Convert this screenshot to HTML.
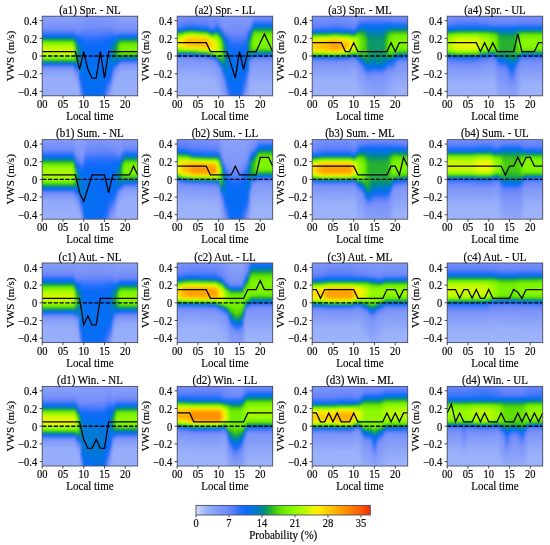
<!DOCTYPE html><html><head><meta charset="utf-8"><style>*{margin:0;padding:0}
body{width:550px;height:545px;background:#fff;position:relative;overflow:hidden;font-family:"Liberation Serif","Times New Roman",serif}
.p{position:absolute;overflow:hidden;width:95.50px;height:79.60px}
.q{position:absolute;top:-3.0px;height:85.60px;filter:blur(0.9px)}
.q i{position:absolute;top:0;height:100%;display:block}
svg{position:absolute;left:0;top:0}
text{font-family:"Liberation Serif","Times New Roman",serif;fill:#000;stroke:#000;stroke-width:0.15px}
</style></head><body><div class="p" style="left:42.20px;top:16.20px"><div class="q" style="left:-3.11px;width:101.73px"><i style="left:0.00px;width:2.38px;background:linear-gradient(#91a8fa,#7891f8 16.7%,#6986f9 20.0%,#597ffa 21.7%,#076cf5 26.7%,#0078d4 28.3%,#008891 30.0%,#29b22c 31.7%,#61e104 33.3%,#7df400 35.0%,#adfa00 38.3%,#cbf900 41.7%,#d3f800 45.0%,#cdf900 46.7%,#a8f900 50.0%,#73f000 53.3%,#43c716 55.0%,#018d80 56.7%,#0077da 58.3%,#176cf9 60.0%,#517cfa 61.7%,#738df9 63.3%,#859df9 66.7%,#97adfa 75.0%,#99affa)"></i><i style="left:2.08px;width:2.38px;background:linear-gradient(#91a8fa,#7891f8 16.7%,#6986f9 20.0%,#597ffa 21.7%,#076cf5 26.7%,#0078d4 28.3%,#008891 30.0%,#29b22c 31.7%,#61e104 33.3%,#7df400 35.0%,#adfa00 38.3%,#cbf900 41.7%,#d3f800 45.0%,#cdf900 46.7%,#a8f900 50.0%,#73f000 53.3%,#43c716 55.0%,#018d80 56.7%,#0077da 58.3%,#176cf9 60.0%,#517cfa 61.7%,#738df9 63.3%,#859df9 66.7%,#97adfa 75.0%,#99affa)"></i><i style="left:4.15px;width:2.38px;background:linear-gradient(#91a8fa,#7891f8 16.7%,#6986f9 20.0%,#597ffa 21.7%,#076cf5 26.7%,#0078d4 28.3%,#008891 30.0%,#29b22c 31.7%,#61e104 33.3%,#7df400 35.0%,#adfa00 38.3%,#cbf900 41.7%,#d3f800 45.0%,#cdf900 46.7%,#a8f900 50.0%,#73f000 53.3%,#43c716 55.0%,#018d80 56.7%,#0077da 58.3%,#176cf9 60.0%,#517cfa 61.7%,#738df9 63.3%,#859df9 66.7%,#97adfa 75.0%,#99affa)"></i><i style="left:6.23px;width:2.38px;background:linear-gradient(#91a8fa,#7891f8 16.7%,#6986f9 20.0%,#597ffa 21.7%,#076cf5 26.7%,#0078d4 28.3%,#008891 30.0%,#29b22c 31.7%,#61e104 33.3%,#7df400 35.0%,#adfa00 38.3%,#cbf900 41.7%,#d3f800 45.0%,#cdf900 46.7%,#a8f900 50.0%,#73f000 53.3%,#43c716 55.0%,#018d80 56.7%,#0077da 58.3%,#176cf9 60.0%,#517cfa 61.7%,#738df9 63.3%,#859df9 66.7%,#97adfa 75.0%,#99affa)"></i><i style="left:8.30px;width:2.38px;background:linear-gradient(#91a8fa,#7891f8 16.7%,#6986f9 20.0%,#597ffa 21.7%,#076cf5 26.7%,#0078d4 28.3%,#008891 30.0%,#29b22c 31.7%,#61e104 33.3%,#7df400 35.0%,#adfa00 38.3%,#cbf900 41.7%,#d3f800 45.0%,#cdf900 46.7%,#a8f900 50.0%,#73f000 53.3%,#43c716 55.0%,#018d80 56.7%,#0077da 58.3%,#176cf9 60.0%,#517cfa 61.7%,#738df9 63.3%,#859df9 66.7%,#97adfa 75.0%,#99affa)"></i><i style="left:10.38px;width:2.38px;background:linear-gradient(#91a8fa,#7891f8 16.7%,#6986f9 20.0%,#597ffa 21.7%,#076cf5 26.7%,#0078d4 28.3%,#008891 30.0%,#29b22c 31.7%,#61e104 33.3%,#7df400 35.0%,#adfa00 38.3%,#cbf900 41.7%,#d3f800 45.0%,#cdf900 46.7%,#a8f900 50.0%,#73f000 53.3%,#43c716 55.0%,#018d80 56.7%,#0077da 58.3%,#176cf9 60.0%,#517cfa 61.7%,#738df9 63.3%,#859df9 66.7%,#97adfa 75.0%,#99affa)"></i><i style="left:12.46px;width:2.38px;background:linear-gradient(#91a8fa,#7891f8 16.7%,#6986f9 20.0%,#597ffa 21.7%,#076cf5 26.7%,#0078d4 28.3%,#008891 30.0%,#29b22c 31.7%,#61e104 33.3%,#7df400 35.0%,#adfa00 38.3%,#cbf900 41.7%,#d3f800 45.0%,#cdf900 46.7%,#a8f900 50.0%,#73f000 53.3%,#43c716 55.0%,#018d80 56.7%,#0077da 58.3%,#176cf9 60.0%,#517cfa 61.7%,#738df9 63.3%,#859df9 66.7%,#97adfa 75.0%,#99affa)"></i><i style="left:14.53px;width:2.38px;background:linear-gradient(#91a8fa,#7891f8 16.7%,#6986f9 20.0%,#597ffa 21.7%,#076cf5 26.7%,#0078d4 28.3%,#008891 30.0%,#29b22c 31.7%,#61e104 33.3%,#7df400 35.0%,#adfa00 38.3%,#cbf900 41.7%,#d3f800 45.0%,#cdf900 46.7%,#a8f900 50.0%,#73f000 53.3%,#43c716 55.0%,#018d80 56.7%,#0077da 58.3%,#176cf9 60.0%,#517cfa 61.7%,#738df9 63.3%,#859df9 66.7%,#97adfa 75.0%,#99affa)"></i><i style="left:16.61px;width:2.38px;background:linear-gradient(#91a8fa,#7891f8 16.7%,#6986f9 20.0%,#597ffa 21.7%,#076cf5 26.7%,#0078d4 28.3%,#008891 30.0%,#29b22c 31.7%,#61e104 33.3%,#7df400 35.0%,#adfa00 38.3%,#cbf900 41.7%,#d3f800 45.0%,#cdf900 46.7%,#a8f900 50.0%,#73f000 53.3%,#43c716 55.0%,#018d80 56.7%,#0077da 58.3%,#176cf9 60.0%,#517cfa 61.7%,#738df9 63.3%,#859df9 66.7%,#97adfa 75.0%,#99affa)"></i><i style="left:18.68px;width:2.38px;background:linear-gradient(#91a8fa,#7891f8 16.7%,#6986f9 20.0%,#597ffa 21.7%,#076cf5 26.7%,#0078d4 28.3%,#008891 30.0%,#29b22c 31.7%,#61e104 33.3%,#7df400 35.0%,#adfa00 38.3%,#cbf900 41.7%,#d3f800 45.0%,#cdf900 46.7%,#a8f900 50.0%,#73f000 53.3%,#43c716 55.0%,#018d80 56.7%,#0077da 58.3%,#176cf9 60.0%,#517cfa 61.7%,#738df9 63.3%,#859df9 66.7%,#97adfa 75.0%,#99affa)"></i><i style="left:20.76px;width:2.38px;background:linear-gradient(#91a8fa,#7891f8 16.7%,#6986f9 20.0%,#597ffa 21.7%,#076cf5 26.7%,#0078d4 28.3%,#008891 30.0%,#29b22c 31.7%,#61e104 33.3%,#7df400 35.0%,#adfa00 38.3%,#cbf900 41.7%,#d3f800 45.0%,#cdf900 46.7%,#a8f900 50.0%,#73f000 53.3%,#43c716 55.0%,#018d80 56.7%,#0077da 58.3%,#176cf9 60.0%,#517cfa 61.7%,#738df9 63.3%,#859df9 66.7%,#97adfa 75.0%,#99affa)"></i><i style="left:22.84px;width:2.38px;background:linear-gradient(#91a8fa,#7891f8 16.7%,#6986f9 20.0%,#597ffa 21.7%,#076cf5 26.7%,#0078d4 28.3%,#008891 30.0%,#29b22c 31.7%,#61e104 33.3%,#7df400 35.0%,#adfa00 38.3%,#cbf900 41.7%,#d3f800 45.0%,#cdf900 46.7%,#a8f900 50.0%,#73f000 53.3%,#43c716 55.0%,#018d80 56.7%,#0077da 58.3%,#176cf9 60.0%,#517cfa 61.7%,#738df9 63.3%,#859df9 66.7%,#97adfa 75.0%,#99affa)"></i><i style="left:24.91px;width:2.38px;background:linear-gradient(#91a8fa,#7891f8 16.7%,#6986f9 20.0%,#597ffa 21.7%,#076cf5 26.7%,#0078d4 28.3%,#008891 30.0%,#29b22c 31.7%,#61e104 33.3%,#7df400 35.0%,#adfa00 38.3%,#cbf900 41.7%,#d3f800 45.0%,#cdf900 46.7%,#a8f900 50.0%,#73f000 53.3%,#43c716 55.0%,#018d80 56.7%,#0077da 58.3%,#176cf9 60.0%,#517cfa 61.7%,#738df9 63.3%,#859df9 66.7%,#97adfa 75.0%,#99affa)"></i><i style="left:26.99px;width:2.38px;background:linear-gradient(#91a8fa,#7891f8 16.7%,#6986f9 20.0%,#597ffa 21.7%,#076cf5 26.7%,#0078d4 28.3%,#008891 30.0%,#29b22c 31.7%,#61e104 33.3%,#7df400 35.0%,#adfa00 38.3%,#cbf900 41.7%,#d3f800 45.0%,#cdf900 46.7%,#a8f900 50.0%,#73f000 53.3%,#43c716 55.0%,#018d80 56.7%,#0077da 58.3%,#176cf9 60.0%,#517cfa 61.7%,#738df9 63.3%,#859df9 66.7%,#97adfa 75.0%,#99affa)"></i><i style="left:29.07px;width:2.38px;background:linear-gradient(#91a8fa,#7891f8 16.7%,#6986f9 20.0%,#597ffa 21.7%,#076cf5 26.7%,#0078d4 28.3%,#008891 30.0%,#29b22c 31.7%,#61e104 33.3%,#7df400 35.0%,#adfa00 38.3%,#cbf900 41.7%,#d3f800 45.0%,#cdf900 46.7%,#a8f900 50.0%,#73f000 53.3%,#43c716 55.0%,#018d80 56.7%,#0077da 58.3%,#176cf9 60.0%,#517cfa 61.7%,#738df9 63.3%,#859df9 66.7%,#97adfa 75.0%,#99affa)"></i><i style="left:31.14px;width:2.38px;background:linear-gradient(#91a8fa,#7891f8 16.7%,#6986f9 20.0%,#597ffa 21.7%,#076cf5 26.7%,#0078d4 28.3%,#008891 30.0%,#29b22c 31.7%,#61e104 33.3%,#7df400 35.0%,#adfa00 38.3%,#cbf900 41.7%,#d3f800 45.0%,#cdf900 46.7%,#a8f900 50.0%,#73f000 53.3%,#43c716 55.0%,#018d80 56.7%,#0077da 58.3%,#176cf9 60.0%,#517cfa 61.7%,#738df9 63.3%,#859df9 66.7%,#97adfa 75.0%,#99affa)"></i><i style="left:33.22px;width:2.38px;background:linear-gradient(#91a8fa,#7891f8 16.7%,#6986f9 20.0%,#597ffa 21.7%,#076cf5 26.7%,#0078d4 28.3%,#008891 30.0%,#29b22c 31.7%,#61e104 33.3%,#7df400 35.0%,#adfa00 38.3%,#cbf900 41.7%,#d3f800 45.0%,#cdf900 46.7%,#a8f900 50.0%,#73f000 53.3%,#43c716 55.0%,#018d80 56.7%,#0077da 58.3%,#176cf9 60.0%,#517cfa 61.7%,#738df9 63.3%,#859df9 66.7%,#97adfa 75.0%,#99affa)"></i><i style="left:35.29px;width:2.38px;background:linear-gradient(#8ca4fa,#7790f8 16.7%,#6081fa 21.7%,#126bf8 26.7%,#0370f1 28.3%,#007ace 30.0%,#00859d 31.7%,#109b61 33.3%,#30b926 35.0%,#51d30a 36.7%,#70ef00 40.0%,#7af300 46.7%,#6ded00 51.7%,#5bdc06 53.3%,#3ec31a 55.0%,#19a44c 56.7%,#008892 58.3%,#007acc 60.0%,#056ef3 61.7%,#216ff9 63.3%,#4c7bfa 65.0%,#6c88f9 66.7%,#8098f9 70.0%,#96acfa 80.0%,#99affa)"></i><i style="left:37.37px;width:2.38px;background:linear-gradient(#8aa2fa,#7891f8 18.3%,#6583fa 23.3%,#0d6af8 30.0%,#046ff2 31.7%,#0075e4 33.3%,#00869c 38.3%,#089471 43.3%,#0d9966 48.3%,#069275 51.7%,#008796 55.0%,#0075e2 60.0%,#046ff2 61.7%,#106bf8 63.3%,#6582fa 68.3%,#7f97f9 73.3%,#96adfa 86.7%,#99affa)"></i><i style="left:39.45px;width:2.38px;background:linear-gradient(#859ef9,#7891f8 16.7%,#6784fa 21.7%,#4679fa 25.0%,#126bf8 30.0%,#0370f1 33.3%,#0074eb 35.0%,#007bc5 40.0%,#0081ae 46.7%,#0081ad 56.7%,#007cc2 63.3%,#0073ee 70.0%,#116bf8 75.0%,#4478fa 80.0%,#6885fa 83.3%,#7c95f8 88.3%,#90a7fa)"></i><i style="left:41.52px;width:2.38px;background:linear-gradient(#879ffa,#7a92f8 16.7%,#5e80fa 23.3%,#226ff9 30.0%,#086bf6 35.0%,#0075e5 50.0%,#0074e8 66.7%,#096af7 81.7%,#2770f9 88.3%,#6885fa 96.7%,#758ff8)"></i><i style="left:43.60px;width:2.38px;background:linear-gradient(#869efa,#7690f8 16.7%,#6683fa 21.7%,#2670f9 30.0%,#096af7 36.7%,#0073ec 63.3%,#0b69f8 93.3%,#216ff9)"></i><i style="left:45.67px;width:2.38px;background:linear-gradient(#859df9,#738df9 16.7%,#6482fa 21.7%,#2a71fa 30.0%,#096af7 38.3%,#0271f0 73.3%,#096af7)"></i><i style="left:47.75px;width:2.38px;background:linear-gradient(#859df9,#738df9 16.7%,#6482fa 21.7%,#2a71fa 30.0%,#096af7 38.3%,#0271f0 73.3%,#096af7)"></i><i style="left:49.83px;width:2.38px;background:linear-gradient(#859df9,#738df9 16.7%,#6482fa 21.7%,#2a71fa 30.0%,#096af7 38.3%,#0271f0 73.3%,#096af7)"></i><i style="left:51.90px;width:2.38px;background:linear-gradient(#859df9,#738df9 16.7%,#6482fa 21.7%,#2a71fa 30.0%,#096af7 38.3%,#0271f0 73.3%,#096af7)"></i><i style="left:53.98px;width:2.38px;background:linear-gradient(#859df9,#738df9 16.7%,#6482fa 21.7%,#2a71fa 30.0%,#096af7 38.3%,#0271f0 73.3%,#096af7)"></i><i style="left:56.05px;width:2.38px;background:linear-gradient(#859df9,#738df9 16.7%,#6482fa 21.7%,#2a71fa 30.0%,#096af7 38.3%,#0271f0 73.3%,#096af7)"></i><i style="left:58.13px;width:2.38px;background:linear-gradient(#859df9,#738df9 16.7%,#6482fa 21.7%,#2a71fa 30.0%,#096af7 38.3%,#0271f0 73.3%,#096af7)"></i><i style="left:60.21px;width:2.38px;background:linear-gradient(#859df9,#738df9 16.7%,#6482fa 21.7%,#2a71fa 30.0%,#096af7 38.3%,#0271f0 73.3%,#096af7)"></i><i style="left:62.28px;width:2.38px;background:linear-gradient(#859ef9,#738df9 16.7%,#6382fa 21.7%,#2870f9 30.0%,#096af7 38.3%,#0271f0 73.3%,#0b69f8 98.3%,#0f6af8)"></i><i style="left:64.36px;width:2.38px;background:linear-gradient(#869efa,#7891f8 15.0%,#5f81fa 21.7%,#2b71fa 28.3%,#0c69f8 35.0%,#0271f0 56.7%,#0c69f8 88.3%,#3774fa)"></i><i style="left:66.43px;width:2.38px;background:linear-gradient(#869ffa,#7891f8 15.0%,#6784fa 20.0%,#2570f9 28.3%,#096af7 35.0%,#0271f0 63.3%,#0d6af8 78.3%,#3474fa 86.7%,#6784fa 93.3%,#7c95f8)"></i><i style="left:68.51px;width:2.38px;background:linear-gradient(#879ffa,#7891f8 15.0%,#6684fa 20.0%,#236ff9 28.3%,#0a69f8 33.3%,#0271f0 58.3%,#0a69f8 73.3%,#3775fa 81.7%,#6583fa 86.7%,#8099f9 95.0%,#88a0fa)"></i><i style="left:70.59px;width:2.38px;background:linear-gradient(#859ef9,#7891f8 15.0%,#6684fa 20.0%,#196df9 28.3%,#086bf6 31.7%,#0074e8 38.3%,#0078d7 46.7%,#0077da 58.3%,#0271f0 66.7%,#0a69f8 71.7%,#3072fa 76.7%,#6684fa 81.7%,#7f98f9 88.3%,#92a9fa)"></i><i style="left:72.66px;width:2.38px;background:linear-gradient(#879ffa,#7790f8 16.7%,#6482fa 21.7%,#116bf8 28.3%,#0172ef 31.7%,#0081ac 38.3%,#008796 43.3%,#008893 50.0%,#0082aa 55.0%,#0271f0 61.7%,#086bf6 63.3%,#2e72fa 66.7%,#6582fa 70.0%,#7e97f9 75.0%,#96acfa 88.3%,#99affa)"></i><i style="left:74.74px;width:2.38px;background:linear-gradient(#8ba3fa,#7891f8 18.3%,#6081fa 23.3%,#196df9 28.3%,#076cf5 30.0%,#0073ee 31.7%,#00859f 36.7%,#089470 41.7%,#0d9867 46.7%,#09956e 48.3%,#008891 51.7%,#007bc5 55.0%,#0075e5 56.7%,#066df4 58.3%,#196df9 60.0%,#5b7ffa 63.3%,#7992f8 66.7%,#95abfa 78.3%,#99affa)"></i><i style="left:76.82px;width:2.38px;background:linear-gradient(#8da5fa,#7790f8 18.3%,#6986fa 21.7%,#5a7ffa 23.3%,#0a69f8 28.3%,#0271f0 30.0%,#008a8b 35.0%,#19a44d 38.3%,#28b22d 41.7%,#29b32c 46.7%,#21ac3b 48.3%,#15a055 50.0%,#049079 51.7%,#0073ed 56.7%,#0a69f8 58.3%,#507cfa 61.7%,#6b88f9 63.3%,#7f98f9 66.7%,#97adfa 78.3%,#99affa)"></i><i style="left:78.89px;width:2.38px;background:linear-gradient(#91a8fa,#7891f8 18.3%,#6885fa 21.7%,#547dfa 23.3%,#156cf9 26.7%,#0271f0 28.3%,#007cc5 30.0%,#00898e 31.7%,#1aa54b 33.3%,#3ac01d 35.0%,#53d509 36.7%,#68e802 40.0%,#6beb01 43.3%,#5bdd06 46.7%,#48cc11 48.3%,#27b130 50.0%,#069176 51.7%,#0073ee 55.0%,#146cf9 56.7%,#6986f9 60.0%,#7992f8 61.7%,#95acfa 71.7%,#99affa)"></i><i style="left:80.97px;width:2.38px;background:linear-gradient(#94aafa,#7992f8 18.3%,#6986f9 21.7%,#557efa 23.3%,#106bf8 26.7%,#0074eb 28.3%,#0081ad 30.0%,#0f9a62 31.7%,#3ac01d 33.3%,#5dde06 35.0%,#6fef00 36.7%,#7af300 41.7%,#73f000 45.0%,#66e703 46.7%,#4cce0e 48.3%,#1faa3f 50.0%,#008894 51.7%,#0077d9 53.3%,#0b69f8 55.0%,#6986f9 58.3%,#7a93f8 60.0%,#94abfa 68.3%,#99affa)"></i><i style="left:83.04px;width:2.38px;background:linear-gradient(#94aafa,#7992f8 18.3%,#6986f9 21.7%,#557efa 23.3%,#106bf8 26.7%,#0074eb 28.3%,#0081ad 30.0%,#0f9a62 31.7%,#3ac01d 33.3%,#5dde06 35.0%,#6fef00 36.7%,#7af300 41.7%,#73f000 45.0%,#66e703 46.7%,#4cce0e 48.3%,#1faa3f 50.0%,#008894 51.7%,#0077d9 53.3%,#0b69f8 55.0%,#6986f9 58.3%,#7a93f8 60.0%,#94abfa 68.3%,#99affa)"></i><i style="left:85.12px;width:2.38px;background:linear-gradient(#94aafa,#7992f8 18.3%,#6986f9 21.7%,#557efa 23.3%,#106bf8 26.7%,#0074eb 28.3%,#0081ad 30.0%,#0f9a62 31.7%,#3ac01d 33.3%,#5dde06 35.0%,#6fef00 36.7%,#7af300 41.7%,#73f000 45.0%,#66e703 46.7%,#4cce0e 48.3%,#1faa3f 50.0%,#008894 51.7%,#0077d9 53.3%,#0b69f8 55.0%,#6986f9 58.3%,#7a93f8 60.0%,#94abfa 68.3%,#99affa)"></i><i style="left:87.20px;width:2.38px;background:linear-gradient(#94aafa,#7992f8 18.3%,#6986f9 21.7%,#557efa 23.3%,#106bf8 26.7%,#0074eb 28.3%,#0081ad 30.0%,#0f9a62 31.7%,#3ac01d 33.3%,#5dde06 35.0%,#6fef00 36.7%,#7af300 41.7%,#73f000 45.0%,#66e703 46.7%,#4cce0e 48.3%,#1faa3f 50.0%,#008894 51.7%,#0077d9 53.3%,#0b69f8 55.0%,#6986f9 58.3%,#7a93f8 60.0%,#94abfa 68.3%,#99affa)"></i><i style="left:89.27px;width:2.38px;background:linear-gradient(#94aafa,#7992f8 18.3%,#6986f9 21.7%,#557efa 23.3%,#106bf8 26.7%,#0074eb 28.3%,#0081ad 30.0%,#0f9a62 31.7%,#3ac01d 33.3%,#5dde06 35.0%,#6fef00 36.7%,#7af300 41.7%,#73f000 45.0%,#66e703 46.7%,#4cce0e 48.3%,#1faa3f 50.0%,#008894 51.7%,#0077d9 53.3%,#0b69f8 55.0%,#6986f9 58.3%,#7a93f8 60.0%,#94abfa 68.3%,#99affa)"></i><i style="left:91.35px;width:2.38px;background:linear-gradient(#94aafa,#7992f8 18.3%,#6986f9 21.7%,#557efa 23.3%,#106bf8 26.7%,#0074eb 28.3%,#0081ad 30.0%,#0f9a62 31.7%,#3ac01d 33.3%,#5dde06 35.0%,#6fef00 36.7%,#7af300 41.7%,#73f000 45.0%,#66e703 46.7%,#4cce0e 48.3%,#1faa3f 50.0%,#008894 51.7%,#0077d9 53.3%,#0b69f8 55.0%,#6986f9 58.3%,#7a93f8 60.0%,#94abfa 68.3%,#99affa)"></i><i style="left:93.42px;width:2.38px;background:linear-gradient(#94aafa,#7992f8 18.3%,#6986f9 21.7%,#557efa 23.3%,#106bf8 26.7%,#0074eb 28.3%,#0081ad 30.0%,#0f9a62 31.7%,#3ac01d 33.3%,#5dde06 35.0%,#6fef00 36.7%,#7af300 41.7%,#73f000 45.0%,#66e703 46.7%,#4cce0e 48.3%,#1faa3f 50.0%,#008894 51.7%,#0077d9 53.3%,#0b69f8 55.0%,#6986f9 58.3%,#7a93f8 60.0%,#94abfa 68.3%,#99affa)"></i><i style="left:95.50px;width:2.38px;background:linear-gradient(#94aafa,#7992f8 18.3%,#6986f9 21.7%,#557efa 23.3%,#106bf8 26.7%,#0074eb 28.3%,#0081ad 30.0%,#0f9a62 31.7%,#3ac01d 33.3%,#5dde06 35.0%,#6fef00 36.7%,#7af300 41.7%,#73f000 45.0%,#66e703 46.7%,#4cce0e 48.3%,#1faa3f 50.0%,#008894 51.7%,#0077d9 53.3%,#0b69f8 55.0%,#6986f9 58.3%,#7a93f8 60.0%,#94abfa 68.3%,#99affa)"></i><i style="left:97.58px;width:2.38px;background:linear-gradient(#94aafa,#7992f8 18.3%,#6986f9 21.7%,#557efa 23.3%,#106bf8 26.7%,#0074eb 28.3%,#0081ad 30.0%,#0f9a62 31.7%,#3ac01d 33.3%,#5dde06 35.0%,#6fef00 36.7%,#7af300 41.7%,#73f000 45.0%,#66e703 46.7%,#4cce0e 48.3%,#1faa3f 50.0%,#008894 51.7%,#0077d9 53.3%,#0b69f8 55.0%,#6986f9 58.3%,#7a93f8 60.0%,#94abfa 68.3%,#99affa)"></i><i style="left:99.65px;width:2.38px;background:linear-gradient(#94aafa,#7992f8 18.3%,#6986f9 21.7%,#557efa 23.3%,#106bf8 26.7%,#0074eb 28.3%,#0081ad 30.0%,#0f9a62 31.7%,#3ac01d 33.3%,#5dde06 35.0%,#6fef00 36.7%,#7af300 41.7%,#73f000 45.0%,#66e703 46.7%,#4cce0e 48.3%,#1faa3f 50.0%,#008894 51.7%,#0077d9 53.3%,#0b69f8 55.0%,#6986f9 58.3%,#7a93f8 60.0%,#94abfa 68.3%,#99affa)"></i></div></div>
<div class="p" style="left:177.20px;top:16.20px"><div class="q" style="left:-3.11px;width:101.73px"><i style="left:0.00px;width:2.38px;background:linear-gradient(#8099f9,#6a87f9 13.3%,#6482fa 15.0%,#4d7bfa 16.7%,#076cf5 20.0%,#007cc2 21.7%,#16a153 23.3%,#60e105 25.0%,#84f700 26.7%,#caf900 30.0%,#e0f700 31.7%,#edf600 35.0%,#e4f700 38.3%,#cdf900 40.0%,#7ef500 43.3%,#46ca13 45.0%,#00859f 46.7%,#076cf5 48.3%,#3e77fa 50.0%,#6a87f9 51.7%,#7891f8 53.3%,#99affa 73.3%,#9db3fa)"></i><i style="left:2.08px;width:2.38px;background:linear-gradient(#8099f9,#6a87f9 13.3%,#6482fa 15.0%,#4d7bfa 16.7%,#076cf5 20.0%,#007cc2 21.7%,#16a153 23.3%,#60e105 25.0%,#84f700 26.7%,#caf900 30.0%,#e0f700 31.7%,#edf600 35.0%,#e4f700 38.3%,#cdf900 40.0%,#7ef500 43.3%,#46ca13 45.0%,#00859f 46.7%,#076cf5 48.3%,#3e77fa 50.0%,#6a87f9 51.7%,#7891f8 53.3%,#99affa 73.3%,#9db3fa)"></i><i style="left:4.15px;width:2.38px;background:linear-gradient(#8099f9,#6e89f9 11.7%,#6181fa 15.0%,#497afa 16.7%,#066df4 20.0%,#007eba 21.7%,#1da745 23.3%,#67e702 25.0%,#89f800 26.7%,#d2f800 30.0%,#e8f700 31.7%,#f4f600 35.0%,#eaf600 38.3%,#d3f800 40.0%,#80f500 43.3%,#47cb12 45.0%,#00859f 46.7%,#076cf5 48.3%,#3f77fa 50.0%,#6a87f9 51.7%,#7891f8 53.3%,#99affa 73.3%,#9db3fa)"></i><i style="left:6.23px;width:2.38px;background:linear-gradient(#7f98f9,#6b88f9 11.7%,#6684fa 13.3%,#597ffa 15.0%,#3f77fa 16.7%,#1d6ef9 18.3%,#0271f0 20.0%,#0084a1 21.7%,#32ba24 23.3%,#74f000 25.0%,#c3f900 28.3%,#e7f700 30.0%,#fcf500 31.7%,#fff100 36.7%,#fbf500 38.3%,#e1f700 40.0%,#83f600 43.3%,#4acd0f 45.0%,#00859f 46.7%,#076cf5 48.3%,#3f77fa 50.0%,#6a87f9 51.7%,#7891f8 53.3%,#99affa 73.3%,#9db3fa)"></i><i style="left:8.30px;width:2.38px;background:linear-gradient(#7e97f9,#6885fa 11.7%,#6181fa 13.3%,#4e7bfa 15.0%,#0e6af8 18.3%,#0077db 20.0%,#038f7c 21.7%,#53d509 23.3%,#82f600 25.0%,#e1f700 28.3%,#fff200 30.0%,#ffdf00 33.3%,#ffe000 36.7%,#ffe900 38.3%,#f3f600 40.0%,#86f800 43.3%,#4dd00c 45.0%,#00859f 46.7%,#076cf5 48.3%,#4077fa 50.0%,#6a87f9 51.7%,#7891f8 53.3%,#99affa 73.3%,#9db3fa)"></i><i style="left:10.38px;width:2.38px;background:linear-gradient(#7d96f9,#6582fa 11.7%,#4278fa 15.0%,#066df4 18.3%,#007dbf 20.0%,#1ca647 21.7%,#6cec01 23.3%,#96f900 25.0%,#fff500 28.3%,#ffde00 30.0%,#ffcd00 33.3%,#ffcf00 36.7%,#ffda00 38.3%,#fff200 40.0%,#caf900 41.7%,#8af800 43.3%,#4fd10b 45.0%,#0084a1 46.7%,#086bf6 48.3%,#4278fa 50.0%,#6a87f9 51.7%,#7c95f8 55.0%,#9ab0fa 75.0%,#9db3fa)"></i><i style="left:12.46px;width:2.38px;background:linear-gradient(#7c95f8,#6784fa 10.0%,#4f7cfa 13.3%,#1c6df9 16.7%,#0370f1 18.3%,#0083a8 20.0%,#30b826 21.7%,#77f200 23.3%,#a7f900 25.0%,#e4f700 26.7%,#ffe600 28.3%,#ffd000 30.0%,#ffc200 33.3%,#ffc400 36.7%,#ffcf00 38.3%,#ffea00 40.0%,#d2f800 41.7%,#8df800 43.3%,#4fd20a 45.0%,#0084a3 46.7%,#086bf6 48.3%,#4378fa 50.0%,#6a87f9 51.7%,#7c95f8 55.0%,#9ab0fa 75.0%,#9db3fa)"></i><i style="left:14.53px;width:2.38px;background:linear-gradient(#7c94f8,#6683fa 10.0%,#4d7bfa 13.3%,#186df9 16.7%,#0172ef 18.3%,#00859f 20.0%,#39bf1e 21.7%,#7af300 23.3%,#aefa00 25.0%,#ecf600 26.7%,#ffe000 28.3%,#ffcb00 30.0%,#ffbd00 33.3%,#ffc000 36.7%,#ffcc00 38.3%,#ffe700 40.0%,#d5f800 41.7%,#8df800 43.3%,#4fd20a 45.0%,#0084a4 46.7%,#086bf6 48.3%,#4378fa 50.0%,#6a87f9 51.7%,#7c95f8 55.0%,#9ab0fa 75.0%,#9db3fa)"></i><i style="left:16.61px;width:2.38px;background:linear-gradient(#7c94f8,#6684fa 10.0%,#4d7bfa 13.3%,#196df9 16.7%,#0172ef 18.3%,#0084a1 20.0%,#37be20 21.7%,#7af300 23.3%,#adfa00 25.0%,#ebf600 26.7%,#ffe100 28.3%,#ffcb00 30.0%,#ffbd00 33.3%,#ffc000 36.7%,#ffcb00 38.3%,#ffe600 40.0%,#d7f800 41.7%,#8ff800 43.3%,#52d409 45.0%,#0084a0 46.7%,#086bf6 48.3%,#4178fa 50.0%,#6a86f9 51.7%,#7c95f8 55.0%,#9ab0fa 75.0%,#9db3fa)"></i><i style="left:18.68px;width:2.38px;background:linear-gradient(#7c95f8,#6684fa 10.0%,#4e7bfa 13.3%,#1b6df9 16.7%,#0271f0 18.3%,#0083a7 20.0%,#31b925 21.7%,#78f200 23.3%,#aaf900 25.0%,#e8f700 26.7%,#ffe200 28.3%,#ffcb00 30.0%,#ffbc00 33.3%,#ffbf00 36.7%,#ffc900 38.3%,#ffe200 40.0%,#ddf700 41.7%,#95f900 43.3%,#58da07 45.0%,#008797 46.7%,#066df4 48.3%,#3d76fa 50.0%,#6986fa 51.7%,#7c95f8 55.0%,#9ab0fa 75.0%,#9db3fa)"></i><i style="left:20.76px;width:2.38px;background:linear-gradient(#7c95f8,#6684fa 10.0%,#4f7cfa 13.3%,#1d6ef9 16.7%,#046ff2 18.3%,#0081af 20.0%,#29b32c 21.7%,#74f100 23.3%,#a5f900 25.0%,#e4f700 26.7%,#ffe300 28.3%,#ffcc00 30.0%,#ffbb00 33.3%,#ffbd00 36.7%,#ffc700 38.3%,#ffde00 40.0%,#e6f700 41.7%,#9df900 43.3%,#62e304 45.0%,#008b87 46.7%,#046ff2 48.3%,#3674fa 50.0%,#6784fa 51.7%,#7b94f8 55.0%,#9ab0fa 75.0%,#9db3fa)"></i><i style="left:22.84px;width:2.38px;background:linear-gradient(#7c95f8,#6784fa 10.0%,#507cfa 13.3%,#216ff9 16.7%,#056ef3 18.3%,#007eb9 20.0%,#21ab3c 21.7%,#71ef00 23.3%,#a0f900 25.0%,#def700 26.7%,#ffe500 28.3%,#ffcc00 30.0%,#ffba00 33.3%,#ffbb00 36.7%,#ffc300 38.3%,#ffd800 40.0%,#f0f600 41.7%,#a7f900 43.3%,#6ded00 45.0%,#099470 46.7%,#0172ef 48.3%,#2e72fa 50.0%,#6482fa 51.7%,#7b93f8 55.0%,#9ab0fa 75.0%,#9db3fa)"></i><i style="left:24.91px;width:2.38px;background:linear-gradient(#7c95f8,#6081fa 11.7%,#3e77fa 15.0%,#066df4 18.3%,#007cc2 20.0%,#19a44c 21.7%,#6cec01 23.3%,#9af900 25.0%,#d9f800 26.7%,#ffe800 28.3%,#ffcd00 30.0%,#ffbf00 31.7%,#ffb900 36.7%,#ffc000 38.3%,#ffd300 40.0%,#faf500 41.7%,#b0fa00 43.3%,#74f000 45.0%,#15a055 46.7%,#0075e3 48.3%,#2770f9 50.0%,#5f81fa 51.7%,#718cf9 53.3%,#849df9 60.0%,#9bb1fa 76.7%,#9db3fa)"></i><i style="left:26.99px;width:2.38px;background:linear-gradient(#7c95f8,#6181fa 11.7%,#4077fa 15.0%,#086bf6 18.3%,#007bc9 20.0%,#139e5a 21.7%,#66e603 23.3%,#95f900 25.0%,#d4f800 26.7%,#ffea00 28.3%,#ffce00 30.0%,#ffbf00 31.7%,#ffb600 35.0%,#ffbe00 38.3%,#ffcf00 40.0%,#fff200 41.7%,#b8fa00 43.3%,#79f200 45.0%,#20aa3f 46.7%,#0078d7 48.3%,#206ff9 50.0%,#5a7ffa 51.7%,#708bf9 53.3%,#819af9 58.3%,#9bb0fa 76.7%,#9db3fa)"></i><i style="left:29.07px;width:2.38px;background:linear-gradient(#7c95f8,#6181fa 11.7%,#4177fa 15.0%,#086bf6 18.3%,#007ace 20.0%,#0f9a63 21.7%,#62e304 23.3%,#92f800 25.0%,#d0f800 26.7%,#ffeb00 28.3%,#ffce00 30.0%,#ffbe00 31.7%,#ffb500 35.0%,#ffbc00 38.3%,#ffcd00 40.0%,#ffef00 41.7%,#befa00 43.3%,#7df400 45.0%,#27b12f 46.7%,#007acf 48.3%,#1c6df9 50.0%,#567efa 51.7%,#6f8af9 53.3%,#7d96f9 56.7%,#9bb0fa 76.7%,#9db3fa)"></i><i style="left:31.14px;width:2.38px;background:linear-gradient(#7c95f8,#6181fa 11.7%,#4178fa 15.0%,#096af7 18.3%,#0079cf 20.0%,#0d9966 21.7%,#60e105 23.3%,#91f800 25.0%,#cff800 26.7%,#ffec00 28.3%,#ffce00 30.0%,#ffbe00 31.7%,#ffb500 35.0%,#ffbc00 38.3%,#ffcc00 40.0%,#ffed00 41.7%,#c1f900 43.3%,#7ef400 45.0%,#2ab32b 46.7%,#007acc 48.3%,#1a6df9 50.0%,#547dfa 51.7%,#6f8af9 53.3%,#7d96f9 56.7%,#9bb0fa 76.7%,#9db3fa)"></i><i style="left:33.22px;width:2.38px;background:linear-gradient(#7e96f9,#6683fa 11.7%,#4c7bfa 15.0%,#176cf9 18.3%,#0073ee 20.0%,#00869a 21.7%,#3dc31a 23.3%,#7cf400 25.0%,#b0fa00 26.7%,#edf600 28.3%,#ffe000 30.0%,#ffcc00 31.7%,#ffbf00 35.0%,#ffc300 38.3%,#ffcf00 40.0%,#ffeb00 41.7%,#cdf900 43.3%,#87f800 45.0%,#45c914 46.7%,#0081af 48.3%,#0b69f8 50.0%,#487afa 51.7%,#6c88f9 53.3%,#7d95f9 56.7%,#9ab0fa 76.7%,#9db3fa)"></i><i style="left:35.29px;width:2.38px;background:linear-gradient(#8098f9,#6c88f9 11.7%,#6081fa 15.0%,#4e7bfa 16.7%,#126bf8 20.0%,#0075e4 21.7%,#008a8a 23.3%,#4ace0f 25.0%,#7ff500 26.7%,#e5f700 30.0%,#ffec00 31.7%,#ffdc00 33.3%,#ffd300 36.7%,#ffdb00 40.0%,#ffed00 41.7%,#dbf800 43.3%,#9ef900 45.0%,#6aea01 46.7%,#0a956d 48.3%,#0073ee 50.0%,#2c72fa 51.7%,#6482fa 53.3%,#7b94f8 56.7%,#9ab0fa 76.7%,#9db3fa)"></i><i style="left:37.37px;width:2.38px;background:linear-gradient(#8199f9,#6b87f9 13.3%,#6683fa 15.0%,#597ffa 16.7%,#4278fa 18.3%,#056ef3 21.7%,#007fb4 23.3%,#23ad38 25.0%,#6fef00 26.7%,#97f900 28.3%,#f3f600 31.7%,#ffea00 33.3%,#ffde00 36.7%,#ffe300 40.0%,#fff000 41.7%,#def700 43.3%,#a6f900 45.0%,#74f000 46.7%,#1da844 48.3%,#0078d5 50.0%,#1f6ef9 51.7%,#5a7ffa 53.3%,#718cf9 55.0%,#829af9 60.0%,#9bb0fa 78.3%,#9db3fa)"></i><i style="left:39.45px;width:2.38px;background:linear-gradient(#7c95f8,#6583fa 13.3%,#557efa 15.0%,#206ff9 18.3%,#066df4 20.0%,#007bc7 21.7%,#079373 23.3%,#47cb12 25.0%,#75f100 26.7%,#b3fa00 30.0%,#d1f800 31.7%,#e7f700 33.3%,#f9f500 36.7%,#f9f500 40.0%,#f0f600 41.7%,#dbf800 43.3%,#8af800 46.7%,#61e204 48.3%,#0c9868 50.0%,#0076df 51.7%,#206ff9 53.3%,#597ffa 55.0%,#708bf9 56.7%,#819af9 61.7%,#9bb0fa 81.7%,#9db3fa)"></i><i style="left:41.52px;width:2.38px;background:linear-gradient(#7a92f8,#6582fa 11.7%,#3d76fa 15.0%,#086bf6 18.3%,#0077dc 20.0%,#00859e 21.7%,#1ca647 23.3%,#52d409 25.0%,#74f000 26.7%,#9ef900 30.0%,#c0f900 33.3%,#d1f800 36.7%,#d0f800 41.7%,#c6f900 43.3%,#b2fa00 45.0%,#78f200 48.3%,#46ca13 50.0%,#008a8b 51.7%,#0073ec 53.3%,#246ff9 55.0%,#597ffa 56.7%,#708bf9 58.3%,#7e97f9 61.7%,#9bb0fa 85.0%,#9db3fa)"></i><i style="left:43.60px;width:2.38px;background:linear-gradient(#7d95f9,#6e8af9 11.7%,#5f80fa 15.0%,#2a71fa 18.3%,#0c69f8 20.0%,#0074ea 21.7%,#0080b1 23.3%,#0b976a 25.0%,#38bf1f 26.7%,#61e204 28.3%,#77f200 30.0%,#9bf900 35.0%,#a5f900 40.0%,#9df900 45.0%,#72ef00 50.0%,#4ed10b 51.7%,#15a056 53.3%,#0080b2 55.0%,#0370f1 56.7%,#226ff9 58.3%,#507cfa 60.0%,#6b88f9 61.7%,#7c95f8 65.0%,#9ab0fa 93.3%,#9cb2fa)"></i><i style="left:45.67px;width:2.38px;background:linear-gradient(#8098f9,#738df9 13.3%,#6684fa 16.7%,#527dfa 18.3%,#166cf9 21.7%,#0370f1 23.3%,#007bc7 25.0%,#00898f 26.7%,#1ca746 28.3%,#43c815 30.0%,#5fe005 31.7%,#70ef00 33.3%,#7ff500 38.3%,#7cf400 46.7%,#6fee00 50.0%,#5bdd06 51.7%,#3bc11c 53.3%,#149f58 55.0%,#00859f 56.7%,#0077da 58.3%,#086bf6 60.0%,#507cfa 63.3%,#6a86f9 65.0%,#7b94f8 68.3%,#99affa)"></i><i style="left:47.75px;width:2.38px;background:linear-gradient(#829bf9,#7891f8 15.0%,#6281fa 20.0%,#0d6af8 25.0%,#0271f0 26.7%,#028e7e 31.7%,#17a251 33.3%,#27b22e 35.0%,#40c518 38.3%,#49cd10 45.0%,#3bc11c 51.7%,#25b033 55.0%,#008891 60.0%,#0172ef 65.0%,#086bf6 66.7%,#6684fa 73.3%,#7b94f8 78.3%,#8ea5fa)"></i><i style="left:49.83px;width:2.38px;background:linear-gradient(#869efa,#7992f8 18.3%,#6181fa 23.3%,#186cf9 28.3%,#086bf6 30.0%,#0172ef 31.7%,#007fb5 36.7%,#00859f 40.0%,#008796 46.7%,#0084a0 55.0%,#007cc3 61.7%,#0073ee 66.7%,#086bf6 70.0%,#3173fa 75.0%,#6683fa 80.0%,#7b94f8 86.7%,#87a0fa)"></i><i style="left:51.90px;width:2.38px;background:linear-gradient(#859df9,#7891f8 18.3%,#6683fa 23.3%,#126bf8 31.7%,#0172ef 36.7%,#007bc8 43.3%,#007dbe 51.7%,#007bc7 63.3%,#0370f1 75.0%,#116bf8 80.0%,#4178fa 86.7%,#6784fa 91.7%,#7c95f8)"></i><i style="left:53.98px;width:2.38px;background:linear-gradient(#859df9,#7891f8 18.3%,#6582fa 25.0%,#236ff9 33.3%,#096af7 38.3%,#0075e4 53.3%,#0074e9 70.0%,#0b69f8 85.0%,#3c76fa 95.0%,#5e80fa)"></i><i style="left:56.05px;width:2.38px;background:linear-gradient(#849cf9,#7790f8 18.3%,#6683fa 25.0%,#1b6df9 36.7%,#086bf6 41.7%,#0073ec 65.0%,#0a69f8 88.3%,#3a75fa)"></i><i style="left:58.13px;width:2.38px;background:linear-gradient(#849cf9,#738df8 20.0%,#6181fa 26.7%,#2570f9 36.7%,#086bf6 45.0%,#0370f1 76.7%,#0e6af8 93.3%,#2470f9)"></i><i style="left:60.21px;width:2.38px;background:linear-gradient(#849cf9,#738df8 20.0%,#6181fa 26.7%,#2570f9 36.7%,#086bf6 45.0%,#0370f1 76.7%,#0e6af8 93.3%,#2470f9)"></i><i style="left:62.28px;width:2.38px;background:linear-gradient(#849cf9,#738df8 20.0%,#6181fa 26.7%,#2570f9 36.7%,#086bf6 45.0%,#0370f1 76.7%,#0e6af8 93.3%,#2470f9)"></i><i style="left:64.36px;width:2.38px;background:linear-gradient(#849cf9,#738df8 20.0%,#6181fa 26.7%,#2570f9 36.7%,#086bf6 45.0%,#0370f1 76.7%,#0e6af8 93.3%,#2470f9)"></i><i style="left:66.43px;width:2.38px;background:linear-gradient(#849df9,#748ef8 20.0%,#6081fa 26.7%,#236ff9 36.7%,#0a69f8 43.3%,#0370f1 71.7%,#0c6af8 86.7%,#3b76fa 98.3%,#4478fa)"></i><i style="left:68.51px;width:2.38px;background:linear-gradient(#859ef9,#758ef8 20.0%,#5e80fa 26.7%,#2670f9 35.0%,#0b69f8 41.7%,#066df4 66.7%,#0d6af8 75.0%,#3072fa 83.3%,#6784fa 91.7%,#7b94f8)"></i><i style="left:70.59px;width:2.38px;background:linear-gradient(#869efa,#7992f8 18.3%,#6684fa 25.0%,#236ff9 35.0%,#0a69f8 41.7%,#096af7 66.7%,#1d6ef9 73.3%,#4779fa 80.0%,#6382fa 83.3%,#7b94f8 91.7%,#859df9)"></i><i style="left:72.66px;width:2.38px;background:linear-gradient(#849cf9,#7891f8 15.0%,#6683fa 20.0%,#0a69f8 28.3%,#0073ee 31.7%,#007cc4 36.7%,#0081af 41.7%,#0081ad 51.7%,#007cc3 56.7%,#0172ef 61.7%,#106bf8 65.0%,#6784fa 71.7%,#7c95f8 76.7%,#92a9fa)"></i><i style="left:74.74px;width:2.38px;background:linear-gradient(#839bf9,#7992f8 13.3%,#6081fa 18.3%,#096af7 23.3%,#0073ec 25.0%,#0084a1 28.3%,#008c81 30.0%,#109c5f 31.7%,#1ca647 33.3%,#26b130 36.7%,#27b130 41.7%,#22ac3b 43.3%,#17a252 45.0%,#049079 46.7%,#0078d4 50.0%,#066df4 51.7%,#2770f9 53.3%,#547dfa 55.0%,#6e89f9 56.7%,#7f97f9 60.0%,#9ab0fa 85.0%,#9db3fa)"></i><i style="left:76.82px;width:2.38px;background:linear-gradient(#7e97f9,#728df9 10.0%,#6181fa 13.3%,#0a69f8 18.3%,#0073ec 20.0%,#008890 23.3%,#2cb52a 26.7%,#43c815 28.3%,#53d509 30.0%,#62e304 35.0%,#5fe005 40.0%,#57d908 41.7%,#45c914 43.3%,#25af34 45.0%,#028d7f 46.7%,#007dbf 48.3%,#046ff2 50.0%,#236ff9 51.7%,#537dfa 53.3%,#6e89f9 55.0%,#7e97f9 58.3%,#9ab0fa 83.3%,#9db3fa)"></i><i style="left:78.89px;width:2.38px;background:linear-gradient(#7992f8,#6a87f9 6.7%,#6281fa 8.3%,#106af8 13.3%,#0271f0 15.0%,#007cc5 16.7%,#008990 18.3%,#19a44c 20.0%,#3dc31a 21.7%,#5bdc06 23.3%,#6eee00 25.0%,#7ef500 30.0%,#7cf400 38.3%,#75f100 40.0%,#66e703 41.7%,#44c815 43.3%,#129d5c 45.0%,#0080b3 46.7%,#0370f1 48.3%,#2570f9 50.0%,#557efa 51.7%,#6f8af9 53.3%,#7e97f9 56.7%,#9ab0fa 81.7%,#9db3fa)"></i><i style="left:80.97px;width:2.38px;background:linear-gradient(#7992f8,#6a87f9 6.7%,#6281fa 8.3%,#106af8 13.3%,#0271f0 15.0%,#007cc5 16.7%,#008990 18.3%,#19a44c 20.0%,#3dc31a 21.7%,#5bdc06 23.3%,#6eee00 25.0%,#7ef500 30.0%,#7cf400 38.3%,#75f100 40.0%,#66e703 41.7%,#44c815 43.3%,#129d5c 45.0%,#0080b3 46.7%,#0370f1 48.3%,#2570f9 50.0%,#557efa 51.7%,#6f8af9 53.3%,#7e97f9 56.7%,#9ab0fa 81.7%,#9db3fa)"></i><i style="left:83.04px;width:2.38px;background:linear-gradient(#7992f8,#6a87f9 6.7%,#6281fa 8.3%,#106af8 13.3%,#0271f0 15.0%,#007cc5 16.7%,#008990 18.3%,#19a44c 20.0%,#3dc31a 21.7%,#5bdc06 23.3%,#6eee00 25.0%,#7ef500 30.0%,#7cf400 38.3%,#75f100 40.0%,#66e703 41.7%,#44c815 43.3%,#129d5c 45.0%,#0080b3 46.7%,#0370f1 48.3%,#2570f9 50.0%,#557efa 51.7%,#6f8af9 53.3%,#7e97f9 56.7%,#9ab0fa 81.7%,#9db3fa)"></i><i style="left:85.12px;width:2.38px;background:linear-gradient(#7992f8,#6a87f9 6.7%,#6281fa 8.3%,#106af8 13.3%,#0271f0 15.0%,#007cc5 16.7%,#008990 18.3%,#19a44c 20.0%,#3dc31a 21.7%,#5bdc06 23.3%,#6eee00 25.0%,#7ef500 30.0%,#7cf400 38.3%,#75f100 40.0%,#66e703 41.7%,#44c815 43.3%,#129d5c 45.0%,#0080b3 46.7%,#0370f1 48.3%,#2570f9 50.0%,#557efa 51.7%,#6f8af9 53.3%,#7e97f9 56.7%,#9ab0fa 81.7%,#9db3fa)"></i><i style="left:87.20px;width:2.38px;background:linear-gradient(#7992f8,#6a87f9 6.7%,#6281fa 8.3%,#106af8 13.3%,#0271f0 15.0%,#007cc5 16.7%,#008990 18.3%,#19a44c 20.0%,#3dc31a 21.7%,#5bdc06 23.3%,#6eee00 25.0%,#7ef500 30.0%,#7cf400 38.3%,#75f100 40.0%,#66e703 41.7%,#44c815 43.3%,#129d5c 45.0%,#0080b3 46.7%,#0370f1 48.3%,#2570f9 50.0%,#557efa 51.7%,#6f8af9 53.3%,#7e97f9 56.7%,#9ab0fa 81.7%,#9db3fa)"></i><i style="left:89.27px;width:2.38px;background:linear-gradient(#7992f8,#6a87f9 6.7%,#6281fa 8.3%,#106af8 13.3%,#0271f0 15.0%,#007cc5 16.7%,#008990 18.3%,#19a44c 20.0%,#3dc31a 21.7%,#5bdc06 23.3%,#6eee00 25.0%,#7ef500 30.0%,#7cf400 38.3%,#75f100 40.0%,#66e703 41.7%,#44c815 43.3%,#129d5c 45.0%,#0080b3 46.7%,#0370f1 48.3%,#2570f9 50.0%,#557efa 51.7%,#6f8af9 53.3%,#7e97f9 56.7%,#9ab0fa 81.7%,#9db3fa)"></i><i style="left:91.35px;width:2.38px;background:linear-gradient(#7992f8,#6a87f9 6.7%,#6281fa 8.3%,#106af8 13.3%,#0271f0 15.0%,#007cc5 16.7%,#008990 18.3%,#19a44c 20.0%,#3dc31a 21.7%,#5bdc06 23.3%,#6eee00 25.0%,#7ef500 30.0%,#7cf400 38.3%,#75f100 40.0%,#66e703 41.7%,#44c815 43.3%,#129d5c 45.0%,#0080b3 46.7%,#0370f1 48.3%,#2570f9 50.0%,#557efa 51.7%,#6f8af9 53.3%,#7e97f9 56.7%,#9ab0fa 81.7%,#9db3fa)"></i><i style="left:93.42px;width:2.38px;background:linear-gradient(#7992f8,#6a87f9 6.7%,#6281fa 8.3%,#106af8 13.3%,#0271f0 15.0%,#007cc5 16.7%,#008990 18.3%,#19a44c 20.0%,#3dc31a 21.7%,#5bdc06 23.3%,#6eee00 25.0%,#7ef500 30.0%,#7cf400 38.3%,#75f100 40.0%,#66e703 41.7%,#44c815 43.3%,#129d5c 45.0%,#0080b3 46.7%,#0370f1 48.3%,#2570f9 50.0%,#557efa 51.7%,#6f8af9 53.3%,#7e97f9 56.7%,#9ab0fa 81.7%,#9db3fa)"></i><i style="left:95.50px;width:2.38px;background:linear-gradient(#7992f8,#6a87f9 6.7%,#6281fa 8.3%,#106af8 13.3%,#0271f0 15.0%,#007cc5 16.7%,#008990 18.3%,#19a44c 20.0%,#3dc31a 21.7%,#5bdc06 23.3%,#6eee00 25.0%,#7ef500 30.0%,#7cf400 38.3%,#75f100 40.0%,#66e703 41.7%,#44c815 43.3%,#129d5c 45.0%,#0080b3 46.7%,#0370f1 48.3%,#2570f9 50.0%,#557efa 51.7%,#6f8af9 53.3%,#7e97f9 56.7%,#9ab0fa 81.7%,#9db3fa)"></i><i style="left:97.58px;width:2.38px;background:linear-gradient(#7992f8,#6a87f9 6.7%,#6281fa 8.3%,#106af8 13.3%,#0271f0 15.0%,#007cc5 16.7%,#008990 18.3%,#19a44c 20.0%,#3dc31a 21.7%,#5bdc06 23.3%,#6eee00 25.0%,#7ef500 30.0%,#7cf400 38.3%,#75f100 40.0%,#66e703 41.7%,#44c815 43.3%,#129d5c 45.0%,#0080b3 46.7%,#0370f1 48.3%,#2570f9 50.0%,#557efa 51.7%,#6f8af9 53.3%,#7e97f9 56.7%,#9ab0fa 81.7%,#9db3fa)"></i><i style="left:99.65px;width:2.38px;background:linear-gradient(#7992f8,#6a87f9 6.7%,#6281fa 8.3%,#106af8 13.3%,#0271f0 15.0%,#007cc5 16.7%,#008990 18.3%,#19a44c 20.0%,#3dc31a 21.7%,#5bdc06 23.3%,#6eee00 25.0%,#7ef500 30.0%,#7cf400 38.3%,#75f100 40.0%,#66e703 41.7%,#44c815 43.3%,#129d5c 45.0%,#0080b3 46.7%,#0370f1 48.3%,#2570f9 50.0%,#557efa 51.7%,#6f8af9 53.3%,#7e97f9 56.7%,#9ab0fa 81.7%,#9db3fa)"></i></div></div>
<div class="p" style="left:312.20px;top:16.20px"><div class="q" style="left:-3.11px;width:101.73px"><i style="left:0.00px;width:2.38px;background:linear-gradient(#8199f9,#6986f9 13.3%,#6582fa 15.0%,#4278fa 18.3%,#076cf5 21.7%,#007dc0 23.3%,#1ba54a 25.0%,#6beb01 26.7%,#95f900 28.3%,#fff500 31.7%,#ffde00 33.3%,#ffd200 35.0%,#ffcf00 40.0%,#ffda00 41.7%,#fff100 43.3%,#cbf900 45.0%,#8bf800 46.7%,#51d30a 48.3%,#00859f 50.0%,#076cf5 51.7%,#4177fa 53.3%,#6a87f9 55.0%,#7c95f8 58.3%,#9ab0fa 78.3%,#9db3fa)"></i><i style="left:2.08px;width:2.38px;background:linear-gradient(#8199f9,#6986f9 13.3%,#6582fa 15.0%,#4278fa 18.3%,#076cf5 21.7%,#007dc0 23.3%,#1ba54a 25.0%,#6beb01 26.7%,#95f900 28.3%,#fff500 31.7%,#ffde00 33.3%,#ffd200 35.0%,#ffcf00 40.0%,#ffda00 41.7%,#fff100 43.3%,#cbf900 45.0%,#8bf800 46.7%,#51d30a 48.3%,#00859f 50.0%,#076cf5 51.7%,#4177fa 53.3%,#6a87f9 55.0%,#7c95f8 58.3%,#9ab0fa 78.3%,#9db3fa)"></i><i style="left:4.15px;width:2.38px;background:linear-gradient(#8199f9,#6986f9 13.3%,#6482fa 15.0%,#4278fa 18.3%,#066df4 21.7%,#007dbf 23.3%,#1ba648 25.0%,#6cec01 26.7%,#96f900 28.3%,#fff400 31.7%,#ffdd00 33.3%,#ffd100 35.0%,#ffce00 40.0%,#ffd800 41.7%,#fff000 43.3%,#cdf900 45.0%,#8cf800 46.7%,#51d30a 48.3%,#00859e 50.0%,#076cf5 51.7%,#4077fa 53.3%,#6a86f9 55.0%,#7c95f8 58.3%,#9ab0fa 78.3%,#9db3fa)"></i><i style="left:6.23px;width:2.38px;background:linear-gradient(#8099f9,#6d89f9 11.7%,#6482fa 15.0%,#4077fa 18.3%,#066df4 21.7%,#007dbc 23.3%,#1ea842 25.0%,#6eee00 26.7%,#99f900 28.3%,#d2f800 30.0%,#fff100 31.7%,#ffda00 33.3%,#ffce00 35.0%,#ffcb00 40.0%,#ffd500 41.7%,#ffed00 43.3%,#d1f800 45.0%,#8ff800 46.7%,#54d609 48.3%,#00869b 50.0%,#076cf5 51.7%,#3f77fa 53.3%,#6986f9 55.0%,#7c95f8 58.3%,#9ab0fa 78.3%,#9db3fa)"></i><i style="left:8.30px;width:2.38px;background:linear-gradient(#8099f9,#6c88f9 11.7%,#6281fa 15.0%,#3e77fa 18.3%,#056ef3 21.7%,#007fb8 23.3%,#21ac3b 25.0%,#70ef00 26.7%,#9df900 28.3%,#d7f800 30.0%,#ffed00 31.7%,#ffd600 33.3%,#ffc600 36.7%,#ffc700 40.0%,#ffd100 41.7%,#ffe900 43.3%,#d6f800 45.0%,#92f800 46.7%,#57d908 48.3%,#008796 50.0%,#066df4 51.7%,#3c76fa 53.3%,#6986fa 55.0%,#7c95f8 58.3%,#9ab0fa 78.3%,#9db3fa)"></i><i style="left:10.38px;width:2.38px;background:linear-gradient(#8099f9,#6c88f9 11.7%,#6081fa 15.0%,#3c76fa 18.3%,#046ff2 21.7%,#0080b4 23.3%,#25af34 25.0%,#72f000 26.7%,#a0f900 28.3%,#dcf700 30.0%,#ffe900 31.7%,#ffd200 33.3%,#ffc200 36.7%,#ffc300 40.0%,#ffcd00 41.7%,#ffe500 43.3%,#dcf800 45.0%,#96f900 46.7%,#5bdc06 48.3%,#008892 50.0%,#056ef3 51.7%,#6885fa 55.0%,#7c94f8 58.3%,#9ab0fa 78.3%,#9db3fa)"></i><i style="left:12.46px;width:2.38px;background:linear-gradient(#8098f9,#6b87f9 11.7%,#5f81fa 15.0%,#3b76fa 18.3%,#1e6ef9 20.0%,#046ff2 21.7%,#0080b1 23.3%,#27b12e 25.0%,#74f000 26.7%,#a3f900 28.3%,#e0f700 30.0%,#ffe600 31.7%,#ffcf00 33.3%,#ffbf00 36.7%,#ffc000 40.0%,#ffca00 41.7%,#ffe200 43.3%,#dff700 45.0%,#98f900 46.7%,#5dde06 48.3%,#00898e 50.0%,#056ef3 51.7%,#3975fa 53.3%,#6885fa 55.0%,#7c94f8 58.3%,#9ab0fa 78.3%,#9db3fa)"></i><i style="left:14.53px;width:2.38px;background:linear-gradient(#8098f9,#6b87f9 11.7%,#5f80fa 15.0%,#3a75fa 18.3%,#1e6ef9 20.0%,#046ff2 21.7%,#0081b0 23.3%,#28b22d 25.0%,#74f000 26.7%,#a4f900 28.3%,#e2f700 30.0%,#ffe500 31.7%,#ffce00 33.3%,#ffbe00 36.7%,#ffbf00 40.0%,#ffc900 41.7%,#ffe100 43.3%,#e1f700 45.0%,#99f900 46.7%,#5edf05 48.3%,#00898d 50.0%,#056ef3 51.7%,#3875fa 53.3%,#6885fa 55.0%,#7b94f8 58.3%,#9ab0fa 78.3%,#9db3fa)"></i><i style="left:16.61px;width:2.38px;background:linear-gradient(#8098f9,#6b87f9 11.7%,#5e80fa 15.0%,#3975fa 18.3%,#1c6ef9 20.0%,#0370f1 21.7%,#0081ac 23.3%,#2cb52a 25.0%,#76f100 26.7%,#a7f900 28.3%,#e6f700 30.0%,#ffe200 31.7%,#ffcb00 33.3%,#ffbb00 36.7%,#ffbc00 40.0%,#ffc600 41.7%,#ffde00 43.3%,#e5f700 45.0%,#9cf900 46.7%,#61e104 48.3%,#008a8a 50.0%,#046ff2 51.7%,#3774fa 53.3%,#6784fa 55.0%,#7b94f8 58.3%,#9ab0fa 78.3%,#9db3fa)"></i><i style="left:18.68px;width:2.38px;background:linear-gradient(#7f98f9,#6a86f9 11.7%,#5a7ffa 15.0%,#3474fa 18.3%,#196df9 20.0%,#0271f0 21.7%,#0083a4 23.3%,#34bc22 25.0%,#79f300 26.7%,#aefa00 28.3%,#f1f600 30.0%,#ffda00 31.7%,#ffc300 33.3%,#ffb300 36.7%,#ffb400 40.0%,#ffbf00 41.7%,#ffd600 43.3%,#f0f600 45.0%,#a3f900 46.7%,#67e802 48.3%,#018d80 50.0%,#0370f1 51.7%,#3373fa 53.3%,#6683fa 55.0%,#7b94f8 58.3%,#9ab0fa 78.3%,#9db3fa)"></i><i style="left:20.76px;width:2.38px;background:linear-gradient(#7f98f9,#6885fa 11.7%,#567efa 15.0%,#3072fa 18.3%,#146cf9 20.0%,#0073ee 21.7%,#00869a 23.3%,#3fc419 25.0%,#7ef500 26.7%,#b7fa00 28.3%,#fef500 30.0%,#ffd000 31.7%,#ffba00 33.3%,#ffa900 36.7%,#ffab00 40.0%,#ffb500 41.7%,#ffcc00 43.3%,#fdf500 45.0%,#acf900 46.7%,#6fee00 48.3%,#089470 50.0%,#0172ef 51.7%,#2e72fa 53.3%,#6482fa 55.0%,#7a93f8 58.3%,#9ab0fa 78.3%,#9db3fa)"></i><i style="left:22.84px;width:2.38px;background:linear-gradient(#7f97f9,#6784fa 11.7%,#537dfa 15.0%,#2d72fa 18.3%,#106bf8 20.0%,#0074e8 21.7%,#008891 23.3%,#47cb12 25.0%,#82f600 26.7%,#c0f900 28.3%,#ffee00 30.0%,#ffc900 31.7%,#ffb200 33.3%,#ffa100 36.7%,#ffa200 40.0%,#ffad00 41.7%,#ffc500 43.3%,#ffef00 45.0%,#b3fa00 46.7%,#73f000 48.3%,#0e9a64 50.0%,#0073ed 51.7%,#2b71fa 53.3%,#6281fa 55.0%,#7a93f8 58.3%,#9ab0fa 78.3%,#9db3fa)"></i><i style="left:24.91px;width:2.38px;background:linear-gradient(#7e97f9,#6684fa 11.7%,#517cfa 15.0%,#2b71fa 18.3%,#0f6af8 20.0%,#0075e5 21.7%,#00898e 23.3%,#4bce0f 25.0%,#84f700 26.7%,#c4f900 28.3%,#ffeb00 30.0%,#ffc600 31.7%,#ffaf00 33.3%,#ff9d00 36.7%,#ff9f00 40.0%,#ffaa00 41.7%,#ffc200 43.3%,#ffec00 45.0%,#b6fa00 46.7%,#74f000 48.3%,#119c5f 50.0%,#0074ea 51.7%,#2a71fa 53.3%,#6081fa 55.0%,#718cf9 56.7%,#849df9 63.3%,#9bb1fa 80.0%,#9db3fa)"></i><i style="left:26.99px;width:2.38px;background:linear-gradient(#7f97f9,#6784fa 11.7%,#537dfa 15.0%,#2d72fa 18.3%,#106bf8 20.0%,#0074e8 21.7%,#008891 23.3%,#47cb12 25.0%,#82f600 26.7%,#c0f900 28.3%,#ffee00 30.0%,#ffc900 31.7%,#ffb200 33.3%,#ffa100 36.7%,#ffa200 40.0%,#ffad00 41.7%,#ffc500 43.3%,#ffef00 45.0%,#b3fa00 46.7%,#73f000 48.3%,#0e9a64 50.0%,#0073ed 51.7%,#2b71fa 53.3%,#6281fa 55.0%,#7a93f8 58.3%,#9ab0fa 78.3%,#9db3fa)"></i><i style="left:29.07px;width:2.38px;background:linear-gradient(#7f98f9,#6885fa 11.7%,#567efa 15.0%,#3072fa 18.3%,#146cf9 20.0%,#0073ee 21.7%,#00869a 23.3%,#3fc419 25.0%,#7ef500 26.7%,#b7fa00 28.3%,#fef500 30.0%,#ffd000 31.7%,#ffba00 33.3%,#ffa900 36.7%,#ffab00 40.0%,#ffb500 41.7%,#ffcc00 43.3%,#fdf500 45.0%,#acf900 46.7%,#6fee00 48.3%,#089470 50.0%,#0172ef 51.7%,#2e72fa 53.3%,#6482fa 55.0%,#7a93f8 58.3%,#9ab0fa 78.3%,#9db3fa)"></i><i style="left:31.14px;width:2.38px;background:linear-gradient(#7f98f9,#6a86f9 11.7%,#5a7ffa 15.0%,#3474fa 18.3%,#196df9 20.0%,#0271f0 21.7%,#0083a4 23.3%,#34bc22 25.0%,#79f300 26.7%,#aefa00 28.3%,#f1f600 30.0%,#ffda00 31.7%,#ffc300 33.3%,#ffb300 36.7%,#ffb400 40.0%,#ffbf00 41.7%,#ffd600 43.3%,#f0f600 45.0%,#a3f900 46.7%,#67e802 48.3%,#018d80 50.0%,#0370f1 51.7%,#3373fa 53.3%,#6683fa 55.0%,#7b94f8 58.3%,#9ab0fa 78.3%,#9db3fa)"></i><i style="left:33.22px;width:2.38px;background:linear-gradient(#8098f9,#6b87f9 11.7%,#5e80fa 15.0%,#3975fa 18.3%,#1c6ef9 20.0%,#0370f1 21.7%,#0081ac 23.3%,#2cb52a 25.0%,#76f100 26.7%,#a7f900 28.3%,#e6f700 30.0%,#ffe200 31.7%,#ffcb00 33.3%,#ffbb00 36.7%,#ffbc00 40.0%,#ffc600 41.7%,#ffde00 43.3%,#e5f700 45.0%,#9cf900 46.7%,#61e104 48.3%,#008a8a 50.0%,#046ff2 51.7%,#3774fa 53.3%,#6784fa 55.0%,#7b94f8 58.3%,#9ab0fa 78.3%,#9db3fa)"></i><i style="left:35.29px;width:2.38px;background:linear-gradient(#8098f9,#6b87f9 11.7%,#5f80fa 15.0%,#3a75fa 18.3%,#1e6ef9 20.0%,#046ff2 21.7%,#0081b0 23.3%,#28b22d 25.0%,#74f000 26.7%,#a4f900 28.3%,#e2f700 30.0%,#ffe500 31.7%,#ffce00 33.3%,#ffbe00 36.7%,#ffbf00 40.0%,#ffc900 41.7%,#ffe100 43.3%,#e1f700 45.0%,#99f900 46.7%,#5edf05 48.3%,#00898d 50.0%,#056ef3 51.7%,#3875fa 53.3%,#6885fa 55.0%,#7b94f8 58.3%,#9ab0fa 78.3%,#9db3fa)"></i><i style="left:37.37px;width:2.38px;background:linear-gradient(#8099f9,#6c88f9 11.7%,#6281fa 15.0%,#3e77fa 18.3%,#056ef3 21.7%,#007fb5 23.3%,#24ae36 25.0%,#71ef00 26.7%,#9ef900 28.3%,#d8f800 30.0%,#ffed00 31.7%,#ffd600 33.3%,#ffc700 36.7%,#ffc900 40.0%,#ffd300 41.7%,#ffec00 43.3%,#d1f800 45.0%,#8ef800 46.7%,#52d409 48.3%,#00859e 50.0%,#076cf5 51.7%,#4077fa 53.3%,#6a86f9 55.0%,#7c95f8 58.3%,#9ab0fa 78.3%,#9db3fa)"></i><i style="left:39.45px;width:2.38px;background:linear-gradient(#819af9,#6b87f9 13.3%,#5c80fa 16.7%,#4679fa 18.3%,#076cf5 21.7%,#007cc2 23.3%,#18a34f 25.0%,#66e703 26.7%,#8ff800 28.3%,#edf600 31.7%,#ffed00 33.3%,#ffde00 36.7%,#ffe100 40.0%,#ffed00 41.7%,#e6f700 43.3%,#aefa00 45.0%,#7af300 46.7%,#2cb52a 48.3%,#007cc4 50.0%,#156cf9 51.7%,#527dfa 53.3%,#6f8af9 55.0%,#7e97f9 58.3%,#9bb0fa 78.3%,#9db3fa)"></i><i style="left:41.52px;width:2.38px;background:linear-gradient(#829af9,#6e8af9 13.3%,#6482fa 16.7%,#4f7cfa 18.3%,#0a69f8 21.7%,#0079d0 23.3%,#0b976a 25.0%,#58d907 26.7%,#82f600 28.3%,#cff800 31.7%,#eaf600 33.3%,#f7f600 35.0%,#fcf500 38.3%,#f6f600 40.0%,#e4f700 41.7%,#bffa00 43.3%,#92f800 45.0%,#66e703 46.7%,#0d9867 48.3%,#0075e6 50.0%,#2870f9 51.7%,#6382fa 53.3%,#748ef8 55.0%,#88a0fa 63.3%,#9cb1fa 80.0%,#9db3fa)"></i><i style="left:43.60px;width:2.38px;background:linear-gradient(#829bf9,#708bf9 13.3%,#6683fa 16.7%,#537dfa 18.3%,#0d6af8 21.7%,#0078d6 23.3%,#069176 25.0%,#52d409 26.7%,#7df400 28.3%,#c3f900 31.7%,#dcf700 33.3%,#e9f700 35.0%,#edf600 38.3%,#e7f700 40.0%,#d4f800 41.7%,#b2fa00 43.3%,#86f800 45.0%,#5adb07 46.7%,#008c81 48.3%,#0172ef 50.0%,#2f72fa 51.7%,#6684fa 53.3%,#768ff8 55.0%,#96acfa 71.7%,#9db3fa)"></i><i style="left:45.67px;width:2.38px;background:linear-gradient(#8098f9,#6c88f9 13.3%,#6684fa 15.0%,#557efa 16.7%,#146bf8 20.0%,#0074e9 21.7%,#00869b 23.3%,#2ab42b 25.0%,#68e902 26.7%,#83f700 28.3%,#b7fa00 31.7%,#c7f900 33.3%,#d2f800 36.7%,#cdf900 40.0%,#bffa00 41.7%,#a7f900 43.3%,#86f800 45.0%,#66e603 46.7%,#1ba648 48.3%,#007cc4 50.0%,#0d6af8 51.7%,#4579fa 53.3%,#6b87f9 55.0%,#7891f8 56.7%,#99affa 78.3%,#9db3fa)"></i><i style="left:47.75px;width:2.38px;background:linear-gradient(#7c94f8,#6d89f9 10.0%,#6784fa 11.7%,#557efa 13.3%,#1a6df9 16.7%,#046ff2 18.3%,#007bc8 20.0%,#008a89 21.7%,#26b031 23.3%,#55d708 25.0%,#71ef00 26.7%,#92f800 31.7%,#9bf900 36.7%,#91f800 41.7%,#79f300 45.0%,#64e503 46.7%,#36bd21 48.3%,#018d7f 50.0%,#007acc 51.7%,#086bf6 53.3%,#5c80fa 56.7%,#6f8af9 58.3%,#7d95f9 61.7%,#9ab0fa 88.3%,#9db2fa)"></i><i style="left:49.83px;width:2.38px;background:linear-gradient(#7b93f8,#6f8bf9 6.7%,#5d80fa 10.0%,#0e6af8 15.0%,#0271f0 16.7%,#007aca 18.3%,#00869c 20.0%,#0d9867 21.7%,#28b22d 23.3%,#46ca13 25.0%,#66e703 28.3%,#72f000 31.7%,#71ef00 41.7%,#6beb01 43.3%,#4acd10 46.7%,#28b22d 48.3%,#09946f 50.0%,#0082a9 51.7%,#0076de 53.3%,#086bf6 55.0%,#6583fa 60.0%,#7c95f8 65.0%,#9aaffa 95.0%,#9bb1fa)"></i><i style="left:51.90px;width:2.38px;background:linear-gradient(#7a93f8,#6c88f9 6.7%,#6583fa 8.3%,#086bf6 15.0%,#0074e9 16.7%,#00869b 20.0%,#099470 21.7%,#1fa940 23.3%,#34bc22 25.0%,#54d609 28.3%,#63e304 35.0%,#5edf05 41.7%,#4ed00c 45.0%,#3bc11c 46.7%,#23ae37 48.3%,#0c9769 50.0%,#008698 51.7%,#0073ec 55.0%,#096af7 56.7%,#5a7ffa 61.7%,#728df9 65.0%,#88a0fa 76.7%,#9ab0fa)"></i><i style="left:53.98px;width:2.38px;background:linear-gradient(#7a93f8,#6b88f9 6.7%,#6482fa 8.3%,#086bf6 15.0%,#0074eb 16.7%,#028e7d 21.7%,#29b32c 25.0%,#48cb11 28.3%,#55d708 31.7%,#58d907 41.7%,#4ed10c 45.0%,#33bb24 48.3%,#21ab3c 50.0%,#00898c 53.3%,#0271f0 58.3%,#0a69f8 60.0%,#577efa 65.0%,#6986fa 66.7%,#7d96f9 71.7%,#97aefa 96.7%,#99affa)"></i><i style="left:56.05px;width:2.38px;background:linear-gradient(#7b93f8,#6a87f9 6.7%,#6081fa 8.3%,#086bf6 15.0%,#0172ef 16.7%,#038f7b 23.3%,#1ea842 26.7%,#27b12f 28.3%,#37be1f 33.3%,#3bc11d 45.0%,#2cb52a 50.0%,#23ad37 51.7%,#0c9769 55.0%,#008a89 56.7%,#0074ea 61.7%,#076cf5 63.3%,#3975fa 66.7%,#597ffa 68.3%,#6b87f9 70.0%,#7e97f9 75.0%,#95abfa)"></i><i style="left:58.13px;width:2.38px;background:linear-gradient(#7b94f8,#6a86f9 6.7%,#5f81fa 8.3%,#0b69f8 15.0%,#0075e4 18.3%,#00859d 23.3%,#059078 26.7%,#129d5c 30.0%,#19a44c 35.0%,#1da745 48.3%,#139e5a 53.3%,#008c82 56.7%,#0080b3 60.0%,#0172ef 63.3%,#096af7 65.0%,#5a7ffa 70.0%,#748ef8 73.3%,#869efa 83.3%,#91a8fa)"></i><i style="left:60.21px;width:2.38px;background:linear-gradient(#7b94f8,#6a86f9 6.7%,#5f81fa 8.3%,#0e6af8 15.0%,#0073ec 18.3%,#008699 25.0%,#0a956d 31.7%,#0f9a62 41.7%,#0c9769 48.3%,#008c83 53.3%,#0085a0 56.7%,#0074e8 61.7%,#126bf8 65.0%,#5e80fa 70.0%,#748ef8 73.3%,#869efa 85.0%,#8fa6fa)"></i><i style="left:62.28px;width:2.38px;background:linear-gradient(#7b94f8,#6a86f9 6.7%,#5f81fa 8.3%,#0e6af8 15.0%,#0073ec 18.3%,#008699 25.0%,#0a956d 31.7%,#0e9965 40.0%,#09956e 46.7%,#008890 53.3%,#0080b0 56.7%,#0370f1 61.7%,#0a69f8 63.3%,#6684fa 70.0%,#7b94f8 75.0%,#8fa6fa)"></i><i style="left:64.36px;width:2.38px;background:linear-gradient(#7b94f8,#6a86f9 6.7%,#5f81fa 8.3%,#0e6af8 15.0%,#0073ec 18.3%,#008699 25.0%,#0a956d 31.7%,#0e9965 40.0%,#079373 48.3%,#008797 55.0%,#007dbf 58.3%,#0271f0 61.7%,#096af7 63.3%,#557dfa 68.3%,#6885fa 70.0%,#7b94f8 75.0%,#8fa6fa)"></i><i style="left:66.43px;width:2.38px;background:linear-gradient(#7b94f8,#6a86f9 6.7%,#5f81fa 8.3%,#0e6af8 15.0%,#0073ec 18.3%,#008699 25.0%,#0a956d 31.7%,#0e9965 40.0%,#079274 51.7%,#008797 56.7%,#007bca 60.0%,#0074ea 61.7%,#076cf5 63.3%,#3574fa 66.7%,#527dfa 68.3%,#6784fa 70.0%,#7b94f8 75.0%,#8fa6fa)"></i><i style="left:68.51px;width:2.38px;background:linear-gradient(#7b94f8,#6a86f9 6.7%,#5f81fa 8.3%,#0e6af8 15.0%,#0073ec 18.3%,#008699 25.0%,#0a956d 31.7%,#0e9965 40.0%,#0a956d 51.7%,#018d7f 55.0%,#0083a5 58.3%,#0075e3 61.7%,#066df4 63.3%,#186cf9 65.0%,#6784fa 70.0%,#7b94f8 75.0%,#8fa6fa)"></i><i style="left:70.59px;width:2.38px;background:linear-gradient(#7b94f8,#6a86f9 6.7%,#5f81fa 8.3%,#0e6af8 15.0%,#0073ec 18.3%,#008699 25.0%,#0a956d 31.7%,#0e9965 40.0%,#069274 51.7%,#008798 56.7%,#007aca 60.0%,#0074ea 61.7%,#076cf5 63.3%,#3574fa 66.7%,#537dfa 68.3%,#6785fa 70.0%,#7b94f8 75.0%,#8fa6fa)"></i><i style="left:72.66px;width:2.38px;background:linear-gradient(#7b94f8,#6a86f9 6.7%,#5f81fa 8.3%,#0e6af8 15.0%,#0073ec 18.3%,#008699 25.0%,#0a956d 31.7%,#0d9965 40.0%,#069275 48.3%,#00869b 55.0%,#007cc3 58.3%,#0370f1 61.7%,#0b69f8 63.3%,#577efa 68.3%,#6985fa 70.0%,#7b94f8 75.0%,#8fa6fa)"></i><i style="left:74.74px;width:2.38px;background:linear-gradient(#7b94f8,#6986f9 6.7%,#5e80fa 8.3%,#0a69f8 15.0%,#0370f1 16.7%,#0076e0 18.3%,#008797 23.3%,#008b84 25.0%,#109c5f 28.3%,#1ca647 33.3%,#1ca647 41.7%,#139e59 46.7%,#008c84 51.7%,#007dbf 56.7%,#0271f0 60.0%,#096af7 61.7%,#6684fa 68.3%,#7b94f8 73.3%,#91a8fa)"></i><i style="left:76.82px;width:2.38px;background:linear-gradient(#7a93f8,#6986f9 6.7%,#5e80fa 8.3%,#176cf9 13.3%,#066df4 15.0%,#0074e8 16.7%,#008b85 21.7%,#20aa3f 25.0%,#2db629 26.7%,#45ca13 31.7%,#48cc11 40.0%,#3ac01d 45.0%,#24ae36 48.3%,#079274 51.7%,#0080b3 55.0%,#0271f0 58.3%,#0b69f8 60.0%,#5f81fa 65.0%,#768ff8 68.3%,#879ffa 80.0%,#95abfa)"></i><i style="left:78.89px;width:2.38px;background:linear-gradient(#7a93f8,#6a87f9 6.7%,#6181fa 8.3%,#156cf9 13.3%,#056ef3 15.0%,#0077da 16.7%,#008b86 20.0%,#17a251 21.7%,#2fb827 23.3%,#46ca12 25.0%,#60e105 28.3%,#6cec01 35.0%,#66e703 41.7%,#57d808 45.0%,#48cc11 46.7%,#32ba24 48.3%,#1ba549 50.0%,#038f7c 51.7%,#007acf 55.0%,#0271f0 56.7%,#0e6af8 58.3%,#6583fa 63.3%,#7c95f8 68.3%,#99affa)"></i><i style="left:80.97px;width:2.38px;background:linear-gradient(#7a93f8,#6b87f9 6.7%,#6382fa 8.3%,#166cf9 13.3%,#046ff2 15.0%,#0078d7 16.7%,#049079 20.0%,#20ab3d 21.7%,#3dc31a 23.3%,#55d708 25.0%,#6ded00 28.3%,#74f000 38.3%,#6aeb01 43.3%,#51d30a 46.7%,#38bf1f 48.3%,#1ea843 50.0%,#049079 51.7%,#007acd 55.0%,#0172ef 56.7%,#0b69f8 58.3%,#6181fa 63.3%,#7790f8 66.7%,#8ea6fa 81.7%,#9ab0fa)"></i><i style="left:83.04px;width:2.38px;background:linear-gradient(#7a93f8,#6d89f9 6.7%,#6683fa 8.3%,#527dfa 10.0%,#1b6df9 13.3%,#066df4 15.0%,#0077dc 16.7%,#059177 20.0%,#24ae36 21.7%,#45c914 23.3%,#5cdd06 25.0%,#6bec01 26.7%,#7af300 33.3%,#75f100 41.7%,#6fee00 43.3%,#4bce0f 46.7%,#2ab32c 48.3%,#0c9868 50.0%,#00859d 51.7%,#0073ee 55.0%,#096af7 56.7%,#6784fa 63.3%,#7d96f9 68.3%,#97adfa 86.7%,#9cb2fa)"></i><i style="left:85.12px;width:2.38px;background:linear-gradient(#7a93f8,#6885fa 8.3%,#597ffa 10.0%,#086bf6 15.0%,#0075e3 16.7%,#049079 20.0%,#26b032 21.7%,#4bce0f 23.3%,#62e304 25.0%,#71ef00 26.7%,#81f500 33.3%,#7df400 40.0%,#6ded00 43.3%,#55d708 45.0%,#2db628 46.7%,#069274 48.3%,#0080b3 50.0%,#0074e7 51.7%,#096af7 53.3%,#6482fa 60.0%,#7e97f9 66.7%,#98aefa 83.3%,#9db2fa)"></i><i style="left:87.20px;width:2.38px;background:linear-gradient(#7a93f8,#6885fa 8.3%,#597ffa 10.0%,#086bf6 15.0%,#0075e3 16.7%,#049079 20.0%,#26b032 21.7%,#4bce0f 23.3%,#62e304 25.0%,#71ef00 26.7%,#80f500 33.3%,#7cf400 40.0%,#6aea01 43.3%,#51d30a 45.0%,#24ae35 46.7%,#008a89 48.3%,#007bc9 50.0%,#046ff2 51.7%,#1d6ef9 53.3%,#5d80fa 56.7%,#728df9 60.0%,#96acfa 80.0%,#9db2fa)"></i><i style="left:89.27px;width:2.38px;background:linear-gradient(#7a93f8,#6885fa 8.3%,#597ffa 10.0%,#086bf6 15.0%,#0075e3 16.7%,#049079 20.0%,#26b032 21.7%,#4bce0f 23.3%,#62e304 25.0%,#71ef00 26.7%,#80f500 33.3%,#7cf400 40.0%,#68e802 43.3%,#4ccf0e 45.0%,#1ea942 46.7%,#008797 48.3%,#0077d9 50.0%,#096af7 51.7%,#587efa 55.0%,#6c88f9 56.7%,#7e97f9 61.7%,#9ab0fa 86.7%,#9db2fa)"></i><i style="left:91.35px;width:2.38px;background:linear-gradient(#7a93f8,#6885fa 8.3%,#597ffa 10.0%,#086bf6 15.0%,#0075e3 16.7%,#049079 20.0%,#26b032 21.7%,#4bce0f 23.3%,#62e304 25.0%,#71ef00 26.7%,#80f500 33.3%,#7cf300 40.0%,#67e702 43.3%,#49cd10 45.0%,#1ba648 46.7%,#00859d 48.3%,#0076e1 50.0%,#0e6af8 51.7%,#6382fa 55.0%,#7a93f8 58.3%,#99affa 85.0%,#9db2fa)"></i><i style="left:93.42px;width:2.38px;background:linear-gradient(#7a93f8,#6885fa 8.3%,#597ffa 10.0%,#086bf6 15.0%,#0075e3 16.7%,#049079 20.0%,#26b032 21.7%,#4bce0f 23.3%,#62e304 25.0%,#71ef00 26.7%,#80f500 33.3%,#7cf300 40.0%,#66e703 43.3%,#49cc10 45.0%,#1aa54a 46.7%,#00859e 48.3%,#0075e3 50.0%,#106bf8 51.7%,#6583fa 55.0%,#7b93f8 58.3%,#9ab0fa 86.7%,#9db2fa)"></i><i style="left:95.50px;width:2.38px;background:linear-gradient(#7a93f8,#6885fa 8.3%,#597ffa 10.0%,#086bf6 15.0%,#0075e3 16.7%,#049079 20.0%,#26b032 21.7%,#4bce0f 23.3%,#62e304 25.0%,#71ef00 26.7%,#80f500 33.3%,#7cf300 40.0%,#66e703 43.3%,#48cc11 45.0%,#1aa54a 46.7%,#00859f 48.3%,#0075e3 50.0%,#106bf8 51.7%,#6583fa 55.0%,#7b94f8 58.3%,#9ab0fa 86.7%,#9db2fa)"></i><i style="left:97.58px;width:2.38px;background:linear-gradient(#7a93f8,#6885fa 8.3%,#597ffa 10.0%,#086bf6 15.0%,#0075e3 16.7%,#049079 20.0%,#26b032 21.7%,#4bce0f 23.3%,#62e304 25.0%,#71ef00 26.7%,#80f500 33.3%,#7cf300 40.0%,#66e703 43.3%,#48cc11 45.0%,#1aa54a 46.7%,#00859f 48.3%,#0075e3 50.0%,#116bf8 51.7%,#6583fa 55.0%,#7b94f8 58.3%,#9ab0fa 86.7%,#9db2fa)"></i><i style="left:99.65px;width:2.38px;background:linear-gradient(#7a93f8,#6885fa 8.3%,#597ffa 10.0%,#086bf6 15.0%,#0075e3 16.7%,#049079 20.0%,#26b032 21.7%,#4bce0f 23.3%,#62e304 25.0%,#71ef00 26.7%,#80f500 33.3%,#7cf300 40.0%,#66e703 43.3%,#48cc11 45.0%,#1aa54a 46.7%,#00859f 48.3%,#0075e3 50.0%,#116bf8 51.7%,#6583fa 55.0%,#7b94f8 58.3%,#9ab0fa 86.7%,#9db2fa)"></i></div></div>
<div class="p" style="left:447.20px;top:16.20px"><div class="q" style="left:-3.11px;width:101.73px"><i style="left:0.00px;width:2.38px;background:linear-gradient(#819af9,#6b87f9 10.0%,#6582fa 11.7%,#4278fa 15.0%,#0b69f8 18.3%,#0076e2 20.0%,#008798 21.7%,#29b22d 23.3%,#61e204 25.0%,#7bf300 26.7%,#9cf900 30.0%,#aefa00 35.0%,#abf900 40.0%,#a2f900 41.7%,#7af300 45.0%,#4fd10b 46.7%,#008c84 48.3%,#0074e8 50.0%,#1b6df9 51.7%,#4077fa 53.3%,#5c80fa 55.0%,#718cf9 58.3%,#91a8fa 73.3%,#9db3fa 93.3%,#9db3fa)"></i><i style="left:2.08px;width:2.38px;background:linear-gradient(#819af9,#6b87f9 10.0%,#6582fa 11.7%,#4278fa 15.0%,#0b69f8 18.3%,#0076e2 20.0%,#008798 21.7%,#29b22d 23.3%,#61e204 25.0%,#7bf300 26.7%,#9cf900 30.0%,#aefa00 35.0%,#abf900 40.0%,#a2f900 41.7%,#7af300 45.0%,#4fd10b 46.7%,#008c84 48.3%,#0074e8 50.0%,#1b6df9 51.7%,#4077fa 53.3%,#5c80fa 55.0%,#718cf9 58.3%,#91a8fa 73.3%,#9db3fa 93.3%,#9db3fa)"></i><i style="left:4.15px;width:2.38px;background:linear-gradient(#819af9,#6a87f9 10.0%,#6482fa 11.7%,#4077fa 15.0%,#0a69f8 18.3%,#0076df 20.0%,#008894 21.7%,#2cb529 23.3%,#64e503 25.0%,#7df400 26.7%,#9ff900 30.0%,#b1fa00 35.0%,#aefa00 40.0%,#a6f900 41.7%,#7bf300 45.0%,#52d409 46.7%,#028e7f 48.3%,#0075e5 50.0%,#196df9 51.7%,#3e77fa 53.3%,#5a7ffa 55.0%,#718cf9 58.3%,#8ea5fa 71.7%,#9cb2fa 88.3%,#9db3fa)"></i><i style="left:6.23px;width:2.38px;background:linear-gradient(#8199f9,#6f8af9 8.3%,#6081fa 11.7%,#236ff9 16.7%,#086bf6 18.3%,#0078d6 20.0%,#008a89 21.7%,#37be20 23.3%,#6ced01 25.0%,#97f900 28.3%,#b2fa00 31.7%,#bcfa00 36.7%,#b7fa00 40.0%,#aefa00 41.7%,#9cf900 43.3%,#80f500 45.0%,#5adb07 46.7%,#09956f 48.3%,#0076dd 50.0%,#156cf9 51.7%,#3a75fa 53.3%,#567efa 55.0%,#6785fa 56.7%,#7c94f8 61.7%,#9ab0fa 81.7%,#9db3fa)"></i><i style="left:8.30px;width:2.38px;background:linear-gradient(#8099f9,#6d89f9 8.3%,#5b7ffa 11.7%,#1e6ef9 16.7%,#066df4 18.3%,#007acb 20.0%,#059178 21.7%,#45c914 23.3%,#73f000 25.0%,#a3f900 28.3%,#c0f900 31.7%,#ccf900 36.7%,#c7f900 40.0%,#a8f900 43.3%,#87f800 45.0%,#64e503 46.7%,#139e5a 48.3%,#0079d2 50.0%,#0f6af8 51.7%,#507cfa 55.0%,#6583fa 56.7%,#7e97f9 63.3%,#9ab0fa 81.7%,#9db3fa)"></i><i style="left:10.38px;width:2.38px;background:linear-gradient(#8098f9,#6b87f9 8.3%,#6583fa 10.0%,#2f72fa 15.0%,#186cf9 16.7%,#046ff2 18.3%,#007dc0 20.0%,#0f9a63 21.7%,#52d409 23.3%,#79f300 25.0%,#aefa00 28.3%,#d0f800 31.7%,#ddf700 36.7%,#d7f800 40.0%,#cbf900 41.7%,#b3fa00 43.3%,#91f800 45.0%,#6fee00 46.7%,#1da844 48.3%,#007bc7 50.0%,#096af7 51.7%,#4b7afa 55.0%,#6382fa 56.7%,#7a93f8 61.7%,#9ab0fa 81.7%,#9db3fa)"></i><i style="left:12.46px;width:2.38px;background:linear-gradient(#7f98f9,#6a86f9 8.3%,#6281fa 10.0%,#2b71fa 15.0%,#146bf8 16.7%,#0271f0 18.3%,#007fb7 20.0%,#16a154 21.7%,#59db07 23.3%,#7ef400 25.0%,#cdf900 30.0%,#e3f700 33.3%,#e8f700 38.3%,#d6f800 41.7%,#bcfa00 43.3%,#73f000 46.7%,#24af34 48.3%,#007dbf 50.0%,#086bf6 51.7%,#4779fa 55.0%,#5f80fa 56.7%,#7a93f8 61.7%,#9ab0fa 81.7%,#9db3fa)"></i><i style="left:14.53px;width:2.38px;background:linear-gradient(#7f98f9,#6986f9 8.3%,#6181fa 10.0%,#2a71fa 15.0%,#126bf8 16.7%,#0271f0 18.3%,#0080b4 20.0%,#18a34f 21.7%,#5cdd06 23.3%,#7ff500 25.0%,#bafa00 28.3%,#d1f800 30.0%,#e8f700 33.3%,#ecf600 38.3%,#daf800 41.7%,#c0f900 43.3%,#74f100 46.7%,#27b12f 48.3%,#007dbc 50.0%,#086bf6 51.7%,#4579fa 55.0%,#5e80fa 56.7%,#7992f8 61.7%,#9ab0fa 81.7%,#9db3fa)"></i><i style="left:16.61px;width:2.38px;background:linear-gradient(#7f98f9,#6986f9 8.3%,#6181fa 10.0%,#2a71fa 15.0%,#126bf8 16.7%,#0271f0 18.3%,#0080b4 20.0%,#18a34f 21.7%,#5cdd06 23.3%,#7ff500 25.0%,#bafa00 28.3%,#d1f800 30.0%,#e8f700 33.3%,#ecf600 38.3%,#daf800 41.7%,#c0f900 43.3%,#74f100 46.7%,#27b12f 48.3%,#007dbc 50.0%,#086bf6 51.7%,#4579fa 55.0%,#5e80fa 56.7%,#7992f8 61.7%,#9ab0fa 81.7%,#9db3fa)"></i><i style="left:18.68px;width:2.38px;background:linear-gradient(#7f98f9,#6986f9 8.3%,#6181fa 10.0%,#2a71fa 15.0%,#126bf8 16.7%,#0271f0 18.3%,#0080b4 20.0%,#18a34f 21.7%,#5cdd06 23.3%,#7ff500 25.0%,#bafa00 28.3%,#d1f800 30.0%,#e8f700 33.3%,#ecf600 38.3%,#daf800 41.7%,#c0f900 43.3%,#74f100 46.7%,#27b12f 48.3%,#007dbc 50.0%,#086bf6 51.7%,#4579fa 55.0%,#5e80fa 56.7%,#7992f8 61.7%,#9ab0fa 81.7%,#9db3fa)"></i><i style="left:20.76px;width:2.38px;background:linear-gradient(#7f98f9,#6986f9 8.3%,#6181fa 10.0%,#2a71fa 15.0%,#126bf8 16.7%,#0271f0 18.3%,#0080b4 20.0%,#18a34f 21.7%,#5cdd06 23.3%,#7ff500 25.0%,#bafa00 28.3%,#d1f800 30.0%,#e8f700 33.3%,#ecf600 38.3%,#daf800 41.7%,#c0f900 43.3%,#74f100 46.7%,#27b12f 48.3%,#007dbc 50.0%,#086bf6 51.7%,#4579fa 55.0%,#5e80fa 56.7%,#7992f8 61.7%,#9ab0fa 81.7%,#9db3fa)"></i><i style="left:22.84px;width:2.38px;background:linear-gradient(#7f98f9,#6986f9 8.3%,#6181fa 10.0%,#2a71fa 15.0%,#126bf8 16.7%,#0271f0 18.3%,#0080b4 20.0%,#18a34f 21.7%,#5cdd06 23.3%,#7ff500 25.0%,#bafa00 28.3%,#d1f800 30.0%,#e8f700 33.3%,#ecf600 38.3%,#daf800 41.7%,#c0f900 43.3%,#74f100 46.7%,#27b12f 48.3%,#007dbc 50.0%,#086bf6 51.7%,#4579fa 55.0%,#5e80fa 56.7%,#7992f8 61.7%,#9ab0fa 81.7%,#9db3fa)"></i><i style="left:24.91px;width:2.38px;background:linear-gradient(#7f98f9,#6986f9 8.3%,#6181fa 10.0%,#2a71fa 15.0%,#126bf8 16.7%,#0271f0 18.3%,#0080b4 20.0%,#18a34f 21.7%,#5cdd06 23.3%,#7ff500 25.0%,#bafa00 28.3%,#d1f800 30.0%,#e8f700 33.3%,#ecf600 38.3%,#daf800 41.7%,#c0f900 43.3%,#74f100 46.7%,#27b12f 48.3%,#007dbc 50.0%,#086bf6 51.7%,#4579fa 55.0%,#5e80fa 56.7%,#7992f8 61.7%,#9ab0fa 81.7%,#9db3fa)"></i><i style="left:26.99px;width:2.38px;background:linear-gradient(#7f98f9,#6986f9 8.3%,#6181fa 10.0%,#2a71fa 15.0%,#126bf8 16.7%,#0271f0 18.3%,#0080b4 20.0%,#18a34f 21.7%,#5cdd06 23.3%,#7ff500 25.0%,#bafa00 28.3%,#d1f800 30.0%,#e8f700 33.3%,#ecf600 38.3%,#daf800 41.7%,#c0f900 43.3%,#74f100 46.7%,#27b12f 48.3%,#007dbc 50.0%,#086bf6 51.7%,#4579fa 55.0%,#5e80fa 56.7%,#7992f8 61.7%,#9ab0fa 81.7%,#9db3fa)"></i><i style="left:29.07px;width:2.38px;background:linear-gradient(#7f98f9,#6986f9 8.3%,#6181fa 10.0%,#2a71fa 15.0%,#126bf8 16.7%,#0271f0 18.3%,#0080b4 20.0%,#18a34f 21.7%,#5cdd06 23.3%,#7ff500 25.0%,#bafa00 28.3%,#d1f800 30.0%,#e8f700 33.3%,#ecf600 38.3%,#daf800 41.7%,#c0f900 43.3%,#74f100 46.7%,#27b12f 48.3%,#007dbc 50.0%,#086bf6 51.7%,#4579fa 55.0%,#5e80fa 56.7%,#7992f8 61.7%,#9ab0fa 81.7%,#9db3fa)"></i><i style="left:31.14px;width:2.38px;background:linear-gradient(#7f98f9,#6986f9 8.3%,#6181fa 10.0%,#2a71fa 15.0%,#126bf8 16.7%,#0271f0 18.3%,#0080b4 20.0%,#18a34f 21.7%,#5cdd06 23.3%,#7ff500 25.0%,#bafa00 28.3%,#d1f800 30.0%,#e8f700 33.3%,#ecf600 38.3%,#daf800 41.7%,#c0f900 43.3%,#74f100 46.7%,#27b12f 48.3%,#007dbc 50.0%,#086bf6 51.7%,#4579fa 55.0%,#5e80fa 56.7%,#7992f8 61.7%,#9ab0fa 81.7%,#9db3fa)"></i><i style="left:33.22px;width:2.38px;background:linear-gradient(#7f98f9,#6a86f9 8.3%,#6281fa 10.0%,#2b71fa 15.0%,#136bf8 16.7%,#0271f0 18.3%,#0080b4 20.0%,#18a34f 21.7%,#5bdc06 23.3%,#7ef400 25.0%,#b5fa00 28.3%,#d7f800 31.7%,#e3f700 36.7%,#ddf700 40.0%,#cff800 41.7%,#b5fa00 43.3%,#92f800 45.0%,#6eee00 46.7%,#1aa54b 48.3%,#007acc 50.0%,#0a69f8 51.7%,#4b7afa 55.0%,#6382fa 56.7%,#7a93f8 61.7%,#9ab0fa 81.7%,#9db3fa)"></i><i style="left:35.29px;width:2.38px;background:linear-gradient(#8098f9,#6b87f9 8.3%,#6583fa 10.0%,#2e72fa 15.0%,#156cf9 16.7%,#0271f0 18.3%,#007fb4 20.0%,#17a251 21.7%,#58d907 23.3%,#7af300 25.0%,#a9f900 28.3%,#c3f900 31.7%,#ccf900 36.7%,#c4f900 40.0%,#b6fa00 41.7%,#9ff900 43.3%,#7ef500 45.0%,#51d30a 46.7%,#008a89 48.3%,#0073ee 50.0%,#1c6df9 51.7%,#587efa 55.0%,#708bf9 58.3%,#88a0fa 68.3%,#9bb1fa 83.3%,#9db3fa)"></i><i style="left:37.37px;width:2.38px;background:linear-gradient(#8098f9,#6c88f9 8.3%,#5a7ffa 11.7%,#3173fa 15.0%,#176cf9 16.7%,#0271f0 18.3%,#007fb5 20.0%,#15a056 21.7%,#53d509 23.3%,#76f100 25.0%,#9cf900 28.3%,#b1fa00 31.7%,#b4fa00 38.3%,#a1f900 41.7%,#88f800 43.3%,#6fee00 45.0%,#28b22d 46.7%,#007fb5 48.3%,#076cf5 50.0%,#4c7bfa 53.3%,#6482fa 55.0%,#7e96f9 61.7%,#9ab0fa 81.7%,#9db3fa)"></i><i style="left:39.45px;width:2.38px;background:linear-gradient(#8099f9,#6d89f9 8.3%,#5c7ffa 11.7%,#3273fa 15.0%,#186cf9 16.7%,#0370f1 18.3%,#007fb6 20.0%,#149f58 21.7%,#51d30a 23.3%,#74f000 25.0%,#a3f900 30.0%,#affa00 35.0%,#a6f900 40.0%,#99f900 41.7%,#82f600 43.3%,#65e503 45.0%,#1ba649 46.7%,#007bc6 48.3%,#0a69f8 50.0%,#3273fa 51.7%,#527dfa 53.3%,#6684fa 55.0%,#7e97f9 61.7%,#9bb0fa 81.7%,#9db3fa)"></i><i style="left:41.52px;width:2.38px;background:linear-gradient(#8099f9,#6e89f9 8.3%,#5d80fa 11.7%,#3474fa 15.0%,#196df9 16.7%,#0370f1 18.3%,#007eb9 20.0%,#119c5e 21.7%,#4dd00d 23.3%,#72f000 25.0%,#9ef900 30.0%,#a9f900 35.0%,#a0f900 40.0%,#7ef400 43.3%,#5dde06 45.0%,#139e5b 46.7%,#0079d0 48.3%,#0f6af8 50.0%,#3775fa 51.7%,#567efa 53.3%,#6885fa 55.0%,#7f98f9 61.7%,#9bb0fa 81.7%,#9db3fa)"></i><i style="left:43.60px;width:2.38px;background:linear-gradient(#8199f9,#6986f9 10.0%,#6281fa 11.7%,#3975fa 15.0%,#1d6ef9 16.7%,#046ff2 18.3%,#007dc0 20.0%,#0b966c 21.7%,#42c716 23.3%,#6bec01 25.0%,#87f800 28.3%,#9af900 33.3%,#98f900 38.3%,#84f700 41.7%,#74f000 43.3%,#48cc11 45.0%,#008b84 46.7%,#0075e7 48.3%,#1c6df9 50.0%,#4378fa 51.7%,#6081fa 53.3%,#7992f8 58.3%,#9ab0fa 80.0%,#9db3fa)"></i><i style="left:45.67px;width:2.38px;background:linear-gradient(#819af9,#6b87f9 10.0%,#6583fa 11.7%,#3e77fa 15.0%,#066df4 18.3%,#007bc7 20.0%,#048f7a 21.7%,#36bd20 23.3%,#61e204 25.0%,#75f100 26.7%,#89f800 31.7%,#8af800 38.3%,#7bf300 41.7%,#66e703 43.3%,#2eb728 45.0%,#0084a1 46.7%,#0370f1 48.3%,#2870f9 50.0%,#4e7cfa 51.7%,#6683fa 53.3%,#7e96f9 60.0%,#9ab0fa 80.0%,#9db3fa)"></i><i style="left:47.75px;width:2.38px;background:linear-gradient(#819af9,#6c88f9 10.0%,#6684fa 11.7%,#587efa 13.3%,#066df4 18.3%,#007aca 20.0%,#018d81 21.7%,#31b925 23.3%,#5dde06 25.0%,#73f000 26.7%,#85f700 31.7%,#85f700 38.3%,#77f100 41.7%,#5fe005 43.3%,#24ae35 45.0%,#0081ad 46.7%,#056ef3 48.3%,#537dfa 51.7%,#6785fa 53.3%,#7e97f9 60.0%,#9ab0fa 80.0%,#9db3fa)"></i><i style="left:49.83px;width:2.38px;background:linear-gradient(#8199f9,#6c88f9 10.0%,#6684fa 11.7%,#577efa 13.3%,#206ef9 16.7%,#056ef3 18.3%,#007bc7 20.0%,#008c83 21.7%,#2bb42b 23.3%,#55d608 25.0%,#6bec01 26.7%,#7df400 31.7%,#7af300 40.0%,#74f000 41.7%,#64e503 43.3%,#3fc419 45.0%,#09956e 46.7%,#007bc7 48.3%,#086bf6 50.0%,#527dfa 53.3%,#6784fa 55.0%,#7f98f9 63.3%,#9bb1fa 86.7%,#9db3fa)"></i><i style="left:51.90px;width:2.38px;background:linear-gradient(#8098f9,#6d88f9 10.0%,#6784fa 11.7%,#577efa 13.3%,#1b6df9 16.7%,#046ff2 18.3%,#007bc9 20.0%,#008890 21.7%,#18a34f 23.3%,#36bd21 25.0%,#4ed10b 26.7%,#61e204 30.0%,#67e702 38.3%,#56d808 43.3%,#45c914 45.0%,#29b22d 46.7%,#0a966c 48.3%,#0082a9 50.0%,#0076e2 51.7%,#0a69f8 53.3%,#4b7bfa 56.7%,#6482fa 58.3%,#7b94f8 66.7%,#9ab0fa 98.3%,#9bb1fa)"></i><i style="left:53.98px;width:2.38px;background:linear-gradient(#7f98f9,#6e8af9 10.0%,#6885fa 11.7%,#577efa 13.3%,#1a6df9 16.7%,#056ef3 18.3%,#0078d5 20.0%,#008c81 23.3%,#15a056 25.0%,#23ae37 26.7%,#2fb727 28.3%,#3dc31b 33.3%,#37be20 41.7%,#27b12f 45.0%,#1ca647 46.7%,#00898d 50.0%,#0078d8 53.3%,#046ff2 55.0%,#156cf9 56.7%,#6482fa 61.7%,#7a93f8 70.0%,#95acfa)"></i><i style="left:56.05px;width:2.38px;background:linear-gradient(#7f98f9,#6f8af9 10.0%,#6885fa 11.7%,#577efa 13.3%,#1c6df9 16.7%,#066df4 18.3%,#0077dd 20.0%,#008892 23.3%,#149f57 26.7%,#22ad39 30.0%,#28b22d 35.0%,#23ae37 41.7%,#19a44c 45.0%,#059177 48.3%,#007ace 53.3%,#0172ef 55.0%,#096af7 56.7%,#547dfa 61.7%,#6684fa 63.3%,#7a93f8 71.7%,#92a9fa)"></i><i style="left:58.13px;width:2.38px;background:linear-gradient(#7f98f9,#6f8af9 10.0%,#6885fa 11.7%,#577efa 13.3%,#1c6df9 16.7%,#066df4 18.3%,#0077dd 20.0%,#008892 23.3%,#149f57 26.7%,#22ad39 30.0%,#28b22d 35.0%,#23ae37 41.7%,#1aa44b 45.0%,#069275 48.3%,#007acb 53.3%,#0073ed 55.0%,#086bf6 56.7%,#6583fa 63.3%,#7a93f8 71.7%,#92a9fa)"></i><i style="left:60.21px;width:2.38px;background:linear-gradient(#7f98f9,#6f8af9 10.0%,#6885fa 11.7%,#577efa 13.3%,#1c6df9 16.7%,#066df4 18.3%,#0077dd 20.0%,#008892 23.3%,#149f57 26.7%,#22ad39 30.0%,#28b22d 35.0%,#24ae36 41.7%,#1ba54a 45.0%,#089471 48.3%,#008a8b 50.0%,#0075e5 55.0%,#066df4 56.7%,#2e72fa 60.0%,#5f81fa 63.3%,#738ef8 68.3%,#91a8fa)"></i><i style="left:62.28px;width:2.38px;background:linear-gradient(#7f98f9,#6f8af9 10.0%,#6885fa 11.7%,#577efa 13.3%,#1c6df9 16.7%,#066df4 18.3%,#0077dd 20.0%,#008892 23.3%,#149f57 26.7%,#23ad39 30.0%,#28b22d 35.0%,#24af35 41.7%,#1ca746 45.0%,#0c9868 48.3%,#008c82 50.0%,#0172ef 56.7%,#096af7 58.3%,#5d80fa 65.0%,#708bf9 70.0%,#8fa6fa)"></i><i style="left:64.36px;width:2.38px;background:linear-gradient(#7f98f9,#6f8af9 10.0%,#6885fa 11.7%,#577efa 13.3%,#1c6df9 16.7%,#066df4 18.3%,#0077dd 20.0%,#008892 23.3%,#149f57 26.7%,#23ad39 30.0%,#28b22d 35.0%,#24ae35 43.3%,#15a055 48.3%,#008c81 51.7%,#0075e6 58.3%,#0a69f8 61.7%,#5c80fa 71.7%,#7992f8 80.0%,#8ea5fa)"></i><i style="left:66.43px;width:2.38px;background:linear-gradient(#7f98f9,#6f8af9 10.0%,#6885fa 11.7%,#577efa 13.3%,#1c6df9 16.7%,#066df4 18.3%,#0077dd 20.0%,#008892 23.3%,#149f57 26.7%,#23ad38 30.0%,#29b32c 35.0%,#26b030 43.3%,#1ca746 48.3%,#0d9867 51.7%,#028e7e 53.3%,#0073ed 61.7%,#126bf8 66.7%,#4378fa 73.3%,#6382fa 76.7%,#7d96f9 85.0%,#8ca4fa)"></i><i style="left:68.51px;width:2.38px;background:linear-gradient(#7f98f9,#6f8af9 10.0%,#6885fa 11.7%,#577efa 13.3%,#1c6df9 16.7%,#066df4 18.3%,#0077dd 20.0%,#008892 23.3%,#149f57 26.7%,#23ad39 30.0%,#28b22d 35.0%,#24af34 43.3%,#17a251 48.3%,#00898f 53.3%,#0271f0 60.0%,#136bf8 63.3%,#6382fa 73.3%,#7d95f9 83.3%,#8ca4fa)"></i><i style="left:70.59px;width:2.38px;background:linear-gradient(#7f98f9,#6e89f9 10.0%,#6784fa 11.7%,#557efa 13.3%,#196df9 16.7%,#046ff2 18.3%,#0079d3 20.0%,#018d80 23.3%,#15a055 25.0%,#24ae36 26.7%,#2fb727 28.3%,#3dc31b 33.3%,#39bf1e 41.7%,#2eb628 45.0%,#25af34 46.7%,#0c9769 50.0%,#008a8a 51.7%,#0073ee 56.7%,#086bf6 58.3%,#5d80fa 65.0%,#708bf9 70.0%,#88a1fa 91.7%,#90a7fa)"></i><i style="left:72.66px;width:2.38px;background:linear-gradient(#7f98f9,#6b88f9 10.0%,#6583fa 11.7%,#527dfa 13.3%,#166cf9 16.7%,#0271f0 18.3%,#007cc2 20.0%,#008a8a 21.7%,#1ba648 23.3%,#38bf1f 25.0%,#50d20a 26.7%,#65e603 31.7%,#65e503 40.0%,#4fd20b 45.0%,#3ac01e 46.7%,#1fa941 48.3%,#018d80 50.0%,#0074e8 53.3%,#0a69f8 55.0%,#4679fa 58.3%,#5f80fa 60.0%,#738df9 65.0%,#98affa)"></i><i style="left:74.74px;width:2.38px;background:linear-gradient(#7f98f9,#6a86f9 10.0%,#6382fa 11.7%,#3574fa 15.0%,#166cf9 16.7%,#0271f0 18.3%,#007fb8 20.0%,#09956f 21.7%,#34bb23 23.3%,#59da07 25.0%,#6eee00 26.7%,#7df400 31.7%,#7bf300 40.0%,#6beb01 43.3%,#51d30a 45.0%,#1faa40 46.7%,#00859f 48.3%,#0074ea 50.0%,#166cf9 51.7%,#5a7ffa 55.0%,#6f8af9 58.3%,#869efa 70.0%,#9bb1fa 91.7%,#9db2fa)"></i><i style="left:76.82px;width:2.38px;background:linear-gradient(#8098f9,#6986f9 10.0%,#6281fa 11.7%,#3574fa 15.0%,#176cf9 16.7%,#0271f0 18.3%,#007fb6 20.0%,#0d9866 21.7%,#3dc31a 23.3%,#62e304 25.0%,#74f100 26.7%,#85f700 31.7%,#85f700 38.3%,#79f200 41.7%,#68e802 43.3%,#38bf1f 45.0%,#008a8c 46.7%,#0075e6 48.3%,#196df9 50.0%,#4278fa 51.7%,#6081fa 53.3%,#7891f8 58.3%,#9ab0fa 81.7%,#9db3fa)"></i><i style="left:78.89px;width:2.38px;background:linear-gradient(#8098f9,#6986f9 10.0%,#6281fa 11.7%,#3574fa 15.0%,#176cf9 16.7%,#0271f0 18.3%,#007fb6 20.0%,#0d9866 21.7%,#3dc31a 23.3%,#62e304 25.0%,#74f100 26.7%,#85f700 31.7%,#85f700 38.3%,#79f200 41.7%,#68e802 43.3%,#38bf1f 45.0%,#008a8c 46.7%,#0075e6 48.3%,#196df9 50.0%,#4278fa 51.7%,#6081fa 53.3%,#7891f8 58.3%,#9ab0fa 81.7%,#9db3fa)"></i><i style="left:80.97px;width:2.38px;background:linear-gradient(#8098f9,#6986f9 10.0%,#6281fa 11.7%,#3574fa 15.0%,#176cf9 16.7%,#0271f0 18.3%,#007fb6 20.0%,#0d9866 21.7%,#3dc31a 23.3%,#62e304 25.0%,#74f100 26.7%,#85f700 31.7%,#85f700 38.3%,#79f200 41.7%,#68e802 43.3%,#38bf1f 45.0%,#008a8c 46.7%,#0075e6 48.3%,#196df9 50.0%,#4278fa 51.7%,#6081fa 53.3%,#7891f8 58.3%,#9ab0fa 81.7%,#9db3fa)"></i><i style="left:83.04px;width:2.38px;background:linear-gradient(#8098f9,#6986f9 10.0%,#6281fa 11.7%,#3574fa 15.0%,#176cf9 16.7%,#0271f0 18.3%,#007fb6 20.0%,#0d9866 21.7%,#3dc31a 23.3%,#62e304 25.0%,#74f100 26.7%,#85f700 31.7%,#85f700 38.3%,#79f200 41.7%,#68e802 43.3%,#38bf1f 45.0%,#008a8c 46.7%,#0075e6 48.3%,#196df9 50.0%,#4278fa 51.7%,#6081fa 53.3%,#7891f8 58.3%,#9ab0fa 81.7%,#9db3fa)"></i><i style="left:85.12px;width:2.38px;background:linear-gradient(#8098f9,#6986f9 10.0%,#6281fa 11.7%,#3574fa 15.0%,#176cf9 16.7%,#0271f0 18.3%,#007fb6 20.0%,#0d9866 21.7%,#3dc31a 23.3%,#62e304 25.0%,#74f100 26.7%,#85f700 31.7%,#85f700 38.3%,#79f200 41.7%,#68e802 43.3%,#38bf1f 45.0%,#008a8c 46.7%,#0075e6 48.3%,#196df9 50.0%,#4278fa 51.7%,#6081fa 53.3%,#7891f8 58.3%,#9ab0fa 81.7%,#9db3fa)"></i><i style="left:87.20px;width:2.38px;background:linear-gradient(#8098f9,#6986f9 10.0%,#6281fa 11.7%,#3574fa 15.0%,#176cf9 16.7%,#0271f0 18.3%,#007fb6 20.0%,#0d9866 21.7%,#3dc31a 23.3%,#62e304 25.0%,#74f100 26.7%,#85f700 31.7%,#85f700 38.3%,#79f200 41.7%,#68e802 43.3%,#38bf1f 45.0%,#008a8c 46.7%,#0075e6 48.3%,#196df9 50.0%,#4278fa 51.7%,#6081fa 53.3%,#7891f8 58.3%,#9ab0fa 81.7%,#9db3fa)"></i><i style="left:89.27px;width:2.38px;background:linear-gradient(#8098f9,#6986f9 10.0%,#6281fa 11.7%,#3574fa 15.0%,#176cf9 16.7%,#0271f0 18.3%,#007fb6 20.0%,#0d9866 21.7%,#3dc31a 23.3%,#62e304 25.0%,#74f100 26.7%,#85f700 31.7%,#85f700 38.3%,#79f200 41.7%,#68e802 43.3%,#38bf1f 45.0%,#008a8c 46.7%,#0075e6 48.3%,#196df9 50.0%,#4278fa 51.7%,#6081fa 53.3%,#7891f8 58.3%,#9ab0fa 81.7%,#9db3fa)"></i><i style="left:91.35px;width:2.38px;background:linear-gradient(#8098f9,#6986f9 10.0%,#6281fa 11.7%,#3574fa 15.0%,#176cf9 16.7%,#0271f0 18.3%,#007fb6 20.0%,#0d9866 21.7%,#3dc31a 23.3%,#62e304 25.0%,#74f100 26.7%,#85f700 31.7%,#85f700 38.3%,#79f200 41.7%,#68e802 43.3%,#38bf1f 45.0%,#008a8c 46.7%,#0075e6 48.3%,#196df9 50.0%,#4278fa 51.7%,#6081fa 53.3%,#7891f8 58.3%,#9ab0fa 81.7%,#9db3fa)"></i><i style="left:93.42px;width:2.38px;background:linear-gradient(#8098f9,#6986f9 10.0%,#6281fa 11.7%,#3574fa 15.0%,#176cf9 16.7%,#0271f0 18.3%,#007fb6 20.0%,#0d9866 21.7%,#3dc31a 23.3%,#62e304 25.0%,#74f100 26.7%,#85f700 31.7%,#85f700 38.3%,#79f200 41.7%,#68e802 43.3%,#38bf1f 45.0%,#008a8c 46.7%,#0075e6 48.3%,#196df9 50.0%,#4278fa 51.7%,#6081fa 53.3%,#7891f8 58.3%,#9ab0fa 81.7%,#9db3fa)"></i><i style="left:95.50px;width:2.38px;background:linear-gradient(#8098f9,#6986f9 10.0%,#6281fa 11.7%,#3574fa 15.0%,#176cf9 16.7%,#0271f0 18.3%,#007fb6 20.0%,#0d9866 21.7%,#3dc31a 23.3%,#62e304 25.0%,#74f100 26.7%,#85f700 31.7%,#85f700 38.3%,#79f200 41.7%,#68e802 43.3%,#38bf1f 45.0%,#008a8c 46.7%,#0075e6 48.3%,#196df9 50.0%,#4278fa 51.7%,#6081fa 53.3%,#7891f8 58.3%,#9ab0fa 81.7%,#9db3fa)"></i><i style="left:97.58px;width:2.38px;background:linear-gradient(#8098f9,#6986f9 10.0%,#6281fa 11.7%,#3574fa 15.0%,#176cf9 16.7%,#0271f0 18.3%,#007fb6 20.0%,#0d9866 21.7%,#3dc31a 23.3%,#62e304 25.0%,#74f100 26.7%,#85f700 31.7%,#85f700 38.3%,#79f200 41.7%,#68e802 43.3%,#38bf1f 45.0%,#008a8c 46.7%,#0075e6 48.3%,#196df9 50.0%,#4278fa 51.7%,#6081fa 53.3%,#7891f8 58.3%,#9ab0fa 81.7%,#9db3fa)"></i><i style="left:99.65px;width:2.38px;background:linear-gradient(#8098f9,#6986f9 10.0%,#6281fa 11.7%,#3574fa 15.0%,#176cf9 16.7%,#0271f0 18.3%,#007fb6 20.0%,#0d9866 21.7%,#3dc31a 23.3%,#62e304 25.0%,#74f100 26.7%,#85f700 31.7%,#85f700 38.3%,#79f200 41.7%,#68e802 43.3%,#38bf1f 45.0%,#008a8c 46.7%,#0075e6 48.3%,#196df9 50.0%,#4278fa 51.7%,#6081fa 53.3%,#7891f8 58.3%,#9ab0fa 81.7%,#9db3fa)"></i></div></div>
<div class="p" style="left:42.20px;top:139.60px"><div class="q" style="left:-3.11px;width:101.73px"><i style="left:0.00px;width:2.38px;background:linear-gradient(#88a0fa,#728cf9 13.3%,#6382fa 16.7%,#1a6df9 21.7%,#066df4 23.3%,#0077d9 25.0%,#0084a3 26.7%,#129d5d 28.3%,#3ec41a 30.0%,#64e503 31.7%,#79f200 33.3%,#a2f900 38.3%,#affa00 43.3%,#a9f900 46.7%,#80f500 51.7%,#70ef00 53.3%,#51d30a 55.0%,#1fa941 56.7%,#008798 58.3%,#0077da 60.0%,#0a69f8 61.7%,#6382fa 65.0%,#748ef8 66.7%,#90a7fa 75.0%,#99affa 91.7%,#99affa)"></i><i style="left:2.08px;width:2.38px;background:linear-gradient(#88a0fa,#728cf9 13.3%,#6382fa 16.7%,#1a6df9 21.7%,#066df4 23.3%,#0077d9 25.0%,#0084a3 26.7%,#129d5d 28.3%,#3ec41a 30.0%,#64e503 31.7%,#79f200 33.3%,#a2f900 38.3%,#affa00 43.3%,#a9f900 46.7%,#80f500 51.7%,#70ef00 53.3%,#51d30a 55.0%,#1fa941 56.7%,#008798 58.3%,#0077da 60.0%,#0a69f8 61.7%,#6382fa 65.0%,#748ef8 66.7%,#90a7fa 75.0%,#99affa 91.7%,#99affa)"></i><i style="left:4.15px;width:2.38px;background:linear-gradient(#88a0fa,#728cf9 13.3%,#6382fa 16.7%,#1a6df9 21.7%,#066df4 23.3%,#0077d9 25.0%,#0084a3 26.7%,#129d5d 28.3%,#3ec41a 30.0%,#64e503 31.7%,#79f200 33.3%,#a2f900 38.3%,#affa00 43.3%,#a9f900 46.7%,#80f500 51.7%,#70ef00 53.3%,#51d30a 55.0%,#1fa941 56.7%,#008798 58.3%,#0077da 60.0%,#0a69f8 61.7%,#6382fa 65.0%,#748ef8 66.7%,#90a7fa 75.0%,#99affa 91.7%,#99affa)"></i><i style="left:6.23px;width:2.38px;background:linear-gradient(#88a0fa,#728cf9 13.3%,#6382fa 16.7%,#1a6df9 21.7%,#066df4 23.3%,#0077d9 25.0%,#0084a3 26.7%,#129d5d 28.3%,#3ec41a 30.0%,#64e503 31.7%,#79f200 33.3%,#a2f900 38.3%,#affa00 43.3%,#a9f900 46.7%,#80f500 51.7%,#70ef00 53.3%,#51d30a 55.0%,#1fa941 56.7%,#008798 58.3%,#0077da 60.0%,#0a69f8 61.7%,#6382fa 65.0%,#748ef8 66.7%,#90a7fa 75.0%,#99affa 91.7%,#99affa)"></i><i style="left:8.30px;width:2.38px;background:linear-gradient(#88a0fa,#728cf9 13.3%,#6382fa 16.7%,#1a6df9 21.7%,#066df4 23.3%,#0077d9 25.0%,#0084a3 26.7%,#129d5d 28.3%,#3ec41a 30.0%,#64e503 31.7%,#79f200 33.3%,#a2f900 38.3%,#affa00 43.3%,#a9f900 46.7%,#80f500 51.7%,#70ef00 53.3%,#51d30a 55.0%,#1fa941 56.7%,#008798 58.3%,#0077da 60.0%,#0a69f8 61.7%,#6382fa 65.0%,#748ef8 66.7%,#90a7fa 75.0%,#99affa 91.7%,#99affa)"></i><i style="left:10.38px;width:2.38px;background:linear-gradient(#88a0fa,#728cf9 13.3%,#6382fa 16.7%,#1a6df9 21.7%,#066df4 23.3%,#0077d9 25.0%,#0084a3 26.7%,#129d5d 28.3%,#3ec41a 30.0%,#64e503 31.7%,#79f200 33.3%,#a2f900 38.3%,#affa00 43.3%,#a9f900 46.7%,#80f500 51.7%,#70ef00 53.3%,#51d30a 55.0%,#1fa941 56.7%,#008798 58.3%,#0077da 60.0%,#0a69f8 61.7%,#6382fa 65.0%,#748ef8 66.7%,#90a7fa 75.0%,#99affa 91.7%,#99affa)"></i><i style="left:12.46px;width:2.38px;background:linear-gradient(#88a0fa,#728cf9 13.3%,#6382fa 16.7%,#1a6df9 21.7%,#066df4 23.3%,#0077d9 25.0%,#0084a3 26.7%,#129d5d 28.3%,#3ec41a 30.0%,#64e503 31.7%,#79f200 33.3%,#a2f900 38.3%,#affa00 43.3%,#a9f900 46.7%,#80f500 51.7%,#70ef00 53.3%,#51d30a 55.0%,#1fa941 56.7%,#008798 58.3%,#0077da 60.0%,#0a69f8 61.7%,#6382fa 65.0%,#748ef8 66.7%,#90a7fa 75.0%,#99affa 91.7%,#99affa)"></i><i style="left:14.53px;width:2.38px;background:linear-gradient(#88a0fa,#728cf9 13.3%,#6382fa 16.7%,#1a6df9 21.7%,#066df4 23.3%,#0077d9 25.0%,#0084a3 26.7%,#129d5d 28.3%,#3ec41a 30.0%,#64e503 31.7%,#79f200 33.3%,#a2f900 38.3%,#affa00 43.3%,#a9f900 46.7%,#80f500 51.7%,#70ef00 53.3%,#51d30a 55.0%,#1fa941 56.7%,#008798 58.3%,#0077da 60.0%,#0a69f8 61.7%,#6382fa 65.0%,#748ef8 66.7%,#90a7fa 75.0%,#99affa 91.7%,#99affa)"></i><i style="left:16.61px;width:2.38px;background:linear-gradient(#88a0fa,#728cf9 13.3%,#6382fa 16.7%,#1a6df9 21.7%,#066df4 23.3%,#0077d9 25.0%,#0084a3 26.7%,#129d5d 28.3%,#3ec41a 30.0%,#64e503 31.7%,#79f200 33.3%,#a2f900 38.3%,#affa00 43.3%,#a9f900 46.7%,#80f500 51.7%,#70ef00 53.3%,#51d30a 55.0%,#1fa941 56.7%,#008798 58.3%,#0077da 60.0%,#0a69f8 61.7%,#6382fa 65.0%,#748ef8 66.7%,#90a7fa 75.0%,#99affa 91.7%,#99affa)"></i><i style="left:18.68px;width:2.38px;background:linear-gradient(#88a0fa,#728cf9 13.3%,#6382fa 16.7%,#1a6df9 21.7%,#066df4 23.3%,#0077d9 25.0%,#0084a3 26.7%,#129d5d 28.3%,#3ec41a 30.0%,#64e503 31.7%,#79f200 33.3%,#a2f900 38.3%,#affa00 43.3%,#a9f900 46.7%,#80f500 51.7%,#70ef00 53.3%,#51d30a 55.0%,#1fa941 56.7%,#008798 58.3%,#0077da 60.0%,#0a69f8 61.7%,#6382fa 65.0%,#748ef8 66.7%,#90a7fa 75.0%,#99affa 91.7%,#99affa)"></i><i style="left:20.76px;width:2.38px;background:linear-gradient(#88a0fa,#728cf9 13.3%,#6382fa 16.7%,#1a6df9 21.7%,#066df4 23.3%,#0077d9 25.0%,#0084a3 26.7%,#129d5d 28.3%,#3ec41a 30.0%,#64e503 31.7%,#79f200 33.3%,#a2f900 38.3%,#affa00 43.3%,#a9f900 46.7%,#80f500 51.7%,#70ef00 53.3%,#51d30a 55.0%,#1fa941 56.7%,#008798 58.3%,#0077da 60.0%,#0a69f8 61.7%,#6382fa 65.0%,#748ef8 66.7%,#90a7fa 75.0%,#99affa 91.7%,#99affa)"></i><i style="left:22.84px;width:2.38px;background:linear-gradient(#88a0fa,#728cf9 13.3%,#6382fa 16.7%,#1a6df9 21.7%,#066df4 23.3%,#0077d9 25.0%,#0084a3 26.7%,#129d5d 28.3%,#3ec41a 30.0%,#64e503 31.7%,#79f200 33.3%,#a2f900 38.3%,#affa00 43.3%,#a9f900 46.7%,#80f500 51.7%,#70ef00 53.3%,#51d30a 55.0%,#1fa941 56.7%,#008798 58.3%,#0077da 60.0%,#0a69f8 61.7%,#6382fa 65.0%,#748ef8 66.7%,#90a7fa 75.0%,#99affa 91.7%,#99affa)"></i><i style="left:24.91px;width:2.38px;background:linear-gradient(#88a0fa,#728cf9 13.3%,#6382fa 16.7%,#1a6df9 21.7%,#066df4 23.3%,#0077d9 25.0%,#0084a3 26.7%,#129d5d 28.3%,#3ec41a 30.0%,#64e503 31.7%,#79f200 33.3%,#a2f900 38.3%,#affa00 43.3%,#a9f900 46.7%,#80f500 51.7%,#70ef00 53.3%,#51d30a 55.0%,#1fa941 56.7%,#008798 58.3%,#0077da 60.0%,#0a69f8 61.7%,#6382fa 65.0%,#748ef8 66.7%,#90a7fa 75.0%,#99affa 91.7%,#99affa)"></i><i style="left:26.99px;width:2.38px;background:linear-gradient(#88a0fa,#728cf9 13.3%,#6382fa 16.7%,#1a6df9 21.7%,#066df4 23.3%,#0077d9 25.0%,#0084a3 26.7%,#129d5d 28.3%,#3ec41a 30.0%,#64e503 31.7%,#79f200 33.3%,#a2f900 38.3%,#affa00 43.3%,#a9f900 46.7%,#80f500 51.7%,#70ef00 53.3%,#51d30a 55.0%,#1fa941 56.7%,#008798 58.3%,#0077da 60.0%,#0a69f8 61.7%,#6382fa 65.0%,#748ef8 66.7%,#90a7fa 75.0%,#99affa 91.7%,#99affa)"></i><i style="left:29.07px;width:2.38px;background:linear-gradient(#88a0fa,#728cf9 13.3%,#6382fa 16.7%,#1a6df9 21.7%,#066df4 23.3%,#0077d9 25.0%,#0084a3 26.7%,#129d5d 28.3%,#3ec41a 30.0%,#64e503 31.7%,#79f200 33.3%,#a2f900 38.3%,#affa00 43.3%,#a9f900 46.7%,#80f500 51.7%,#70ef00 53.3%,#51d30a 55.0%,#1fa941 56.7%,#008798 58.3%,#0077da 60.0%,#0a69f8 61.7%,#6382fa 65.0%,#748ef8 66.7%,#90a7fa 75.0%,#99affa 91.7%,#99affa)"></i><i style="left:31.14px;width:2.38px;background:linear-gradient(#88a0fa,#728cf9 13.3%,#6382fa 16.7%,#1a6df9 21.7%,#066df4 23.3%,#0077d9 25.0%,#0084a3 26.7%,#129d5d 28.3%,#3ec41a 30.0%,#64e503 31.7%,#79f200 33.3%,#a2f900 38.3%,#affa00 43.3%,#a9f900 46.7%,#80f500 51.7%,#70ef00 53.3%,#51d30a 55.0%,#1fa941 56.7%,#008798 58.3%,#0077da 60.0%,#0a69f8 61.7%,#6382fa 65.0%,#748ef8 66.7%,#90a7fa 75.0%,#99affa 91.7%,#99affa)"></i><i style="left:33.22px;width:2.38px;background:linear-gradient(#88a0fa,#728cf9 13.3%,#6382fa 16.7%,#1a6df9 21.7%,#066df4 23.3%,#0077d9 25.0%,#0084a3 26.7%,#129d5d 28.3%,#3ec41a 30.0%,#64e503 31.7%,#79f200 33.3%,#a2f900 38.3%,#affa00 43.3%,#a9f900 46.7%,#80f500 51.7%,#70ef00 53.3%,#51d30a 55.0%,#1fa941 56.7%,#008798 58.3%,#0077da 60.0%,#0a69f8 61.7%,#6382fa 65.0%,#748ef8 66.7%,#90a7fa 75.0%,#99affa 91.7%,#99affa)"></i><i style="left:35.29px;width:2.38px;background:linear-gradient(#8aa2fa,#758ff8 16.7%,#6985fa 20.0%,#5c80fa 21.7%,#126bf8 26.7%,#046ff2 28.3%,#0078d8 30.0%,#008c83 33.3%,#19a44d 35.0%,#31b925 36.7%,#48cc11 38.3%,#5fe005 41.7%,#68e902 46.7%,#5adb07 51.7%,#4bce0e 53.3%,#34bb23 55.0%,#1aa44b 56.7%,#008b84 58.3%,#0076e0 61.7%,#076cf5 63.3%,#236ff9 65.0%,#6885fa 68.3%,#7d96f9 71.7%,#96acfa 83.3%,#99affa)"></i><i style="left:37.37px;width:2.38px;background:linear-gradient(#8da5fa,#7891f8 21.7%,#6482fa 26.7%,#0f6af8 33.3%,#0073ed 36.7%,#0080b4 41.7%,#008699 46.7%,#008798 51.7%,#0082a8 55.0%,#0271f0 61.7%,#096af7 63.3%,#3273fa 66.7%,#6784fa 70.0%,#7f98f9 75.0%,#96adfa 88.3%,#99affa)"></i><i style="left:39.45px;width:2.38px;background:linear-gradient(#8aa2fa,#7a93f8 23.3%,#6885fa 28.3%,#5b7ffa 30.0%,#1d6ef9 35.0%,#0c6af8 36.7%,#0172ef 40.0%,#007cc3 46.7%,#007fb5 53.3%,#007eb9 60.0%,#0079d3 65.0%,#0172ef 68.3%,#0c69f8 71.7%,#3373fa 75.0%,#6683fa 78.3%,#7e97f9 83.3%,#96acfa 96.7%,#97adfa)"></i><i style="left:41.52px;width:2.38px;background:linear-gradient(#8ba3fa,#7d96f9 25.0%,#6f8af9 30.0%,#6684fa 31.7%,#1c6ef9 38.3%,#076cf5 41.7%,#0078d8 51.7%,#0079d2 65.0%,#0076e1 71.7%,#086bf6 78.3%,#216ff9 81.7%,#6683fa 86.7%,#7f97f9 91.7%,#91a8fa)"></i><i style="left:43.60px;width:2.38px;background:linear-gradient(#87a0fa,#7a93f8 18.3%,#6582fa 25.0%,#2971fa 31.7%,#0b69f8 36.7%,#0075e7 51.7%,#0074e7 71.7%,#096af7 90.0%,#2b71fa 98.3%,#3574fa)"></i><i style="left:45.67px;width:2.38px;background:linear-gradient(#849cf9,#748ef8 13.3%,#6583fa 18.3%,#2b71fa 26.7%,#0a69f8 35.0%,#0271f0 68.3%,#0c6af8)"></i><i style="left:47.75px;width:2.38px;background:linear-gradient(#849cf9,#738ef8 13.3%,#6582fa 18.3%,#2b71fa 26.7%,#0a69f8 35.0%,#0271f0 70.0%,#0d6af8)"></i><i style="left:49.83px;width:2.38px;background:linear-gradient(#849cf9,#738df9 13.3%,#6482fa 18.3%,#2a71fa 26.7%,#0a69f8 35.0%,#0271f0 70.0%,#0e6af8)"></i><i style="left:51.90px;width:2.38px;background:linear-gradient(#839cf9,#728df9 13.3%,#6281fa 18.3%,#2a71fa 26.7%,#0a69f8 35.0%,#0370f1 71.7%,#0d6af8 98.3%,#116bf8)"></i><i style="left:53.98px;width:2.38px;background:linear-gradient(#839cf9,#718cf9 13.3%,#6081fa 18.3%,#2971fa 26.7%,#0a69f8 35.0%,#046ff2 73.3%,#0d6af8 96.7%,#136bf8)"></i><i style="left:56.05px;width:2.38px;background:linear-gradient(#839bf9,#708bf9 13.3%,#5e80fa 18.3%,#2871fa 26.7%,#0a69f8 35.0%,#056ef3 75.0%,#0f6af8 96.7%,#156cf9)"></i><i style="left:58.13px;width:2.38px;background:linear-gradient(#839bf9,#708bf9 13.3%,#5d80fa 18.3%,#2870f9 26.7%,#0a69f8 35.0%,#056ef3 75.0%,#0e6af8 95.0%,#176cf9)"></i><i style="left:60.21px;width:2.38px;background:linear-gradient(#839bf9,#708bf9 13.3%,#5c80fa 18.3%,#2770f9 26.7%,#0a69f8 35.0%,#056ef3 75.0%,#0e6af8 95.0%,#176cf9)"></i><i style="left:62.28px;width:2.38px;background:linear-gradient(#839bf9,#708bf9 13.3%,#5d80fa 18.3%,#2770f9 26.7%,#0a69f8 35.0%,#066df4 76.7%,#0f6af8 93.3%,#1c6df9)"></i><i style="left:64.36px;width:2.38px;background:linear-gradient(#849cf9,#718cf9 13.3%,#5e80fa 18.3%,#2770f9 26.7%,#0a69f8 35.0%,#076cf5 76.7%,#0f6af8 88.3%,#2c72fa)"></i><i style="left:66.43px;width:2.38px;background:linear-gradient(#859df9,#738df9 13.3%,#6181fa 18.3%,#2770f9 26.7%,#0a69f8 35.0%,#086bf6 73.3%,#136bf8 83.3%,#3b76fa 95.0%,#587efa)"></i><i style="left:68.51px;width:2.38px;background:linear-gradient(#859ef9,#758ef8 13.3%,#6382fa 18.3%,#2f72fa 25.0%,#0d6af8 33.3%,#066df4 60.0%,#106af8 75.0%,#3373fa 85.0%,#6885fa 93.3%,#7b94f8)"></i><i style="left:70.59px;width:2.38px;background:linear-gradient(#869efa,#768ff8 13.3%,#6482fa 18.3%,#2f72fa 25.0%,#0c69f8 33.3%,#076cf5 61.7%,#0f6af8 70.0%,#3073fa 78.3%,#6482fa 85.0%,#7e97f9 93.3%,#88a0fa)"></i><i style="left:72.66px;width:2.38px;background:linear-gradient(#869efa,#7690f8 13.3%,#6582fa 18.3%,#2e72fa 25.0%,#0c69f8 33.3%,#086bf6 61.7%,#106af8 68.3%,#3474fa 76.7%,#6885fa 83.3%,#8199f9 91.7%,#8ea5fa)"></i><i style="left:74.74px;width:2.38px;background:linear-gradient(#859df9,#7891f8 13.3%,#6784fa 18.3%,#1f6ef9 26.7%,#0c69f8 30.0%,#0073ed 45.0%,#076cf5 65.0%,#126bf8 68.3%,#3373fa 73.3%,#6683fa 78.3%,#7e97f9 85.0%,#94abfa)"></i><i style="left:76.82px;width:2.38px;background:linear-gradient(#869efa,#748ef8 16.7%,#6885fa 20.0%,#4779fa 23.3%,#116bf8 28.3%,#0074e9 33.3%,#007bc6 38.3%,#007fb5 45.0%,#007fb7 50.0%,#0079d0 55.0%,#0073ee 58.3%,#0a69f8 61.7%,#3073fa 65.0%,#6482fa 68.3%,#7d96f9 73.3%,#96adfa 88.3%,#99affa)"></i><i style="left:78.89px;width:2.38px;background:linear-gradient(#89a1fa,#758ff8 18.3%,#6885fa 21.7%,#5b7ffa 23.3%,#196df9 28.3%,#096af7 30.0%,#0370f1 31.7%,#0081ad 38.3%,#008798 43.3%,#00869b 48.3%,#007fb6 51.7%,#0075e4 55.0%,#046ff2 56.7%,#106af8 58.3%,#6683fa 63.3%,#8099f9 68.3%,#96adfa 80.0%,#99affa)"></i><i style="left:80.97px;width:2.38px;background:linear-gradient(#89a1fa,#748ef8 16.7%,#6683fa 20.0%,#0a69f8 26.7%,#0370f1 28.3%,#008a89 35.0%,#109c5f 38.3%,#19a44c 41.7%,#1aa54b 45.0%,#16a153 46.7%,#0d9965 48.3%,#008c81 50.0%,#007ebc 53.3%,#0076de 55.0%,#056ef3 56.7%,#186df9 58.3%,#5d80fa 61.7%,#7a93f8 65.0%,#95acfa 76.7%,#99affa)"></i><i style="left:83.04px;width:2.38px;background:linear-gradient(#88a0fa,#738df9 13.3%,#6482fa 16.7%,#156cf9 21.7%,#046ff2 23.3%,#0079d3 25.0%,#0084a4 26.7%,#099470 28.3%,#25af34 30.0%,#41c617 31.7%,#56d708 33.3%,#6ded00 38.3%,#67e802 43.3%,#4ccf0e 46.7%,#2eb728 48.3%,#109b61 50.0%,#00859d 51.7%,#0079d2 53.3%,#066df4 55.0%,#236ff9 56.7%,#4d7bfa 58.3%,#6b88f9 60.0%,#8098f9 63.3%,#96acfa 73.3%,#99affa)"></i><i style="left:85.12px;width:2.38px;background:linear-gradient(#87a0fa,#748ef8 11.7%,#6583fa 15.0%,#146cf9 20.0%,#0370f1 21.7%,#007bc9 23.3%,#008891 25.0%,#1ba648 26.7%,#43c716 28.3%,#60e105 30.0%,#71ef00 31.7%,#80f500 36.7%,#7cf400 41.7%,#69ea02 45.0%,#52d409 46.7%,#29b32c 48.3%,#028e7d 50.0%,#007dbc 51.7%,#0271f0 53.3%,#1c6df9 55.0%,#487afa 56.7%,#6b87f9 58.3%,#8099f9 61.7%,#96adfa 71.7%,#99affa)"></i><i style="left:87.20px;width:2.38px;background:linear-gradient(#87a0fa,#748ef8 11.7%,#6583fa 15.0%,#146cf9 20.0%,#0370f1 21.7%,#007bc9 23.3%,#008891 25.0%,#1ba648 26.7%,#43c716 28.3%,#60e105 30.0%,#71ef00 31.7%,#80f500 36.7%,#7cf400 41.7%,#69ea02 45.0%,#52d409 46.7%,#29b32c 48.3%,#028e7d 50.0%,#007dbc 51.7%,#0271f0 53.3%,#1c6df9 55.0%,#487afa 56.7%,#6b87f9 58.3%,#8099f9 61.7%,#96adfa 71.7%,#99affa)"></i><i style="left:89.27px;width:2.38px;background:linear-gradient(#87a0fa,#748ef8 11.7%,#6583fa 15.0%,#146cf9 20.0%,#0370f1 21.7%,#007bc9 23.3%,#008891 25.0%,#1ba648 26.7%,#43c716 28.3%,#60e105 30.0%,#71ef00 31.7%,#80f500 36.7%,#7cf400 41.7%,#69ea02 45.0%,#52d409 46.7%,#29b32c 48.3%,#028e7d 50.0%,#007dbc 51.7%,#0271f0 53.3%,#1c6df9 55.0%,#487afa 56.7%,#6b87f9 58.3%,#8099f9 61.7%,#96adfa 71.7%,#99affa)"></i><i style="left:91.35px;width:2.38px;background:linear-gradient(#87a0fa,#748ef8 11.7%,#6583fa 15.0%,#146cf9 20.0%,#0370f1 21.7%,#007bc9 23.3%,#008891 25.0%,#1ba648 26.7%,#43c716 28.3%,#60e105 30.0%,#71ef00 31.7%,#80f500 36.7%,#7cf400 41.7%,#69ea02 45.0%,#52d409 46.7%,#29b32c 48.3%,#028e7d 50.0%,#007dbc 51.7%,#0271f0 53.3%,#1c6df9 55.0%,#487afa 56.7%,#6b87f9 58.3%,#8099f9 61.7%,#96adfa 71.7%,#99affa)"></i><i style="left:93.42px;width:2.38px;background:linear-gradient(#87a0fa,#748ef8 11.7%,#6583fa 15.0%,#146cf9 20.0%,#0370f1 21.7%,#007bc9 23.3%,#008891 25.0%,#1ba648 26.7%,#43c716 28.3%,#60e105 30.0%,#71ef00 31.7%,#80f500 36.7%,#7cf400 41.7%,#69ea02 45.0%,#52d409 46.7%,#29b32c 48.3%,#028e7d 50.0%,#007dbc 51.7%,#0271f0 53.3%,#1c6df9 55.0%,#487afa 56.7%,#6b87f9 58.3%,#8099f9 61.7%,#96adfa 71.7%,#99affa)"></i><i style="left:95.50px;width:2.38px;background:linear-gradient(#87a0fa,#748ef8 11.7%,#6583fa 15.0%,#146cf9 20.0%,#0370f1 21.7%,#007bc9 23.3%,#008891 25.0%,#1ba648 26.7%,#43c716 28.3%,#60e105 30.0%,#71ef00 31.7%,#80f500 36.7%,#7cf400 41.7%,#69ea02 45.0%,#52d409 46.7%,#29b32c 48.3%,#028e7d 50.0%,#007dbc 51.7%,#0271f0 53.3%,#1c6df9 55.0%,#487afa 56.7%,#6b87f9 58.3%,#8099f9 61.7%,#96adfa 71.7%,#99affa)"></i><i style="left:97.58px;width:2.38px;background:linear-gradient(#87a0fa,#748ef8 11.7%,#6583fa 15.0%,#146cf9 20.0%,#0370f1 21.7%,#007bc9 23.3%,#008891 25.0%,#1ba648 26.7%,#43c716 28.3%,#60e105 30.0%,#71ef00 31.7%,#80f500 36.7%,#7cf400 41.7%,#69ea02 45.0%,#52d409 46.7%,#29b32c 48.3%,#028e7d 50.0%,#007dbc 51.7%,#0271f0 53.3%,#1c6df9 55.0%,#487afa 56.7%,#6b87f9 58.3%,#8099f9 61.7%,#96adfa 71.7%,#99affa)"></i><i style="left:99.65px;width:2.38px;background:linear-gradient(#87a0fa,#748ef8 11.7%,#6583fa 15.0%,#146cf9 20.0%,#0370f1 21.7%,#007bc9 23.3%,#008891 25.0%,#1ba648 26.7%,#43c716 28.3%,#60e105 30.0%,#71ef00 31.7%,#80f500 36.7%,#7cf400 41.7%,#69ea02 45.0%,#52d409 46.7%,#29b32c 48.3%,#028e7d 50.0%,#007dbc 51.7%,#0271f0 53.3%,#1c6df9 55.0%,#487afa 56.7%,#6b87f9 58.3%,#8099f9 61.7%,#96adfa 71.7%,#99affa)"></i></div></div>
<div class="p" style="left:177.20px;top:139.60px"><div class="q" style="left:-3.11px;width:101.73px"><i style="left:0.00px;width:2.38px;background:linear-gradient(#7891f8,#6382fa 10.0%,#3975fa 13.3%,#056ef3 16.7%,#007aca 18.3%,#008c82 20.0%,#37be20 21.7%,#6cec01 23.3%,#84f700 25.0%,#d2f800 30.0%,#e9f700 33.3%,#eaf600 38.3%,#def700 40.0%,#c3f900 41.7%,#75f100 45.0%,#2cb529 46.7%,#007eba 48.3%,#0d6af8 50.0%,#4a7afa 51.7%,#6d89f9 53.3%,#7e96f9 56.7%,#9ab0fa 76.7%,#9db3fa)"></i><i style="left:2.08px;width:2.38px;background:linear-gradient(#7891f8,#6382fa 10.0%,#3975fa 13.3%,#056ef3 16.7%,#007aca 18.3%,#008c82 20.0%,#37be20 21.7%,#6cec01 23.3%,#84f700 25.0%,#d2f800 30.0%,#e9f700 33.3%,#eaf600 38.3%,#def700 40.0%,#c3f900 41.7%,#75f100 45.0%,#2cb529 46.7%,#007eba 48.3%,#0d6af8 50.0%,#4a7afa 51.7%,#6d89f9 53.3%,#7e96f9 56.7%,#9ab0fa 76.7%,#9db3fa)"></i><i style="left:4.15px;width:2.38px;background:linear-gradient(#7891f8,#6281fa 10.0%,#3b76fa 13.3%,#066df4 16.7%,#007ace 18.3%,#008b85 20.0%,#36be20 21.7%,#6eee00 23.3%,#86f800 25.0%,#def700 30.0%,#f8f600 33.3%,#faf500 38.3%,#eff600 40.0%,#d4f800 41.7%,#7ef400 45.0%,#41c617 46.7%,#0083a4 48.3%,#076cf5 50.0%,#3f77fa 51.7%,#6a87f9 53.3%,#7891f8 55.0%,#99affa 75.0%,#9db3fa)"></i><i style="left:6.23px;width:2.38px;background:linear-gradient(#7791f8,#6081fa 10.0%,#3e76fa 13.3%,#086bf6 16.7%,#0077da 18.3%,#008891 20.0%,#30b926 21.7%,#6eee00 23.3%,#8af800 25.0%,#d9f800 28.3%,#f8f500 30.0%,#ffe300 33.3%,#ffdf00 38.3%,#ffe500 40.0%,#fef500 41.7%,#d2f800 43.3%,#9af900 45.0%,#6beb01 46.7%,#0f9a63 48.3%,#0075e4 50.0%,#2670f9 51.7%,#5f80fa 53.3%,#728df9 55.0%,#859df9 61.7%,#9bb1fa 80.0%,#9db3fa)"></i><i style="left:8.30px;width:2.38px;background:linear-gradient(#7790f8,#5f80fa 10.0%,#4077fa 13.3%,#0c6af8 16.7%,#0074e8 18.3%,#0084a1 20.0%,#26b032 21.7%,#6aea01 23.3%,#8cf800 25.0%,#eaf700 28.3%,#ffe900 30.0%,#ffcc00 33.3%,#ffc700 38.3%,#ffcb00 40.0%,#ffd900 41.7%,#fef500 43.3%,#befa00 45.0%,#81f600 46.7%,#3ac11d 48.3%,#007fb6 50.0%,#0d6af8 51.7%,#497afa 53.3%,#6c88f9 55.0%,#7c95f8 58.3%,#9ab0fa 78.3%,#9db3fa)"></i><i style="left:10.38px;width:2.38px;background:linear-gradient(#7790f8,#5e80fa 10.0%,#4177fa 13.3%,#106af8 16.7%,#0073ee 18.3%,#0082a9 20.0%,#21ab3c 21.7%,#67e702 23.3%,#8bf800 25.0%,#f0f600 28.3%,#ffe300 30.0%,#ffcf00 31.7%,#ffbf00 35.0%,#ffc100 40.0%,#ffce00 41.7%,#ffe900 43.3%,#d1f800 45.0%,#8cf800 46.7%,#50d20a 48.3%,#0084a1 50.0%,#076cf5 51.7%,#3f77fa 53.3%,#6986fa 55.0%,#7c94f8 58.3%,#9ab0fa 78.3%,#9db3fa)"></i><i style="left:12.46px;width:2.38px;background:linear-gradient(#7891f8,#6081fa 10.0%,#4579fa 13.3%,#186cf9 16.7%,#0370f1 18.3%,#007ebb 20.0%,#149f58 21.7%,#5dde06 23.3%,#85f700 25.0%,#eff600 28.3%,#ffe100 30.0%,#ffcc00 31.7%,#ffb900 35.0%,#ffbb00 40.0%,#ffc700 41.7%,#ffe200 43.3%,#dbf800 45.0%,#93f800 46.7%,#57d808 48.3%,#008797 50.0%,#066df4 51.7%,#6885fa 55.0%,#7b94f8 58.3%,#9ab0fa 78.3%,#9db3fa)"></i><i style="left:14.53px;width:2.38px;background:linear-gradient(#7a93f8,#6583fa 10.0%,#3f77fa 15.0%,#0d6af8 18.3%,#0075e6 20.0%,#008797 21.7%,#39bf1e 23.3%,#78f200 25.0%,#a8f900 26.7%,#e7f700 28.3%,#ffdf00 30.0%,#ffc400 31.7%,#ffac00 35.0%,#ffac00 40.0%,#ffb800 41.7%,#ffd100 43.3%,#f4f600 45.0%,#a4f900 46.7%,#67e802 48.3%,#018d81 50.0%,#0370f1 51.7%,#3273fa 53.3%,#6583fa 55.0%,#7a93f8 58.3%,#9ab0fa 78.3%,#9db3fa)"></i><i style="left:16.61px;width:2.38px;background:linear-gradient(#7d96f9,#6382fa 11.7%,#3875fa 16.7%,#076cf5 20.0%,#007acb 21.7%,#0e9a63 23.3%,#61e204 25.0%,#93f800 26.7%,#d7f800 28.3%,#ffe100 30.0%,#ffc000 31.7%,#ffab00 33.3%,#ff9b00 36.7%,#ff9d00 40.0%,#ffa900 41.7%,#ffc100 43.3%,#ffec00 45.0%,#b6fa00 46.7%,#74f000 48.3%,#109b60 50.0%,#0074eb 51.7%,#2a71fa 53.3%,#6081fa 55.0%,#718cf9 56.7%,#849cf9 63.3%,#9bb1fa 80.0%,#9db3fa)"></i><i style="left:18.68px;width:2.38px;background:linear-gradient(#7e97f9,#6583fa 11.7%,#3d76fa 16.7%,#0b69f8 20.0%,#0076df 21.7%,#008b86 23.3%,#52d409 25.0%,#88f800 26.7%,#cef900 28.3%,#ffe400 30.0%,#ffbf00 31.7%,#ffa700 33.3%,#ff9a00 35.0%,#ff9400 38.3%,#ff9700 40.0%,#ffa200 41.7%,#ffbb00 43.3%,#ffe500 45.0%,#befa00 46.7%,#78f200 48.3%,#16a152 50.0%,#0075e4 51.7%,#2770f9 53.3%,#5d80fa 55.0%,#708bf9 56.7%,#8199f9 61.7%,#9bb1fa 80.0%,#9db3fa)"></i><i style="left:20.76px;width:2.38px;background:linear-gradient(#7e97f9,#6583fa 11.7%,#3e76fa 16.7%,#0c69f8 20.0%,#0076e0 21.7%,#008b87 23.3%,#52d309 25.0%,#87f800 26.7%,#cdf900 28.3%,#ffe500 30.0%,#ffbf00 31.7%,#ffa800 33.3%,#ff9a00 35.0%,#ff9500 38.3%,#ff9700 40.0%,#ffa200 41.7%,#ffbb00 43.3%,#ffe400 45.0%,#bffa00 46.7%,#78f200 48.3%,#17a251 50.0%,#0075e3 51.7%,#2670f9 53.3%,#5d80fa 55.0%,#708bf9 56.7%,#8199f9 61.7%,#9bb1fa 80.0%,#9db3fa)"></i><i style="left:22.84px;width:2.38px;background:linear-gradient(#7e97f9,#6583fa 11.7%,#3e77fa 16.7%,#0d6af8 20.0%,#0076e2 21.7%,#008a8a 23.3%,#4fd20b 25.0%,#86f800 26.7%,#caf900 28.3%,#ffe600 30.0%,#ffc000 31.7%,#ffa900 33.3%,#ff9b00 35.0%,#ff9500 38.3%,#ff9800 40.0%,#ffa300 41.7%,#ffbb00 43.3%,#ffe400 45.0%,#c0f900 46.7%,#79f200 48.3%,#19a44d 50.0%,#0076e1 51.7%,#2570f9 53.3%,#5c80fa 55.0%,#708bf9 56.7%,#8199f9 61.7%,#9bb1fa 80.0%,#9db3fa)"></i><i style="left:24.91px;width:2.38px;background:linear-gradient(#7e97f9,#6683fa 11.7%,#3f77fa 16.7%,#0e6af8 20.0%,#0075e5 21.7%,#00898e 23.3%,#4bce0e 25.0%,#84f700 26.7%,#c6f900 28.3%,#ffe900 30.0%,#ffc200 31.7%,#ffaa00 33.3%,#ff9c00 35.0%,#ff9600 38.3%,#ff9800 40.0%,#ffa300 41.7%,#ffba00 43.3%,#ffe300 45.0%,#c3f900 46.7%,#7af300 48.3%,#1ca647 50.0%,#0076de 51.7%,#246ff9 53.3%,#5b7ffa 55.0%,#708bf9 56.7%,#8199f9 61.7%,#9bb1fa 80.0%,#9db3fa)"></i><i style="left:26.99px;width:2.38px;background:linear-gradient(#7e97f9,#6684fa 11.7%,#4177fa 16.7%,#106bf8 20.0%,#0074e9 21.7%,#008894 23.3%,#45c913 25.0%,#82f600 26.7%,#c2f900 28.3%,#ffec00 30.0%,#ffc500 31.7%,#ffac00 33.3%,#ff9e00 35.0%,#ff9700 38.3%,#ff9900 40.0%,#ffa300 41.7%,#ffba00 43.3%,#ffe200 45.0%,#c5f900 46.7%,#7cf300 48.3%,#1faa40 50.0%,#0077da 51.7%,#226ff9 53.3%,#597ffa 55.0%,#6f8af9 56.7%,#8199f9 61.7%,#9bb1fa 80.0%,#9db3fa)"></i><i style="left:29.07px;width:2.38px;background:linear-gradient(#7f97f9,#6784fa 11.7%,#527dfa 15.0%,#2d72fa 18.3%,#126bf8 20.0%,#0073ed 21.7%,#00869a 23.3%,#3fc419 25.0%,#7ff500 26.7%,#bcfa00 28.3%,#ffef00 30.0%,#ffc700 31.7%,#ffae00 33.3%,#ffa000 35.0%,#ff9900 38.3%,#ffa400 41.7%,#ffba00 43.3%,#ffe000 45.0%,#c9f900 46.7%,#7df400 48.3%,#23ad38 50.0%,#0078d6 51.7%,#1f6ef9 53.3%,#587efa 55.0%,#6f8af9 56.7%,#7d96f9 60.0%,#9ab0fa 78.3%,#9db3fa)"></i><i style="left:31.14px;width:2.38px;background:linear-gradient(#7f97f9,#6784fa 11.7%,#537dfa 15.0%,#2f72fa 18.3%,#146cf9 20.0%,#0172ef 21.7%,#0085a0 23.3%,#39c01e 25.0%,#7df400 26.7%,#b7fa00 28.3%,#fff200 30.0%,#ffca00 31.7%,#ffb000 33.3%,#ffa100 35.0%,#ff9a00 38.3%,#ffa400 41.7%,#ffba00 43.3%,#ffdf00 45.0%,#ccf900 46.7%,#7ff500 48.3%,#27b130 50.0%,#0079d1 51.7%,#1d6ef9 53.3%,#567efa 55.0%,#6e8af9 56.7%,#7d96f9 60.0%,#9ab0fa 78.3%,#9db3fa)"></i><i style="left:33.22px;width:2.38px;background:linear-gradient(#7f97f9,#6784fa 11.7%,#547dfa 15.0%,#3073fa 18.3%,#166cf9 20.0%,#0271f0 21.7%,#0083a5 23.3%,#34bb23 25.0%,#7af300 26.7%,#b4fa00 28.3%,#fff500 30.0%,#ffcc00 31.7%,#ffb200 33.3%,#ffa300 35.0%,#ff9b00 38.3%,#ffa500 41.7%,#ffb900 43.3%,#ffde00 45.0%,#cef800 46.7%,#81f600 48.3%,#2bb42b 50.0%,#007acd 51.7%,#1b6df9 53.3%,#547dfa 55.0%,#6e89f9 56.7%,#7d95f9 60.0%,#9ab0fa 78.3%,#9db3fa)"></i><i style="left:35.29px;width:2.38px;background:linear-gradient(#7f98f9,#6885fa 11.7%,#557dfa 15.0%,#3173fa 18.3%,#186cf9 20.0%,#0271f0 21.7%,#0082a9 23.3%,#2fb827 25.0%,#79f200 26.7%,#b1fa00 28.3%,#fbf500 30.0%,#ffce00 31.7%,#ffb400 33.3%,#ffa400 35.0%,#ff9c00 38.3%,#ffa500 41.7%,#ffb900 43.3%,#ffdd00 45.0%,#d0f800 46.7%,#82f600 48.3%,#2eb728 50.0%,#007aca 51.7%,#196df9 53.3%,#537dfa 55.0%,#6e89f9 56.7%,#7d95f9 60.0%,#9bb0fa 80.0%,#9db3fa)"></i><i style="left:37.37px;width:2.38px;background:linear-gradient(#7f98f9,#6885fa 11.7%,#557efa 15.0%,#3273fa 18.3%,#196df9 20.0%,#0370f1 21.7%,#0081ac 23.3%,#2cb629 25.0%,#78f200 26.7%,#affa00 28.3%,#f9f500 30.0%,#ffcf00 31.7%,#ffb500 33.3%,#ffa500 35.0%,#ff9c00 38.3%,#ffa600 41.7%,#ffb900 43.3%,#ffdd00 45.0%,#d2f800 46.7%,#83f600 48.3%,#30b926 50.0%,#007bc8 51.7%,#186df9 53.3%,#527dfa 55.0%,#6d89f9 56.7%,#7d95f9 60.0%,#9bb0fa 80.0%,#9db3fa)"></i><i style="left:39.45px;width:2.38px;background:linear-gradient(#7f98f9,#6885fa 11.7%,#557efa 15.0%,#3273fa 18.3%,#196df9 20.0%,#0370f1 21.7%,#0081ad 23.3%,#2cb52a 25.0%,#77f200 26.7%,#aefa00 28.3%,#f8f600 30.0%,#ffd000 31.7%,#ffb500 33.3%,#ffa500 35.0%,#ff9d00 38.3%,#ffa600 41.7%,#ffb900 43.3%,#ffdd00 45.0%,#d2f800 46.7%,#83f600 48.3%,#31b925 50.0%,#007bc7 51.7%,#186cf9 53.3%,#517cfa 55.0%,#6d89f9 56.7%,#7d95f9 60.0%,#9bb0fa 80.0%,#9db3fa)"></i><i style="left:41.52px;width:2.38px;background:linear-gradient(#7e97f9,#6784fa 13.3%,#6081fa 15.0%,#3875fa 18.3%,#1b6df9 20.0%,#0370f1 21.7%,#0080b2 23.3%,#1fa941 25.0%,#68e802 26.7%,#8cf800 28.3%,#eaf700 31.7%,#ffec00 33.3%,#ffd700 36.7%,#ffda00 41.7%,#ffe600 43.3%,#f1f600 45.0%,#84f700 48.3%,#4bce0e 50.0%,#00869b 51.7%,#056ef3 53.3%,#3674fa 55.0%,#6684fa 56.7%,#7b94f8 60.0%,#9ab0fa 81.7%,#9db3fa)"></i><i style="left:43.60px;width:2.38px;background:linear-gradient(#7f97f9,#6c88f9 13.3%,#5a7ffa 16.7%,#216ff9 20.0%,#066df4 21.7%,#007bc7 23.3%,#069176 25.0%,#41c617 26.7%,#71ef00 28.3%,#a2f900 31.7%,#c7f900 35.0%,#d3f800 38.3%,#d0f800 41.7%,#c6f900 43.3%,#b2fa00 45.0%,#78f200 48.3%,#46ca13 50.0%,#008a8b 51.7%,#0073ec 53.3%,#246ff9 55.0%,#597ffa 56.7%,#708bf9 58.3%,#7e97f9 61.7%,#9bb0fa 85.0%,#9db3fa)"></i><i style="left:45.67px;width:2.38px;background:linear-gradient(#859ef9,#7790f8 18.3%,#6a86f9 21.7%,#597ffa 23.3%,#126bf8 26.7%,#0073ed 28.3%,#0080b1 30.0%,#0a966d 31.7%,#31b925 33.3%,#55d708 35.0%,#68e902 36.7%,#76f100 40.0%,#74f000 48.3%,#64e503 51.7%,#53d509 53.3%,#36bd21 55.0%,#16a154 56.7%,#008894 58.3%,#007bc9 60.0%,#0370f1 61.7%,#176cf9 63.3%,#5d80fa 66.7%,#7790f8 70.0%,#8aa2fa 85.0%,#97adfa)"></i><i style="left:47.75px;width:2.38px;background:linear-gradient(#8ca4fa,#7b94f8 25.0%,#6c88f9 28.3%,#5a7ffa 30.0%,#176cf9 33.3%,#046ff2 35.0%,#0077dc 36.7%,#0084a2 40.0%,#008b87 43.3%,#008c83 50.0%,#008890 55.0%,#007fb6 60.0%,#0172ef 65.0%,#136bf8 68.3%,#6784fa 75.0%,#7b94f8 80.0%,#8da5fa)"></i><i style="left:49.83px;width:2.38px;background:linear-gradient(#8da4fa,#7c95f8 28.3%,#6784fa 33.3%,#096af7 40.0%,#0074e9 43.3%,#007ace 46.7%,#007cc4 51.7%,#007acb 61.7%,#0370f1 71.7%,#096af7 75.0%,#3b76fa 81.7%,#6784fa 86.7%,#7d96f9 95.0%,#839bf9)"></i><i style="left:51.90px;width:2.38px;background:linear-gradient(#8fa6fa,#7e97f9 31.7%,#708bf9 36.7%,#587efa 40.0%,#216ff9 45.0%,#0b69f8 48.3%,#056ef3 65.0%,#0e6af8 78.3%,#3775fa 88.3%,#6382fa 95.0%,#718cf9)"></i><i style="left:53.98px;width:2.38px;background:linear-gradient(#8ca4fa,#7d96f9 33.3%,#6b87f9 40.0%,#6482fa 41.7%,#246ff9 48.3%,#096af7 53.3%,#066df4 78.3%,#116bf8 88.3%,#3775fa 98.3%,#4177fa)"></i><i style="left:56.05px;width:2.38px;background:linear-gradient(#8ba3fa,#7d96f9 35.0%,#6785fa 43.3%,#2670f9 51.7%,#096af7 58.3%,#076cf5 88.3%,#106bf8 96.7%,#196df9)"></i><i style="left:58.13px;width:2.38px;background:linear-gradient(#8ba3fa,#7d96f9 35.0%,#6785fa 43.3%,#2670f9 51.7%,#096af7 58.3%,#076cf5 88.3%,#106bf8 96.7%,#196df9)"></i><i style="left:60.21px;width:2.38px;background:linear-gradient(#8ba3fa,#7d96f9 35.0%,#6785fa 43.3%,#2670f9 51.7%,#096af7 58.3%,#076cf5 88.3%,#106bf8 96.7%,#196df9)"></i><i style="left:62.28px;width:2.38px;background:linear-gradient(#8ba3fa,#7d96f9 35.0%,#6785fa 43.3%,#2670f9 51.7%,#096af7 58.3%,#076cf5 88.3%,#106bf8 96.7%,#196df9)"></i><i style="left:64.36px;width:2.38px;background:linear-gradient(#8ba3fa,#7d96f9 35.0%,#6785fa 43.3%,#2670f9 51.7%,#096af7 58.3%,#076cf5 88.3%,#106bf8 96.7%,#196df9)"></i><i style="left:66.43px;width:2.38px;background:linear-gradient(#8aa2fa,#7e97f9 31.7%,#6b87f9 40.0%,#6583fa 41.7%,#2b71fa 48.3%,#0a69f8 55.0%,#066df4 81.7%,#116bf8 91.7%,#2c71fa)"></i><i style="left:68.51px;width:2.38px;background:linear-gradient(#8aa2fa,#7d96f9 28.3%,#6c88f9 35.0%,#587efa 38.3%,#2b71fa 43.3%,#0a69f8 50.0%,#096af7 76.7%,#1c6df9 85.0%,#4478fa 93.3%,#6482fa 98.3%,#6885fa)"></i><i style="left:70.59px;width:2.38px;background:linear-gradient(#89a1fa,#7c95f8 26.7%,#6986f9 33.3%,#507cfa 36.7%,#2670f9 41.7%,#0c6af8 46.7%,#066df4 65.0%,#0d6af8 75.0%,#3373fa 85.0%,#6784fa 93.3%,#7992f8)"></i><i style="left:72.66px;width:2.38px;background:linear-gradient(#88a0fa,#7a93f8 23.3%,#6885fa 28.3%,#4679fa 31.7%,#136bf8 36.7%,#056ef3 40.0%,#0077da 50.0%,#0076e0 61.7%,#076cf5 71.7%,#156cf9 75.0%,#4a7afa 81.7%,#6784fa 85.0%,#7d96f9 93.3%,#859df9)"></i><i style="left:74.74px;width:2.38px;background:linear-gradient(#849cf9,#7992f8 15.0%,#6482fa 20.0%,#166cf9 25.0%,#066df4 26.7%,#0074ea 28.3%,#00859e 33.3%,#008c83 36.7%,#079274 41.7%,#049079 46.7%,#00869c 51.7%,#007bc9 55.0%,#0075e6 56.7%,#056ef3 58.3%,#146cf9 60.0%,#6684fa 65.0%,#7d96f9 70.0%,#98aefa)"></i><i style="left:76.82px;width:2.38px;background:linear-gradient(#829af9,#7891f8 11.7%,#6a87f9 15.0%,#597ffa 16.7%,#1d6ef9 20.0%,#076cf5 21.7%,#0075e3 23.3%,#059078 28.3%,#149f58 30.0%,#1ea843 31.7%,#27b12f 35.0%,#26b031 40.0%,#20aa3f 41.7%,#139e5a 43.3%,#008b84 45.0%,#0076e1 48.3%,#096af7 50.0%,#5e80fa 53.3%,#718cf9 55.0%,#839cf9 60.0%,#9bb1fa 85.0%,#9db3fa)"></i><i style="left:78.89px;width:2.38px;background:linear-gradient(#8199f9,#738df9 11.7%,#5d80fa 15.0%,#086bf6 20.0%,#0075e6 21.7%,#008796 25.0%,#0a956e 26.7%,#1ba648 28.3%,#28b22d 30.0%,#39bf1f 33.3%,#3bc11d 38.3%,#2ab42b 41.7%,#19a44d 43.3%,#008c82 45.0%,#0074eb 48.3%,#126bf8 50.0%,#6684fa 53.3%,#7c95f8 56.7%,#9ab0fa 81.7%,#9db3fa)"></i><i style="left:80.97px;width:2.38px;background:linear-gradient(#7d96f9,#718cf9 8.3%,#5b7ffa 11.7%,#076cf5 16.7%,#0076e2 18.3%,#008b86 21.7%,#19a44d 23.3%,#32ba24 25.0%,#48cc11 26.7%,#5dde06 30.0%,#62e204 36.7%,#54d609 40.0%,#3ec41a 41.7%,#1da844 43.3%,#00898e 45.0%,#007ace 46.7%,#076cf5 48.3%,#2e72fa 50.0%,#5e80fa 51.7%,#718cf9 53.3%,#839bf9 58.3%,#9bb1fa 83.3%,#9db3fa)"></i><i style="left:83.04px;width:2.38px;background:linear-gradient(#7992f8,#6885fa 6.7%,#597ffa 8.3%,#086bf6 13.3%,#0076e1 15.0%,#04907a 18.3%,#24ae36 20.0%,#46ca13 21.7%,#5dde06 23.3%,#6cec01 25.0%,#79f300 31.7%,#76f100 36.7%,#70ef00 38.3%,#5fe005 40.0%,#3ec41a 41.7%,#109b60 43.3%,#0080b1 45.0%,#0271f0 46.7%,#216ff9 48.3%,#527dfa 50.0%,#6e89f9 51.7%,#7e97f9 55.0%,#9ab0fa 80.0%,#9db3fa)"></i><i style="left:85.12px;width:2.38px;background:linear-gradient(#7790f8,#6986fa 5.0%,#5c80fa 6.7%,#096af7 11.7%,#0074ea 13.3%,#008c83 16.7%,#21ac3b 18.3%,#46ca13 20.0%,#60e105 21.7%,#70ef00 23.3%,#80f500 30.0%,#7bf300 36.7%,#73f000 38.3%,#60e105 40.0%,#37be20 41.7%,#069275 43.3%,#007cc5 45.0%,#076cf5 46.7%,#2f72fa 48.3%,#6081fa 50.0%,#728cf9 51.7%,#829af9 56.7%,#9bb1fa 81.7%,#9db3fa)"></i><i style="left:87.20px;width:2.38px;background:linear-gradient(#7790f8,#6986fa 5.0%,#5c80fa 6.7%,#096af7 11.7%,#0074ea 13.3%,#008c83 16.7%,#21ac3b 18.3%,#46ca13 20.0%,#60e105 21.7%,#70ef00 23.3%,#80f500 30.0%,#7bf300 36.7%,#73f000 38.3%,#60e105 40.0%,#37be20 41.7%,#069275 43.3%,#007cc5 45.0%,#076cf5 46.7%,#2f72fa 48.3%,#6081fa 50.0%,#728cf9 51.7%,#829af9 56.7%,#9bb1fa 81.7%,#9db3fa)"></i><i style="left:89.27px;width:2.38px;background:linear-gradient(#7790f8,#6986fa 5.0%,#5c80fa 6.7%,#096af7 11.7%,#0074ea 13.3%,#008c83 16.7%,#21ac3b 18.3%,#46ca13 20.0%,#60e105 21.7%,#70ef00 23.3%,#80f500 30.0%,#7bf300 36.7%,#73f000 38.3%,#60e105 40.0%,#37be20 41.7%,#069275 43.3%,#007cc5 45.0%,#076cf5 46.7%,#2f72fa 48.3%,#6081fa 50.0%,#728cf9 51.7%,#829af9 56.7%,#9bb1fa 81.7%,#9db3fa)"></i><i style="left:91.35px;width:2.38px;background:linear-gradient(#7790f8,#6986fa 5.0%,#5c80fa 6.7%,#096af7 11.7%,#0074ea 13.3%,#008c83 16.7%,#21ac3b 18.3%,#46ca13 20.0%,#60e105 21.7%,#70ef00 23.3%,#80f500 30.0%,#7bf300 36.7%,#73f000 38.3%,#60e105 40.0%,#37be20 41.7%,#069275 43.3%,#007cc5 45.0%,#076cf5 46.7%,#2f72fa 48.3%,#6081fa 50.0%,#728cf9 51.7%,#829af9 56.7%,#9bb1fa 81.7%,#9db3fa)"></i><i style="left:93.42px;width:2.38px;background:linear-gradient(#7790f8,#6986fa 5.0%,#5c80fa 6.7%,#096af7 11.7%,#0074ea 13.3%,#008c83 16.7%,#21ac3b 18.3%,#46ca13 20.0%,#60e105 21.7%,#70ef00 23.3%,#80f500 30.0%,#7bf300 36.7%,#73f000 38.3%,#60e105 40.0%,#37be20 41.7%,#069275 43.3%,#007cc5 45.0%,#076cf5 46.7%,#2f72fa 48.3%,#6081fa 50.0%,#728cf9 51.7%,#829af9 56.7%,#9bb1fa 81.7%,#9db3fa)"></i><i style="left:95.50px;width:2.38px;background:linear-gradient(#7790f8,#6986fa 5.0%,#5c80fa 6.7%,#096af7 11.7%,#0074ea 13.3%,#008c83 16.7%,#21ac3b 18.3%,#46ca13 20.0%,#60e105 21.7%,#70ef00 23.3%,#80f500 30.0%,#7bf300 36.7%,#73f000 38.3%,#60e105 40.0%,#37be20 41.7%,#069275 43.3%,#007cc5 45.0%,#076cf5 46.7%,#2f72fa 48.3%,#6081fa 50.0%,#728cf9 51.7%,#829af9 56.7%,#9bb1fa 81.7%,#9db3fa)"></i><i style="left:97.58px;width:2.38px;background:linear-gradient(#7790f8,#6986fa 5.0%,#5c80fa 6.7%,#096af7 11.7%,#0074ea 13.3%,#008c83 16.7%,#21ac3b 18.3%,#46ca13 20.0%,#60e105 21.7%,#70ef00 23.3%,#80f500 30.0%,#7bf300 36.7%,#73f000 38.3%,#60e105 40.0%,#37be20 41.7%,#069275 43.3%,#007cc5 45.0%,#076cf5 46.7%,#2f72fa 48.3%,#6081fa 50.0%,#728cf9 51.7%,#829af9 56.7%,#9bb1fa 81.7%,#9db3fa)"></i><i style="left:99.65px;width:2.38px;background:linear-gradient(#7790f8,#6986fa 5.0%,#5c80fa 6.7%,#096af7 11.7%,#0074ea 13.3%,#008c83 16.7%,#21ac3b 18.3%,#46ca13 20.0%,#60e105 21.7%,#70ef00 23.3%,#80f500 30.0%,#7bf300 36.7%,#73f000 38.3%,#60e105 40.0%,#37be20 41.7%,#069275 43.3%,#007cc5 45.0%,#076cf5 46.7%,#2f72fa 48.3%,#6081fa 50.0%,#728cf9 51.7%,#829af9 56.7%,#9bb1fa 81.7%,#9db3fa)"></i></div></div>
<div class="p" style="left:312.20px;top:139.60px"><div class="q" style="left:-3.11px;width:101.73px"><i style="left:0.00px;width:2.38px;background:linear-gradient(#819af9,#6c88f9 13.3%,#5e80fa 16.7%,#4a7afa 18.3%,#096af7 21.7%,#0079cf 23.3%,#0d9867 25.0%,#5cdd06 26.7%,#87f800 28.3%,#e7f700 31.7%,#ffef00 33.3%,#ffdf00 36.7%,#ffe000 40.0%,#ffeb00 41.7%,#edf600 43.3%,#b6fa00 45.0%,#81f500 46.7%,#3dc31a 48.3%,#0080b1 50.0%,#0b69f8 51.7%,#497afa 53.3%,#6d88f9 55.0%,#7d96f9 58.3%,#9ab0fa 78.3%,#9db3fa)"></i><i style="left:2.08px;width:2.38px;background:linear-gradient(#819af9,#6c88f9 13.3%,#5e80fa 16.7%,#4a7afa 18.3%,#096af7 21.7%,#0079cf 23.3%,#0d9867 25.0%,#5cdd06 26.7%,#87f800 28.3%,#e7f700 31.7%,#ffef00 33.3%,#ffdf00 36.7%,#ffe000 40.0%,#ffeb00 41.7%,#edf600 43.3%,#b6fa00 45.0%,#81f500 46.7%,#3dc31a 48.3%,#0080b1 50.0%,#0b69f8 51.7%,#497afa 53.3%,#6d88f9 55.0%,#7d96f9 58.3%,#9ab0fa 78.3%,#9db3fa)"></i><i style="left:4.15px;width:2.38px;background:linear-gradient(#819af9,#6b87f9 13.3%,#5c80fa 16.7%,#487afa 18.3%,#096af7 21.7%,#007acb 23.3%,#109c5f 25.0%,#60e105 26.7%,#8bf800 28.3%,#eef600 31.7%,#ffeb00 33.3%,#ffda00 36.7%,#ffdc00 40.0%,#ffe600 41.7%,#f3f600 43.3%,#83f600 46.7%,#43c716 48.3%,#0081ac 50.0%,#0a69f8 51.7%,#4779fa 53.3%,#6c88f9 55.0%,#7d96f9 58.3%,#9ab0fa 78.3%,#9db3fa)"></i><i style="left:6.23px;width:2.38px;background:linear-gradient(#8199f9,#6986f9 13.3%,#6582fa 15.0%,#4278fa 18.3%,#076cf5 21.7%,#007dc0 23.3%,#1ba54a 25.0%,#6beb01 26.7%,#95f900 28.3%,#fff500 31.7%,#ffde00 33.3%,#ffd200 35.0%,#ffcf00 40.0%,#ffda00 41.7%,#fff100 43.3%,#cbf900 45.0%,#8bf800 46.7%,#51d30a 48.3%,#00859f 50.0%,#076cf5 51.7%,#4177fa 53.3%,#6a87f9 55.0%,#7c95f8 58.3%,#9ab0fa 78.3%,#9db3fa)"></i><i style="left:8.30px;width:2.38px;background:linear-gradient(#8098f9,#6b87f9 11.7%,#5f80fa 15.0%,#3a75fa 18.3%,#1e6ef9 20.0%,#046ff2 21.7%,#0081b0 23.3%,#28b22d 25.0%,#74f000 26.7%,#a4f900 28.3%,#e2f700 30.0%,#ffe500 31.7%,#ffce00 33.3%,#ffbe00 36.7%,#ffbf00 40.0%,#ffc900 41.7%,#ffe100 43.3%,#e1f700 45.0%,#99f900 46.7%,#5edf05 48.3%,#00898d 50.0%,#056ef3 51.7%,#3875fa 53.3%,#6885fa 55.0%,#7b94f8 58.3%,#9ab0fa 78.3%,#9db3fa)"></i><i style="left:10.38px;width:2.38px;background:linear-gradient(#7f98f9,#6482fa 13.3%,#487afa 16.7%,#166cf9 20.0%,#0172ef 21.7%,#00859f 23.3%,#3ac01e 25.0%,#7cf400 26.7%,#b3fa00 28.3%,#f7f600 30.0%,#ffd500 31.7%,#ffbe00 33.3%,#ffae00 36.7%,#ffb000 40.0%,#ffba00 41.7%,#ffd100 43.3%,#f7f600 45.0%,#a8f900 46.7%,#6bec01 48.3%,#059078 50.0%,#0271f0 51.7%,#3173fa 53.3%,#6583fa 55.0%,#7b93f8 58.3%,#9ab0fa 78.3%,#9db3fa)"></i><i style="left:12.46px;width:2.38px;background:linear-gradient(#7f97f9,#6784fa 11.7%,#537dfa 15.0%,#2d72fa 18.3%,#116bf8 20.0%,#0074e9 21.7%,#008893 23.3%,#46ca13 25.0%,#82f600 26.7%,#bffa00 28.3%,#ffef00 30.0%,#ffca00 31.7%,#ffb300 33.3%,#ffa200 36.7%,#ffa400 40.0%,#ffaf00 41.7%,#ffc600 43.3%,#fff000 45.0%,#b2fa00 46.7%,#72f000 48.3%,#0d9966 50.0%,#0073ee 51.7%,#2c71fa 53.3%,#6281fa 55.0%,#7a93f8 58.3%,#9ab0fa 78.3%,#9db3fa)"></i><i style="left:14.53px;width:2.38px;background:linear-gradient(#7e97f9,#6684fa 11.7%,#517cfa 15.0%,#2b71fa 18.3%,#0f6af8 20.0%,#0075e5 21.7%,#00898e 23.3%,#4bce0f 25.0%,#84f700 26.7%,#c4f900 28.3%,#ffeb00 30.0%,#ffc600 31.7%,#ffaf00 33.3%,#ff9d00 36.7%,#ff9f00 40.0%,#ffaa00 41.7%,#ffc200 43.3%,#ffec00 45.0%,#b6fa00 46.7%,#74f000 48.3%,#119c5f 50.0%,#0074ea 51.7%,#2a71fa 53.3%,#6081fa 55.0%,#718cf9 56.7%,#849df9 63.3%,#9bb1fa 80.0%,#9db3fa)"></i><i style="left:16.61px;width:2.38px;background:linear-gradient(#7e97f9,#6684fa 11.7%,#517cfa 15.0%,#2b71fa 18.3%,#0f6af8 20.0%,#0075e5 21.7%,#00898e 23.3%,#4bce0f 25.0%,#84f700 26.7%,#c4f900 28.3%,#ffeb00 30.0%,#ffc600 31.7%,#ffaf00 33.3%,#ff9d00 36.7%,#ff9f00 40.0%,#ffaa00 41.7%,#ffc200 43.3%,#ffec00 45.0%,#b6fa00 46.7%,#74f000 48.3%,#119c5f 50.0%,#0074ea 51.7%,#2a71fa 53.3%,#6081fa 55.0%,#718cf9 56.7%,#849df9 63.3%,#9bb1fa 80.0%,#9db3fa)"></i><i style="left:18.68px;width:2.38px;background:linear-gradient(#7e97f9,#6684fa 11.7%,#517cfa 15.0%,#2b71fa 18.3%,#0f6af8 20.0%,#0075e5 21.7%,#00898e 23.3%,#4bce0f 25.0%,#84f700 26.7%,#c4f900 28.3%,#ffeb00 30.0%,#ffc600 31.7%,#ffaf00 33.3%,#ff9d00 36.7%,#ff9f00 40.0%,#ffaa00 41.7%,#ffc200 43.3%,#ffec00 45.0%,#b6fa00 46.7%,#74f000 48.3%,#119c5f 50.0%,#0074ea 51.7%,#2a71fa 53.3%,#6081fa 55.0%,#718cf9 56.7%,#849df9 63.3%,#9bb1fa 80.0%,#9db3fa)"></i><i style="left:20.76px;width:2.38px;background:linear-gradient(#7e97f9,#6684fa 11.7%,#517cfa 15.0%,#2b71fa 18.3%,#0f6af8 20.0%,#0075e5 21.7%,#00898e 23.3%,#4bce0f 25.0%,#84f700 26.7%,#c4f900 28.3%,#ffeb00 30.0%,#ffc600 31.7%,#ffaf00 33.3%,#ff9d00 36.7%,#ff9f00 40.0%,#ffaa00 41.7%,#ffc200 43.3%,#ffec00 45.0%,#b6fa00 46.7%,#74f000 48.3%,#119c5f 50.0%,#0074ea 51.7%,#2a71fa 53.3%,#6081fa 55.0%,#718cf9 56.7%,#849df9 63.3%,#9bb1fa 80.0%,#9db3fa)"></i><i style="left:22.84px;width:2.38px;background:linear-gradient(#7e97f9,#6684fa 11.7%,#517cfa 15.0%,#2b71fa 18.3%,#0f6af8 20.0%,#0075e5 21.7%,#00898e 23.3%,#4bce0f 25.0%,#84f700 26.7%,#c4f900 28.3%,#ffeb00 30.0%,#ffc600 31.7%,#ffaf00 33.3%,#ff9d00 36.7%,#ff9f00 40.0%,#ffaa00 41.7%,#ffc200 43.3%,#ffec00 45.0%,#b6fa00 46.7%,#74f000 48.3%,#119c5f 50.0%,#0074ea 51.7%,#2a71fa 53.3%,#6081fa 55.0%,#718cf9 56.7%,#849df9 63.3%,#9bb1fa 80.0%,#9db3fa)"></i><i style="left:24.91px;width:2.38px;background:linear-gradient(#7e97f9,#6684fa 11.7%,#517cfa 15.0%,#2b71fa 18.3%,#0f6af8 20.0%,#0075e5 21.7%,#00898e 23.3%,#4bce0f 25.0%,#84f700 26.7%,#c4f900 28.3%,#ffeb00 30.0%,#ffc600 31.7%,#ffaf00 33.3%,#ff9d00 36.7%,#ff9f00 40.0%,#ffaa00 41.7%,#ffc200 43.3%,#ffec00 45.0%,#b6fa00 46.7%,#74f000 48.3%,#119c5f 50.0%,#0074ea 51.7%,#2a71fa 53.3%,#6081fa 55.0%,#718cf9 56.7%,#849df9 63.3%,#9bb1fa 80.0%,#9db3fa)"></i><i style="left:26.99px;width:2.38px;background:linear-gradient(#7e97f9,#6684fa 11.7%,#517cfa 15.0%,#2b71fa 18.3%,#0f6af8 20.0%,#0075e5 21.7%,#00898e 23.3%,#4bce0f 25.0%,#84f700 26.7%,#c4f900 28.3%,#ffeb00 30.0%,#ffc600 31.7%,#ffaf00 33.3%,#ff9d00 36.7%,#ff9f00 40.0%,#ffaa00 41.7%,#ffc200 43.3%,#ffec00 45.0%,#b6fa00 46.7%,#74f000 48.3%,#119c5f 50.0%,#0074ea 51.7%,#2a71fa 53.3%,#6081fa 55.0%,#718cf9 56.7%,#849df9 63.3%,#9bb1fa 80.0%,#9db3fa)"></i><i style="left:29.07px;width:2.38px;background:linear-gradient(#7e97f9,#6684fa 11.7%,#517cfa 15.0%,#2b71fa 18.3%,#0f6af8 20.0%,#0075e5 21.7%,#00898e 23.3%,#4bce0f 25.0%,#84f700 26.7%,#c4f900 28.3%,#ffeb00 30.0%,#ffc600 31.7%,#ffaf00 33.3%,#ff9d00 36.7%,#ff9f00 40.0%,#ffaa00 41.7%,#ffc200 43.3%,#ffec00 45.0%,#b6fa00 46.7%,#74f000 48.3%,#119c5f 50.0%,#0074ea 51.7%,#2a71fa 53.3%,#6081fa 55.0%,#718cf9 56.7%,#849df9 63.3%,#9bb1fa 80.0%,#9db3fa)"></i><i style="left:31.14px;width:2.38px;background:linear-gradient(#7e97f9,#6684fa 11.7%,#517cfa 15.0%,#2b71fa 18.3%,#0f6af8 20.0%,#0075e5 21.7%,#00898e 23.3%,#4bce0f 25.0%,#84f700 26.7%,#c4f900 28.3%,#ffeb00 30.0%,#ffc600 31.7%,#ffaf00 33.3%,#ff9d00 36.7%,#ff9f00 40.0%,#ffaa00 41.7%,#ffc200 43.3%,#ffec00 45.0%,#b6fa00 46.7%,#74f000 48.3%,#119c5f 50.0%,#0074ea 51.7%,#2a71fa 53.3%,#6081fa 55.0%,#718cf9 56.7%,#849df9 63.3%,#9bb1fa 80.0%,#9db3fa)"></i><i style="left:33.22px;width:2.38px;background:linear-gradient(#7e97f9,#6684fa 11.7%,#517cfa 15.0%,#2b71fa 18.3%,#0f6af8 20.0%,#0075e5 21.7%,#00898e 23.3%,#4bce0f 25.0%,#84f700 26.7%,#c4f900 28.3%,#ffeb00 30.0%,#ffc600 31.7%,#ffaf00 33.3%,#ff9d00 36.7%,#ff9f00 40.0%,#ffaa00 41.7%,#ffc200 43.3%,#ffec00 45.0%,#b6fa00 46.7%,#74f000 48.3%,#119c5f 50.0%,#0074ea 51.7%,#2a71fa 53.3%,#6081fa 55.0%,#718cf9 56.7%,#849df9 63.3%,#9bb1fa 80.0%,#9db3fa)"></i><i style="left:35.29px;width:2.38px;background:linear-gradient(#7e97f9,#6684fa 11.7%,#517cfa 15.0%,#2b71fa 18.3%,#0f6af8 20.0%,#0075e5 21.7%,#00898e 23.3%,#4bce0f 25.0%,#84f700 26.7%,#c4f900 28.3%,#ffeb00 30.0%,#ffc600 31.7%,#ffaf00 33.3%,#ff9d00 36.7%,#ff9f00 40.0%,#ffaa00 41.7%,#ffc200 43.3%,#ffec00 45.0%,#b6fa00 46.7%,#74f000 48.3%,#119c5f 50.0%,#0074ea 51.7%,#2a71fa 53.3%,#6081fa 55.0%,#718cf9 56.7%,#849df9 63.3%,#9bb1fa 80.0%,#9db3fa)"></i><i style="left:37.37px;width:2.38px;background:linear-gradient(#7e97f9,#6684fa 11.7%,#517cfa 15.0%,#2b71fa 18.3%,#0f6af8 20.0%,#0075e5 21.7%,#00898e 23.3%,#4bce0f 25.0%,#84f700 26.7%,#c4f900 28.3%,#ffeb00 30.0%,#ffc600 31.7%,#ffaf00 33.3%,#ff9d00 36.7%,#ff9f00 40.0%,#ffaa00 41.7%,#ffc200 43.3%,#ffec00 45.0%,#b6fa00 46.7%,#74f000 48.3%,#119c5f 50.0%,#0074ea 51.7%,#2a71fa 53.3%,#6081fa 55.0%,#718cf9 56.7%,#849df9 63.3%,#9bb1fa 80.0%,#9db3fa)"></i><i style="left:39.45px;width:2.38px;background:linear-gradient(#7e97f9,#6684fa 11.7%,#517cfa 15.0%,#2b71fa 18.3%,#0f6af8 20.0%,#0075e5 21.7%,#00898e 23.3%,#4bce0f 25.0%,#84f700 26.7%,#c4f900 28.3%,#ffeb00 30.0%,#ffc600 31.7%,#ffaf00 33.3%,#ff9d00 36.7%,#ff9f00 40.0%,#ffaa00 41.7%,#ffc200 43.3%,#ffec00 45.0%,#b6fa00 46.7%,#74f000 48.3%,#119c5f 50.0%,#0074ea 51.7%,#2a71fa 53.3%,#6081fa 55.0%,#718cf9 56.7%,#849df9 63.3%,#9bb1fa 80.0%,#9db3fa)"></i><i style="left:41.52px;width:2.38px;background:linear-gradient(#8098f9,#6b87f9 11.7%,#5f80fa 15.0%,#3a75fa 18.3%,#1e6ef9 20.0%,#046ff2 21.7%,#0081b0 23.3%,#28b22d 25.0%,#74f000 26.7%,#a4f900 28.3%,#e2f700 30.0%,#ffe500 31.7%,#ffce00 33.3%,#ffbe00 36.7%,#ffbf00 40.0%,#ffc900 41.7%,#ffe100 43.3%,#e1f700 45.0%,#99f900 46.7%,#5edf05 48.3%,#00898d 50.0%,#056ef3 51.7%,#3875fa 53.3%,#6885fa 55.0%,#7b94f8 58.3%,#9ab0fa 78.3%,#9db3fa)"></i><i style="left:43.60px;width:2.38px;background:linear-gradient(#819af9,#6c88f9 13.3%,#5e80fa 16.7%,#4a7afa 18.3%,#096af7 21.7%,#0079cf 23.3%,#0d9867 25.0%,#5cdd06 26.7%,#87f800 28.3%,#e7f700 31.7%,#ffef00 33.3%,#ffdf00 36.7%,#ffe000 40.0%,#ffeb00 41.7%,#edf600 43.3%,#b6fa00 45.0%,#81f500 46.7%,#3dc31a 48.3%,#0080b1 50.0%,#0b69f8 51.7%,#497afa 53.3%,#6d88f9 55.0%,#7d96f9 58.3%,#9ab0fa 78.3%,#9db3fa)"></i><i style="left:45.67px;width:2.38px;background:linear-gradient(#7d96f9,#6684fa 13.3%,#597ffa 15.0%,#2470f9 18.3%,#076cf5 20.0%,#007aca 21.7%,#079373 23.3%,#4bce0f 25.0%,#78f200 26.7%,#b8fa00 30.0%,#d7f800 31.7%,#ebf600 33.3%,#f9f500 36.7%,#f7f600 40.0%,#edf600 41.7%,#d8f800 43.3%,#8ff800 46.7%,#6ded00 48.3%,#22ac3a 50.0%,#007eba 51.7%,#086bf6 53.3%,#6684fa 56.7%,#7b94f8 60.0%,#9ab0fa 83.3%,#9db3fa)"></i><i style="left:47.75px;width:2.38px;background:linear-gradient(#7992f8,#6583fa 10.0%,#3a75fa 13.3%,#066df4 16.7%,#0078d7 18.3%,#00859c 20.0%,#19a34d 21.7%,#48cc11 23.3%,#6cec01 25.0%,#9af900 30.0%,#aefa00 35.0%,#aaf900 41.7%,#95f900 45.0%,#75f100 48.3%,#58da07 50.0%,#24ae36 51.7%,#008795 53.3%,#0077da 55.0%,#0a69f8 56.7%,#597ffa 60.0%,#6d89f9 61.7%,#7b94f8 65.0%,#9ab0fa 96.7%,#9bb1fa)"></i><i style="left:49.83px;width:2.38px;background:linear-gradient(#7891f8,#6583fa 8.3%,#3b76fa 11.7%,#086bf6 15.0%,#0075e6 16.7%,#018d7f 20.0%,#24ae36 21.7%,#4bce0e 23.3%,#65e603 25.0%,#7ef400 28.3%,#90f800 35.0%,#8df800 41.7%,#6eee00 48.3%,#55d608 50.0%,#2cb52a 51.7%,#059078 53.3%,#007fb7 55.0%,#0073ee 56.7%,#116bf8 58.3%,#587efa 61.7%,#6b88f9 63.3%,#7e96f9 68.3%,#99affa)"></i><i style="left:51.90px;width:2.38px;background:linear-gradient(#7891f8,#6482fa 8.3%,#076cf5 15.0%,#0076e1 16.7%,#018d7f 20.0%,#22ac3a 21.7%,#46ca13 23.3%,#60e105 25.0%,#71ef00 26.7%,#86f700 33.3%,#82f600 43.3%,#6ded00 48.3%,#58da07 50.0%,#37be20 51.7%,#139e5a 53.3%,#00869b 55.0%,#0079d0 56.7%,#046ff2 58.3%,#1a6df9 60.0%,#5b7ffa 63.3%,#748ef8 66.7%,#87a0fa 80.0%,#98aefa)"></i><i style="left:53.98px;width:2.38px;background:linear-gradient(#7991f8,#6885fa 6.7%,#5d80fa 8.3%,#156cf9 13.3%,#056ef3 15.0%,#0077db 16.7%,#008b86 20.0%,#19a44d 21.7%,#34bc22 23.3%,#4fd10b 25.0%,#6beb01 28.3%,#77f200 35.0%,#72f000 45.0%,#64e503 48.3%,#57d908 50.0%,#44c815 51.7%,#29b32c 53.3%,#00898e 56.7%,#0077dc 60.0%,#046ff2 61.7%,#126bf8 63.3%,#5e80fa 68.3%,#7992f8 73.3%,#93aafa)"></i><i style="left:56.05px;width:2.38px;background:linear-gradient(#7992f8,#6684fa 6.7%,#3e77fa 10.0%,#106af8 13.3%,#046ff2 15.0%,#0076de 16.7%,#008797 20.0%,#089372 21.7%,#1ba648 23.3%,#2db629 25.0%,#4bce0e 28.3%,#5adc07 33.3%,#58da07 45.0%,#49cd10 50.0%,#29b32c 55.0%,#119c5e 58.3%,#028e7d 60.0%,#0172ef 66.7%,#086bf6 68.3%,#3574fa 71.7%,#6784fa 75.0%,#7c95f8 80.0%,#8da5fa)"></i><i style="left:58.13px;width:2.38px;background:linear-gradient(#7992f8,#6583fa 6.7%,#106bf8 13.3%,#0074e7 16.7%,#008891 21.7%,#139e59 25.0%,#26b030 28.3%,#36bd21 33.3%,#33bb23 48.3%,#28b22d 56.7%,#1ea842 60.0%,#09946f 63.3%,#00898d 65.0%,#0073ee 70.0%,#096af7 71.7%,#5b7ffa 76.7%,#748ef8 80.0%,#859df9 90.0%,#8aa2fa)"></i><i style="left:60.21px;width:2.38px;background:linear-gradient(#7992f8,#6482fa 6.7%,#126bf8 13.3%,#0073ec 16.7%,#008b87 23.3%,#139e59 26.7%,#20ab3d 30.0%,#28b22e 35.0%,#26b030 45.0%,#18a34f 55.0%,#079373 60.0%,#008699 63.3%,#0074e7 68.3%,#066df4 70.0%,#136bf8 71.7%,#6081fa 76.7%,#7992f8 81.7%,#89a1fa)"></i><i style="left:62.28px;width:2.38px;background:linear-gradient(#7992f8,#6482fa 6.7%,#126bf8 13.3%,#0073ec 16.7%,#008b87 23.3%,#139e59 26.7%,#20ab3d 30.0%,#28b22e 35.0%,#26b031 43.3%,#1aa44c 50.0%,#008a88 56.7%,#0078d5 63.3%,#0073ec 65.0%,#0d6af8 68.3%,#6181fa 75.0%,#7b94f8 81.7%,#89a1fa)"></i><i style="left:64.36px;width:2.38px;background:linear-gradient(#7992f8,#6482fa 6.7%,#126bf8 13.3%,#0073ec 16.7%,#008b87 23.3%,#139e59 26.7%,#20ab3d 30.0%,#28b22e 35.0%,#26b032 43.3%,#1ca747 48.3%,#079274 53.3%,#008699 56.7%,#0073ee 63.3%,#0d6af8 66.7%,#5b7ffa 73.3%,#6f8af9 76.7%,#8099f9 85.0%,#89a1fa)"></i><i style="left:66.43px;width:2.38px;background:linear-gradient(#7992f8,#6482fa 6.7%,#126bf8 13.3%,#0073ec 16.7%,#008b87 23.3%,#139e59 26.7%,#20ab3d 30.0%,#28b22e 35.0%,#26b032 43.3%,#1ca648 48.3%,#059177 53.3%,#0080b0 58.3%,#0172ef 63.3%,#116bf8 66.7%,#5e80fa 73.3%,#768ff8 78.3%,#88a0fa 96.7%,#89a1fa)"></i><i style="left:68.51px;width:2.38px;background:linear-gradient(#7992f8,#6482fa 6.7%,#126bf8 13.3%,#0073ec 16.7%,#008b87 23.3%,#139e59 26.7%,#20ab3d 30.0%,#28b22e 35.0%,#26b032 43.3%,#1ba648 48.3%,#059177 53.3%,#007bc6 60.0%,#0172ef 63.3%,#116bf8 66.7%,#5e80fa 73.3%,#768ff8 78.3%,#88a0fa 96.7%,#89a1fa)"></i><i style="left:70.59px;width:2.38px;background:linear-gradient(#7992f8,#6482fa 6.7%,#126bf8 13.3%,#0073ec 16.7%,#008b87 23.3%,#139e59 26.7%,#20ab3d 30.0%,#28b22e 35.0%,#26b032 43.3%,#1ba648 48.3%,#059177 53.3%,#007bc6 60.0%,#0172ef 63.3%,#116bf8 66.7%,#5e80fa 73.3%,#768ff8 78.3%,#88a0fa 96.7%,#89a1fa)"></i><i style="left:72.66px;width:2.38px;background:linear-gradient(#7992f8,#6482fa 6.7%,#126bf8 13.3%,#0073ec 16.7%,#008b87 23.3%,#139e59 26.7%,#20ab3d 30.0%,#28b22e 35.0%,#26b032 43.3%,#1ba648 48.3%,#059177 53.3%,#007bc6 60.0%,#0172ef 63.3%,#116bf8 66.7%,#5e80fa 73.3%,#768ff8 78.3%,#88a0fa 96.7%,#89a1fa)"></i><i style="left:74.74px;width:2.38px;background:linear-gradient(#7992f8,#6482fa 6.7%,#126bf8 13.3%,#0073ec 16.7%,#008b87 23.3%,#139e59 26.7%,#20ab3d 30.0%,#28b22e 35.0%,#26b032 43.3%,#1ba648 48.3%,#059177 53.3%,#007bc6 60.0%,#0172ef 63.3%,#116bf8 66.7%,#5e80fa 73.3%,#768ff8 78.3%,#88a0fa 96.7%,#89a1fa)"></i><i style="left:76.82px;width:2.38px;background:linear-gradient(#7992f8,#6482fa 6.7%,#126bf8 13.3%,#0073ec 16.7%,#008b87 23.3%,#139e59 26.7%,#20ab3d 30.0%,#28b22e 35.0%,#26b032 43.3%,#1ba648 48.3%,#059177 53.3%,#007bc6 60.0%,#0172ef 63.3%,#116bf8 66.7%,#5e80fa 73.3%,#768ff8 78.3%,#88a0fa 96.7%,#89a1fa)"></i><i style="left:78.89px;width:2.38px;background:linear-gradient(#7992f8,#6482fa 6.7%,#0e6af8 13.3%,#046ff2 15.0%,#0075e3 16.7%,#008a8c 21.7%,#17a251 25.0%,#2bb42b 28.3%,#3ac01d 33.3%,#37be20 43.3%,#27b130 48.3%,#15a055 51.7%,#008a88 55.0%,#0073ec 61.7%,#116bf8 65.0%,#6482fa 71.7%,#7b94f8 78.3%,#8ba3fa)"></i><i style="left:80.97px;width:2.38px;background:linear-gradient(#7992f8,#6583fa 6.7%,#0a69f8 13.3%,#0172ef 15.0%,#008b85 20.0%,#28b22e 23.3%,#4ccf0d 26.7%,#60e005 31.7%,#5fe005 41.7%,#4bce0e 46.7%,#27b12f 50.0%,#008b84 53.3%,#0172ef 58.3%,#096af7 60.0%,#587ffa 65.0%,#6986f9 66.7%,#7c95f8 71.7%,#93aafa)"></i><i style="left:83.04px;width:2.38px;background:linear-gradient(#7891f8,#6684fa 6.7%,#567efa 8.3%,#096af7 13.3%,#0073ee 15.0%,#008795 18.3%,#119c5e 20.0%,#2eb728 21.7%,#4ccf0e 23.3%,#6cec01 26.7%,#79f200 33.3%,#74f000 41.7%,#6eee00 43.3%,#49cc10 46.7%,#26b032 48.3%,#059178 50.0%,#0075e6 53.3%,#0a69f8 55.0%,#517cfa 58.3%,#6986f9 60.0%,#7e96f9 65.0%,#9bb0fa)"></i><i style="left:85.12px;width:2.38px;background:linear-gradient(#7891f8,#6784fa 6.7%,#597ffa 8.3%,#0a69f8 13.3%,#0073ee 15.0%,#00898e 18.3%,#18a34f 20.0%,#39c01e 21.7%,#57d908 23.3%,#6aea01 25.0%,#7df400 30.0%,#7df400 40.0%,#6eee00 43.3%,#58d907 45.0%,#31b925 46.7%,#089471 48.3%,#007fb6 50.0%,#0172ef 51.7%,#186df9 53.3%,#6683fa 56.7%,#7a93f8 60.0%,#9ab0fa 90.0%,#9cb2fa)"></i><i style="left:87.20px;width:2.38px;background:linear-gradient(#7891f8,#6885fa 6.7%,#5a7ffa 8.3%,#0b69f8 13.3%,#0172ef 15.0%,#008891 18.3%,#17a251 20.0%,#38bf1f 21.7%,#56d808 23.3%,#69ea02 25.0%,#7df400 30.0%,#7df400 40.0%,#6eee00 43.3%,#57d808 45.0%,#30b826 46.7%,#069274 48.3%,#007eb9 50.0%,#0271f0 51.7%,#1b6df9 53.3%,#6784fa 56.7%,#7a93f8 60.0%,#9ab0fa 90.0%,#9cb2fa)"></i><i style="left:89.27px;width:2.38px;background:linear-gradient(#7992f8,#6986f9 6.7%,#5e80fa 8.3%,#0f6af8 13.3%,#0271f0 15.0%,#007bc9 16.7%,#008797 18.3%,#139e59 20.0%,#35bc22 21.7%,#55d608 23.3%,#68e802 25.0%,#7df400 30.0%,#7ff500 38.3%,#6ded00 43.3%,#55d608 45.0%,#2bb52a 46.7%,#028e7e 48.3%,#007cc1 50.0%,#046ff2 51.7%,#216ff9 53.3%,#4b7afa 55.0%,#6986f9 56.7%,#7b94f8 60.0%,#9ab0fa 90.0%,#9db2fa)"></i><i style="left:91.35px;width:2.38px;background:linear-gradient(#7992f8,#6b87f9 6.7%,#6482fa 8.3%,#166cf9 13.3%,#046ff2 15.0%,#0079d1 16.7%,#00859f 18.3%,#0f9a63 20.0%,#30b826 21.7%,#52d409 23.3%,#66e703 25.0%,#79f200 28.3%,#81f500 36.7%,#76f100 41.7%,#6beb01 43.3%,#52d409 45.0%,#25b032 46.7%,#008a89 48.3%,#007acc 50.0%,#076cf5 51.7%,#2971fa 53.3%,#547dfa 55.0%,#6d88f9 56.7%,#7c95f8 60.0%,#9ab0fa 88.3%,#9db2fa)"></i><i style="left:93.42px;width:2.38px;background:linear-gradient(#7992f8,#6683fa 8.3%,#537dfa 10.0%,#1c6df9 13.3%,#066df4 15.0%,#0077da 16.7%,#0083a8 18.3%,#0a956e 20.0%,#2bb42b 21.7%,#4fd10b 23.3%,#64e503 25.0%,#78f200 28.3%,#81f500 36.7%,#75f100 41.7%,#69e902 43.3%,#4ed00c 45.0%,#20aa3e 46.7%,#008894 48.3%,#0078d8 50.0%,#096af7 51.7%,#5e80fa 55.0%,#708bf9 56.7%,#8199f9 61.7%,#9bb1fa 90.0%,#9db2fa)"></i><i style="left:95.50px;width:2.38px;background:linear-gradient(#7a93f8,#6785fa 8.3%,#577efa 10.0%,#076cf5 15.0%,#0076e1 16.7%,#069176 20.0%,#27b12f 21.7%,#4ccf0e 23.3%,#63e404 25.0%,#71ef00 26.7%,#80f500 33.3%,#7cf300 40.0%,#67e702 43.3%,#4acd0f 45.0%,#1ca647 46.7%,#00869c 48.3%,#0076e0 50.0%,#0e6af8 51.7%,#6482fa 55.0%,#7a93f8 58.3%,#9ab0fa 86.7%,#9db2fa)"></i><i style="left:97.58px;width:2.38px;background:linear-gradient(#7a93f8,#6885fa 8.3%,#597ffa 10.0%,#086bf6 15.0%,#0075e3 16.7%,#049079 20.0%,#26b032 21.7%,#4bce0f 23.3%,#62e304 25.0%,#71ef00 26.7%,#80f500 33.3%,#7cf300 40.0%,#66e703 43.3%,#48cc11 45.0%,#1aa54a 46.7%,#00859f 48.3%,#0075e3 50.0%,#116bf8 51.7%,#6583fa 55.0%,#7b94f8 58.3%,#9ab0fa 86.7%,#9db2fa)"></i><i style="left:99.65px;width:2.38px;background:linear-gradient(#7a93f8,#6885fa 8.3%,#597ffa 10.0%,#086bf6 15.0%,#0075e3 16.7%,#049079 20.0%,#26b032 21.7%,#4bce0f 23.3%,#62e304 25.0%,#71ef00 26.7%,#80f500 33.3%,#7cf300 40.0%,#66e703 43.3%,#48cc11 45.0%,#1aa54a 46.7%,#00859f 48.3%,#0075e3 50.0%,#116bf8 51.7%,#6583fa 55.0%,#7b94f8 58.3%,#9ab0fa 86.7%,#9db2fa)"></i></div></div>
<div class="p" style="left:447.20px;top:139.60px"><div class="q" style="left:-3.11px;width:101.73px"><i style="left:0.00px;width:2.38px;background:linear-gradient(#7d96f9,#6482fa 8.3%,#2d72fa 13.3%,#146cf9 15.0%,#0271f0 16.7%,#007fb5 18.3%,#17a252 20.0%,#58da07 21.7%,#7bf300 23.3%,#acf900 26.7%,#c9f900 30.0%,#d3f800 35.0%,#cbf900 38.3%,#bdfa00 40.0%,#a6f900 41.7%,#83f600 43.3%,#59db07 45.0%,#049079 46.7%,#0075e4 48.3%,#176cf9 50.0%,#547dfa 53.3%,#6784fa 55.0%,#7b94f8 60.0%,#9ab0fa 80.0%,#9db3fa)"></i><i style="left:2.08px;width:2.38px;background:linear-gradient(#7d96f9,#6482fa 8.3%,#2d72fa 13.3%,#146cf9 15.0%,#0271f0 16.7%,#007fb5 18.3%,#17a252 20.0%,#58da07 21.7%,#7bf300 23.3%,#acf900 26.7%,#c9f900 30.0%,#d3f800 35.0%,#cbf900 38.3%,#bdfa00 40.0%,#a6f900 41.7%,#83f600 43.3%,#59db07 45.0%,#049079 46.7%,#0075e4 48.3%,#176cf9 50.0%,#547dfa 53.3%,#6784fa 55.0%,#7b94f8 60.0%,#9ab0fa 80.0%,#9db3fa)"></i><i style="left:4.15px;width:2.38px;background:linear-gradient(#7d96f9,#6482fa 8.3%,#2d72fa 13.3%,#146cf9 15.0%,#0271f0 16.7%,#007fb5 18.3%,#17a252 20.0%,#58da07 21.7%,#7bf300 23.3%,#acf900 26.7%,#c9f900 30.0%,#d3f800 35.0%,#cbf900 38.3%,#bdfa00 40.0%,#a6f900 41.7%,#83f600 43.3%,#59db07 45.0%,#049079 46.7%,#0075e4 48.3%,#176cf9 50.0%,#547dfa 53.3%,#6784fa 55.0%,#7b94f8 60.0%,#9ab0fa 80.0%,#9db3fa)"></i><i style="left:6.23px;width:2.38px;background:linear-gradient(#7d96f9,#6482fa 8.3%,#2d72fa 13.3%,#146cf9 15.0%,#0271f0 16.7%,#007fb5 18.3%,#17a252 20.0%,#58da07 21.7%,#7bf300 23.3%,#acf900 26.7%,#c9f900 30.0%,#d3f800 35.0%,#cbf900 38.3%,#bdfa00 40.0%,#a6f900 41.7%,#83f600 43.3%,#59db07 45.0%,#049079 46.7%,#0075e4 48.3%,#176cf9 50.0%,#547dfa 53.3%,#6784fa 55.0%,#7b94f8 60.0%,#9ab0fa 80.0%,#9db3fa)"></i><i style="left:8.30px;width:2.38px;background:linear-gradient(#7d96f9,#6482fa 8.3%,#2d72fa 13.3%,#146cf9 15.0%,#0271f0 16.7%,#007fb5 18.3%,#17a252 20.0%,#58da07 21.7%,#7bf300 23.3%,#acf900 26.7%,#c9f900 30.0%,#d3f800 35.0%,#cbf900 38.3%,#bdfa00 40.0%,#a6f900 41.7%,#83f600 43.3%,#59db07 45.0%,#049079 46.7%,#0075e4 48.3%,#176cf9 50.0%,#547dfa 53.3%,#6784fa 55.0%,#7b94f8 60.0%,#9ab0fa 80.0%,#9db3fa)"></i><i style="left:10.38px;width:2.38px;background:linear-gradient(#7d96f9,#6482fa 8.3%,#2d72fa 13.3%,#146cf9 15.0%,#0271f0 16.7%,#007fb5 18.3%,#17a252 20.0%,#58da07 21.7%,#7bf300 23.3%,#acf900 26.7%,#c9f900 30.0%,#d3f800 35.0%,#cbf900 38.3%,#bdfa00 40.0%,#a6f900 41.7%,#83f600 43.3%,#59db07 45.0%,#049079 46.7%,#0075e4 48.3%,#176cf9 50.0%,#547dfa 53.3%,#6784fa 55.0%,#7b94f8 60.0%,#9ab0fa 80.0%,#9db3fa)"></i><i style="left:12.46px;width:2.38px;background:linear-gradient(#7d96f9,#6482fa 8.3%,#2d72fa 13.3%,#146cf9 15.0%,#0271f0 16.7%,#007fb5 18.3%,#17a252 20.0%,#58da07 21.7%,#7bf300 23.3%,#acf900 26.7%,#c9f900 30.0%,#d3f800 35.0%,#cbf900 38.3%,#bdfa00 40.0%,#a6f900 41.7%,#83f600 43.3%,#59db07 45.0%,#049079 46.7%,#0075e4 48.3%,#176cf9 50.0%,#547dfa 53.3%,#6784fa 55.0%,#7b94f8 60.0%,#9ab0fa 80.0%,#9db3fa)"></i><i style="left:14.53px;width:2.38px;background:linear-gradient(#7d96f9,#6482fa 8.3%,#2d72fa 13.3%,#146cf9 15.0%,#0271f0 16.7%,#007fb5 18.3%,#17a252 20.0%,#58da07 21.7%,#7bf300 23.3%,#acf900 26.7%,#c9f900 30.0%,#d3f800 35.0%,#cbf900 38.3%,#bdfa00 40.0%,#a6f900 41.7%,#83f600 43.3%,#59db07 45.0%,#049079 46.7%,#0075e4 48.3%,#176cf9 50.0%,#547dfa 53.3%,#6784fa 55.0%,#7b94f8 60.0%,#9ab0fa 80.0%,#9db3fa)"></i><i style="left:16.61px;width:2.38px;background:linear-gradient(#7d96f9,#6482fa 8.3%,#2d72fa 13.3%,#146cf9 15.0%,#0271f0 16.7%,#007fb5 18.3%,#17a252 20.0%,#58da07 21.7%,#7bf300 23.3%,#acf900 26.7%,#c9f900 30.0%,#d3f800 35.0%,#cbf900 38.3%,#bdfa00 40.0%,#a6f900 41.7%,#83f600 43.3%,#59db07 45.0%,#049079 46.7%,#0075e4 48.3%,#176cf9 50.0%,#547dfa 53.3%,#6784fa 55.0%,#7b94f8 60.0%,#9ab0fa 80.0%,#9db3fa)"></i><i style="left:18.68px;width:2.38px;background:linear-gradient(#7d96f9,#6482fa 8.3%,#2d72fa 13.3%,#146cf9 15.0%,#0271f0 16.7%,#007fb5 18.3%,#17a252 20.0%,#58da07 21.7%,#7bf300 23.3%,#acf900 26.7%,#c9f900 30.0%,#d3f800 35.0%,#cbf900 38.3%,#bdfa00 40.0%,#a6f900 41.7%,#83f600 43.3%,#59db07 45.0%,#049079 46.7%,#0075e4 48.3%,#176cf9 50.0%,#547dfa 53.3%,#6784fa 55.0%,#7b94f8 60.0%,#9ab0fa 80.0%,#9db3fa)"></i><i style="left:20.76px;width:2.38px;background:linear-gradient(#7d96f9,#6482fa 8.3%,#2d72fa 13.3%,#146cf9 15.0%,#0271f0 16.7%,#007fb5 18.3%,#17a252 20.0%,#58da07 21.7%,#7bf300 23.3%,#acf900 26.7%,#c9f900 30.0%,#d3f800 35.0%,#cbf900 38.3%,#bdfa00 40.0%,#a6f900 41.7%,#83f600 43.3%,#59db07 45.0%,#049079 46.7%,#0075e4 48.3%,#176cf9 50.0%,#547dfa 53.3%,#6784fa 55.0%,#7b94f8 60.0%,#9ab0fa 80.0%,#9db3fa)"></i><i style="left:22.84px;width:2.38px;background:linear-gradient(#7d96f9,#6482fa 8.3%,#2d72fa 13.3%,#146cf9 15.0%,#0271f0 16.7%,#007fb5 18.3%,#17a252 20.0%,#58da07 21.7%,#7bf300 23.3%,#acf900 26.7%,#c9f900 30.0%,#d3f800 35.0%,#cbf900 38.3%,#bdfa00 40.0%,#a6f900 41.7%,#83f600 43.3%,#59db07 45.0%,#049079 46.7%,#0075e4 48.3%,#176cf9 50.0%,#547dfa 53.3%,#6784fa 55.0%,#7b94f8 60.0%,#9ab0fa 80.0%,#9db3fa)"></i><i style="left:24.91px;width:2.38px;background:linear-gradient(#7d96f9,#6482fa 8.3%,#2d72fa 13.3%,#146cf9 15.0%,#0271f0 16.7%,#007fb5 18.3%,#17a252 20.0%,#58da07 21.7%,#7bf300 23.3%,#acf900 26.7%,#c9f900 30.0%,#d3f800 35.0%,#cbf900 38.3%,#bdfa00 40.0%,#a6f900 41.7%,#83f600 43.3%,#59db07 45.0%,#049079 46.7%,#0075e4 48.3%,#176cf9 50.0%,#547dfa 53.3%,#6784fa 55.0%,#7b94f8 60.0%,#9ab0fa 80.0%,#9db3fa)"></i><i style="left:26.99px;width:2.38px;background:linear-gradient(#7d96f9,#6482fa 8.3%,#2d72fa 13.3%,#146cf9 15.0%,#0271f0 16.7%,#007fb5 18.3%,#17a252 20.0%,#58da07 21.7%,#7bf300 23.3%,#acf900 26.7%,#c9f900 30.0%,#d3f800 35.0%,#cbf900 38.3%,#bdfa00 40.0%,#a6f900 41.7%,#83f600 43.3%,#59db07 45.0%,#049079 46.7%,#0075e4 48.3%,#176cf9 50.0%,#547dfa 53.3%,#6784fa 55.0%,#7b94f8 60.0%,#9ab0fa 80.0%,#9db3fa)"></i><i style="left:29.07px;width:2.38px;background:linear-gradient(#7d95f9,#6382fa 8.3%,#2b71fa 13.3%,#126bf8 15.0%,#0172ef 16.7%,#0080b0 18.3%,#1aa54a 20.0%,#5cdd06 21.7%,#7df400 23.3%,#b0fa00 26.7%,#cef800 30.0%,#d9f800 35.0%,#d1f800 38.3%,#c2f900 40.0%,#aaf900 41.7%,#85f700 43.3%,#5dde06 45.0%,#089372 46.7%,#0076e0 48.3%,#146cf9 50.0%,#527dfa 53.3%,#6684fa 55.0%,#7b94f8 60.0%,#9ab0fa 80.0%,#9db3fa)"></i><i style="left:31.14px;width:2.38px;background:linear-gradient(#7c95f8,#6885fa 6.7%,#4e7bfa 10.0%,#2770f9 13.3%,#0d6af8 15.0%,#0073ec 16.7%,#0083a6 18.3%,#23ad38 20.0%,#64e503 21.7%,#83f600 23.3%,#bbfa00 26.7%,#cff800 28.3%,#e2f700 31.7%,#e5f700 36.7%,#def700 38.3%,#cff800 40.0%,#b3fa00 41.7%,#8df800 43.3%,#65e603 45.0%,#109b61 46.7%,#0078d7 48.3%,#0f6af8 50.0%,#4d7bfa 53.3%,#6482fa 55.0%,#7e97f9 61.7%,#9ab0fa 80.0%,#9db3fa)"></i><i style="left:33.22px;width:2.38px;background:linear-gradient(#7c94f8,#6784fa 6.7%,#497afa 10.0%,#096af7 15.0%,#0075e3 16.7%,#00869b 18.3%,#2cb529 20.0%,#6ded00 21.7%,#89f800 23.3%,#c7f900 26.7%,#ddf700 28.3%,#f0f600 31.7%,#f2f600 36.7%,#ecf600 38.3%,#ddf700 40.0%,#befa00 41.7%,#96f900 43.3%,#6eee00 45.0%,#18a350 46.7%,#007ace 48.3%,#0a69f8 50.0%,#497afa 53.3%,#6181fa 55.0%,#7a93f8 60.0%,#9ab0fa 80.0%,#9db3fa)"></i><i style="left:35.29px;width:2.38px;background:linear-gradient(#7b94f8,#6684fa 6.7%,#3474fa 11.7%,#096af7 15.0%,#0076e0 16.7%,#008796 18.3%,#31b925 20.0%,#6fef00 21.7%,#8cf800 23.3%,#cdf900 26.7%,#e2f700 28.3%,#f6f600 31.7%,#f8f500 36.7%,#f2f600 38.3%,#e2f700 40.0%,#c3f900 41.7%,#99f900 43.3%,#70ef00 45.0%,#1ba648 46.7%,#007acb 48.3%,#096af7 50.0%,#4779fa 53.3%,#5f81fa 55.0%,#7a93f8 60.0%,#9ab0fa 80.0%,#9db3fa)"></i><i style="left:37.37px;width:2.38px;background:linear-gradient(#7b94f8,#6684fa 6.7%,#3474fa 11.7%,#096af7 15.0%,#0076e0 16.7%,#008796 18.3%,#31b925 20.0%,#6fef00 21.7%,#8cf800 23.3%,#cdf900 26.7%,#e2f700 28.3%,#f6f600 31.7%,#f8f500 36.7%,#f2f600 38.3%,#e2f700 40.0%,#c3f900 41.7%,#99f900 43.3%,#70ef00 45.0%,#1ba648 46.7%,#007acb 48.3%,#096af7 50.0%,#4779fa 53.3%,#5f81fa 55.0%,#7a93f8 60.0%,#9ab0fa 80.0%,#9db3fa)"></i><i style="left:39.45px;width:2.38px;background:linear-gradient(#7b94f8,#6684fa 6.7%,#3474fa 11.7%,#096af7 15.0%,#0076e0 16.7%,#008796 18.3%,#31b925 20.0%,#6fef00 21.7%,#8cf800 23.3%,#cdf900 26.7%,#e2f700 28.3%,#f6f600 31.7%,#f8f500 36.7%,#f2f600 38.3%,#e2f700 40.0%,#c3f900 41.7%,#99f900 43.3%,#70ef00 45.0%,#1ba648 46.7%,#007acb 48.3%,#096af7 50.0%,#4779fa 53.3%,#5f81fa 55.0%,#7a93f8 60.0%,#9ab0fa 80.0%,#9db3fa)"></i><i style="left:41.52px;width:2.38px;background:linear-gradient(#7b94f8,#6684fa 6.7%,#3474fa 11.7%,#096af7 15.0%,#0076e0 16.7%,#008796 18.3%,#31b925 20.0%,#6fef00 21.7%,#8cf800 23.3%,#cdf900 26.7%,#e2f700 28.3%,#f6f600 31.7%,#f8f500 36.7%,#f2f600 38.3%,#e2f700 40.0%,#c3f900 41.7%,#99f900 43.3%,#70ef00 45.0%,#1ba648 46.7%,#007acb 48.3%,#096af7 50.0%,#4779fa 53.3%,#5f81fa 55.0%,#7a93f8 60.0%,#9ab0fa 80.0%,#9db3fa)"></i><i style="left:43.60px;width:2.38px;background:linear-gradient(#7b94f8,#6684fa 6.7%,#3474fa 11.7%,#096af7 15.0%,#0076e0 16.7%,#008796 18.3%,#31b925 20.0%,#6fef00 21.7%,#8cf800 23.3%,#cdf900 26.7%,#e2f700 28.3%,#f6f600 31.7%,#f8f500 36.7%,#f2f600 38.3%,#e2f700 40.0%,#c3f900 41.7%,#99f900 43.3%,#70ef00 45.0%,#1ba648 46.7%,#007acb 48.3%,#096af7 50.0%,#4779fa 53.3%,#5f81fa 55.0%,#7a93f8 60.0%,#9ab0fa 80.0%,#9db3fa)"></i><i style="left:45.67px;width:2.38px;background:linear-gradient(#7c95f8,#6885fa 6.7%,#4c7bfa 10.0%,#2570f9 13.3%,#0b69f8 15.0%,#0074e8 16.7%,#0085a0 18.3%,#27b12f 20.0%,#68e902 21.7%,#85f700 23.3%,#befa00 26.7%,#d2f800 28.3%,#e5f700 31.7%,#e7f700 36.7%,#e0f700 38.3%,#d1f800 40.0%,#b4fa00 41.7%,#8cf800 43.3%,#64e503 45.0%,#0d9966 46.7%,#0077da 48.3%,#106bf8 50.0%,#4e7bfa 53.3%,#6582fa 55.0%,#7e97f9 61.7%,#9ab0fa 80.0%,#9db3fa)"></i><i style="left:47.75px;width:2.38px;background:linear-gradient(#7d96f9,#6683fa 8.3%,#4779fa 11.7%,#176cf9 15.0%,#0370f1 16.7%,#007fb8 18.3%,#149f58 20.0%,#53d509 21.7%,#77f200 23.3%,#a1f900 26.7%,#b7fa00 30.0%,#bffa00 35.0%,#b7fa00 38.3%,#abf900 40.0%,#77f200 43.3%,#3dc31a 45.0%,#00859e 46.7%,#0370f1 48.3%,#246ff9 50.0%,#5e80fa 53.3%,#7992f8 58.3%,#99affa 78.3%,#9db3fa)"></i><i style="left:49.83px;width:2.38px;background:linear-gradient(#7f97f9,#6a87f9 8.3%,#6482fa 10.0%,#3f77fa 13.3%,#076cf5 16.7%,#0079cf 18.3%,#008c83 20.0%,#36bd21 21.7%,#65e603 23.3%,#7af300 25.0%,#99f900 30.0%,#9cf900 36.7%,#8bf800 40.0%,#7bf300 41.7%,#5bdd06 43.3%,#149f57 45.0%,#007acb 46.7%,#0d6af8 48.3%,#3775fa 50.0%,#587efa 51.7%,#6885fa 53.3%,#7f98f9 60.0%,#9bb0fa 80.0%,#9db3fa)"></i><i style="left:51.90px;width:2.38px;background:linear-gradient(#7f98f9,#6c88f9 8.3%,#5a7ffa 11.7%,#2971fa 15.0%,#096af7 16.7%,#0077d9 18.3%,#008891 20.0%,#28b22d 21.7%,#5adc07 23.3%,#73f000 25.0%,#8cf800 30.0%,#8ff800 36.7%,#81f600 40.0%,#73f000 41.7%,#4ccf0e 43.3%,#059176 45.0%,#0077dc 46.7%,#166cf9 48.3%,#4077fa 50.0%,#5f81fa 51.7%,#7992f8 56.7%,#9ab0fa 78.3%,#9db3fa)"></i><i style="left:53.98px;width:2.38px;background:linear-gradient(#7e97f9,#6583fa 10.0%,#3c76fa 13.3%,#056ef3 16.7%,#007bc7 18.3%,#018d80 20.0%,#2fb827 21.7%,#5adb07 23.3%,#71ef00 25.0%,#83f700 30.0%,#82f600 38.3%,#73f000 41.7%,#5adb07 43.3%,#24ae35 45.0%,#0084a1 46.7%,#0172ef 48.3%,#1d6ef9 50.0%,#4378fa 51.7%,#5f80fa 53.3%,#7790f8 58.3%,#9ab0fa 83.3%,#9db3fa)"></i><i style="left:56.05px;width:2.38px;background:linear-gradient(#7b94f8,#6784fa 8.3%,#5a7ffa 10.0%,#2670f9 13.3%,#096af7 15.0%,#0076e0 16.7%,#0083a6 18.3%,#0e9965 20.0%,#30b926 21.7%,#50d20a 23.3%,#6cec01 26.7%,#74f000 35.0%,#6fee00 40.0%,#59db07 43.3%,#40c618 45.0%,#1da745 46.7%,#008990 48.3%,#007acd 50.0%,#056ef3 51.7%,#4077fa 55.0%,#5a7ffa 56.7%,#6e89f9 60.0%,#839bf9 71.7%,#9bb1fa)"></i><i style="left:58.13px;width:2.38px;background:linear-gradient(#7a92f8,#6382fa 8.3%,#3072fa 11.7%,#136bf8 13.3%,#0370f1 15.0%,#007acb 16.7%,#00869c 18.3%,#0b966b 20.0%,#22ac3a 21.7%,#36bd20 23.3%,#50d20a 26.7%,#59da07 35.0%,#4dd00d 41.7%,#32ba24 45.0%,#1faa3f 46.7%,#0a956d 48.3%,#00869b 50.0%,#0172ef 53.3%,#0c6af8 55.0%,#5c80fa 60.0%,#6e89f9 63.3%,#829af9 76.7%,#96acfa)"></i><i style="left:60.21px;width:2.38px;background:linear-gradient(#7992f8,#6986fa 6.7%,#5e80fa 8.3%,#0d6af8 13.3%,#0172ef 15.0%,#00859e 18.3%,#069275 20.0%,#1aa54b 21.7%,#29b32c 23.3%,#3fc419 26.7%,#49cd10 33.3%,#42c716 40.0%,#27b12f 45.0%,#1aa44b 46.7%,#089470 48.3%,#008795 50.0%,#0076e1 53.3%,#066df4 55.0%,#3173fa 58.3%,#6181fa 61.7%,#7790f8 68.3%,#93aafa)"></i><i style="left:62.28px;width:2.38px;background:linear-gradient(#7992f8,#6986fa 6.7%,#5e80fa 8.3%,#0d6af8 13.3%,#0172ef 15.0%,#00859e 18.3%,#069275 20.0%,#1aa54b 21.7%,#29b32c 23.3%,#3fc419 26.7%,#49cd10 33.3%,#42c716 40.0%,#27b12f 45.0%,#1aa44b 46.7%,#089470 48.3%,#008795 50.0%,#0076e1 53.3%,#066df4 55.0%,#3173fa 58.3%,#6181fa 61.7%,#7790f8 68.3%,#93aafa)"></i><i style="left:64.36px;width:2.38px;background:linear-gradient(#7992f8,#6986fa 6.7%,#5e80fa 8.3%,#0d6af8 13.3%,#0172ef 15.0%,#00859e 18.3%,#069275 20.0%,#1aa54b 21.7%,#29b32c 23.3%,#3fc419 26.7%,#49cd10 33.3%,#42c716 40.0%,#27b12f 45.0%,#1aa44b 46.7%,#089470 48.3%,#008795 50.0%,#0076e1 53.3%,#066df4 55.0%,#3173fa 58.3%,#6181fa 61.7%,#7790f8 68.3%,#93aafa)"></i><i style="left:66.43px;width:2.38px;background:linear-gradient(#7992f8,#6986fa 6.7%,#5e80fa 8.3%,#0d6af8 13.3%,#0172ef 15.0%,#00859e 18.3%,#069275 20.0%,#1aa54b 21.7%,#29b32c 23.3%,#3fc419 26.7%,#49cd10 33.3%,#42c716 40.0%,#27b12f 45.0%,#1aa44b 46.7%,#089470 48.3%,#008795 50.0%,#0076e1 53.3%,#066df4 55.0%,#3173fa 58.3%,#6181fa 61.7%,#7790f8 68.3%,#93aafa)"></i><i style="left:68.51px;width:2.38px;background:linear-gradient(#7992f8,#6986fa 6.7%,#5e80fa 8.3%,#0d6af8 13.3%,#0172ef 15.0%,#00859e 18.3%,#069275 20.0%,#1aa54b 21.7%,#29b32c 23.3%,#3fc419 26.7%,#49cd10 33.3%,#42c716 40.0%,#27b12f 45.0%,#1aa44b 46.7%,#089470 48.3%,#008795 50.0%,#0076e1 53.3%,#066df4 55.0%,#3173fa 58.3%,#6181fa 61.7%,#7790f8 68.3%,#93aafa)"></i><i style="left:70.59px;width:2.38px;background:linear-gradient(#7992f8,#6986fa 6.7%,#5e80fa 8.3%,#0d6af8 13.3%,#0172ef 15.0%,#00859e 18.3%,#069275 20.0%,#1aa54b 21.7%,#29b32c 23.3%,#3fc419 26.7%,#49cd10 33.3%,#42c716 40.0%,#27b12f 45.0%,#1aa44b 46.7%,#089470 48.3%,#008795 50.0%,#0076e1 53.3%,#066df4 55.0%,#3173fa 58.3%,#6181fa 61.7%,#7790f8 68.3%,#93aafa)"></i><i style="left:72.66px;width:2.38px;background:linear-gradient(#7992f8,#6986fa 6.7%,#5e80fa 8.3%,#0d6af8 13.3%,#0172ef 15.0%,#00859e 18.3%,#069275 20.0%,#1aa54b 21.7%,#29b32c 23.3%,#3fc419 26.7%,#49cd10 33.3%,#42c716 40.0%,#27b12f 45.0%,#1aa44b 46.7%,#089470 48.3%,#008795 50.0%,#0076e1 53.3%,#066df4 55.0%,#3173fa 58.3%,#6181fa 61.7%,#7790f8 68.3%,#93aafa)"></i><i style="left:74.74px;width:2.38px;background:linear-gradient(#7992f8,#6282fa 8.3%,#3072fa 11.7%,#136bf8 13.3%,#0370f1 15.0%,#007acb 16.7%,#00859d 18.3%,#0a966c 20.0%,#21ab3c 21.7%,#34bc22 23.3%,#4ed00c 26.7%,#57d908 35.0%,#4bce0f 41.7%,#31b925 45.0%,#1ea942 46.7%,#09956f 48.3%,#00869b 50.0%,#0172ef 53.3%,#0c69f8 55.0%,#5b7ffa 60.0%,#6e89f9 63.3%,#819af9 76.7%,#96acfa)"></i><i style="left:76.82px;width:2.38px;background:linear-gradient(#7b94f8,#6784fa 8.3%,#597ffa 10.0%,#086bf6 15.0%,#0077dd 16.7%,#0083a5 18.3%,#0d9867 20.0%,#2db629 21.7%,#4bce0e 23.3%,#67e702 26.7%,#71ef00 31.7%,#6beb01 40.0%,#56d708 43.3%,#3dc31b 45.0%,#1ca647 46.7%,#00898e 48.3%,#007bc9 50.0%,#046ff2 51.7%,#1c6df9 53.3%,#587efa 56.7%,#6784fa 58.3%,#7c95f8 66.7%,#9ab0fa 98.3%,#9bb1fa)"></i><i style="left:78.89px;width:2.38px;background:linear-gradient(#7d96f9,#6482fa 10.0%,#3875fa 13.3%,#1a6df9 15.0%,#0370f1 16.7%,#007dc0 18.3%,#038f7b 20.0%,#2eb728 21.7%,#56d808 23.3%,#6ded00 25.0%,#7ef400 30.0%,#7df400 38.3%,#70ef00 41.7%,#58da07 43.3%,#28b22d 45.0%,#008893 46.7%,#0075e2 48.3%,#126bf8 50.0%,#597ffa 53.3%,#6885fa 55.0%,#7f98f9 63.3%,#9ab0fa 86.7%,#9db3fa)"></i><i style="left:80.97px;width:2.38px;background:linear-gradient(#7e97f9,#6683fa 10.0%,#577efa 11.7%,#076cf5 16.7%,#0079d0 18.3%,#008a89 20.0%,#29b32c 21.7%,#57d908 23.3%,#70ef00 25.0%,#84f700 30.0%,#83f600 38.3%,#71ef00 41.7%,#50d20a 43.3%,#119c5e 45.0%,#007bc6 46.7%,#096af7 48.3%,#567efa 51.7%,#6885fa 53.3%,#7e97f9 60.0%,#9bb0fa 81.7%,#9db3fa)"></i><i style="left:83.04px;width:2.38px;background:linear-gradient(#7e97f9,#6683fa 10.0%,#577efa 11.7%,#076cf5 16.7%,#0079d0 18.3%,#008a89 20.0%,#29b32c 21.7%,#57d908 23.3%,#70ef00 25.0%,#84f700 30.0%,#83f600 38.3%,#71ef00 41.7%,#50d20a 43.3%,#119c5e 45.0%,#007bc6 46.7%,#096af7 48.3%,#567efa 51.7%,#6885fa 53.3%,#7e97f9 60.0%,#9bb0fa 81.7%,#9db3fa)"></i><i style="left:85.12px;width:2.38px;background:linear-gradient(#7e97f9,#6683fa 10.0%,#577efa 11.7%,#076cf5 16.7%,#0079d0 18.3%,#008a89 20.0%,#29b32c 21.7%,#57d908 23.3%,#70ef00 25.0%,#84f700 30.0%,#83f600 38.3%,#71ef00 41.7%,#50d20a 43.3%,#119c5e 45.0%,#007bc6 46.7%,#096af7 48.3%,#567efa 51.7%,#6885fa 53.3%,#7e97f9 60.0%,#9bb0fa 81.7%,#9db3fa)"></i><i style="left:87.20px;width:2.38px;background:linear-gradient(#7e97f9,#6683fa 10.0%,#577efa 11.7%,#076cf5 16.7%,#0079d0 18.3%,#008a89 20.0%,#29b32c 21.7%,#57d908 23.3%,#70ef00 25.0%,#84f700 30.0%,#83f600 38.3%,#71ef00 41.7%,#50d20a 43.3%,#119c5e 45.0%,#007bc6 46.7%,#096af7 48.3%,#567efa 51.7%,#6885fa 53.3%,#7e97f9 60.0%,#9bb0fa 81.7%,#9db3fa)"></i><i style="left:89.27px;width:2.38px;background:linear-gradient(#7e97f9,#6683fa 10.0%,#577efa 11.7%,#076cf5 16.7%,#0079d0 18.3%,#008a89 20.0%,#29b32c 21.7%,#57d908 23.3%,#70ef00 25.0%,#84f700 30.0%,#83f600 38.3%,#71ef00 41.7%,#50d20a 43.3%,#119c5e 45.0%,#007bc6 46.7%,#096af7 48.3%,#567efa 51.7%,#6885fa 53.3%,#7e97f9 60.0%,#9bb0fa 81.7%,#9db3fa)"></i><i style="left:91.35px;width:2.38px;background:linear-gradient(#7e97f9,#6683fa 10.0%,#577efa 11.7%,#076cf5 16.7%,#0079d0 18.3%,#008a89 20.0%,#29b32c 21.7%,#57d908 23.3%,#70ef00 25.0%,#84f700 30.0%,#83f600 38.3%,#71ef00 41.7%,#50d20a 43.3%,#119c5e 45.0%,#007bc6 46.7%,#096af7 48.3%,#567efa 51.7%,#6885fa 53.3%,#7e97f9 60.0%,#9bb0fa 81.7%,#9db3fa)"></i><i style="left:93.42px;width:2.38px;background:linear-gradient(#7e97f9,#6683fa 10.0%,#577efa 11.7%,#076cf5 16.7%,#0079d0 18.3%,#008a89 20.0%,#29b32c 21.7%,#57d908 23.3%,#70ef00 25.0%,#84f700 30.0%,#83f600 38.3%,#71ef00 41.7%,#50d20a 43.3%,#119c5e 45.0%,#007bc6 46.7%,#096af7 48.3%,#567efa 51.7%,#6885fa 53.3%,#7e97f9 60.0%,#9bb0fa 81.7%,#9db3fa)"></i><i style="left:95.50px;width:2.38px;background:linear-gradient(#7e97f9,#6683fa 10.0%,#577efa 11.7%,#076cf5 16.7%,#0079d0 18.3%,#008a89 20.0%,#29b32c 21.7%,#57d908 23.3%,#70ef00 25.0%,#84f700 30.0%,#83f600 38.3%,#71ef00 41.7%,#50d20a 43.3%,#119c5e 45.0%,#007bc6 46.7%,#096af7 48.3%,#567efa 51.7%,#6885fa 53.3%,#7e97f9 60.0%,#9bb0fa 81.7%,#9db3fa)"></i><i style="left:97.58px;width:2.38px;background:linear-gradient(#7e97f9,#6683fa 10.0%,#577efa 11.7%,#076cf5 16.7%,#0079d0 18.3%,#008a89 20.0%,#29b32c 21.7%,#57d908 23.3%,#70ef00 25.0%,#84f700 30.0%,#83f600 38.3%,#71ef00 41.7%,#50d20a 43.3%,#119c5e 45.0%,#007bc6 46.7%,#096af7 48.3%,#567efa 51.7%,#6885fa 53.3%,#7e97f9 60.0%,#9bb0fa 81.7%,#9db3fa)"></i><i style="left:99.65px;width:2.38px;background:linear-gradient(#7e97f9,#6683fa 10.0%,#577efa 11.7%,#076cf5 16.7%,#0079d0 18.3%,#008a89 20.0%,#29b32c 21.7%,#57d908 23.3%,#70ef00 25.0%,#84f700 30.0%,#83f600 38.3%,#71ef00 41.7%,#50d20a 43.3%,#119c5e 45.0%,#007bc6 46.7%,#096af7 48.3%,#567efa 51.7%,#6885fa 53.3%,#7e97f9 60.0%,#9bb0fa 81.7%,#9db3fa)"></i></div></div>
<div class="p" style="left:42.20px;top:263.00px"><div class="q" style="left:-3.11px;width:101.73px"><i style="left:0.00px;width:2.38px;background:linear-gradient(#8ba3fa,#7791f8 13.3%,#6986f9 16.7%,#5c80fa 18.3%,#0c69f8 23.3%,#0073ee 25.0%,#007fb6 26.7%,#0a956d 28.3%,#3cc21b 30.0%,#6aea01 31.7%,#97f900 35.0%,#bdfa00 38.3%,#d0f800 41.7%,#d1f800 45.0%,#b8fa00 48.3%,#78f200 53.3%,#58d907 55.0%,#1ea941 56.7%,#0084a3 58.3%,#0073ee 60.0%,#1b6df9 61.7%,#4e7bfa 63.3%,#6f8af9 65.0%,#829bf9 68.3%,#97adfa 78.3%,#99affa)"></i><i style="left:2.08px;width:2.38px;background:linear-gradient(#8ba3fa,#7791f8 13.3%,#6986f9 16.7%,#5c80fa 18.3%,#0c69f8 23.3%,#0073ee 25.0%,#007fb6 26.7%,#0a956d 28.3%,#3cc21b 30.0%,#6aea01 31.7%,#97f900 35.0%,#bdfa00 38.3%,#d0f800 41.7%,#d1f800 45.0%,#b8fa00 48.3%,#78f200 53.3%,#58d907 55.0%,#1ea941 56.7%,#0084a3 58.3%,#0073ee 60.0%,#1b6df9 61.7%,#4e7bfa 63.3%,#6f8af9 65.0%,#829bf9 68.3%,#97adfa 78.3%,#99affa)"></i><i style="left:4.15px;width:2.38px;background:linear-gradient(#8ba3fa,#7791f8 13.3%,#6986f9 16.7%,#5c80fa 18.3%,#0c69f8 23.3%,#0073ee 25.0%,#007fb6 26.7%,#0a956d 28.3%,#3cc21b 30.0%,#6aea01 31.7%,#97f900 35.0%,#bdfa00 38.3%,#d0f800 41.7%,#d1f800 45.0%,#b8fa00 48.3%,#78f200 53.3%,#58d907 55.0%,#1ea941 56.7%,#0084a3 58.3%,#0073ee 60.0%,#1b6df9 61.7%,#4e7bfa 63.3%,#6f8af9 65.0%,#829bf9 68.3%,#97adfa 78.3%,#99affa)"></i><i style="left:6.23px;width:2.38px;background:linear-gradient(#8ba3fa,#7791f8 13.3%,#6986f9 16.7%,#5c80fa 18.3%,#0c69f8 23.3%,#0073ee 25.0%,#007fb6 26.7%,#0a956d 28.3%,#3cc21b 30.0%,#6aea01 31.7%,#97f900 35.0%,#bdfa00 38.3%,#d0f800 41.7%,#d1f800 45.0%,#b8fa00 48.3%,#78f200 53.3%,#58d907 55.0%,#1ea941 56.7%,#0084a3 58.3%,#0073ee 60.0%,#1b6df9 61.7%,#4e7bfa 63.3%,#6f8af9 65.0%,#829bf9 68.3%,#97adfa 78.3%,#99affa)"></i><i style="left:8.30px;width:2.38px;background:linear-gradient(#8ba3fa,#7791f8 13.3%,#6986f9 16.7%,#5c80fa 18.3%,#0c69f8 23.3%,#0073ee 25.0%,#007fb6 26.7%,#0a956d 28.3%,#3cc21b 30.0%,#6aea01 31.7%,#97f900 35.0%,#bdfa00 38.3%,#d0f800 41.7%,#d1f800 45.0%,#b8fa00 48.3%,#78f200 53.3%,#58d907 55.0%,#1ea941 56.7%,#0084a3 58.3%,#0073ee 60.0%,#1b6df9 61.7%,#4e7bfa 63.3%,#6f8af9 65.0%,#829bf9 68.3%,#97adfa 78.3%,#99affa)"></i><i style="left:10.38px;width:2.38px;background:linear-gradient(#8ba3fa,#7791f8 13.3%,#6986f9 16.7%,#5c80fa 18.3%,#0c69f8 23.3%,#0073ee 25.0%,#007fb6 26.7%,#0a956d 28.3%,#3cc21b 30.0%,#6aea01 31.7%,#97f900 35.0%,#bdfa00 38.3%,#d0f800 41.7%,#d1f800 45.0%,#b8fa00 48.3%,#78f200 53.3%,#58d907 55.0%,#1ea941 56.7%,#0084a3 58.3%,#0073ee 60.0%,#1b6df9 61.7%,#4e7bfa 63.3%,#6f8af9 65.0%,#829bf9 68.3%,#97adfa 78.3%,#99affa)"></i><i style="left:12.46px;width:2.38px;background:linear-gradient(#8ba3fa,#7791f8 13.3%,#6986f9 16.7%,#5c80fa 18.3%,#0c69f8 23.3%,#0073ee 25.0%,#007fb6 26.7%,#0a956d 28.3%,#3cc21b 30.0%,#6aea01 31.7%,#97f900 35.0%,#bdfa00 38.3%,#d0f800 41.7%,#d1f800 45.0%,#b8fa00 48.3%,#78f200 53.3%,#58d907 55.0%,#1ea941 56.7%,#0084a3 58.3%,#0073ee 60.0%,#1b6df9 61.7%,#4e7bfa 63.3%,#6f8af9 65.0%,#829bf9 68.3%,#97adfa 78.3%,#99affa)"></i><i style="left:14.53px;width:2.38px;background:linear-gradient(#8ba3fa,#7791f8 13.3%,#6986f9 16.7%,#5c80fa 18.3%,#0c69f8 23.3%,#0073ee 25.0%,#007fb6 26.7%,#0a956d 28.3%,#3cc21b 30.0%,#6aea01 31.7%,#97f900 35.0%,#bdfa00 38.3%,#d0f800 41.7%,#d1f800 45.0%,#b8fa00 48.3%,#78f200 53.3%,#58d907 55.0%,#1ea941 56.7%,#0084a3 58.3%,#0073ee 60.0%,#1b6df9 61.7%,#4e7bfa 63.3%,#6f8af9 65.0%,#829bf9 68.3%,#97adfa 78.3%,#99affa)"></i><i style="left:16.61px;width:2.38px;background:linear-gradient(#8ba3fa,#7791f8 13.3%,#6986f9 16.7%,#5c80fa 18.3%,#0c69f8 23.3%,#0073ee 25.0%,#007fb6 26.7%,#0a956d 28.3%,#3cc21b 30.0%,#6aea01 31.7%,#97f900 35.0%,#bdfa00 38.3%,#d0f800 41.7%,#d1f800 45.0%,#b8fa00 48.3%,#78f200 53.3%,#58d907 55.0%,#1ea941 56.7%,#0084a3 58.3%,#0073ee 60.0%,#1b6df9 61.7%,#4e7bfa 63.3%,#6f8af9 65.0%,#829bf9 68.3%,#97adfa 78.3%,#99affa)"></i><i style="left:18.68px;width:2.38px;background:linear-gradient(#8ba3fa,#7791f8 13.3%,#6986f9 16.7%,#5c80fa 18.3%,#0c69f8 23.3%,#0073ee 25.0%,#007fb6 26.7%,#0a956d 28.3%,#3cc21b 30.0%,#6aea01 31.7%,#97f900 35.0%,#bdfa00 38.3%,#d0f800 41.7%,#d1f800 45.0%,#b8fa00 48.3%,#78f200 53.3%,#58d907 55.0%,#1ea941 56.7%,#0084a3 58.3%,#0073ee 60.0%,#1b6df9 61.7%,#4e7bfa 63.3%,#6f8af9 65.0%,#829bf9 68.3%,#97adfa 78.3%,#99affa)"></i><i style="left:20.76px;width:2.38px;background:linear-gradient(#8ba3fa,#7791f8 13.3%,#6986f9 16.7%,#5c80fa 18.3%,#0c69f8 23.3%,#0073ee 25.0%,#007fb6 26.7%,#0a956d 28.3%,#3cc21b 30.0%,#6aea01 31.7%,#97f900 35.0%,#bdfa00 38.3%,#d0f800 41.7%,#d1f800 45.0%,#b8fa00 48.3%,#78f200 53.3%,#58d907 55.0%,#1ea941 56.7%,#0084a3 58.3%,#0073ee 60.0%,#1b6df9 61.7%,#4e7bfa 63.3%,#6f8af9 65.0%,#829bf9 68.3%,#97adfa 78.3%,#99affa)"></i><i style="left:22.84px;width:2.38px;background:linear-gradient(#8ba3fa,#7791f8 13.3%,#6986f9 16.7%,#5c80fa 18.3%,#0c69f8 23.3%,#0073ee 25.0%,#007fb6 26.7%,#0a956d 28.3%,#3cc21b 30.0%,#6aea01 31.7%,#97f900 35.0%,#bdfa00 38.3%,#d0f800 41.7%,#d1f800 45.0%,#b8fa00 48.3%,#78f200 53.3%,#58d907 55.0%,#1ea941 56.7%,#0084a3 58.3%,#0073ee 60.0%,#1b6df9 61.7%,#4e7bfa 63.3%,#6f8af9 65.0%,#829bf9 68.3%,#97adfa 78.3%,#99affa)"></i><i style="left:24.91px;width:2.38px;background:linear-gradient(#8ba3fa,#7791f8 13.3%,#6986f9 16.7%,#5c80fa 18.3%,#0c69f8 23.3%,#0073ee 25.0%,#007fb6 26.7%,#0a956d 28.3%,#3cc21b 30.0%,#6aea01 31.7%,#97f900 35.0%,#bdfa00 38.3%,#d0f800 41.7%,#d1f800 45.0%,#b8fa00 48.3%,#78f200 53.3%,#58d907 55.0%,#1ea941 56.7%,#0084a3 58.3%,#0073ee 60.0%,#1b6df9 61.7%,#4e7bfa 63.3%,#6f8af9 65.0%,#829bf9 68.3%,#97adfa 78.3%,#99affa)"></i><i style="left:26.99px;width:2.38px;background:linear-gradient(#8ba3fa,#7791f8 13.3%,#6986f9 16.7%,#5c80fa 18.3%,#0c69f8 23.3%,#0073ee 25.0%,#007fb6 26.7%,#0a956d 28.3%,#3cc21b 30.0%,#6aea01 31.7%,#97f900 35.0%,#bdfa00 38.3%,#d0f800 41.7%,#d1f800 45.0%,#b8fa00 48.3%,#78f200 53.3%,#58d907 55.0%,#1ea941 56.7%,#0084a3 58.3%,#0073ee 60.0%,#1b6df9 61.7%,#4e7bfa 63.3%,#6f8af9 65.0%,#829bf9 68.3%,#97adfa 78.3%,#99affa)"></i><i style="left:29.07px;width:2.38px;background:linear-gradient(#8ba3fa,#7791f8 13.3%,#6986f9 16.7%,#5c80fa 18.3%,#0c69f8 23.3%,#0073ee 25.0%,#007fb6 26.7%,#0a956d 28.3%,#3cc21b 30.0%,#6aea01 31.7%,#97f900 35.0%,#bdfa00 38.3%,#d0f800 41.7%,#d1f800 45.0%,#b8fa00 48.3%,#78f200 53.3%,#58d907 55.0%,#1ea941 56.7%,#0084a3 58.3%,#0073ee 60.0%,#1b6df9 61.7%,#4e7bfa 63.3%,#6f8af9 65.0%,#829bf9 68.3%,#97adfa 78.3%,#99affa)"></i><i style="left:31.14px;width:2.38px;background:linear-gradient(#8ba3fa,#7791f8 13.3%,#6986f9 16.7%,#5c80fa 18.3%,#0c69f8 23.3%,#0073ee 25.0%,#007fb6 26.7%,#0a956d 28.3%,#3cc21b 30.0%,#6aea01 31.7%,#97f900 35.0%,#bdfa00 38.3%,#d0f800 41.7%,#d1f800 45.0%,#b8fa00 48.3%,#78f200 53.3%,#58d907 55.0%,#1ea941 56.7%,#0084a3 58.3%,#0073ee 60.0%,#1b6df9 61.7%,#4e7bfa 63.3%,#6f8af9 65.0%,#829bf9 68.3%,#97adfa 78.3%,#99affa)"></i><i style="left:33.22px;width:2.38px;background:linear-gradient(#8ba3fa,#7791f8 13.3%,#6986f9 16.7%,#5c80fa 18.3%,#0c69f8 23.3%,#0073ee 25.0%,#007fb6 26.7%,#0a956d 28.3%,#3cc21b 30.0%,#6aea01 31.7%,#97f900 35.0%,#bdfa00 38.3%,#d0f800 41.7%,#d1f800 45.0%,#b8fa00 48.3%,#78f200 53.3%,#58d907 55.0%,#1ea941 56.7%,#0084a3 58.3%,#0073ee 60.0%,#1b6df9 61.7%,#4e7bfa 63.3%,#6f8af9 65.0%,#829bf9 68.3%,#97adfa 78.3%,#99affa)"></i><i style="left:35.29px;width:2.38px;background:linear-gradient(#8aa2fa,#7891f8 15.0%,#6382fa 20.0%,#176cf9 25.0%,#056ef3 26.7%,#0078d6 28.3%,#0084a3 30.0%,#0d9867 31.7%,#2fb827 33.3%,#53d409 35.0%,#68e802 36.7%,#7af300 40.0%,#80f500 46.7%,#6fee00 51.7%,#5bdc06 53.3%,#3bc11d 55.0%,#15a055 56.7%,#00869a 58.3%,#0079d3 60.0%,#076cf5 61.7%,#2670f9 63.3%,#517cfa 65.0%,#6d89f9 66.7%,#8099f9 70.0%,#96acfa 80.0%,#99affa)"></i><i style="left:37.37px;width:2.38px;background:linear-gradient(#8ca3fa,#7790f8 18.3%,#6181fa 23.3%,#186cf9 28.3%,#076cf5 30.0%,#0074e8 31.7%,#008a8a 36.7%,#17a152 40.0%,#24af35 43.3%,#28b22d 46.7%,#22ac3a 50.0%,#19a44c 51.7%,#008b87 55.0%,#0073ec 60.0%,#086bf6 61.7%,#4178fa 65.0%,#6482fa 66.7%,#8098f9 71.7%,#96acfa 83.3%,#99affa)"></i><i style="left:39.45px;width:2.38px;background:linear-gradient(#859df9,#7891f8 16.7%,#6583fa 21.7%,#096af7 30.0%,#0073ed 33.3%,#007dbe 38.3%,#0084a2 43.3%,#008796 51.7%,#0084a1 60.0%,#007cc1 66.7%,#0271f0 73.3%,#0c6af8 76.7%,#3d76fa 81.7%,#6482fa 85.0%,#7d96f9 91.7%,#8aa2fa)"></i><i style="left:41.52px;width:2.38px;background:linear-gradient(#879ffa,#7a92f8 16.7%,#5e80fa 23.3%,#226ff9 30.0%,#086bf6 35.0%,#0075e5 50.0%,#0074e8 68.3%,#0c6af8 86.7%,#3574fa 95.0%,#5c80fa)"></i><i style="left:43.60px;width:2.38px;background:linear-gradient(#879ffa,#7891f8 16.7%,#6784fa 21.7%,#2570f9 30.0%,#0b69f8 35.0%,#0073ec 56.7%,#096af7 91.7%,#206ef9)"></i><i style="left:45.67px;width:2.38px;background:linear-gradient(#869efa,#758ff8 16.7%,#6583fa 21.7%,#2871fa 30.0%,#0b69f8 36.7%,#0271f0 65.0%,#0c6af8)"></i><i style="left:47.75px;width:2.38px;background:linear-gradient(#869efa,#758ff8 16.7%,#6583fa 21.7%,#2871fa 30.0%,#0b69f8 36.7%,#0271f0 65.0%,#0c6af8)"></i><i style="left:49.83px;width:2.38px;background:linear-gradient(#869efa,#758ff8 16.7%,#6583fa 21.7%,#2871fa 30.0%,#0b69f8 36.7%,#0271f0 65.0%,#0c6af8)"></i><i style="left:51.90px;width:2.38px;background:linear-gradient(#869efa,#758ff8 16.7%,#6583fa 21.7%,#2871fa 30.0%,#0b69f8 36.7%,#0271f0 65.0%,#0c6af8)"></i><i style="left:53.98px;width:2.38px;background:linear-gradient(#869efa,#758ff8 16.7%,#6583fa 21.7%,#2871fa 30.0%,#0b69f8 36.7%,#0271f0 65.0%,#0c6af8)"></i><i style="left:56.05px;width:2.38px;background:linear-gradient(#869efa,#758ff8 16.7%,#6583fa 21.7%,#2871fa 30.0%,#0b69f8 36.7%,#0271f0 65.0%,#0c6af8)"></i><i style="left:58.13px;width:2.38px;background:linear-gradient(#869efa,#758ff8 16.7%,#6583fa 21.7%,#2871fa 30.0%,#0b69f8 36.7%,#0271f0 65.0%,#0c6af8)"></i><i style="left:60.21px;width:2.38px;background:linear-gradient(#869efa,#758ff8 16.7%,#6583fa 21.7%,#2871fa 30.0%,#0b69f8 36.7%,#0271f0 65.0%,#0c6af8)"></i><i style="left:62.28px;width:2.38px;background:linear-gradient(#869efa,#758ff8 16.7%,#6583fa 21.7%,#2770f9 30.0%,#0a69f8 36.7%,#0271f0 66.7%,#0d6af8 96.7%,#156cf9)"></i><i style="left:64.36px;width:2.38px;background:linear-gradient(#879ffa,#758ff8 16.7%,#6482fa 21.7%,#2e72fa 28.3%,#096af7 36.7%,#046ff2 70.0%,#0f6af8 88.3%,#3774fa)"></i><i style="left:66.43px;width:2.38px;background:linear-gradient(#879ffa,#7992f8 15.0%,#6181fa 21.7%,#2a71fa 28.3%,#0c69f8 35.0%,#046ff2 60.0%,#0d6af8 78.3%,#3173fa 88.3%,#6784fa 96.7%,#718cf9)"></i><i style="left:68.51px;width:2.38px;background:linear-gradient(#879ffa,#7992f8 15.0%,#5f81fa 21.7%,#2971fa 28.3%,#0b69f8 35.0%,#056ef3 63.3%,#0d6af8 75.0%,#3774fa 85.0%,#6784fa 91.7%,#7e97f9)"></i><i style="left:70.59px;width:2.38px;background:linear-gradient(#869efa,#758ff8 16.7%,#5f80fa 21.7%,#1f6ef9 28.3%,#0a69f8 31.7%,#0075e3 43.3%,#0076df 56.7%,#076cf5 71.7%,#116bf8 75.0%,#4177fa 81.7%,#6281fa 85.0%,#7b94f8 91.7%,#89a1fa)"></i><i style="left:72.66px;width:2.38px;background:linear-gradient(#879ffa,#758ef8 18.3%,#6885fa 21.7%,#4479fa 25.0%,#0a69f8 30.0%,#0074e9 33.3%,#007fb5 38.3%,#00869b 43.3%,#008794 50.0%,#0083a5 55.0%,#0079cf 60.0%,#0271f0 63.3%,#086bf6 65.0%,#2b71fa 68.3%,#5e80fa 71.7%,#768ff8 75.0%,#94abfa 90.0%,#98aefa)"></i><i style="left:74.74px;width:2.38px;background:linear-gradient(#8da4fa,#758ff8 20.0%,#6885fa 23.3%,#587efa 25.0%,#106af8 30.0%,#056ef3 31.7%,#0075e3 33.3%,#008797 38.3%,#0a956d 43.3%,#0d9966 46.7%,#079373 50.0%,#008699 53.3%,#0172ef 58.3%,#096af7 60.0%,#6583fa 65.0%,#8199f9 70.0%,#97adfa 81.7%,#99affa)"></i><i style="left:76.82px;width:2.38px;background:linear-gradient(#8da5fa,#7891f8 18.3%,#6181fa 23.3%,#146cf9 28.3%,#056ef3 30.0%,#0077dd 31.7%,#008893 35.0%,#1aa44c 38.3%,#26b032 40.0%,#36bd21 43.3%,#34bc22 48.3%,#2ab42b 50.0%,#1da745 51.7%,#008892 55.0%,#0075e2 58.3%,#076cf5 60.0%,#226ff9 61.7%,#6785fa 65.0%,#7d96f9 68.3%,#96adfa 80.0%,#99affa)"></i><i style="left:78.89px;width:2.38px;background:linear-gradient(#90a7fa,#758ff8 18.3%,#6683fa 21.7%,#3173fa 25.0%,#146bf8 26.7%,#0370f1 28.3%,#007bc7 30.0%,#00898f 31.7%,#1ba648 33.3%,#41c617 35.0%,#5dde06 36.7%,#6eee00 38.3%,#7af300 43.3%,#74f000 48.3%,#6beb01 50.0%,#57d908 51.7%,#37be20 53.3%,#139e5a 55.0%,#00859e 56.7%,#0078d8 58.3%,#086bf6 60.0%,#2b71fa 61.7%,#597ffa 63.3%,#708bf9 65.0%,#869ffa 70.0%,#97aefa 80.0%,#99affa)"></i><i style="left:80.97px;width:2.38px;background:linear-gradient(#91a8fa,#748ef8 18.3%,#6482fa 21.7%,#0a69f8 26.7%,#0075e6 28.3%,#0082aa 30.0%,#119c5d 31.7%,#40c518 33.3%,#65e603 35.0%,#82f600 38.3%,#91f800 43.3%,#82f600 48.3%,#68e802 51.7%,#47cb12 53.3%,#19a44d 55.0%,#00859e 56.7%,#0076df 58.3%,#0c6af8 60.0%,#6683fa 63.3%,#7690f8 65.0%,#94abfa 75.0%,#99affa)"></i><i style="left:83.04px;width:2.38px;background:linear-gradient(#91a8fa,#748ef8 18.3%,#6482fa 21.7%,#0a69f8 26.7%,#0075e6 28.3%,#0082aa 30.0%,#119c5d 31.7%,#40c518 33.3%,#65e603 35.0%,#82f600 38.3%,#91f800 43.3%,#82f600 48.3%,#68e802 51.7%,#47cb12 53.3%,#19a44d 55.0%,#00859e 56.7%,#0076df 58.3%,#0c6af8 60.0%,#6683fa 63.3%,#7690f8 65.0%,#94abfa 75.0%,#99affa)"></i><i style="left:85.12px;width:2.38px;background:linear-gradient(#91a8fa,#748ef8 18.3%,#6482fa 21.7%,#0a69f8 26.7%,#0075e6 28.3%,#0082aa 30.0%,#119c5d 31.7%,#40c518 33.3%,#65e603 35.0%,#82f600 38.3%,#91f800 43.3%,#82f600 48.3%,#68e802 51.7%,#47cb12 53.3%,#19a44d 55.0%,#00859e 56.7%,#0076df 58.3%,#0c6af8 60.0%,#6683fa 63.3%,#7690f8 65.0%,#94abfa 75.0%,#99affa)"></i><i style="left:87.20px;width:2.38px;background:linear-gradient(#91a8fa,#748ef8 18.3%,#6482fa 21.7%,#0a69f8 26.7%,#0075e6 28.3%,#0082aa 30.0%,#119c5d 31.7%,#40c518 33.3%,#65e603 35.0%,#82f600 38.3%,#91f800 43.3%,#82f600 48.3%,#68e802 51.7%,#47cb12 53.3%,#19a44d 55.0%,#00859e 56.7%,#0076df 58.3%,#0c6af8 60.0%,#6683fa 63.3%,#7690f8 65.0%,#94abfa 75.0%,#99affa)"></i><i style="left:89.27px;width:2.38px;background:linear-gradient(#91a8fa,#748ef8 18.3%,#6482fa 21.7%,#0a69f8 26.7%,#0075e6 28.3%,#0082aa 30.0%,#119c5d 31.7%,#40c518 33.3%,#65e603 35.0%,#82f600 38.3%,#91f800 43.3%,#82f600 48.3%,#68e802 51.7%,#47cb12 53.3%,#19a44d 55.0%,#00859e 56.7%,#0076df 58.3%,#0c6af8 60.0%,#6683fa 63.3%,#7690f8 65.0%,#94abfa 75.0%,#99affa)"></i><i style="left:91.35px;width:2.38px;background:linear-gradient(#91a8fa,#748ef8 18.3%,#6482fa 21.7%,#0a69f8 26.7%,#0075e6 28.3%,#0082aa 30.0%,#119c5d 31.7%,#40c518 33.3%,#65e603 35.0%,#82f600 38.3%,#91f800 43.3%,#82f600 48.3%,#68e802 51.7%,#47cb12 53.3%,#19a44d 55.0%,#00859e 56.7%,#0076df 58.3%,#0c6af8 60.0%,#6683fa 63.3%,#7690f8 65.0%,#94abfa 75.0%,#99affa)"></i><i style="left:93.42px;width:2.38px;background:linear-gradient(#91a8fa,#748ef8 18.3%,#6482fa 21.7%,#0a69f8 26.7%,#0075e6 28.3%,#0082aa 30.0%,#119c5d 31.7%,#40c518 33.3%,#65e603 35.0%,#82f600 38.3%,#91f800 43.3%,#82f600 48.3%,#68e802 51.7%,#47cb12 53.3%,#19a44d 55.0%,#00859e 56.7%,#0076df 58.3%,#0c6af8 60.0%,#6683fa 63.3%,#7690f8 65.0%,#94abfa 75.0%,#99affa)"></i><i style="left:95.50px;width:2.38px;background:linear-gradient(#91a8fa,#748ef8 18.3%,#6482fa 21.7%,#0a69f8 26.7%,#0075e6 28.3%,#0082aa 30.0%,#119c5d 31.7%,#40c518 33.3%,#65e603 35.0%,#82f600 38.3%,#91f800 43.3%,#82f600 48.3%,#68e802 51.7%,#47cb12 53.3%,#19a44d 55.0%,#00859e 56.7%,#0076df 58.3%,#0c6af8 60.0%,#6683fa 63.3%,#7690f8 65.0%,#94abfa 75.0%,#99affa)"></i><i style="left:97.58px;width:2.38px;background:linear-gradient(#91a8fa,#748ef8 18.3%,#6482fa 21.7%,#0a69f8 26.7%,#0075e6 28.3%,#0082aa 30.0%,#119c5d 31.7%,#40c518 33.3%,#65e603 35.0%,#82f600 38.3%,#91f800 43.3%,#82f600 48.3%,#68e802 51.7%,#47cb12 53.3%,#19a44d 55.0%,#00859e 56.7%,#0076df 58.3%,#0c6af8 60.0%,#6683fa 63.3%,#7690f8 65.0%,#94abfa 75.0%,#99affa)"></i><i style="left:99.65px;width:2.38px;background:linear-gradient(#91a8fa,#748ef8 18.3%,#6482fa 21.7%,#0a69f8 26.7%,#0075e6 28.3%,#0082aa 30.0%,#119c5d 31.7%,#40c518 33.3%,#65e603 35.0%,#82f600 38.3%,#91f800 43.3%,#82f600 48.3%,#68e802 51.7%,#47cb12 53.3%,#19a44d 55.0%,#00859e 56.7%,#0076df 58.3%,#0c6af8 60.0%,#6683fa 63.3%,#7690f8 65.0%,#94abfa 75.0%,#99affa)"></i></div></div>
<div class="p" style="left:177.20px;top:263.00px"><div class="q" style="left:-3.11px;width:101.73px"><i style="left:0.00px;width:2.38px;background:linear-gradient(#829af9,#6c88f9 13.3%,#6081fa 16.7%,#4e7bfa 18.3%,#116bf8 21.7%,#0076e1 23.3%,#008b85 25.0%,#4fd10b 26.7%,#81f600 28.3%,#e5f700 31.7%,#ffec00 33.3%,#ffdd00 35.0%,#ffd500 38.3%,#ffde00 41.7%,#fff000 43.3%,#d4f800 45.0%,#97f900 46.7%,#63e304 48.3%,#028e7e 50.0%,#0271f0 51.7%,#3173fa 53.3%,#6684fa 55.0%,#7b94f8 58.3%,#9ab0fa 78.3%,#9db3fa)"></i><i style="left:2.08px;width:2.38px;background:linear-gradient(#829af9,#6c88f9 13.3%,#6081fa 16.7%,#4e7bfa 18.3%,#116bf8 21.7%,#0076e1 23.3%,#008b85 25.0%,#4fd10b 26.7%,#81f600 28.3%,#e5f700 31.7%,#ffec00 33.3%,#ffdd00 35.0%,#ffd500 38.3%,#ffde00 41.7%,#fff000 43.3%,#d4f800 45.0%,#97f900 46.7%,#63e304 48.3%,#028e7e 50.0%,#0271f0 51.7%,#3173fa 53.3%,#6684fa 55.0%,#7b94f8 58.3%,#9ab0fa 78.3%,#9db3fa)"></i><i style="left:4.15px;width:2.38px;background:linear-gradient(#819af9,#6b87f9 13.3%,#5e80fa 16.7%,#4b7bfa 18.3%,#0e6af8 21.7%,#0077dc 23.3%,#028e7d 25.0%,#54d509 26.7%,#84f700 28.3%,#ecf600 31.7%,#ffe800 33.3%,#ffd900 35.0%,#ffd100 38.3%,#ffda00 41.7%,#ffed00 43.3%,#d8f800 45.0%,#9af900 46.7%,#64e503 48.3%,#038f7c 50.0%,#0271f0 51.7%,#3073fa 53.3%,#6683fa 55.0%,#7b94f8 58.3%,#9ab0fa 78.3%,#9db3fa)"></i><i style="left:6.23px;width:2.38px;background:linear-gradient(#8199f9,#6986f9 13.3%,#6583fa 15.0%,#4579fa 18.3%,#096af7 21.7%,#007ace 23.3%,#0f9a63 25.0%,#60e105 26.7%,#8ef800 28.3%,#fdf500 31.7%,#ffdc00 33.3%,#ffce00 35.0%,#ffc800 40.0%,#ffd000 41.7%,#ffe400 43.3%,#e3f700 45.0%,#a0f900 46.7%,#69e902 48.3%,#069275 50.0%,#0172ef 51.7%,#2f72fa 53.3%,#6583fa 55.0%,#7b94f8 58.3%,#9ab0fa 78.3%,#9db3fa)"></i><i style="left:8.30px;width:2.38px;background:linear-gradient(#8099f9,#6b87f9 11.7%,#5f81fa 15.0%,#3c76fa 18.3%,#056ef3 21.7%,#007eba 23.3%,#20aa3e 25.0%,#70ef00 26.7%,#9ff900 28.3%,#ddf700 30.0%,#ffe600 31.7%,#ffcc00 33.3%,#ffba00 36.7%,#ffbb00 40.0%,#ffc300 41.7%,#ffd800 43.3%,#f1f600 45.0%,#a8f900 46.7%,#6eee00 48.3%,#0a956d 50.0%,#0073ee 51.7%,#2d72fa 53.3%,#6482fa 55.0%,#7b93f8 58.3%,#9ab0fa 78.3%,#9db3fa)"></i><i style="left:10.38px;width:2.38px;background:linear-gradient(#7f98f9,#6986fa 11.7%,#587efa 15.0%,#3373fa 18.3%,#186df9 20.0%,#0271f0 21.7%,#0083a5 23.3%,#34bc22 25.0%,#7af300 26.7%,#b0fa00 28.3%,#f5f600 30.0%,#ffd500 31.7%,#ffbe00 33.3%,#ffac00 36.7%,#ffad00 40.0%,#ffb700 41.7%,#ffcd00 43.3%,#fff500 45.0%,#affa00 46.7%,#71ef00 48.3%,#0d9966 50.0%,#0073ed 51.7%,#2b71fa 53.3%,#6282fa 55.0%,#7a93f8 58.3%,#9ab0fa 78.3%,#9db3fa)"></i><i style="left:12.46px;width:2.38px;background:linear-gradient(#7f97f9,#6784fa 11.7%,#537dfa 15.0%,#2d72fa 18.3%,#116bf8 20.0%,#0074ea 21.7%,#008794 23.3%,#45c914 25.0%,#81f600 26.7%,#befa00 28.3%,#fff000 30.0%,#ffca00 31.7%,#ffb300 33.3%,#ffa100 36.7%,#ffa300 40.0%,#ffae00 41.7%,#ffc500 43.3%,#ffee00 45.0%,#b4fa00 46.7%,#73f000 48.3%,#109b61 50.0%,#0074eb 51.7%,#2a71fa 53.3%,#6181fa 55.0%,#718cf9 56.7%,#849df9 63.3%,#9bb1fa 80.0%,#9db3fa)"></i><i style="left:14.53px;width:2.38px;background:linear-gradient(#7e97f9,#6684fa 11.7%,#517cfa 15.0%,#2b71fa 18.3%,#0f6af8 20.0%,#0075e5 21.7%,#00898e 23.3%,#4bce0f 25.0%,#84f700 26.7%,#c4f900 28.3%,#ffeb00 30.0%,#ffc600 31.7%,#ffaf00 33.3%,#ff9d00 36.7%,#ff9f00 40.0%,#ffaa00 41.7%,#ffc200 43.3%,#ffec00 45.0%,#b6fa00 46.7%,#74f000 48.3%,#119c5f 50.0%,#0074ea 51.7%,#2a71fa 53.3%,#6081fa 55.0%,#718cf9 56.7%,#849df9 63.3%,#9bb1fa 80.0%,#9db3fa)"></i><i style="left:16.61px;width:2.38px;background:linear-gradient(#7e97f9,#6684fa 11.7%,#517cfa 15.0%,#2c71fa 18.3%,#0f6af8 20.0%,#0075e6 21.7%,#00898f 23.3%,#4acd0f 25.0%,#84f700 26.7%,#c4f900 28.3%,#ffec00 30.0%,#ffc600 31.7%,#ffaf00 33.3%,#ff9d00 36.7%,#ff9f00 40.0%,#ffaa00 41.7%,#ffc200 43.3%,#ffec00 45.0%,#b6fa00 46.7%,#74f000 48.3%,#119c5e 50.0%,#0074ea 51.7%,#2a71fa 53.3%,#6081fa 55.0%,#718cf9 56.7%,#849df9 63.3%,#9bb1fa 80.0%,#9db3fa)"></i><i style="left:18.68px;width:2.38px;background:linear-gradient(#7e97f9,#6784fa 11.7%,#527cfa 15.0%,#2c71fa 18.3%,#106af8 20.0%,#0074e7 21.7%,#008890 23.3%,#49cc10 25.0%,#83f600 26.7%,#c2f900 28.3%,#ffec00 30.0%,#ffc700 31.7%,#ffaf00 33.3%,#ff9d00 36.7%,#ff9f00 40.0%,#ffaa00 41.7%,#ffc100 43.3%,#ffeb00 45.0%,#b8fa00 46.7%,#75f100 48.3%,#139e5b 50.0%,#0074e8 51.7%,#2971fa 53.3%,#5f81fa 55.0%,#718cf9 56.7%,#849cf9 63.3%,#9bb1fa 80.0%,#9db3fa)"></i><i style="left:20.76px;width:2.38px;background:linear-gradient(#7f97f9,#6784fa 11.7%,#527dfa 15.0%,#2c72fa 18.3%,#106bf8 20.0%,#0074e9 21.7%,#008893 23.3%,#46ca13 25.0%,#82f600 26.7%,#c0f900 28.3%,#ffed00 30.0%,#ffc700 31.7%,#ffb000 33.3%,#ffa300 35.0%,#ff9d00 38.3%,#ff9f00 40.0%,#ffaa00 41.7%,#ffc100 43.3%,#ffea00 45.0%,#b9fa00 46.7%,#76f100 48.3%,#15a055 50.0%,#0075e5 51.7%,#2770f9 53.3%,#5e80fa 55.0%,#718bf9 56.7%,#849cf9 63.3%,#9bb1fa 80.0%,#9db3fa)"></i><i style="left:22.84px;width:2.38px;background:linear-gradient(#7f97f9,#6784fa 11.7%,#527dfa 15.0%,#2d72fa 18.3%,#126bf8 20.0%,#0074eb 21.7%,#008796 23.3%,#43c716 25.0%,#81f500 26.7%,#befa00 28.3%,#ffef00 30.0%,#ffc800 31.7%,#ffb000 33.3%,#ffa300 35.0%,#ff9d00 38.3%,#ff9f00 40.0%,#ffa900 41.7%,#ffc000 43.3%,#ffe800 45.0%,#bdfa00 46.7%,#78f200 48.3%,#18a34f 50.0%,#0076e2 51.7%,#2670f9 53.3%,#5d80fa 55.0%,#708bf9 56.7%,#8199f9 61.7%,#9bb1fa 80.0%,#9db3fa)"></i><i style="left:24.91px;width:2.38px;background:linear-gradient(#7f97f9,#6784fa 11.7%,#537dfa 15.0%,#2e72fa 18.3%,#136bf8 20.0%,#0073ed 21.7%,#00869a 23.3%,#3fc419 25.0%,#7ff500 26.7%,#bbfa00 28.3%,#fff100 30.0%,#ffc900 31.7%,#ffb100 33.3%,#ffa300 35.0%,#ff9d00 38.3%,#ffa900 41.7%,#ffbf00 43.3%,#ffe600 45.0%,#c0f900 46.7%,#7af300 48.3%,#1ca647 50.0%,#0076de 51.7%,#236ff9 53.3%,#5b7ffa 55.0%,#708bf9 56.7%,#8199f9 61.7%,#9bb1fa 80.0%,#9db3fa)"></i><i style="left:26.99px;width:2.38px;background:linear-gradient(#7f97f9,#6784fa 11.7%,#537dfa 15.0%,#2f72fa 18.3%,#146cf9 20.0%,#0073ee 21.7%,#00859e 23.3%,#3bc11c 25.0%,#7df400 26.7%,#b8fa00 28.3%,#fff200 30.0%,#ffcb00 31.7%,#ffb200 33.3%,#ffa400 35.0%,#ff9d00 38.3%,#ffa800 41.7%,#ffbd00 43.3%,#ffe400 45.0%,#c4f900 46.7%,#7cf300 48.3%,#20aa3e 50.0%,#0077d9 51.7%,#216ff9 53.3%,#597ffa 55.0%,#6f8af9 56.7%,#8199f9 61.7%,#9bb1fa 80.0%,#9db3fa)"></i><i style="left:29.07px;width:2.38px;background:linear-gradient(#7f97f9,#6784fa 11.7%,#547dfa 15.0%,#3072fa 18.3%,#156cf9 20.0%,#0172ef 21.7%,#0084a2 23.3%,#37be20 25.0%,#7cf400 26.7%,#b5fa00 28.3%,#fff400 30.0%,#ffcc00 31.7%,#ffb300 33.3%,#ffa400 35.0%,#ff9d00 38.3%,#ffa700 41.7%,#ffbc00 43.3%,#ffe200 45.0%,#c8f900 46.7%,#7ef400 48.3%,#24ae36 50.0%,#0078d5 51.7%,#1f6ef9 53.3%,#577efa 55.0%,#6f8af9 56.7%,#7d96f9 60.0%,#9ab0fa 78.3%,#9db3fa)"></i><i style="left:31.14px;width:2.38px;background:linear-gradient(#7f97f9,#6785fa 11.7%,#547dfa 15.0%,#3073fa 18.3%,#176cf9 20.0%,#0271f0 21.7%,#0083a6 23.3%,#33bb23 25.0%,#7af300 26.7%,#b3fa00 28.3%,#fdf500 30.0%,#ffcd00 31.7%,#ffb300 33.3%,#ffa400 35.0%,#ff9d00 38.3%,#ffa700 41.7%,#ffbb00 43.3%,#ffe000 45.0%,#cbf900 46.7%,#7ff500 48.3%,#28b22e 50.0%,#0079d0 51.7%,#1c6ef9 53.3%,#557efa 55.0%,#6e8af9 56.7%,#7d96f9 60.0%,#9ab0fa 78.3%,#9db3fa)"></i><i style="left:33.22px;width:2.38px;background:linear-gradient(#7f98f9,#6885fa 11.7%,#557dfa 15.0%,#3173fa 18.3%,#186cf9 20.0%,#0271f0 21.7%,#0082a9 23.3%,#30b826 25.0%,#79f200 26.7%,#b1fa00 28.3%,#fbf500 30.0%,#ffce00 31.7%,#ffb400 33.3%,#ffa500 35.0%,#ff9d00 38.3%,#ffa600 41.7%,#ffba00 43.3%,#ffdf00 45.0%,#cef900 46.7%,#81f600 48.3%,#2bb52a 50.0%,#007acd 51.7%,#1b6df9 53.3%,#547dfa 55.0%,#6e89f9 56.7%,#7d95f9 60.0%,#9bb0fa 80.0%,#9db3fa)"></i><i style="left:35.29px;width:2.38px;background:linear-gradient(#7f98f9,#6885fa 11.7%,#557efa 15.0%,#3273fa 18.3%,#186df9 20.0%,#0271f0 21.7%,#0082ab 23.3%,#2eb628 25.0%,#78f200 26.7%,#b0fa00 28.3%,#f9f500 30.0%,#ffcf00 31.7%,#ffb500 33.3%,#ffa500 35.0%,#ff9d00 38.3%,#ffa600 41.7%,#ffba00 43.3%,#ffde00 45.0%,#d0f800 46.7%,#82f600 48.3%,#2fb727 50.0%,#007bca 51.7%,#196df9 53.3%,#527dfa 55.0%,#6e89f9 56.7%,#7d95f9 60.0%,#9bb0fa 80.0%,#9db3fa)"></i><i style="left:37.37px;width:2.38px;background:linear-gradient(#7f98f9,#6885fa 11.7%,#557efa 15.0%,#3273fa 18.3%,#196df9 20.0%,#0370f1 21.7%,#0081ad 23.3%,#2cb529 25.0%,#77f200 26.7%,#affa00 28.3%,#f8f500 30.0%,#ffcf00 31.7%,#ffb500 33.3%,#ffa500 35.0%,#ff9d00 38.3%,#ffa600 41.7%,#ffb900 43.3%,#ffdd00 45.0%,#d2f800 46.7%,#83f600 48.3%,#31b926 50.0%,#007bc8 51.7%,#186df9 53.3%,#527dfa 55.0%,#6d89f9 56.7%,#7d95f9 60.0%,#9bb0fa 80.0%,#9db3fa)"></i><i style="left:39.45px;width:2.38px;background:linear-gradient(#7f98f9,#6885fa 11.7%,#557efa 15.0%,#3273fa 18.3%,#196df9 20.0%,#0370f1 21.7%,#0081ad 23.3%,#2cb52a 25.0%,#77f200 26.7%,#aefa00 28.3%,#f8f600 30.0%,#ffd000 31.7%,#ffb500 33.3%,#ffa500 35.0%,#ff9d00 38.3%,#ffa600 41.7%,#ffb900 43.3%,#ffdd00 45.0%,#d2f800 46.7%,#83f600 48.3%,#31b925 50.0%,#007bc7 51.7%,#186cf9 53.3%,#517cfa 55.0%,#6d89f9 56.7%,#7d95f9 60.0%,#9bb0fa 80.0%,#9db3fa)"></i><i style="left:41.52px;width:2.38px;background:linear-gradient(#7f98f9,#6a87f9 11.7%,#5d80fa 15.0%,#3c76fa 18.3%,#076cf5 21.7%,#007bc7 23.3%,#139e59 25.0%,#65e503 26.7%,#93f800 28.3%,#d2f800 30.0%,#ffea00 31.7%,#ffcd00 33.3%,#ffbc00 35.0%,#ffb100 38.3%,#ffb600 41.7%,#ffc300 43.3%,#ffde00 45.0%,#e0f700 46.7%,#96f900 48.3%,#5adb07 50.0%,#008892 51.7%,#056ef3 53.3%,#3774fa 55.0%,#6684fa 56.7%,#7b93f8 60.0%,#9ab0fa 80.0%,#9db3fa)"></i><i style="left:43.60px;width:2.38px;background:linear-gradient(#8099f9,#6c88f9 13.3%,#6181fa 16.7%,#3775fa 20.0%,#196df9 21.7%,#0271f0 23.3%,#0083a8 25.0%,#28b22d 26.7%,#6fef00 28.3%,#94f900 30.0%,#eff600 33.3%,#ffeb00 35.0%,#ffdb00 38.3%,#ffdb00 41.7%,#ffe100 43.3%,#fff000 45.0%,#dff700 46.7%,#aaf900 48.3%,#7af300 50.0%,#34bc22 51.7%,#0080b0 53.3%,#086bf6 55.0%,#3d76fa 56.7%,#6885fa 58.3%,#7b94f8 61.7%,#9ab0fa 83.3%,#9db3fa)"></i><i style="left:45.67px;width:2.38px;background:linear-gradient(#8199f9,#6b87f9 15.0%,#5a7ffa 18.3%,#2570f9 21.7%,#066df4 23.3%,#007bc6 25.0%,#0e9965 26.7%,#56d708 28.3%,#7ff500 30.0%,#caf900 33.3%,#e9f700 35.0%,#fbf500 36.7%,#fff000 41.7%,#fff400 43.3%,#f2f600 45.0%,#d4f800 46.7%,#80f500 50.0%,#4fd10b 51.7%,#008a8a 53.3%,#0073ee 55.0%,#2670f9 56.7%,#5b7ffa 58.3%,#708bf9 60.0%,#8199f9 65.0%,#9bb0fa 86.7%,#9db3fa)"></i><i style="left:47.75px;width:2.38px;background:linear-gradient(#839cf9,#6d89f9 16.7%,#5f81fa 20.0%,#4779fa 21.7%,#066df4 25.0%,#007cc2 26.7%,#119c5e 28.3%,#57d908 30.0%,#7ef400 31.7%,#bbfa00 35.0%,#d3f800 36.7%,#e1f700 38.3%,#e4f700 43.3%,#dcf700 45.0%,#c9f900 46.7%,#8af800 50.0%,#6beb01 51.7%,#24ae36 53.3%,#0080b3 55.0%,#076cf5 56.7%,#3373fa 58.3%,#6482fa 60.0%,#7a93f8 63.3%,#9ab0fa 88.3%,#9db2fa)"></i><i style="left:49.83px;width:2.38px;background:linear-gradient(#88a0fa,#738df9 20.0%,#6684fa 23.3%,#4e7bfa 25.0%,#2870f9 26.7%,#056ef3 28.3%,#007ebb 30.0%,#149f57 31.7%,#54d609 33.3%,#77f200 35.0%,#9cf900 38.3%,#aaf900 41.7%,#a4f900 46.7%,#88f800 50.0%,#77f200 51.7%,#58da07 53.3%,#1da843 55.0%,#0082aa 56.7%,#0271f0 58.3%,#226ff9 60.0%,#517cfa 61.7%,#6c88f9 63.3%,#7c95f8 66.7%,#9ab0fa 93.3%,#9cb2fa)"></i><i style="left:51.90px;width:2.38px;background:linear-gradient(#8aa2fa,#758ff8 21.7%,#6885fa 25.0%,#517cfa 26.7%,#2871fa 28.3%,#056ef3 30.0%,#007eba 31.7%,#139e59 33.3%,#4fd20a 35.0%,#72ef00 36.7%,#89f800 40.0%,#91f800 45.0%,#80f500 50.0%,#75f100 51.7%,#5dde06 53.3%,#2db628 55.0%,#008b88 56.7%,#0079d2 58.3%,#096af7 60.0%,#5f81fa 63.3%,#7992f8 66.7%,#9ab0fa 95.0%,#9cb1fa)"></i><i style="left:53.98px;width:2.38px;background:linear-gradient(#8ea5fa,#738df9 25.0%,#6b87f9 26.7%,#557dfa 28.3%,#2971fa 30.0%,#056ef3 31.7%,#007fb5 33.3%,#15a055 35.0%,#4dd00c 36.7%,#6eee00 38.3%,#7ff500 41.7%,#7cf400 50.0%,#71ef00 53.3%,#63e404 55.0%,#4ed00c 56.7%,#2bb42b 58.3%,#0a956d 60.0%,#0083a7 61.7%,#0077da 63.3%,#076cf5 65.0%,#4178fa 68.3%,#6281fa 70.0%,#7790f8 73.3%,#8ea5fa 93.3%,#94aafa)"></i><i style="left:56.05px;width:2.38px;background:linear-gradient(#92a9fa,#758ff8 26.7%,#6d89f9 28.3%,#587efa 30.0%,#2971fa 31.7%,#046ff2 33.3%,#0080b1 35.0%,#16a154 36.7%,#48cc11 38.3%,#65e503 40.0%,#71ef00 41.7%,#71ef00 51.7%,#66e603 55.0%,#4fd20a 58.3%,#3ac01d 60.0%,#23ad39 61.7%,#0c9868 63.3%,#008794 65.0%,#0076e0 68.3%,#056ef3 70.0%,#146cf9 71.7%,#6281fa 76.7%,#7992f8 81.7%,#8aa2fa)"></i><i style="left:58.13px;width:2.38px;background:linear-gradient(#92a9fa,#758ff8 26.7%,#6d89f9 28.3%,#587efa 30.0%,#2971fa 31.7%,#046ff2 33.3%,#0080b1 35.0%,#16a154 36.7%,#48cc11 38.3%,#65e503 40.0%,#71ef00 41.7%,#72ef00 51.7%,#62e304 56.7%,#4acd0f 60.0%,#35bd21 61.7%,#20aa3e 63.3%,#0b966b 65.0%,#008794 66.7%,#0077dc 70.0%,#046ff2 71.7%,#116bf8 73.3%,#6081fa 78.3%,#7a92f8 83.3%,#89a1fa)"></i><i style="left:60.21px;width:2.38px;background:linear-gradient(#92a9fa,#758ff8 26.7%,#6d89f9 28.3%,#587efa 30.0%,#2971fa 31.7%,#046ff2 33.3%,#0080b1 35.0%,#16a154 36.7%,#48cc11 38.3%,#65e503 40.0%,#71ef00 41.7%,#72ef00 53.3%,#65e603 58.3%,#54d609 61.7%,#32ba24 65.0%,#1ea842 66.7%,#09946f 68.3%,#008698 70.0%,#0075e5 73.3%,#076cf5 75.0%,#3775fa 78.3%,#557efa 80.0%,#6986fa 81.7%,#7c95f8 86.7%,#89a1fa)"></i><i style="left:62.28px;width:2.38px;background:linear-gradient(#92a9fa,#758ff8 26.7%,#6d89f9 28.3%,#587efa 30.0%,#2971fa 31.7%,#046ff2 33.3%,#0080b1 35.0%,#16a154 36.7%,#48cc11 38.3%,#65e503 40.0%,#71ef00 41.7%,#71ef00 55.0%,#63e404 60.0%,#52d409 63.3%,#2db629 66.7%,#18a34e 68.3%,#028e7e 70.0%,#0271f0 75.0%,#0c6af8 76.7%,#6382fa 81.7%,#7b94f8 86.7%,#88a0fa)"></i><i style="left:64.36px;width:2.38px;background:linear-gradient(#92a9fa,#758ff8 26.7%,#6d89f9 28.3%,#587efa 30.0%,#2971fa 31.7%,#046ff2 33.3%,#0080b1 35.0%,#16a154 36.7%,#48cc11 38.3%,#65e503 40.0%,#71ef00 41.7%,#71ef00 53.3%,#62e304 58.3%,#4ed00c 61.7%,#27b12f 65.0%,#008c84 68.3%,#0073ee 73.3%,#086bf6 75.0%,#547dfa 80.0%,#6885fa 81.7%,#7b94f8 86.7%,#879ffa)"></i><i style="left:66.43px;width:2.38px;background:linear-gradient(#92a9fa,#758ff8 26.7%,#6d89f9 28.3%,#587efa 30.0%,#2971fa 31.7%,#046ff2 33.3%,#0080b1 35.0%,#16a154 36.7%,#48cc11 38.3%,#65e503 40.0%,#71ef00 41.7%,#6fef00 53.3%,#5adc07 58.3%,#4fd10b 60.0%,#26b032 63.3%,#008b87 66.7%,#0073ee 71.7%,#086bf6 73.3%,#6482fa 80.0%,#7c94f8 86.7%,#879ffa)"></i><i style="left:68.51px;width:2.38px;background:linear-gradient(#879ffa,#768ff8 20.0%,#6583fa 23.3%,#1d6ef9 26.7%,#0370f1 28.3%,#007ebb 30.0%,#079274 31.7%,#30b826 33.3%,#55d608 35.0%,#68e802 36.7%,#73f000 40.0%,#70ef00 48.3%,#5dde06 51.7%,#4dd00c 53.3%,#32ba24 55.0%,#16a153 56.7%,#00898d 58.3%,#0074ea 61.7%,#096af7 63.3%,#6482fa 68.3%,#7b94f8 73.3%,#94abfa)"></i><i style="left:70.59px;width:2.38px;background:linear-gradient(#819af9,#768ff8 13.3%,#6986fa 16.7%,#577efa 18.3%,#156cf9 21.7%,#0271f0 23.3%,#007cc1 25.0%,#008a88 26.7%,#1faa40 28.3%,#43c716 30.0%,#5bdc06 31.7%,#6aea01 33.3%,#74f000 38.3%,#71ef00 43.3%,#67e802 45.0%,#54d609 46.7%,#2db629 48.3%,#038f7c 50.0%,#007cc4 51.7%,#066df4 53.3%,#2b71fa 55.0%,#5c7ffa 56.7%,#718bf9 58.3%,#829af9 63.3%,#9bb1fa 88.3%,#9db3fa)"></i><i style="left:72.66px;width:2.38px;background:linear-gradient(#7d96f9,#718bf9 10.0%,#5f80fa 13.3%,#096af7 18.3%,#0074e7 20.0%,#008c81 23.3%,#21ab3d 25.0%,#42c716 26.7%,#5adc07 28.3%,#6aea01 30.0%,#77f100 35.0%,#74f000 41.7%,#6eee00 43.3%,#5bdd06 45.0%,#3bc11d 46.7%,#109b5f 48.3%,#0081ad 50.0%,#0172ef 51.7%,#1a6df9 53.3%,#4879fa 55.0%,#6a86f9 56.7%,#7d95f9 60.0%,#9ab0fa 86.7%,#9db2fa)"></i><i style="left:74.74px;width:2.38px;background:linear-gradient(#708bf9,#6683fa 3.3%,#3d76fa 6.7%,#0c69f8 10.0%,#0271f0 11.7%,#007acd 13.3%,#0084a1 15.0%,#09956f 16.7%,#25af33 18.3%,#44c815 20.0%,#5adc07 21.7%,#6aea01 23.3%,#7af300 28.3%,#7af300 38.3%,#6aea01 41.7%,#53d509 43.3%,#29b32c 45.0%,#008c81 46.7%,#007cc4 48.3%,#046ff2 50.0%,#236ff9 51.7%,#4e7bfa 53.3%,#6a87f9 55.0%,#7c95f8 58.3%,#9ab0fa 86.7%,#9db2fa)"></i><i style="left:76.82px;width:2.38px;background:linear-gradient(#5a7ffa,#196df9 5.0%,#076cf5 6.7%,#0074e8 8.3%,#008797 11.7%,#0e9965 13.3%,#28b22d 15.0%,#46ca13 16.7%,#6aeb01 20.0%,#7ef500 26.7%,#7df400 36.7%,#70ef00 40.0%,#5bdd06 41.7%,#38bf1f 43.3%,#0e9964 45.0%,#0081ad 46.7%,#0074ec 48.3%,#136bf8 50.0%,#6382fa 53.3%,#7992f8 56.7%,#99affa 85.0%,#9db2fa)"></i><i style="left:78.89px;width:2.38px;background:linear-gradient(#5a7ffa,#196df9 5.0%,#076cf5 6.7%,#0074e8 8.3%,#008797 11.7%,#0e9965 13.3%,#28b22d 15.0%,#46ca13 16.7%,#6aeb01 20.0%,#7ef500 26.7%,#7df400 36.7%,#70ef00 40.0%,#5bdd06 41.7%,#38bf1f 43.3%,#0e9964 45.0%,#0081ad 46.7%,#0074ec 48.3%,#136bf8 50.0%,#6382fa 53.3%,#7992f8 56.7%,#99affa 85.0%,#9db2fa)"></i><i style="left:80.97px;width:2.38px;background:linear-gradient(#5a7ffa,#196df9 5.0%,#076cf5 6.7%,#0074e8 8.3%,#008797 11.7%,#0e9965 13.3%,#28b22d 15.0%,#46ca13 16.7%,#6aeb01 20.0%,#7ef500 26.7%,#7df400 36.7%,#70ef00 40.0%,#5bdd06 41.7%,#38bf1f 43.3%,#0e9964 45.0%,#0081ad 46.7%,#0074ec 48.3%,#136bf8 50.0%,#6382fa 53.3%,#7992f8 56.7%,#99affa 85.0%,#9db2fa)"></i><i style="left:83.04px;width:2.38px;background:linear-gradient(#5a7ffa,#196df9 5.0%,#076cf5 6.7%,#0074e8 8.3%,#008797 11.7%,#0e9965 13.3%,#28b22d 15.0%,#46ca13 16.7%,#6aeb01 20.0%,#7ef500 26.7%,#7df400 36.7%,#70ef00 40.0%,#5bdd06 41.7%,#38bf1f 43.3%,#0e9964 45.0%,#0081ad 46.7%,#0074ec 48.3%,#136bf8 50.0%,#6382fa 53.3%,#7992f8 56.7%,#99affa 85.0%,#9db2fa)"></i><i style="left:85.12px;width:2.38px;background:linear-gradient(#5a7ffa,#196df9 5.0%,#076cf5 6.7%,#0074e8 8.3%,#008797 11.7%,#0e9965 13.3%,#28b22d 15.0%,#46ca13 16.7%,#6aeb01 20.0%,#7ef500 26.7%,#7df400 36.7%,#70ef00 40.0%,#5bdd06 41.7%,#38bf1f 43.3%,#0e9964 45.0%,#0081ad 46.7%,#0074ec 48.3%,#136bf8 50.0%,#6382fa 53.3%,#7992f8 56.7%,#99affa 85.0%,#9db2fa)"></i><i style="left:87.20px;width:2.38px;background:linear-gradient(#5a7ffa,#196df9 5.0%,#076cf5 6.7%,#0074e8 8.3%,#008797 11.7%,#0e9965 13.3%,#28b22d 15.0%,#46ca13 16.7%,#6aeb01 20.0%,#7ef500 26.7%,#7df400 36.7%,#70ef00 40.0%,#5bdd06 41.7%,#38bf1f 43.3%,#0e9964 45.0%,#0081ad 46.7%,#0074ec 48.3%,#136bf8 50.0%,#6382fa 53.3%,#7992f8 56.7%,#99affa 85.0%,#9db2fa)"></i><i style="left:89.27px;width:2.38px;background:linear-gradient(#5a7ffa,#196df9 5.0%,#076cf5 6.7%,#0074e8 8.3%,#008797 11.7%,#0e9965 13.3%,#28b22d 15.0%,#46ca13 16.7%,#6aeb01 20.0%,#7ef500 26.7%,#7df400 36.7%,#70ef00 40.0%,#5bdd06 41.7%,#38bf1f 43.3%,#0e9964 45.0%,#0081ad 46.7%,#0074ec 48.3%,#136bf8 50.0%,#6382fa 53.3%,#7992f8 56.7%,#99affa 85.0%,#9db2fa)"></i><i style="left:91.35px;width:2.38px;background:linear-gradient(#5a7ffa,#196df9 5.0%,#076cf5 6.7%,#0074e8 8.3%,#008797 11.7%,#0e9965 13.3%,#28b22d 15.0%,#46ca13 16.7%,#6aeb01 20.0%,#7ef500 26.7%,#7df400 36.7%,#70ef00 40.0%,#5bdd06 41.7%,#38bf1f 43.3%,#0e9964 45.0%,#0081ad 46.7%,#0074ec 48.3%,#136bf8 50.0%,#6382fa 53.3%,#7992f8 56.7%,#99affa 85.0%,#9db2fa)"></i><i style="left:93.42px;width:2.38px;background:linear-gradient(#5a7ffa,#196df9 5.0%,#076cf5 6.7%,#0074e8 8.3%,#008797 11.7%,#0e9965 13.3%,#28b22d 15.0%,#46ca13 16.7%,#6aeb01 20.0%,#7ef500 26.7%,#7df400 36.7%,#70ef00 40.0%,#5bdd06 41.7%,#38bf1f 43.3%,#0e9964 45.0%,#0081ad 46.7%,#0074ec 48.3%,#136bf8 50.0%,#6382fa 53.3%,#7992f8 56.7%,#99affa 85.0%,#9db2fa)"></i><i style="left:95.50px;width:2.38px;background:linear-gradient(#5a7ffa,#196df9 5.0%,#076cf5 6.7%,#0074e8 8.3%,#008797 11.7%,#0e9965 13.3%,#28b22d 15.0%,#46ca13 16.7%,#6aeb01 20.0%,#7ef500 26.7%,#7df400 36.7%,#70ef00 40.0%,#5bdd06 41.7%,#38bf1f 43.3%,#0e9964 45.0%,#0081ad 46.7%,#0074ec 48.3%,#136bf8 50.0%,#6382fa 53.3%,#7992f8 56.7%,#99affa 85.0%,#9db2fa)"></i><i style="left:97.58px;width:2.38px;background:linear-gradient(#5a7ffa,#196df9 5.0%,#076cf5 6.7%,#0074e8 8.3%,#008797 11.7%,#0e9965 13.3%,#28b22d 15.0%,#46ca13 16.7%,#6aeb01 20.0%,#7ef500 26.7%,#7df400 36.7%,#70ef00 40.0%,#5bdd06 41.7%,#38bf1f 43.3%,#0e9964 45.0%,#0081ad 46.7%,#0074ec 48.3%,#136bf8 50.0%,#6382fa 53.3%,#7992f8 56.7%,#99affa 85.0%,#9db2fa)"></i><i style="left:99.65px;width:2.38px;background:linear-gradient(#5a7ffa,#196df9 5.0%,#076cf5 6.7%,#0074e8 8.3%,#008797 11.7%,#0e9965 13.3%,#28b22d 15.0%,#46ca13 16.7%,#6aeb01 20.0%,#7ef500 26.7%,#7df400 36.7%,#70ef00 40.0%,#5bdd06 41.7%,#38bf1f 43.3%,#0e9964 45.0%,#0081ad 46.7%,#0074ec 48.3%,#136bf8 50.0%,#6382fa 53.3%,#7992f8 56.7%,#99affa 85.0%,#9db2fa)"></i></div></div>
<div class="p" style="left:312.20px;top:263.00px"><div class="q" style="left:-3.11px;width:101.73px"><i style="left:0.00px;width:2.38px;background:linear-gradient(#839bf9,#708bf9 13.3%,#5d80fa 18.3%,#497afa 20.0%,#086bf6 23.3%,#007bca 25.0%,#129d5c 26.7%,#61e204 28.3%,#8af800 30.0%,#eaf600 33.3%,#ffee00 35.0%,#ffdf00 38.3%,#ffe100 41.7%,#ffec00 43.3%,#eaf700 45.0%,#b3fa00 46.7%,#7ef400 48.3%,#35bd21 50.0%,#007eba 51.7%,#106af8 53.3%,#4d7bfa 55.0%,#6e89f9 56.7%,#7e96f9 60.0%,#9ab0fa 80.0%,#9db3fa)"></i><i style="left:2.08px;width:2.38px;background:linear-gradient(#839bf9,#708bf9 13.3%,#5d80fa 18.3%,#497afa 20.0%,#086bf6 23.3%,#007bca 25.0%,#129d5c 26.7%,#61e204 28.3%,#8af800 30.0%,#eaf600 33.3%,#ffee00 35.0%,#ffdf00 38.3%,#ffe100 41.7%,#ffec00 43.3%,#eaf700 45.0%,#b3fa00 46.7%,#7ef400 48.3%,#35bd21 50.0%,#007eba 51.7%,#106af8 53.3%,#4d7bfa 55.0%,#6e89f9 56.7%,#7e96f9 60.0%,#9ab0fa 80.0%,#9db3fa)"></i><i style="left:4.15px;width:2.38px;background:linear-gradient(#839bf9,#6f8bf9 13.3%,#5d80fa 18.3%,#487afa 20.0%,#086bf6 23.3%,#007bc8 25.0%,#139e5a 26.7%,#62e304 28.3%,#8bf800 30.0%,#ecf600 33.3%,#ffed00 35.0%,#ffdd00 38.3%,#ffe000 41.7%,#ffeb00 43.3%,#ebf600 45.0%,#b4fa00 46.7%,#7ef500 48.3%,#37be20 50.0%,#007eb9 51.7%,#0f6af8 53.3%,#4c7bfa 55.0%,#6d89f9 56.7%,#7d96f9 60.0%,#9ab0fa 80.0%,#9db3fa)"></i><i style="left:6.23px;width:2.38px;background:linear-gradient(#839bf9,#6f8af9 13.3%,#6684fa 16.7%,#5b7ffa 18.3%,#4779fa 20.0%,#086bf6 23.3%,#007bc6 25.0%,#15a055 26.7%,#64e503 28.3%,#8ef800 30.0%,#f0f600 33.3%,#ffea00 35.0%,#ffda00 38.3%,#ffdc00 41.7%,#ffe800 43.3%,#f0f600 45.0%,#b7fa00 46.7%,#80f500 48.3%,#3ac11d 50.0%,#007fb5 51.7%,#0d6af8 53.3%,#4b7afa 55.0%,#6d89f9 56.7%,#7d96f9 60.0%,#9ab0fa 80.0%,#9db3fa)"></i><i style="left:8.30px;width:2.38px;background:linear-gradient(#839bf9,#6f8af9 13.3%,#6683fa 16.7%,#5a7ffa 18.3%,#4579fa 20.0%,#076cf5 23.3%,#007cc3 25.0%,#18a350 26.7%,#67e802 28.3%,#91f800 30.0%,#f4f600 33.3%,#ffe700 35.0%,#ffd700 38.3%,#ffd900 41.7%,#ffe500 43.3%,#f4f600 45.0%,#bafa00 46.7%,#81f600 48.3%,#3ec31a 50.0%,#0080b2 51.7%,#0c69f8 53.3%,#497afa 55.0%,#6d88f9 56.7%,#7d96f9 60.0%,#9ab0fa 80.0%,#9db3fa)"></i><i style="left:10.38px;width:2.38px;background:linear-gradient(#839bf9,#6e8af9 13.3%,#6683fa 16.7%,#5a7ffa 18.3%,#4579fa 20.0%,#076cf5 23.3%,#007cc2 25.0%,#19a34d 26.7%,#68e902 28.3%,#92f800 30.0%,#f6f600 33.3%,#ffe600 35.0%,#ffd600 38.3%,#ffd800 41.7%,#ffe300 43.3%,#f6f600 45.0%,#82f600 48.3%,#3fc419 50.0%,#0080b1 51.7%,#0b69f8 53.3%,#497afa 55.0%,#6c88f9 56.7%,#7d96f9 60.0%,#9ab0fa 80.0%,#9db3fa)"></i><i style="left:12.46px;width:2.38px;background:linear-gradient(#829bf9,#6d89f9 13.3%,#6482fa 16.7%,#4077fa 20.0%,#056ef3 23.3%,#007eb9 25.0%,#20aa3e 26.7%,#6fee00 28.3%,#99f900 30.0%,#d0f800 31.7%,#fff300 33.3%,#ffdd00 35.0%,#ffcd00 38.3%,#ffcf00 41.7%,#ffdb00 43.3%,#fff300 45.0%,#87f800 48.3%,#49cc10 50.0%,#0083a8 51.7%,#096af7 53.3%,#4579fa 55.0%,#6b87f9 56.7%,#7d95f9 60.0%,#9ab0fa 80.0%,#9db3fa)"></i><i style="left:14.53px;width:2.38px;background:linear-gradient(#819af9,#6a87f9 13.3%,#5c80fa 16.7%,#3674fa 20.0%,#1a6df9 21.7%,#0271f0 23.3%,#0083a5 25.0%,#33bb23 26.7%,#79f200 28.3%,#acf900 30.0%,#ebf600 31.7%,#ffdf00 33.3%,#ffc900 35.0%,#ffba00 38.3%,#ffbc00 41.7%,#ffc600 43.3%,#ffdf00 45.0%,#e1f700 46.7%,#98f900 48.3%,#5bdd06 50.0%,#008892 51.7%,#066df4 53.3%,#6885fa 56.7%,#7c94f8 60.0%,#9ab0fa 80.0%,#9db3fa)"></i><i style="left:16.61px;width:2.38px;background:linear-gradient(#8199f9,#6c88f9 11.7%,#6181fa 15.0%,#4378fa 18.3%,#106bf8 21.7%,#0074e7 23.3%,#008990 25.0%,#49cc10 26.7%,#83f600 28.3%,#c0fa00 30.0%,#fff000 31.7%,#ffcc00 33.3%,#ffb600 35.0%,#ffa600 38.3%,#ffa800 41.7%,#ffb400 43.3%,#ffcc00 45.0%,#fcf500 46.7%,#aaf900 48.3%,#6cec01 50.0%,#04907a 51.7%,#0271f0 53.3%,#3173fa 55.0%,#6583fa 56.7%,#7a93f8 60.0%,#9ab0fa 80.0%,#9db3fa)"></i><i style="left:18.68px;width:2.38px;background:linear-gradient(#8099f9,#6b87f9 11.7%,#5d80fa 15.0%,#4077fa 18.3%,#0c6af8 21.7%,#0076e0 23.3%,#008b87 25.0%,#51d30a 26.7%,#87f800 28.3%,#caf900 30.0%,#ffe800 31.7%,#ffc400 33.3%,#ffae00 35.0%,#ff9d00 38.3%,#ffa000 41.7%,#ffac00 43.3%,#ffc400 45.0%,#fff000 46.7%,#b1fa00 48.3%,#70ef00 50.0%,#0a956d 51.7%,#0172ef 53.3%,#2e72fa 55.0%,#6382fa 56.7%,#7a93f8 60.0%,#9ab0fa 80.0%,#9db3fa)"></i><i style="left:20.76px;width:2.38px;background:linear-gradient(#8099f9,#6b87f9 11.7%,#5d80fa 15.0%,#4077fa 18.3%,#0c6af8 21.7%,#0076e0 23.3%,#008b87 25.0%,#51d30a 26.7%,#87f800 28.3%,#caf900 30.0%,#ffe800 31.7%,#ffc400 33.3%,#ffae00 35.0%,#ff9d00 38.3%,#ffa000 41.7%,#ffac00 43.3%,#ffc400 45.0%,#fff000 46.7%,#b1fa00 48.3%,#70ef00 50.0%,#0a956d 51.7%,#0172ef 53.3%,#2e72fa 55.0%,#6382fa 56.7%,#7a93f8 60.0%,#9ab0fa 80.0%,#9db3fa)"></i><i style="left:22.84px;width:2.38px;background:linear-gradient(#8099f9,#6b87f9 11.7%,#5d80fa 15.0%,#4077fa 18.3%,#0c6af8 21.7%,#0076e0 23.3%,#008b87 25.0%,#51d30a 26.7%,#87f800 28.3%,#caf900 30.0%,#ffe800 31.7%,#ffc400 33.3%,#ffae00 35.0%,#ff9d00 38.3%,#ffa000 41.7%,#ffac00 43.3%,#ffc400 45.0%,#fff000 46.7%,#b1fa00 48.3%,#70ef00 50.0%,#0a956d 51.7%,#0172ef 53.3%,#2e72fa 55.0%,#6382fa 56.7%,#7a93f8 60.0%,#9ab0fa 80.0%,#9db3fa)"></i><i style="left:24.91px;width:2.38px;background:linear-gradient(#8099f9,#6b87f9 11.7%,#5d80fa 15.0%,#4077fa 18.3%,#0c6af8 21.7%,#0076e0 23.3%,#008b87 25.0%,#51d30a 26.7%,#87f800 28.3%,#caf900 30.0%,#ffe800 31.7%,#ffc400 33.3%,#ffae00 35.0%,#ff9d00 38.3%,#ffa000 41.7%,#ffac00 43.3%,#ffc400 45.0%,#fff000 46.7%,#b1fa00 48.3%,#70ef00 50.0%,#0a956d 51.7%,#0172ef 53.3%,#2e72fa 55.0%,#6382fa 56.7%,#7a93f8 60.0%,#9ab0fa 80.0%,#9db3fa)"></i><i style="left:26.99px;width:2.38px;background:linear-gradient(#8099f9,#6b87f9 11.7%,#5d80fa 15.0%,#4077fa 18.3%,#0c6af8 21.7%,#0076e0 23.3%,#008b87 25.0%,#51d30a 26.7%,#87f800 28.3%,#caf900 30.0%,#ffe800 31.7%,#ffc400 33.3%,#ffae00 35.0%,#ff9d00 38.3%,#ffa000 41.7%,#ffac00 43.3%,#ffc400 45.0%,#fff000 46.7%,#b1fa00 48.3%,#70ef00 50.0%,#0a956d 51.7%,#0172ef 53.3%,#2e72fa 55.0%,#6382fa 56.7%,#7a93f8 60.0%,#9ab0fa 80.0%,#9db3fa)"></i><i style="left:29.07px;width:2.38px;background:linear-gradient(#8099f9,#6b87f9 11.7%,#5d80fa 15.0%,#4077fa 18.3%,#0c6af8 21.7%,#0076e0 23.3%,#008b87 25.0%,#51d30a 26.7%,#87f800 28.3%,#caf900 30.0%,#ffe800 31.7%,#ffc400 33.3%,#ffae00 35.0%,#ff9d00 38.3%,#ffa000 41.7%,#ffac00 43.3%,#ffc400 45.0%,#fff000 46.7%,#b1fa00 48.3%,#70ef00 50.0%,#0a956d 51.7%,#0172ef 53.3%,#2e72fa 55.0%,#6382fa 56.7%,#7a93f8 60.0%,#9ab0fa 80.0%,#9db3fa)"></i><i style="left:31.14px;width:2.38px;background:linear-gradient(#8099f9,#6b87f9 11.7%,#5d80fa 15.0%,#4077fa 18.3%,#0c6af8 21.7%,#0076e0 23.3%,#008b87 25.0%,#51d30a 26.7%,#87f800 28.3%,#caf900 30.0%,#ffe800 31.7%,#ffc400 33.3%,#ffae00 35.0%,#ff9d00 38.3%,#ffa000 41.7%,#ffac00 43.3%,#ffc400 45.0%,#fff000 46.7%,#b1fa00 48.3%,#70ef00 50.0%,#0a956d 51.7%,#0172ef 53.3%,#2e72fa 55.0%,#6382fa 56.7%,#7a93f8 60.0%,#9ab0fa 80.0%,#9db3fa)"></i><i style="left:33.22px;width:2.38px;background:linear-gradient(#8099f9,#6b87f9 11.7%,#5d80fa 15.0%,#4077fa 18.3%,#0c6af8 21.7%,#0076e0 23.3%,#008b87 25.0%,#51d30a 26.7%,#87f800 28.3%,#caf900 30.0%,#ffe800 31.7%,#ffc400 33.3%,#ffae00 35.0%,#ff9d00 38.3%,#ffa000 41.7%,#ffac00 43.3%,#ffc400 45.0%,#fff000 46.7%,#b1fa00 48.3%,#70ef00 50.0%,#0a956d 51.7%,#0172ef 53.3%,#2e72fa 55.0%,#6382fa 56.7%,#7a93f8 60.0%,#9ab0fa 80.0%,#9db3fa)"></i><i style="left:35.29px;width:2.38px;background:linear-gradient(#8099f9,#6b87f9 11.7%,#5d80fa 15.0%,#4077fa 18.3%,#0c6af8 21.7%,#0076e0 23.3%,#008b87 25.0%,#51d30a 26.7%,#87f800 28.3%,#caf900 30.0%,#ffe800 31.7%,#ffc400 33.3%,#ffae00 35.0%,#ff9d00 38.3%,#ffa000 41.7%,#ffac00 43.3%,#ffc400 45.0%,#fff000 46.7%,#b1fa00 48.3%,#70ef00 50.0%,#0a956d 51.7%,#0172ef 53.3%,#2e72fa 55.0%,#6382fa 56.7%,#7a93f8 60.0%,#9ab0fa 80.0%,#9db3fa)"></i><i style="left:37.37px;width:2.38px;background:linear-gradient(#8099f9,#6b87f9 11.7%,#5d80fa 15.0%,#4077fa 18.3%,#0c6af8 21.7%,#0076e0 23.3%,#008b87 25.0%,#51d30a 26.7%,#87f800 28.3%,#caf900 30.0%,#ffe800 31.7%,#ffc400 33.3%,#ffae00 35.0%,#ff9d00 38.3%,#ffa000 41.7%,#ffac00 43.3%,#ffc400 45.0%,#fff000 46.7%,#b1fa00 48.3%,#70ef00 50.0%,#0a956d 51.7%,#0172ef 53.3%,#2e72fa 55.0%,#6382fa 56.7%,#7a93f8 60.0%,#9ab0fa 80.0%,#9db3fa)"></i><i style="left:39.45px;width:2.38px;background:linear-gradient(#8099f9,#6b87f9 11.7%,#5d80fa 15.0%,#4077fa 18.3%,#0c6af8 21.7%,#0076e0 23.3%,#008b87 25.0%,#51d30a 26.7%,#87f800 28.3%,#caf900 30.0%,#ffe800 31.7%,#ffc400 33.3%,#ffae00 35.0%,#ff9d00 38.3%,#ffa000 41.7%,#ffac00 43.3%,#ffc400 45.0%,#fff000 46.7%,#b1fa00 48.3%,#70ef00 50.0%,#0a956d 51.7%,#0172ef 53.3%,#2e72fa 55.0%,#6382fa 56.7%,#7a93f8 60.0%,#9ab0fa 80.0%,#9db3fa)"></i><i style="left:41.52px;width:2.38px;background:linear-gradient(#8099f9,#6c88f9 11.7%,#6081fa 15.0%,#4278fa 18.3%,#0e6af8 21.7%,#0076e1 23.3%,#008b87 25.0%,#51d30a 26.7%,#86f700 28.3%,#c5f900 30.0%,#ffed00 31.7%,#ffca00 33.3%,#ffb500 35.0%,#ffa700 38.3%,#ffaa00 41.7%,#ffb600 43.3%,#ffd000 45.0%,#f3f600 46.7%,#a2f900 48.3%,#63e304 50.0%,#008a8b 51.7%,#056ef3 53.3%,#3775fa 55.0%,#6784fa 56.7%,#7b94f8 60.0%,#9ab0fa 80.0%,#9db3fa)"></i><i style="left:43.60px;width:2.38px;background:linear-gradient(#819af9,#6a86f9 13.3%,#5a7ffa 16.7%,#3072fa 20.0%,#106bf8 21.7%,#0075e3 23.3%,#008a8a 25.0%,#4dd00c 26.7%,#82f600 28.3%,#b9fa00 30.0%,#f8f600 31.7%,#ffdb00 33.3%,#ffc800 35.0%,#ffbd00 38.3%,#ffc200 41.7%,#ffd000 43.3%,#ffee00 45.0%,#c4f900 46.7%,#82f600 48.3%,#36bd21 50.0%,#007dbf 51.7%,#136bf8 53.3%,#4f7cfa 55.0%,#6d89f9 56.7%,#7d96f9 60.0%,#9bb0fa 80.0%,#9db3fa)"></i><i style="left:45.67px;width:2.38px;background:linear-gradient(#829af9,#6c88f9 13.3%,#6081fa 16.7%,#4f7cfa 18.3%,#146bf8 21.7%,#0075e6 23.3%,#00898d 25.0%,#48cb11 26.7%,#7ef500 28.3%,#e3f700 31.7%,#ffed00 33.3%,#ffdd00 35.0%,#ffd400 38.3%,#ffdb00 41.7%,#ffed00 43.3%,#dcf800 45.0%,#9ef900 46.7%,#6beb01 48.3%,#0b966b 50.0%,#0073ec 51.7%,#2b71fa 53.3%,#6482fa 55.0%,#7b94f8 58.3%,#9ab0fa 78.3%,#9db3fa)"></i><i style="left:47.75px;width:2.38px;background:linear-gradient(#829af9,#6d89f9 13.3%,#6382fa 16.7%,#527cfa 18.3%,#156cf9 21.7%,#0074e8 23.3%,#00898f 25.0%,#45c914 26.7%,#7cf400 28.3%,#daf800 31.7%,#fff500 33.3%,#ffe600 35.0%,#ffde00 38.3%,#ffe600 41.7%,#f9f500 43.3%,#c9f900 45.0%,#90f800 46.7%,#5cdd06 48.3%,#008a89 50.0%,#0370f1 51.7%,#3574fa 53.3%,#6785fa 55.0%,#768ff8 56.7%,#98aefa 75.0%,#9db3fa)"></i><i style="left:49.83px;width:2.38px;background:linear-gradient(#829af9,#6e89f9 13.3%,#6482fa 16.7%,#537dfa 18.3%,#156cf9 21.7%,#0074e7 23.3%,#00898e 25.0%,#44c914 26.7%,#7cf300 28.3%,#d4f800 31.7%,#f7f600 33.3%,#ffe700 36.7%,#ffe700 40.0%,#ffee00 41.7%,#f1f600 43.3%,#92f800 46.7%,#65e603 48.3%,#0c9768 50.0%,#0075e3 51.7%,#246ff9 53.3%,#5c80fa 55.0%,#718cf9 56.7%,#819af9 61.7%,#9bb1fa 81.7%,#9db3fa)"></i><i style="left:51.90px;width:2.38px;background:linear-gradient(#829bf9,#708bf9 13.3%,#6684fa 16.7%,#577efa 18.3%,#156cf9 21.7%,#0075e6 23.3%,#00898e 25.0%,#42c716 26.7%,#79f200 28.3%,#c4f900 31.7%,#e2f700 33.3%,#f3f600 35.0%,#faf500 38.3%,#eff600 41.7%,#dbf800 43.3%,#93f800 46.7%,#71ef00 48.3%,#2bb42b 50.0%,#0081ae 51.7%,#066df4 53.3%,#3273fa 55.0%,#6482fa 56.7%,#7a93f8 60.0%,#99affa 83.3%,#9db3fa)"></i><i style="left:53.98px;width:2.38px;background:linear-gradient(#839bf9,#6d89f9 15.0%,#6885fa 16.7%,#5a7ffa 18.3%,#166cf9 21.7%,#0075e6 23.3%,#00898f 25.0%,#3fc419 26.7%,#76f100 28.3%,#b4fa00 31.7%,#ccf900 33.3%,#daf800 35.0%,#dcf800 40.0%,#d4f800 41.7%,#acf900 45.0%,#74f000 48.3%,#41c617 50.0%,#008b85 51.7%,#0077dd 53.3%,#136bf8 55.0%,#4278fa 56.7%,#6785fa 58.3%,#7a93f8 61.7%,#9ab0fa 88.3%,#9db2fa)"></i><i style="left:56.05px;width:2.38px;background:linear-gradient(#839bf9,#6e8af9 15.0%,#5c80fa 18.3%,#166cf9 21.7%,#0075e6 23.3%,#00898f 25.0%,#3dc21b 26.7%,#74f000 28.3%,#aefa00 31.7%,#c3f900 33.3%,#cff800 35.0%,#d0f800 40.0%,#b9fa00 43.3%,#8bf800 46.7%,#73f000 48.3%,#46ca13 50.0%,#069276 51.7%,#007ace 53.3%,#096af7 55.0%,#6181fa 58.3%,#7992f8 61.7%,#9ab0fa 90.0%,#9db2fa)"></i><i style="left:58.13px;width:2.38px;background:linear-gradient(#839bf9,#6f8bf9 15.0%,#5f80fa 18.3%,#1a6df9 21.7%,#0073ee 23.3%,#00859d 25.0%,#2db629 26.7%,#6beb01 28.3%,#84f700 30.0%,#9ff900 31.7%,#b1fa00 33.3%,#bffa00 36.7%,#b9fa00 41.7%,#a2f900 45.0%,#7af300 48.3%,#5edf05 50.0%,#27b12f 51.7%,#008796 53.3%,#0076df 55.0%,#0e6af8 56.7%,#6181fa 60.0%,#7891f8 63.3%,#99affa 93.3%,#9cb1fa)"></i><i style="left:60.21px;width:2.38px;background:linear-gradient(#839bf9,#728df9 15.0%,#6583fa 18.3%,#487afa 20.0%,#226ff9 21.7%,#046ff2 23.3%,#007eb9 25.0%,#129d5b 26.7%,#4ed10b 28.3%,#72f000 30.0%,#9bf900 35.0%,#9ef900 41.7%,#86f800 46.7%,#6fee00 50.0%,#52d409 51.7%,#25af34 53.3%,#008a89 55.0%,#007bc7 56.7%,#046ff2 58.3%,#1c6ef9 60.0%,#6382fa 63.3%,#7891f8 66.7%,#97adfa 96.7%,#99affa)"></i><i style="left:62.28px;width:2.38px;background:linear-gradient(#839cf9,#748ef8 15.0%,#6684fa 18.3%,#4d7bfa 20.0%,#066df4 23.3%,#007bc6 25.0%,#059177 26.7%,#3ac11d 28.3%,#66e703 30.0%,#79f300 31.7%,#90f800 36.7%,#8cf800 43.3%,#6fee00 50.0%,#58d907 51.7%,#33bb23 53.3%,#0e9965 55.0%,#0083a6 56.7%,#0077dc 58.3%,#076cf5 60.0%,#6482fa 65.0%,#7b94f8 70.0%,#97adfa)"></i><i style="left:64.36px;width:2.38px;background:linear-gradient(#849cf9,#758ef8 15.0%,#6885fa 18.3%,#547dfa 20.0%,#096af7 23.3%,#0079d1 25.0%,#008c84 26.7%,#35bc22 28.3%,#64e503 30.0%,#79f300 31.7%,#92f800 36.7%,#8ef800 43.3%,#77f200 48.3%,#68e802 50.0%,#4acd0f 51.7%,#1fa940 53.3%,#00898f 55.0%,#007acb 56.7%,#046ff2 58.3%,#1d6ef9 60.0%,#6482fa 63.3%,#7891f8 66.7%,#97adfa 96.7%,#99affa)"></i><i style="left:66.43px;width:2.38px;background:linear-gradient(#859df9,#728df9 16.7%,#6281fa 20.0%,#166cf9 23.3%,#0074e8 25.0%,#008699 26.7%,#28b22d 28.3%,#60e105 30.0%,#79f200 31.7%,#92f800 35.0%,#98f900 40.0%,#86f800 45.0%,#6fee00 48.3%,#4fd10b 50.0%,#1ca647 51.7%,#00859f 53.3%,#0075e2 55.0%,#0e6af8 56.7%,#6081fa 60.0%,#7992f8 63.3%,#99affa 93.3%,#9cb1fa)"></i><i style="left:68.51px;width:2.38px;background:linear-gradient(#869efa,#738ef8 16.7%,#6683fa 20.0%,#487afa 21.7%,#1f6ef9 23.3%,#0271f0 25.0%,#0083a6 26.7%,#22ac3a 28.3%,#5dde06 30.0%,#79f200 31.7%,#94f900 35.0%,#9bf900 40.0%,#91f800 43.3%,#79f200 46.7%,#63e304 48.3%,#34bb23 50.0%,#008c83 51.7%,#007acf 53.3%,#086bf6 55.0%,#5f80fa 58.3%,#708bf9 60.0%,#8099f9 65.0%,#9bb1fa 93.3%,#9db2fa)"></i><i style="left:70.59px;width:2.38px;background:linear-gradient(#869efa,#738df9 16.7%,#6482fa 20.0%,#186cf9 23.3%,#0074e9 25.0%,#008797 26.7%,#2cb52a 28.3%,#63e404 30.0%,#7bf300 31.7%,#94f900 35.0%,#99f900 40.0%,#8df800 43.3%,#74f000 46.7%,#58da07 48.3%,#23ad37 50.0%,#00869a 51.7%,#0075e5 53.3%,#146cf9 55.0%,#6784fa 58.3%,#7b94f8 61.7%,#9ab0fa 90.0%,#9db2fa)"></i><i style="left:72.66px;width:2.38px;background:linear-gradient(#859df9,#718cf9 16.7%,#6a87f9 18.3%,#587efa 20.0%,#086bf6 23.3%,#007acb 25.0%,#089471 26.7%,#44c914 28.3%,#6fef00 30.0%,#8bf800 33.3%,#96f900 36.7%,#8ef800 41.7%,#79f200 45.0%,#63e404 46.7%,#34bb23 48.3%,#008b85 50.0%,#0079d3 51.7%,#0a69f8 53.3%,#6582fa 56.7%,#7b93f8 60.0%,#9ab0fa 86.7%,#9db2fa)"></i><i style="left:74.74px;width:2.38px;background:linear-gradient(#859df9,#748ef8 15.0%,#6684fa 18.3%,#4a7afa 20.0%,#216ff9 21.7%,#0271f0 23.3%,#0082ab 25.0%,#1da844 26.7%,#58d907 28.3%,#75f100 30.0%,#8cf800 33.3%,#92f800 38.3%,#7cf400 43.3%,#6ded00 45.0%,#45c914 46.7%,#0d9866 48.3%,#007dc0 50.0%,#066df4 51.7%,#2e72fa 53.3%,#5e80fa 55.0%,#718cf9 56.7%,#819af9 61.7%,#9bb1fa 86.7%,#9db3fa)"></i><i style="left:76.82px;width:2.38px;background:linear-gradient(#849df9,#748ef8 15.0%,#6583fa 18.3%,#4478fa 20.0%,#1a6df9 21.7%,#0073ec 23.3%,#00859d 25.0%,#26b032 26.7%,#5dde06 28.3%,#77f200 30.0%,#8cf800 33.3%,#90f800 38.3%,#78f200 43.3%,#63e404 45.0%,#34bb23 46.7%,#008b86 48.3%,#0078d7 50.0%,#0e6af8 51.7%,#6785fa 55.0%,#7c95f8 58.3%,#9ab0fa 83.3%,#9db3fa)"></i><i style="left:78.89px;width:2.38px;background:linear-gradient(#849df9,#748ef8 15.0%,#6583fa 18.3%,#4478fa 20.0%,#1a6df9 21.7%,#0073ec 23.3%,#00859d 25.0%,#26b032 26.7%,#5dde06 28.3%,#77f200 30.0%,#8cf800 33.3%,#90f800 38.3%,#78f200 43.3%,#63e404 45.0%,#34bb23 46.7%,#008b86 48.3%,#0078d7 50.0%,#0e6af8 51.7%,#6785fa 55.0%,#7c95f8 58.3%,#9ab0fa 83.3%,#9db3fa)"></i><i style="left:80.97px;width:2.38px;background:linear-gradient(#849df9,#748ef8 15.0%,#6583fa 18.3%,#4478fa 20.0%,#1a6df9 21.7%,#0073ec 23.3%,#00859d 25.0%,#26b032 26.7%,#5dde06 28.3%,#77f200 30.0%,#8cf800 33.3%,#90f800 38.3%,#78f200 43.3%,#63e404 45.0%,#34bb23 46.7%,#008b86 48.3%,#0078d7 50.0%,#0e6af8 51.7%,#6785fa 55.0%,#7c95f8 58.3%,#9ab0fa 83.3%,#9db3fa)"></i><i style="left:83.04px;width:2.38px;background:linear-gradient(#849df9,#748ef8 15.0%,#6583fa 18.3%,#4478fa 20.0%,#1a6df9 21.7%,#0073ec 23.3%,#00859d 25.0%,#26b032 26.7%,#5dde06 28.3%,#77f200 30.0%,#8cf800 33.3%,#90f800 38.3%,#78f200 43.3%,#63e404 45.0%,#34bb23 46.7%,#008b86 48.3%,#0078d7 50.0%,#0e6af8 51.7%,#6785fa 55.0%,#7c95f8 58.3%,#9ab0fa 83.3%,#9db3fa)"></i><i style="left:85.12px;width:2.38px;background:linear-gradient(#849df9,#748ef8 15.0%,#6583fa 18.3%,#4478fa 20.0%,#1a6df9 21.7%,#0073ec 23.3%,#00859d 25.0%,#26b032 26.7%,#5dde06 28.3%,#77f200 30.0%,#8cf800 33.3%,#90f800 38.3%,#78f200 43.3%,#63e404 45.0%,#34bb23 46.7%,#008b86 48.3%,#0078d7 50.0%,#0e6af8 51.7%,#6785fa 55.0%,#7c95f8 58.3%,#9ab0fa 83.3%,#9db3fa)"></i><i style="left:87.20px;width:2.38px;background:linear-gradient(#849df9,#748ef8 15.0%,#6583fa 18.3%,#4478fa 20.0%,#1a6df9 21.7%,#0073ec 23.3%,#00859d 25.0%,#26b032 26.7%,#5dde06 28.3%,#77f200 30.0%,#8cf800 33.3%,#90f800 38.3%,#78f200 43.3%,#63e404 45.0%,#34bb23 46.7%,#008b86 48.3%,#0078d7 50.0%,#0e6af8 51.7%,#6785fa 55.0%,#7c95f8 58.3%,#9ab0fa 83.3%,#9db3fa)"></i><i style="left:89.27px;width:2.38px;background:linear-gradient(#849df9,#748ef8 15.0%,#6583fa 18.3%,#4478fa 20.0%,#1a6df9 21.7%,#0073ec 23.3%,#00859d 25.0%,#26b032 26.7%,#5dde06 28.3%,#77f200 30.0%,#8cf800 33.3%,#90f800 38.3%,#78f200 43.3%,#63e404 45.0%,#34bb23 46.7%,#008b86 48.3%,#0078d7 50.0%,#0e6af8 51.7%,#6785fa 55.0%,#7c95f8 58.3%,#9ab0fa 83.3%,#9db3fa)"></i><i style="left:91.35px;width:2.38px;background:linear-gradient(#849df9,#748ef8 15.0%,#6583fa 18.3%,#4478fa 20.0%,#1a6df9 21.7%,#0073ec 23.3%,#00859d 25.0%,#26b032 26.7%,#5dde06 28.3%,#77f200 30.0%,#8cf800 33.3%,#90f800 38.3%,#78f200 43.3%,#63e404 45.0%,#34bb23 46.7%,#008b86 48.3%,#0078d7 50.0%,#0e6af8 51.7%,#6785fa 55.0%,#7c95f8 58.3%,#9ab0fa 83.3%,#9db3fa)"></i><i style="left:93.42px;width:2.38px;background:linear-gradient(#849df9,#748ef8 15.0%,#6583fa 18.3%,#4478fa 20.0%,#1a6df9 21.7%,#0073ec 23.3%,#00859d 25.0%,#26b032 26.7%,#5dde06 28.3%,#77f200 30.0%,#8cf800 33.3%,#90f800 38.3%,#78f200 43.3%,#63e404 45.0%,#34bb23 46.7%,#008b86 48.3%,#0078d7 50.0%,#0e6af8 51.7%,#6785fa 55.0%,#7c95f8 58.3%,#9ab0fa 83.3%,#9db3fa)"></i><i style="left:95.50px;width:2.38px;background:linear-gradient(#849df9,#748ef8 15.0%,#6583fa 18.3%,#4478fa 20.0%,#1a6df9 21.7%,#0073ec 23.3%,#00859d 25.0%,#26b032 26.7%,#5dde06 28.3%,#77f200 30.0%,#8cf800 33.3%,#90f800 38.3%,#78f200 43.3%,#63e404 45.0%,#34bb23 46.7%,#008b86 48.3%,#0078d7 50.0%,#0e6af8 51.7%,#6785fa 55.0%,#7c95f8 58.3%,#9ab0fa 83.3%,#9db3fa)"></i><i style="left:97.58px;width:2.38px;background:linear-gradient(#849df9,#748ef8 15.0%,#6583fa 18.3%,#4478fa 20.0%,#1a6df9 21.7%,#0073ec 23.3%,#00859d 25.0%,#26b032 26.7%,#5dde06 28.3%,#77f200 30.0%,#8cf800 33.3%,#90f800 38.3%,#78f200 43.3%,#63e404 45.0%,#34bb23 46.7%,#008b86 48.3%,#0078d7 50.0%,#0e6af8 51.7%,#6785fa 55.0%,#7c95f8 58.3%,#9ab0fa 83.3%,#9db3fa)"></i><i style="left:99.65px;width:2.38px;background:linear-gradient(#849df9,#748ef8 15.0%,#6583fa 18.3%,#4478fa 20.0%,#1a6df9 21.7%,#0073ec 23.3%,#00859d 25.0%,#26b032 26.7%,#5dde06 28.3%,#77f200 30.0%,#8cf800 33.3%,#90f800 38.3%,#78f200 43.3%,#63e404 45.0%,#34bb23 46.7%,#008b86 48.3%,#0078d7 50.0%,#0e6af8 51.7%,#6785fa 55.0%,#7c95f8 58.3%,#9ab0fa 83.3%,#9db3fa)"></i></div></div>
<div class="p" style="left:447.20px;top:263.00px"><div class="q" style="left:-3.11px;width:101.73px"><i style="left:0.00px;width:2.38px;background:linear-gradient(#7f98f9,#6a87f9 8.3%,#6482fa 10.0%,#2c71fa 15.0%,#126bf8 16.7%,#0172ef 18.3%,#0081af 20.0%,#1ba649 21.7%,#5cdd06 23.3%,#7df400 25.0%,#aefa00 28.3%,#c9f900 31.7%,#d3f800 36.7%,#cbf900 40.0%,#bbfa00 41.7%,#a4f900 43.3%,#81f600 45.0%,#55d608 46.7%,#008c84 48.3%,#0074ea 50.0%,#196df9 51.7%,#567efa 55.0%,#6785fa 56.7%,#7c95f8 61.7%,#9ab0fa 81.7%,#9db3fa)"></i><i style="left:2.08px;width:2.38px;background:linear-gradient(#7f98f9,#6a87f9 8.3%,#6482fa 10.0%,#2c71fa 15.0%,#126bf8 16.7%,#0172ef 18.3%,#0081af 20.0%,#1ba649 21.7%,#5cdd06 23.3%,#7df400 25.0%,#aefa00 28.3%,#c9f900 31.7%,#d3f800 36.7%,#cbf900 40.0%,#bbfa00 41.7%,#a4f900 43.3%,#81f600 45.0%,#55d608 46.7%,#008c84 48.3%,#0074ea 50.0%,#196df9 51.7%,#567efa 55.0%,#6785fa 56.7%,#7c95f8 61.7%,#9ab0fa 81.7%,#9db3fa)"></i><i style="left:4.15px;width:2.38px;background:linear-gradient(#7f98f9,#6a87f9 8.3%,#6482fa 10.0%,#2c71fa 15.0%,#126bf8 16.7%,#0172ef 18.3%,#0081af 20.0%,#1ba649 21.7%,#5cdd06 23.3%,#7df400 25.0%,#aefa00 28.3%,#c9f900 31.7%,#d3f800 36.7%,#cbf900 40.0%,#bbfa00 41.7%,#a4f900 43.3%,#81f600 45.0%,#55d608 46.7%,#008c84 48.3%,#0074ea 50.0%,#196df9 51.7%,#567efa 55.0%,#6785fa 56.7%,#7c95f8 61.7%,#9ab0fa 81.7%,#9db3fa)"></i><i style="left:6.23px;width:2.38px;background:linear-gradient(#7f98f9,#6a87f9 8.3%,#6482fa 10.0%,#2c71fa 15.0%,#126bf8 16.7%,#0172ef 18.3%,#0081af 20.0%,#1ba649 21.7%,#5cdd06 23.3%,#7df400 25.0%,#aefa00 28.3%,#c9f900 31.7%,#d3f800 36.7%,#cbf900 40.0%,#bbfa00 41.7%,#a4f900 43.3%,#81f600 45.0%,#55d608 46.7%,#008c84 48.3%,#0074ea 50.0%,#196df9 51.7%,#567efa 55.0%,#6785fa 56.7%,#7c95f8 61.7%,#9ab0fa 81.7%,#9db3fa)"></i><i style="left:8.30px;width:2.38px;background:linear-gradient(#7f98f9,#6a87f9 8.3%,#6482fa 10.0%,#2c71fa 15.0%,#126bf8 16.7%,#0172ef 18.3%,#0081af 20.0%,#1ba649 21.7%,#5cdd06 23.3%,#7df400 25.0%,#aefa00 28.3%,#c9f900 31.7%,#d3f800 36.7%,#cbf900 40.0%,#bbfa00 41.7%,#a4f900 43.3%,#81f600 45.0%,#55d608 46.7%,#008c84 48.3%,#0074ea 50.0%,#196df9 51.7%,#567efa 55.0%,#6785fa 56.7%,#7c95f8 61.7%,#9ab0fa 81.7%,#9db3fa)"></i><i style="left:10.38px;width:2.38px;background:linear-gradient(#7f98f9,#6a87f9 8.3%,#6482fa 10.0%,#2c71fa 15.0%,#126bf8 16.7%,#0172ef 18.3%,#0081af 20.0%,#1ba649 21.7%,#5cdd06 23.3%,#7df400 25.0%,#aefa00 28.3%,#c9f900 31.7%,#d3f800 36.7%,#cbf900 40.0%,#bbfa00 41.7%,#a4f900 43.3%,#81f600 45.0%,#55d608 46.7%,#008c84 48.3%,#0074ea 50.0%,#196df9 51.7%,#567efa 55.0%,#6785fa 56.7%,#7c95f8 61.7%,#9ab0fa 81.7%,#9db3fa)"></i><i style="left:12.46px;width:2.38px;background:linear-gradient(#7f98f9,#6a87f9 8.3%,#6482fa 10.0%,#2c71fa 15.0%,#126bf8 16.7%,#0172ef 18.3%,#0081af 20.0%,#1ba649 21.7%,#5cdd06 23.3%,#7df400 25.0%,#aefa00 28.3%,#c9f900 31.7%,#d3f800 36.7%,#cbf900 40.0%,#bbfa00 41.7%,#a4f900 43.3%,#81f600 45.0%,#55d608 46.7%,#008c84 48.3%,#0074ea 50.0%,#196df9 51.7%,#567efa 55.0%,#6785fa 56.7%,#7c95f8 61.7%,#9ab0fa 81.7%,#9db3fa)"></i><i style="left:14.53px;width:2.38px;background:linear-gradient(#7f98f9,#6a87f9 8.3%,#6482fa 10.0%,#2c71fa 15.0%,#126bf8 16.7%,#0172ef 18.3%,#0081af 20.0%,#1ba649 21.7%,#5cdd06 23.3%,#7df400 25.0%,#aefa00 28.3%,#c9f900 31.7%,#d3f800 36.7%,#cbf900 40.0%,#bbfa00 41.7%,#a4f900 43.3%,#81f600 45.0%,#55d608 46.7%,#008c84 48.3%,#0074ea 50.0%,#196df9 51.7%,#567efa 55.0%,#6785fa 56.7%,#7c95f8 61.7%,#9ab0fa 81.7%,#9db3fa)"></i><i style="left:16.61px;width:2.38px;background:linear-gradient(#7f98f9,#6a87f9 8.3%,#6482fa 10.0%,#2c71fa 15.0%,#126bf8 16.7%,#0172ef 18.3%,#0081af 20.0%,#1ba649 21.7%,#5cdd06 23.3%,#7df400 25.0%,#aefa00 28.3%,#c9f900 31.7%,#d3f800 36.7%,#cbf900 40.0%,#bbfa00 41.7%,#a4f900 43.3%,#81f600 45.0%,#55d608 46.7%,#008c84 48.3%,#0074ea 50.0%,#196df9 51.7%,#567efa 55.0%,#6785fa 56.7%,#7c95f8 61.7%,#9ab0fa 81.7%,#9db3fa)"></i><i style="left:18.68px;width:2.38px;background:linear-gradient(#7f98f9,#6a87f9 8.3%,#6482fa 10.0%,#2c71fa 15.0%,#126bf8 16.7%,#0172ef 18.3%,#0081af 20.0%,#1ba649 21.7%,#5cdd06 23.3%,#7df400 25.0%,#aefa00 28.3%,#c9f900 31.7%,#d3f800 36.7%,#cbf900 40.0%,#bbfa00 41.7%,#a4f900 43.3%,#81f600 45.0%,#55d608 46.7%,#008c84 48.3%,#0074ea 50.0%,#196df9 51.7%,#567efa 55.0%,#6785fa 56.7%,#7c95f8 61.7%,#9ab0fa 81.7%,#9db3fa)"></i><i style="left:20.76px;width:2.38px;background:linear-gradient(#7f98f9,#6a87f9 8.3%,#6482fa 10.0%,#2c71fa 15.0%,#126bf8 16.7%,#0172ef 18.3%,#0081af 20.0%,#1ba649 21.7%,#5cdd06 23.3%,#7df400 25.0%,#aefa00 28.3%,#c9f900 31.7%,#d3f800 36.7%,#cbf900 40.0%,#bbfa00 41.7%,#a4f900 43.3%,#81f600 45.0%,#55d608 46.7%,#008c84 48.3%,#0074ea 50.0%,#196df9 51.7%,#567efa 55.0%,#6785fa 56.7%,#7c95f8 61.7%,#9ab0fa 81.7%,#9db3fa)"></i><i style="left:22.84px;width:2.38px;background:linear-gradient(#7f98f9,#6a87f9 8.3%,#6482fa 10.0%,#2c71fa 15.0%,#126bf8 16.7%,#0172ef 18.3%,#0081af 20.0%,#1ba649 21.7%,#5cdd06 23.3%,#7df400 25.0%,#aefa00 28.3%,#c9f900 31.7%,#d3f800 36.7%,#cbf900 40.0%,#bbfa00 41.7%,#a4f900 43.3%,#81f600 45.0%,#55d608 46.7%,#008c84 48.3%,#0074ea 50.0%,#196df9 51.7%,#567efa 55.0%,#6785fa 56.7%,#7c95f8 61.7%,#9ab0fa 81.7%,#9db3fa)"></i><i style="left:24.91px;width:2.38px;background:linear-gradient(#7f98f9,#6a87f9 8.3%,#6482fa 10.0%,#2c71fa 15.0%,#126bf8 16.7%,#0172ef 18.3%,#0081af 20.0%,#1ba649 21.7%,#5cdd06 23.3%,#7df400 25.0%,#aefa00 28.3%,#c9f900 31.7%,#d3f800 36.7%,#cbf900 40.0%,#bbfa00 41.7%,#a4f900 43.3%,#81f600 45.0%,#55d608 46.7%,#008c84 48.3%,#0074ea 50.0%,#196df9 51.7%,#567efa 55.0%,#6785fa 56.7%,#7c95f8 61.7%,#9ab0fa 81.7%,#9db3fa)"></i><i style="left:26.99px;width:2.38px;background:linear-gradient(#7f98f9,#6a87f9 8.3%,#6482fa 10.0%,#2c71fa 15.0%,#126bf8 16.7%,#0172ef 18.3%,#0081af 20.0%,#1ba649 21.7%,#5cdd06 23.3%,#7df400 25.0%,#aefa00 28.3%,#c9f900 31.7%,#d3f800 36.7%,#cbf900 40.0%,#bbfa00 41.7%,#a4f900 43.3%,#81f600 45.0%,#55d608 46.7%,#008c84 48.3%,#0074ea 50.0%,#196df9 51.7%,#567efa 55.0%,#6785fa 56.7%,#7c95f8 61.7%,#9ab0fa 81.7%,#9db3fa)"></i><i style="left:29.07px;width:2.38px;background:linear-gradient(#7f98f9,#6a87f9 8.3%,#6482fa 10.0%,#2c71fa 15.0%,#126bf8 16.7%,#0172ef 18.3%,#0081af 20.0%,#1ba649 21.7%,#5cdd06 23.3%,#7df400 25.0%,#aefa00 28.3%,#c9f900 31.7%,#d3f800 36.7%,#cbf900 40.0%,#bbfa00 41.7%,#a4f900 43.3%,#81f600 45.0%,#55d608 46.7%,#008c84 48.3%,#0074ea 50.0%,#196df9 51.7%,#567efa 55.0%,#6785fa 56.7%,#7c95f8 61.7%,#9ab0fa 81.7%,#9db3fa)"></i><i style="left:31.14px;width:2.38px;background:linear-gradient(#7f98f9,#6a87f9 8.3%,#6482fa 10.0%,#2c71fa 15.0%,#126bf8 16.7%,#0172ef 18.3%,#0081af 20.0%,#1ba649 21.7%,#5cdd06 23.3%,#7df400 25.0%,#aefa00 28.3%,#c9f900 31.7%,#d3f800 36.7%,#cbf900 40.0%,#bbfa00 41.7%,#a4f900 43.3%,#81f600 45.0%,#55d608 46.7%,#008c84 48.3%,#0074ea 50.0%,#196df9 51.7%,#567efa 55.0%,#6785fa 56.7%,#7c95f8 61.7%,#9ab0fa 81.7%,#9db3fa)"></i><i style="left:33.22px;width:2.38px;background:linear-gradient(#7f98f9,#6a87f9 8.3%,#6482fa 10.0%,#2c71fa 15.0%,#126bf8 16.7%,#0172ef 18.3%,#0081af 20.0%,#1ba649 21.7%,#5cdd06 23.3%,#7df400 25.0%,#aefa00 28.3%,#c9f900 31.7%,#d3f800 36.7%,#cbf900 40.0%,#bbfa00 41.7%,#a4f900 43.3%,#81f600 45.0%,#55d608 46.7%,#008c84 48.3%,#0074ea 50.0%,#196df9 51.7%,#567efa 55.0%,#6785fa 56.7%,#7c95f8 61.7%,#9ab0fa 81.7%,#9db3fa)"></i><i style="left:35.29px;width:2.38px;background:linear-gradient(#7f98f9,#6a87f9 8.3%,#6482fa 10.0%,#2c71fa 15.0%,#126bf8 16.7%,#0172ef 18.3%,#0081af 20.0%,#1ba649 21.7%,#5cdd06 23.3%,#7df400 25.0%,#aefa00 28.3%,#c9f900 31.7%,#d3f800 36.7%,#cbf900 40.0%,#bbfa00 41.7%,#a4f900 43.3%,#81f600 45.0%,#55d608 46.7%,#008c84 48.3%,#0074ea 50.0%,#196df9 51.7%,#567efa 55.0%,#6785fa 56.7%,#7c95f8 61.7%,#9ab0fa 81.7%,#9db3fa)"></i><i style="left:37.37px;width:2.38px;background:linear-gradient(#7f98f9,#6a87f9 8.3%,#6482fa 10.0%,#2c71fa 15.0%,#126bf8 16.7%,#0172ef 18.3%,#0081af 20.0%,#1ba649 21.7%,#5cdd06 23.3%,#7df400 25.0%,#aefa00 28.3%,#c9f900 31.7%,#d3f800 36.7%,#cbf900 40.0%,#bbfa00 41.7%,#a4f900 43.3%,#81f600 45.0%,#55d608 46.7%,#008c84 48.3%,#0074ea 50.0%,#196df9 51.7%,#567efa 55.0%,#6785fa 56.7%,#7c95f8 61.7%,#9ab0fa 81.7%,#9db3fa)"></i><i style="left:39.45px;width:2.38px;background:linear-gradient(#7f98f9,#6a87f9 8.3%,#6482fa 10.0%,#2c71fa 15.0%,#126bf8 16.7%,#0172ef 18.3%,#0081af 20.0%,#1ba649 21.7%,#5cdd06 23.3%,#7df400 25.0%,#aefa00 28.3%,#c9f900 31.7%,#d3f800 36.7%,#cbf900 40.0%,#bbfa00 41.7%,#a4f900 43.3%,#81f600 45.0%,#55d608 46.7%,#008c84 48.3%,#0074ea 50.0%,#196df9 51.7%,#567efa 55.0%,#6785fa 56.7%,#7c95f8 61.7%,#9ab0fa 81.7%,#9db3fa)"></i><i style="left:41.52px;width:2.38px;background:linear-gradient(#7f98f9,#6b87f9 8.3%,#6482fa 10.0%,#2c72fa 15.0%,#126bf8 16.7%,#0172ef 18.3%,#0081ae 20.0%,#1ba648 21.7%,#5bdc06 23.3%,#7cf400 25.0%,#aaf900 28.3%,#c3f900 31.7%,#cbf900 36.7%,#c2f900 40.0%,#b4fa00 41.7%,#7bf300 45.0%,#47cb12 46.7%,#008795 48.3%,#0271f0 50.0%,#206ef9 51.7%,#5a7ffa 55.0%,#718cf9 58.3%,#91a8fa 73.3%,#9db3fa 93.3%,#9db3fa)"></i><i style="left:43.60px;width:2.38px;background:linear-gradient(#7f98f9,#6b88f9 8.3%,#6583fa 10.0%,#4579fa 13.3%,#136bf8 16.7%,#0172ef 18.3%,#0082ab 20.0%,#1ca746 21.7%,#5adb07 23.3%,#79f300 25.0%,#a0f900 28.3%,#b4fa00 31.7%,#b7fa00 38.3%,#a2f900 41.7%,#88f800 43.3%,#6eee00 45.0%,#24ae36 46.7%,#007ebc 48.3%,#086bf6 50.0%,#4e7bfa 53.3%,#6582fa 55.0%,#7e97f9 61.7%,#9bb0fa 81.7%,#9db3fa)"></i><i style="left:45.67px;width:2.38px;background:linear-gradient(#8098f9,#6c88f9 8.3%,#5a7ffa 11.7%,#2f72fa 15.0%,#136bf8 16.7%,#0073ee 18.3%,#0082a9 20.0%,#1ca747 21.7%,#57d808 23.3%,#76f100 25.0%,#a1f900 30.0%,#abf900 35.0%,#a0f900 40.0%,#7bf300 43.3%,#55d708 45.0%,#079372 46.7%,#0076de 48.3%,#166cf9 50.0%,#3d76fa 51.7%,#5a7ffa 53.3%,#718cf9 56.7%,#8ea5fa 70.0%,#9cb2fa 86.7%,#9db3fa)"></i><i style="left:47.75px;width:2.38px;background:linear-gradient(#8098f9,#6d88f9 8.3%,#5b7ffa 11.7%,#3072fa 15.0%,#136bf8 16.7%,#0073ee 18.3%,#0082a9 20.0%,#1ca647 21.7%,#55d708 23.3%,#75f100 25.0%,#9cf900 30.0%,#a4f900 36.7%,#99f900 40.0%,#76f100 43.3%,#48cc11 45.0%,#008a88 46.7%,#0074eb 48.3%,#1d6ef9 50.0%,#4378fa 51.7%,#5f80fa 53.3%,#7992f8 58.3%,#9ab0fa 80.0%,#9db3fa)"></i><i style="left:49.83px;width:2.38px;background:linear-gradient(#8098f9,#6d89f9 8.3%,#5d80fa 11.7%,#3273fa 15.0%,#156cf9 16.7%,#0172ef 18.3%,#0081ae 20.0%,#17a251 21.7%,#50d20a 23.3%,#71ef00 25.0%,#95f900 30.0%,#9df900 36.7%,#93f800 40.0%,#73f000 43.3%,#43c716 45.0%,#008a8c 46.7%,#0073ed 48.3%,#1e6ef9 50.0%,#4579fa 51.7%,#6081fa 53.3%,#7992f8 58.3%,#9ab0fa 80.0%,#9db3fa)"></i><i style="left:51.90px;width:2.38px;background:linear-gradient(#8099f9,#6a86f9 10.0%,#6382fa 11.7%,#3875fa 15.0%,#1a6df9 16.7%,#0370f1 18.3%,#007ebb 20.0%,#0c9769 21.7%,#3ec41a 23.3%,#65e503 25.0%,#76f100 26.7%,#89f800 31.7%,#89f800 38.3%,#7bf300 41.7%,#68e902 43.3%,#34bc22 45.0%,#008795 46.7%,#0172ef 48.3%,#206ff9 50.0%,#487afa 51.7%,#6482fa 53.3%,#7d95f9 60.0%,#9bb0fa 81.7%,#9db3fa)"></i><i style="left:53.98px;width:2.38px;background:linear-gradient(#8199f9,#6c88f9 10.0%,#6684fa 11.7%,#577efa 13.3%,#206ef9 16.7%,#056ef3 18.3%,#007bc7 20.0%,#008c83 21.7%,#2bb42a 23.3%,#55d708 25.0%,#6cec01 26.7%,#7df400 31.7%,#79f300 40.0%,#71ef00 41.7%,#5adb07 43.3%,#25af33 45.0%,#0084a1 46.7%,#0271f0 48.3%,#236ff9 50.0%,#4c7bfa 51.7%,#6683fa 53.3%,#7d96f9 60.0%,#9ab0fa 81.7%,#9db3fa)"></i><i style="left:56.05px;width:2.38px;background:linear-gradient(#8199f9,#6d89f9 10.0%,#5a7ffa 13.3%,#066df4 18.3%,#007acd 20.0%,#008a8a 21.7%,#24ae35 23.3%,#4ed00c 25.0%,#64e503 26.7%,#71ef00 28.3%,#7af300 36.7%,#6ded00 41.7%,#53d509 43.3%,#20aa3e 45.0%,#0083a6 46.7%,#0370f1 48.3%,#2570f9 50.0%,#4e7bfa 51.7%,#6684fa 53.3%,#7d96f9 60.0%,#9ab0fa 81.7%,#9db3fa)"></i><i style="left:58.13px;width:2.38px;background:linear-gradient(#8199f9,#6d89f9 10.0%,#5a7ffa 13.3%,#066df4 18.3%,#007acd 20.0%,#008a8a 21.7%,#24ae35 23.3%,#4ed00c 25.0%,#64e503 26.7%,#71ef00 28.3%,#7af300 36.7%,#6ded00 41.7%,#53d509 43.3%,#20aa3e 45.0%,#0083a6 46.7%,#0370f1 48.3%,#2570f9 50.0%,#4e7bfa 51.7%,#6684fa 53.3%,#7d96f9 60.0%,#9ab0fa 81.7%,#9db3fa)"></i><i style="left:60.21px;width:2.38px;background:linear-gradient(#8199f9,#6d89f9 10.0%,#5a7ffa 13.3%,#066df4 18.3%,#007acd 20.0%,#008a8a 21.7%,#24ae35 23.3%,#4ed00c 25.0%,#64e503 26.7%,#71ef00 28.3%,#7af300 36.7%,#6ded00 41.7%,#53d509 43.3%,#20aa3e 45.0%,#0083a6 46.7%,#0370f1 48.3%,#2570f9 50.0%,#4e7bfa 51.7%,#6684fa 53.3%,#7d96f9 60.0%,#9ab0fa 81.7%,#9db3fa)"></i><i style="left:62.28px;width:2.38px;background:linear-gradient(#8199f9,#6d89f9 10.0%,#5a7ffa 13.3%,#066df4 18.3%,#007acd 20.0%,#008a8a 21.7%,#24ae35 23.3%,#4ed00c 25.0%,#64e503 26.7%,#71ef00 28.3%,#7af300 36.7%,#6ded00 41.7%,#53d509 43.3%,#20aa3e 45.0%,#0083a6 46.7%,#0370f1 48.3%,#2570f9 50.0%,#4e7bfa 51.7%,#6684fa 53.3%,#7d96f9 60.0%,#9ab0fa 81.7%,#9db3fa)"></i><i style="left:64.36px;width:2.38px;background:linear-gradient(#8199f9,#6d89f9 10.0%,#5a7ffa 13.3%,#066df4 18.3%,#007acd 20.0%,#008a8a 21.7%,#24ae35 23.3%,#4ed00c 25.0%,#64e503 26.7%,#71ef00 28.3%,#7af300 36.7%,#6ded00 41.7%,#53d509 43.3%,#20aa3e 45.0%,#0083a6 46.7%,#0370f1 48.3%,#2570f9 50.0%,#4e7bfa 51.7%,#6684fa 53.3%,#7d96f9 60.0%,#9ab0fa 81.7%,#9db3fa)"></i><i style="left:66.43px;width:2.38px;background:linear-gradient(#8199f9,#6d89f9 10.0%,#5a7ffa 13.3%,#066df4 18.3%,#007acd 20.0%,#008a8a 21.7%,#24ae35 23.3%,#4ed00c 25.0%,#64e503 26.7%,#71ef00 28.3%,#7af300 36.7%,#6ded00 41.7%,#53d509 43.3%,#20aa3e 45.0%,#0083a6 46.7%,#0370f1 48.3%,#2570f9 50.0%,#4e7bfa 51.7%,#6684fa 53.3%,#7d96f9 60.0%,#9ab0fa 81.7%,#9db3fa)"></i><i style="left:68.51px;width:2.38px;background:linear-gradient(#8199f9,#6d89f9 10.0%,#5a7ffa 13.3%,#066df4 18.3%,#007acd 20.0%,#008a8a 21.7%,#24ae35 23.3%,#4ed00c 25.0%,#64e503 26.7%,#71ef00 28.3%,#7af300 36.7%,#6ded00 41.7%,#53d509 43.3%,#20aa3e 45.0%,#0083a6 46.7%,#0370f1 48.3%,#2570f9 50.0%,#4e7bfa 51.7%,#6684fa 53.3%,#7d96f9 60.0%,#9ab0fa 81.7%,#9db3fa)"></i><i style="left:70.59px;width:2.38px;background:linear-gradient(#8199f9,#6c88f9 10.0%,#6784fa 11.7%,#587ffa 13.3%,#216ff9 16.7%,#056ef3 18.3%,#007bca 20.0%,#008b86 21.7%,#27b12f 23.3%,#51d30a 25.0%,#68e802 26.7%,#78f200 30.0%,#7bf300 38.3%,#6fee00 41.7%,#56d808 43.3%,#23ad38 45.0%,#0084a2 46.7%,#0271f0 48.3%,#236ff9 50.0%,#4c7bfa 51.7%,#6683fa 53.3%,#7d96f9 60.0%,#9ab0fa 81.7%,#9db3fa)"></i><i style="left:72.66px;width:2.38px;background:linear-gradient(#8099f9,#6b87f9 10.0%,#6583fa 11.7%,#557dfa 13.3%,#1d6ef9 16.7%,#046ff2 18.3%,#007cc2 20.0%,#04907a 21.7%,#30b926 23.3%,#58da07 25.0%,#6fee00 26.7%,#7ff500 31.7%,#7bf300 40.0%,#73f000 41.7%,#5ddf06 43.3%,#2bb42a 45.0%,#008699 46.7%,#0073ee 48.3%,#1f6ef9 50.0%,#487afa 51.7%,#6482fa 53.3%,#7c95f8 60.0%,#9ab0fa 81.7%,#9db3fa)"></i><i style="left:74.74px;width:2.38px;background:linear-gradient(#8098f9,#6a86f9 10.0%,#6382fa 11.7%,#3775fa 15.0%,#196df9 16.7%,#0370f1 18.3%,#007eba 20.0%,#0a966c 21.7%,#3ac01e 23.3%,#60e005 25.0%,#73f000 26.7%,#83f600 31.7%,#83f700 38.3%,#77f200 41.7%,#65e503 43.3%,#34bc22 45.0%,#008990 46.7%,#0074e9 48.3%,#1b6df9 50.0%,#4478fa 51.7%,#6281fa 53.3%,#7c95f8 60.0%,#9ab0fa 81.7%,#9db3fa)"></i><i style="left:76.82px;width:2.38px;background:linear-gradient(#8098f9,#6986f9 10.0%,#6281fa 11.7%,#3574fa 15.0%,#176cf9 16.7%,#0271f0 18.3%,#007fb6 20.0%,#0d9866 21.7%,#3dc31a 23.3%,#62e304 25.0%,#74f100 26.7%,#85f700 31.7%,#85f700 38.3%,#79f200 41.7%,#68e802 43.3%,#38bf1f 45.0%,#008a8c 46.7%,#0075e6 48.3%,#196df9 50.0%,#4278fa 51.7%,#6081fa 53.3%,#7891f8 58.3%,#9ab0fa 81.7%,#9db3fa)"></i><i style="left:78.89px;width:2.38px;background:linear-gradient(#8098f9,#6986f9 10.0%,#6281fa 11.7%,#3574fa 15.0%,#176cf9 16.7%,#0271f0 18.3%,#007fb6 20.0%,#0d9866 21.7%,#3dc31a 23.3%,#62e304 25.0%,#74f100 26.7%,#85f700 31.7%,#85f700 38.3%,#79f200 41.7%,#68e802 43.3%,#38bf1f 45.0%,#008a8c 46.7%,#0075e6 48.3%,#196df9 50.0%,#4278fa 51.7%,#6081fa 53.3%,#7891f8 58.3%,#9ab0fa 81.7%,#9db3fa)"></i><i style="left:80.97px;width:2.38px;background:linear-gradient(#8098f9,#6986f9 10.0%,#6281fa 11.7%,#3574fa 15.0%,#176cf9 16.7%,#0271f0 18.3%,#007fb6 20.0%,#0d9866 21.7%,#3dc31a 23.3%,#62e304 25.0%,#74f100 26.7%,#85f700 31.7%,#85f700 38.3%,#79f200 41.7%,#68e802 43.3%,#38bf1f 45.0%,#008a8c 46.7%,#0075e6 48.3%,#196df9 50.0%,#4278fa 51.7%,#6081fa 53.3%,#7891f8 58.3%,#9ab0fa 81.7%,#9db3fa)"></i><i style="left:83.04px;width:2.38px;background:linear-gradient(#8098f9,#6986f9 10.0%,#6281fa 11.7%,#3574fa 15.0%,#176cf9 16.7%,#0271f0 18.3%,#007fb6 20.0%,#0d9866 21.7%,#3dc31a 23.3%,#62e304 25.0%,#74f100 26.7%,#85f700 31.7%,#85f700 38.3%,#79f200 41.7%,#68e802 43.3%,#38bf1f 45.0%,#008a8c 46.7%,#0075e6 48.3%,#196df9 50.0%,#4278fa 51.7%,#6081fa 53.3%,#7891f8 58.3%,#9ab0fa 81.7%,#9db3fa)"></i><i style="left:85.12px;width:2.38px;background:linear-gradient(#8098f9,#6986f9 10.0%,#6281fa 11.7%,#3574fa 15.0%,#176cf9 16.7%,#0271f0 18.3%,#007fb6 20.0%,#0d9866 21.7%,#3dc31a 23.3%,#62e304 25.0%,#74f100 26.7%,#85f700 31.7%,#85f700 38.3%,#79f200 41.7%,#68e802 43.3%,#38bf1f 45.0%,#008a8c 46.7%,#0075e6 48.3%,#196df9 50.0%,#4278fa 51.7%,#6081fa 53.3%,#7891f8 58.3%,#9ab0fa 81.7%,#9db3fa)"></i><i style="left:87.20px;width:2.38px;background:linear-gradient(#8098f9,#6986f9 10.0%,#6281fa 11.7%,#3574fa 15.0%,#176cf9 16.7%,#0271f0 18.3%,#007fb6 20.0%,#0d9866 21.7%,#3dc31a 23.3%,#62e304 25.0%,#74f100 26.7%,#85f700 31.7%,#85f700 38.3%,#79f200 41.7%,#68e802 43.3%,#38bf1f 45.0%,#008a8c 46.7%,#0075e6 48.3%,#196df9 50.0%,#4278fa 51.7%,#6081fa 53.3%,#7891f8 58.3%,#9ab0fa 81.7%,#9db3fa)"></i><i style="left:89.27px;width:2.38px;background:linear-gradient(#8098f9,#6986f9 10.0%,#6281fa 11.7%,#3574fa 15.0%,#176cf9 16.7%,#0271f0 18.3%,#007fb6 20.0%,#0d9866 21.7%,#3dc31a 23.3%,#62e304 25.0%,#74f100 26.7%,#85f700 31.7%,#85f700 38.3%,#79f200 41.7%,#68e802 43.3%,#38bf1f 45.0%,#008a8c 46.7%,#0075e6 48.3%,#196df9 50.0%,#4278fa 51.7%,#6081fa 53.3%,#7891f8 58.3%,#9ab0fa 81.7%,#9db3fa)"></i><i style="left:91.35px;width:2.38px;background:linear-gradient(#8098f9,#6986f9 10.0%,#6281fa 11.7%,#3574fa 15.0%,#176cf9 16.7%,#0271f0 18.3%,#007fb6 20.0%,#0d9866 21.7%,#3dc31a 23.3%,#62e304 25.0%,#74f100 26.7%,#85f700 31.7%,#85f700 38.3%,#79f200 41.7%,#68e802 43.3%,#38bf1f 45.0%,#008a8c 46.7%,#0075e6 48.3%,#196df9 50.0%,#4278fa 51.7%,#6081fa 53.3%,#7891f8 58.3%,#9ab0fa 81.7%,#9db3fa)"></i><i style="left:93.42px;width:2.38px;background:linear-gradient(#8098f9,#6986f9 10.0%,#6281fa 11.7%,#3574fa 15.0%,#176cf9 16.7%,#0271f0 18.3%,#007fb6 20.0%,#0d9866 21.7%,#3dc31a 23.3%,#62e304 25.0%,#74f100 26.7%,#85f700 31.7%,#85f700 38.3%,#79f200 41.7%,#68e802 43.3%,#38bf1f 45.0%,#008a8c 46.7%,#0075e6 48.3%,#196df9 50.0%,#4278fa 51.7%,#6081fa 53.3%,#7891f8 58.3%,#9ab0fa 81.7%,#9db3fa)"></i><i style="left:95.50px;width:2.38px;background:linear-gradient(#8098f9,#6986f9 10.0%,#6281fa 11.7%,#3574fa 15.0%,#176cf9 16.7%,#0271f0 18.3%,#007fb6 20.0%,#0d9866 21.7%,#3dc31a 23.3%,#62e304 25.0%,#74f100 26.7%,#85f700 31.7%,#85f700 38.3%,#79f200 41.7%,#68e802 43.3%,#38bf1f 45.0%,#008a8c 46.7%,#0075e6 48.3%,#196df9 50.0%,#4278fa 51.7%,#6081fa 53.3%,#7891f8 58.3%,#9ab0fa 81.7%,#9db3fa)"></i><i style="left:97.58px;width:2.38px;background:linear-gradient(#8098f9,#6986f9 10.0%,#6281fa 11.7%,#3574fa 15.0%,#176cf9 16.7%,#0271f0 18.3%,#007fb6 20.0%,#0d9866 21.7%,#3dc31a 23.3%,#62e304 25.0%,#74f100 26.7%,#85f700 31.7%,#85f700 38.3%,#79f200 41.7%,#68e802 43.3%,#38bf1f 45.0%,#008a8c 46.7%,#0075e6 48.3%,#196df9 50.0%,#4278fa 51.7%,#6081fa 53.3%,#7891f8 58.3%,#9ab0fa 81.7%,#9db3fa)"></i><i style="left:99.65px;width:2.38px;background:linear-gradient(#8098f9,#6986f9 10.0%,#6281fa 11.7%,#3574fa 15.0%,#176cf9 16.7%,#0271f0 18.3%,#007fb6 20.0%,#0d9866 21.7%,#3dc31a 23.3%,#62e304 25.0%,#74f100 26.7%,#85f700 31.7%,#85f700 38.3%,#79f200 41.7%,#68e802 43.3%,#38bf1f 45.0%,#008a8c 46.7%,#0075e6 48.3%,#196df9 50.0%,#4278fa 51.7%,#6081fa 53.3%,#7891f8 58.3%,#9ab0fa 81.7%,#9db3fa)"></i></div></div>
<div class="p" style="left:42.20px;top:386.40px"><div class="q" style="left:-3.11px;width:101.73px"><i style="left:0.00px;width:2.38px;background:linear-gradient(#91a8fa,#7690f8 16.7%,#6684fa 20.0%,#3474fa 23.3%,#186cf9 25.0%,#0370f1 26.7%,#007cc3 28.3%,#059078 30.0%,#3ec31a 31.7%,#70ef00 33.3%,#87f800 35.0%,#c1f900 38.3%,#d7f800 40.0%,#ebf600 43.3%,#e8f700 46.7%,#daf800 48.3%,#a6f900 51.7%,#86f800 53.3%,#6eee00 55.0%,#36bd21 56.7%,#00898f 58.3%,#0075e4 60.0%,#1a6df9 61.7%,#527dfa 63.3%,#718cf9 65.0%,#849cf9 68.3%,#96adfa 76.7%,#99affa)"></i><i style="left:2.08px;width:2.38px;background:linear-gradient(#91a8fa,#7690f8 16.7%,#6684fa 20.0%,#3474fa 23.3%,#186cf9 25.0%,#0370f1 26.7%,#007cc3 28.3%,#059078 30.0%,#3ec31a 31.7%,#70ef00 33.3%,#87f800 35.0%,#c1f900 38.3%,#d7f800 40.0%,#ebf600 43.3%,#e8f700 46.7%,#daf800 48.3%,#a6f900 51.7%,#86f800 53.3%,#6eee00 55.0%,#36bd21 56.7%,#00898f 58.3%,#0075e4 60.0%,#1a6df9 61.7%,#527dfa 63.3%,#718cf9 65.0%,#849cf9 68.3%,#96adfa 76.7%,#99affa)"></i><i style="left:4.15px;width:2.38px;background:linear-gradient(#91a8fa,#7690f8 16.7%,#6684fa 20.0%,#3474fa 23.3%,#186cf9 25.0%,#0370f1 26.7%,#007cc3 28.3%,#059078 30.0%,#3ec31a 31.7%,#70ef00 33.3%,#87f800 35.0%,#c1f900 38.3%,#d7f800 40.0%,#ebf600 43.3%,#e8f700 46.7%,#daf800 48.3%,#a6f900 51.7%,#86f800 53.3%,#6eee00 55.0%,#36bd21 56.7%,#00898f 58.3%,#0075e4 60.0%,#1a6df9 61.7%,#527dfa 63.3%,#718cf9 65.0%,#849cf9 68.3%,#96adfa 76.7%,#99affa)"></i><i style="left:6.23px;width:2.38px;background:linear-gradient(#91a8fa,#7690f8 16.7%,#6684fa 20.0%,#3474fa 23.3%,#186cf9 25.0%,#0370f1 26.7%,#007cc3 28.3%,#059078 30.0%,#3ec31a 31.7%,#70ef00 33.3%,#87f800 35.0%,#c1f900 38.3%,#d7f800 40.0%,#ebf600 43.3%,#e8f700 46.7%,#daf800 48.3%,#a6f900 51.7%,#86f800 53.3%,#6eee00 55.0%,#36bd21 56.7%,#00898f 58.3%,#0075e4 60.0%,#1a6df9 61.7%,#527dfa 63.3%,#718cf9 65.0%,#849cf9 68.3%,#96adfa 76.7%,#99affa)"></i><i style="left:8.30px;width:2.38px;background:linear-gradient(#91a8fa,#7690f8 16.7%,#6684fa 20.0%,#3474fa 23.3%,#186cf9 25.0%,#0370f1 26.7%,#007cc3 28.3%,#059078 30.0%,#3ec31a 31.7%,#70ef00 33.3%,#87f800 35.0%,#c1f900 38.3%,#d7f800 40.0%,#ebf600 43.3%,#e8f700 46.7%,#daf800 48.3%,#a6f900 51.7%,#86f800 53.3%,#6eee00 55.0%,#36bd21 56.7%,#00898f 58.3%,#0075e4 60.0%,#1a6df9 61.7%,#527dfa 63.3%,#718cf9 65.0%,#849cf9 68.3%,#96adfa 76.7%,#99affa)"></i><i style="left:10.38px;width:2.38px;background:linear-gradient(#91a8fa,#7690f8 16.7%,#6684fa 20.0%,#3474fa 23.3%,#186cf9 25.0%,#0370f1 26.7%,#007cc3 28.3%,#059078 30.0%,#3ec31a 31.7%,#70ef00 33.3%,#87f800 35.0%,#c1f900 38.3%,#d7f800 40.0%,#ebf600 43.3%,#e8f700 46.7%,#daf800 48.3%,#a6f900 51.7%,#86f800 53.3%,#6eee00 55.0%,#36bd21 56.7%,#00898f 58.3%,#0075e4 60.0%,#1a6df9 61.7%,#527dfa 63.3%,#718cf9 65.0%,#849cf9 68.3%,#96adfa 76.7%,#99affa)"></i><i style="left:12.46px;width:2.38px;background:linear-gradient(#91a8fa,#7690f8 16.7%,#6684fa 20.0%,#3474fa 23.3%,#186cf9 25.0%,#0370f1 26.7%,#007cc3 28.3%,#059078 30.0%,#3ec31a 31.7%,#70ef00 33.3%,#87f800 35.0%,#c1f900 38.3%,#d7f800 40.0%,#ebf600 43.3%,#e8f700 46.7%,#daf800 48.3%,#a6f900 51.7%,#86f800 53.3%,#6eee00 55.0%,#36bd21 56.7%,#00898f 58.3%,#0075e4 60.0%,#1a6df9 61.7%,#527dfa 63.3%,#718cf9 65.0%,#849cf9 68.3%,#96adfa 76.7%,#99affa)"></i><i style="left:14.53px;width:2.38px;background:linear-gradient(#91a8fa,#7690f8 16.7%,#6684fa 20.0%,#3474fa 23.3%,#186cf9 25.0%,#0370f1 26.7%,#007cc3 28.3%,#059078 30.0%,#3ec31a 31.7%,#70ef00 33.3%,#87f800 35.0%,#c1f900 38.3%,#d7f800 40.0%,#ebf600 43.3%,#e8f700 46.7%,#daf800 48.3%,#a6f900 51.7%,#86f800 53.3%,#6eee00 55.0%,#36bd21 56.7%,#00898f 58.3%,#0075e4 60.0%,#1a6df9 61.7%,#527dfa 63.3%,#718cf9 65.0%,#849cf9 68.3%,#96adfa 76.7%,#99affa)"></i><i style="left:16.61px;width:2.38px;background:linear-gradient(#91a8fa,#7690f8 16.7%,#6684fa 20.0%,#3474fa 23.3%,#186cf9 25.0%,#0370f1 26.7%,#007cc3 28.3%,#059078 30.0%,#3ec31a 31.7%,#70ef00 33.3%,#87f800 35.0%,#c1f900 38.3%,#d7f800 40.0%,#ebf600 43.3%,#e8f700 46.7%,#daf800 48.3%,#a6f900 51.7%,#86f800 53.3%,#6eee00 55.0%,#36bd21 56.7%,#00898f 58.3%,#0075e4 60.0%,#1a6df9 61.7%,#527dfa 63.3%,#718cf9 65.0%,#849cf9 68.3%,#96adfa 76.7%,#99affa)"></i><i style="left:18.68px;width:2.38px;background:linear-gradient(#91a8fa,#7690f8 16.7%,#6684fa 20.0%,#3474fa 23.3%,#186cf9 25.0%,#0370f1 26.7%,#007cc3 28.3%,#059078 30.0%,#3ec31a 31.7%,#70ef00 33.3%,#87f800 35.0%,#c1f900 38.3%,#d7f800 40.0%,#ebf600 43.3%,#e8f700 46.7%,#daf800 48.3%,#a6f900 51.7%,#86f800 53.3%,#6eee00 55.0%,#36bd21 56.7%,#00898f 58.3%,#0075e4 60.0%,#1a6df9 61.7%,#527dfa 63.3%,#718cf9 65.0%,#849cf9 68.3%,#96adfa 76.7%,#99affa)"></i><i style="left:20.76px;width:2.38px;background:linear-gradient(#91a8fa,#7690f8 16.7%,#6684fa 20.0%,#3474fa 23.3%,#186cf9 25.0%,#0370f1 26.7%,#007cc3 28.3%,#059078 30.0%,#3ec31a 31.7%,#70ef00 33.3%,#87f800 35.0%,#c1f900 38.3%,#d7f800 40.0%,#ebf600 43.3%,#e8f700 46.7%,#daf800 48.3%,#a6f900 51.7%,#86f800 53.3%,#6eee00 55.0%,#36bd21 56.7%,#00898f 58.3%,#0075e4 60.0%,#1a6df9 61.7%,#527dfa 63.3%,#718cf9 65.0%,#849cf9 68.3%,#96adfa 76.7%,#99affa)"></i><i style="left:22.84px;width:2.38px;background:linear-gradient(#91a8fa,#7690f8 16.7%,#6684fa 20.0%,#3474fa 23.3%,#186cf9 25.0%,#0370f1 26.7%,#007cc3 28.3%,#059078 30.0%,#3ec31a 31.7%,#70ef00 33.3%,#87f800 35.0%,#c1f900 38.3%,#d7f800 40.0%,#ebf600 43.3%,#e8f700 46.7%,#daf800 48.3%,#a6f900 51.7%,#86f800 53.3%,#6eee00 55.0%,#36bd21 56.7%,#00898f 58.3%,#0075e4 60.0%,#1a6df9 61.7%,#527dfa 63.3%,#718cf9 65.0%,#849cf9 68.3%,#96adfa 76.7%,#99affa)"></i><i style="left:24.91px;width:2.38px;background:linear-gradient(#91a8fa,#7690f8 16.7%,#6684fa 20.0%,#3474fa 23.3%,#186cf9 25.0%,#0370f1 26.7%,#007cc3 28.3%,#059078 30.0%,#3ec31a 31.7%,#70ef00 33.3%,#87f800 35.0%,#c1f900 38.3%,#d7f800 40.0%,#ebf600 43.3%,#e8f700 46.7%,#daf800 48.3%,#a6f900 51.7%,#86f800 53.3%,#6eee00 55.0%,#36bd21 56.7%,#00898f 58.3%,#0075e4 60.0%,#1a6df9 61.7%,#527dfa 63.3%,#718cf9 65.0%,#849cf9 68.3%,#96adfa 76.7%,#99affa)"></i><i style="left:26.99px;width:2.38px;background:linear-gradient(#91a8fa,#7690f8 16.7%,#6684fa 20.0%,#3474fa 23.3%,#186cf9 25.0%,#0370f1 26.7%,#007cc3 28.3%,#059078 30.0%,#3ec31a 31.7%,#70ef00 33.3%,#87f800 35.0%,#c1f900 38.3%,#d7f800 40.0%,#ebf600 43.3%,#e8f700 46.7%,#daf800 48.3%,#a6f900 51.7%,#86f800 53.3%,#6eee00 55.0%,#36bd21 56.7%,#00898f 58.3%,#0075e4 60.0%,#1a6df9 61.7%,#527dfa 63.3%,#718cf9 65.0%,#849cf9 68.3%,#96adfa 76.7%,#99affa)"></i><i style="left:29.07px;width:2.38px;background:linear-gradient(#91a8fa,#7690f8 16.7%,#6684fa 20.0%,#3474fa 23.3%,#186cf9 25.0%,#0370f1 26.7%,#007cc3 28.3%,#059078 30.0%,#3ec31a 31.7%,#70ef00 33.3%,#87f800 35.0%,#c1f900 38.3%,#d7f800 40.0%,#ebf600 43.3%,#e8f700 46.7%,#daf800 48.3%,#a6f900 51.7%,#86f800 53.3%,#6eee00 55.0%,#36bd21 56.7%,#00898f 58.3%,#0075e4 60.0%,#1a6df9 61.7%,#527dfa 63.3%,#718cf9 65.0%,#849cf9 68.3%,#96adfa 76.7%,#99affa)"></i><i style="left:31.14px;width:2.38px;background:linear-gradient(#91a8fa,#7690f8 16.7%,#6684fa 20.0%,#3474fa 23.3%,#186cf9 25.0%,#0370f1 26.7%,#007cc3 28.3%,#059078 30.0%,#3ec31a 31.7%,#70ef00 33.3%,#87f800 35.0%,#c1f900 38.3%,#d7f800 40.0%,#ebf600 43.3%,#e8f700 46.7%,#daf800 48.3%,#a6f900 51.7%,#86f800 53.3%,#6eee00 55.0%,#36bd21 56.7%,#00898f 58.3%,#0075e4 60.0%,#1a6df9 61.7%,#527dfa 63.3%,#718cf9 65.0%,#849cf9 68.3%,#96adfa 76.7%,#99affa)"></i><i style="left:33.22px;width:2.38px;background:linear-gradient(#91a8fa,#7690f8 16.7%,#6684fa 20.0%,#3474fa 23.3%,#186cf9 25.0%,#0370f1 26.7%,#007cc3 28.3%,#059078 30.0%,#3ec31a 31.7%,#70ef00 33.3%,#87f800 35.0%,#c1f900 38.3%,#d7f800 40.0%,#ebf600 43.3%,#e8f700 46.7%,#daf800 48.3%,#a6f900 51.7%,#86f800 53.3%,#6eee00 55.0%,#36bd21 56.7%,#00898f 58.3%,#0075e4 60.0%,#1a6df9 61.7%,#527dfa 63.3%,#718cf9 65.0%,#849cf9 68.3%,#96adfa 76.7%,#99affa)"></i><i style="left:35.29px;width:2.38px;background:linear-gradient(#91a8fa,#7690f8 16.7%,#6684fa 20.0%,#3474fa 23.3%,#186cf9 25.0%,#0370f1 26.7%,#007cc3 28.3%,#059078 30.0%,#3ec31a 31.7%,#70ef00 33.3%,#87f800 35.0%,#c1f900 38.3%,#d7f800 40.0%,#ebf600 43.3%,#e8f700 46.7%,#daf800 48.3%,#a6f900 51.7%,#86f800 53.3%,#6eee00 55.0%,#36bd21 56.7%,#00898f 58.3%,#0075e4 60.0%,#1a6df9 61.7%,#527dfa 63.3%,#718cf9 65.0%,#849cf9 68.3%,#96adfa 76.7%,#99affa)"></i><i style="left:37.37px;width:2.38px;background:linear-gradient(#8fa6fa,#7790f8 18.3%,#6081fa 23.3%,#136bf8 28.3%,#0370f1 30.0%,#0079cf 31.7%,#00869c 33.3%,#129d5d 35.0%,#35bc22 36.7%,#56d708 38.3%,#6aeb01 40.0%,#7ef500 45.0%,#7cf400 51.7%,#6ded00 55.0%,#57d908 56.7%,#35bd21 58.3%,#109b5f 60.0%,#0084a2 61.7%,#0077db 63.3%,#086bf6 65.0%,#2b71fa 66.7%,#577efa 68.3%,#6f8af9 70.0%,#8199f9 73.3%,#96acfa 83.3%,#99affa)"></i><i style="left:39.45px;width:2.38px;background:linear-gradient(#8ea6fa,#758ff8 23.3%,#6885fa 26.7%,#5b7ffa 28.3%,#186cf9 33.3%,#086bf6 35.0%,#0172ef 36.7%,#0083a5 41.7%,#069176 46.7%,#0d9966 51.7%,#09956f 55.0%,#0084a1 60.0%,#0172ef 65.0%,#086bf6 66.7%,#3875fa 70.0%,#577efa 71.7%,#6b87f9 73.3%,#8199f9 78.3%,#97adfa 91.7%,#99affa)"></i><i style="left:41.52px;width:2.38px;background:linear-gradient(#869efa,#7891f8 20.0%,#6784fa 25.0%,#146cf9 33.3%,#046ff2 36.7%,#0073ee 38.3%,#007ebc 45.0%,#0083a5 51.7%,#0084a1 61.7%,#007fb7 70.0%,#0074eb 78.3%,#0a69f8 83.3%,#4879fa 90.0%,#6885fa 93.3%,#7e97f9)"></i><i style="left:43.60px;width:2.38px;background:linear-gradient(#879ffa,#7891f8 20.0%,#6684fa 25.0%,#1f6ef9 33.3%,#0a69f8 36.7%,#0074e9 45.0%,#0078d4 55.0%,#0078d5 75.0%,#056ef3 93.3%,#0e6af8 98.3%,#166cf9)"></i><i style="left:45.67px;width:2.38px;background:linear-gradient(#879ffa,#7891f8 20.0%,#6684fa 25.0%,#1f6ef9 33.3%,#0a69f8 36.7%,#0074e9 45.0%,#0078d4 55.0%,#0078d5 75.0%,#056ef3 93.3%,#0d6af8 98.3%,#156cf9)"></i><i style="left:47.75px;width:2.38px;background:linear-gradient(#879ffa,#7891f8 20.0%,#6684fa 25.0%,#206ef9 33.3%,#0a69f8 36.7%,#0074e9 45.0%,#0078d4 55.0%,#0078d4 75.0%,#046ff2 93.3%,#0b69f8 98.3%,#136bf8)"></i><i style="left:49.83px;width:2.38px;background:linear-gradient(#879ffa,#7891f8 20.0%,#6784fa 25.0%,#216ff9 33.3%,#0c69f8 36.7%,#0075e4 46.7%,#0079d3 56.7%,#0078d6 76.7%,#056ef3 95.0%,#0f6af8)"></i><i style="left:51.90px;width:2.38px;background:linear-gradient(#879ffa,#7891f8 20.0%,#6784fa 25.0%,#176cf9 35.0%,#086bf6 38.3%,#0075e5 46.7%,#0079d3 56.7%,#0078d5 76.7%,#046ff2 95.0%,#0b69f8)"></i><i style="left:53.98px;width:2.38px;background:linear-gradient(#879ffa,#7891f8 20.0%,#5d80fa 26.7%,#236ff9 33.3%,#086bf6 38.3%,#0075e7 46.7%,#0079d4 56.7%,#0078d4 76.7%,#056ef3 96.7%,#096af7)"></i><i style="left:56.05px;width:2.38px;background:linear-gradient(#879ffa,#7891f8 20.0%,#5e80fa 26.7%,#2570f9 33.3%,#096af7 38.3%,#0074e8 46.7%,#0078d4 56.7%,#0078d4 76.7%,#046ff2 96.7%,#086bf6)"></i><i style="left:58.13px;width:2.38px;background:linear-gradient(#879ffa,#7891f8 20.0%,#5f81fa 26.7%,#2670f9 33.3%,#096af7 38.3%,#0074e9 46.7%,#0078d4 56.7%,#0079d3 76.7%,#0074e8 90.0%,#076cf5)"></i><i style="left:60.21px;width:2.38px;background:linear-gradient(#879ffa,#7891f8 20.0%,#6081fa 26.7%,#2670f9 33.3%,#096af7 38.3%,#0074e9 46.7%,#0078d4 56.7%,#0078d5 78.3%,#056ef3 98.3%,#076cf5)"></i><i style="left:62.28px;width:2.38px;background:linear-gradient(#879ffa,#7891f8 20.0%,#6081fa 26.7%,#2770f9 33.3%,#096af7 38.3%,#0074e9 46.7%,#0078d4 56.7%,#0078d4 78.3%,#056ef3 98.3%,#076cf5)"></i><i style="left:64.36px;width:2.38px;background:linear-gradient(#879ffa,#7992f8 18.3%,#6382fa 25.0%,#2871fa 31.7%,#0a69f8 36.7%,#0075e2 50.0%,#0077da 68.3%,#0073ec 83.3%,#0f6af8 96.7%,#1f6ef9)"></i><i style="left:66.43px;width:2.38px;background:linear-gradient(#879ffa,#7790f8 16.7%,#6583fa 21.7%,#216ff9 30.0%,#096af7 35.0%,#0073ec 58.3%,#096af7 80.0%,#3173fa 88.3%,#6785fa 95.0%,#7992f8)"></i><i style="left:68.51px;width:2.38px;background:linear-gradient(#879ffa,#7891f8 15.0%,#6684fa 20.0%,#236ff9 28.3%,#0a69f8 33.3%,#0271f0 58.3%,#0a69f8 73.3%,#3775fa 81.7%,#6583fa 86.7%,#8099f9 95.0%,#88a0fa)"></i><i style="left:70.59px;width:2.38px;background:linear-gradient(#859df9,#7690f8 16.7%,#6181fa 21.7%,#176cf9 28.3%,#096af7 30.0%,#0172ef 33.3%,#007bc6 40.0%,#007fb5 48.3%,#007eb8 55.0%,#0078d6 61.7%,#0172ef 65.0%,#096af7 68.3%,#3b76fa 73.3%,#6684fa 76.7%,#7d95f9 81.7%,#95acfa 96.7%,#97adfa)"></i><i style="left:72.66px;width:2.38px;background:linear-gradient(#8da4fa,#758ff8 20.0%,#6885fa 23.3%,#587efa 25.0%,#106af8 30.0%,#056ef3 31.7%,#0075e3 33.3%,#008797 38.3%,#0a956d 43.3%,#0d9966 46.7%,#079373 50.0%,#008699 53.3%,#0172ef 58.3%,#096af7 60.0%,#6583fa 65.0%,#8199f9 70.0%,#97adfa 81.7%,#99affa)"></i><i style="left:74.74px;width:2.38px;background:linear-gradient(#8ea5fa,#748ef8 18.3%,#6583fa 21.7%,#176cf9 26.7%,#056ef3 28.3%,#0078d6 30.0%,#059178 33.3%,#20aa3f 35.0%,#39c01e 36.7%,#4ed10c 38.3%,#5fe005 41.7%,#60e105 46.7%,#4ccf0d 50.0%,#35bc22 51.7%,#1aa54b 53.3%,#008b86 55.0%,#0074e9 58.3%,#0b69f8 60.0%,#5a7ffa 63.3%,#708bf9 65.0%,#869efa 70.0%,#97adfa 80.0%,#99affa)"></i><i style="left:76.82px;width:2.38px;background:linear-gradient(#90a7fa,#7790f8 16.7%,#6885fa 20.0%,#547dfa 21.7%,#176cf9 25.0%,#0370f1 26.7%,#007cc2 28.3%,#018d80 30.0%,#2db629 31.7%,#5adb07 33.3%,#73f000 35.0%,#8df800 40.0%,#8df800 45.0%,#70ef00 50.0%,#56d708 51.7%,#29b32c 53.3%,#008b84 55.0%,#007bc7 56.7%,#056ef3 58.3%,#2770f9 60.0%,#577efa 61.7%,#708bf9 63.3%,#879ffa 68.3%,#98aefa 78.3%,#99affa)"></i><i style="left:78.89px;width:2.38px;background:linear-gradient(#90a7fa,#7790f8 16.7%,#6885fa 20.0%,#547dfa 21.7%,#176cf9 25.0%,#0370f1 26.7%,#007cc2 28.3%,#018d80 30.0%,#2db629 31.7%,#5adb07 33.3%,#73f000 35.0%,#8df800 40.0%,#8df800 45.0%,#70ef00 50.0%,#56d708 51.7%,#29b32c 53.3%,#008b84 55.0%,#007bc7 56.7%,#056ef3 58.3%,#2770f9 60.0%,#577efa 61.7%,#708bf9 63.3%,#879ffa 68.3%,#98aefa 78.3%,#99affa)"></i><i style="left:80.97px;width:2.38px;background:linear-gradient(#90a7fa,#7790f8 16.7%,#6885fa 20.0%,#547dfa 21.7%,#176cf9 25.0%,#0370f1 26.7%,#007cc2 28.3%,#018d80 30.0%,#2db629 31.7%,#5adb07 33.3%,#73f000 35.0%,#8df800 40.0%,#8df800 45.0%,#70ef00 50.0%,#56d708 51.7%,#29b32c 53.3%,#008b84 55.0%,#007bc7 56.7%,#056ef3 58.3%,#2770f9 60.0%,#577efa 61.7%,#708bf9 63.3%,#879ffa 68.3%,#98aefa 78.3%,#99affa)"></i><i style="left:83.04px;width:2.38px;background:linear-gradient(#90a7fa,#7790f8 16.7%,#6885fa 20.0%,#547dfa 21.7%,#176cf9 25.0%,#0370f1 26.7%,#007cc2 28.3%,#018d80 30.0%,#2db629 31.7%,#5adb07 33.3%,#73f000 35.0%,#8df800 40.0%,#8df800 45.0%,#70ef00 50.0%,#56d708 51.7%,#29b32c 53.3%,#008b84 55.0%,#007bc7 56.7%,#056ef3 58.3%,#2770f9 60.0%,#577efa 61.7%,#708bf9 63.3%,#879ffa 68.3%,#98aefa 78.3%,#99affa)"></i><i style="left:85.12px;width:2.38px;background:linear-gradient(#90a7fa,#7790f8 16.7%,#6885fa 20.0%,#547dfa 21.7%,#176cf9 25.0%,#0370f1 26.7%,#007cc2 28.3%,#018d80 30.0%,#2db629 31.7%,#5adb07 33.3%,#73f000 35.0%,#8df800 40.0%,#8df800 45.0%,#70ef00 50.0%,#56d708 51.7%,#29b32c 53.3%,#008b84 55.0%,#007bc7 56.7%,#056ef3 58.3%,#2770f9 60.0%,#577efa 61.7%,#708bf9 63.3%,#879ffa 68.3%,#98aefa 78.3%,#99affa)"></i><i style="left:87.20px;width:2.38px;background:linear-gradient(#90a7fa,#7790f8 16.7%,#6885fa 20.0%,#547dfa 21.7%,#176cf9 25.0%,#0370f1 26.7%,#007cc2 28.3%,#018d80 30.0%,#2db629 31.7%,#5adb07 33.3%,#73f000 35.0%,#8df800 40.0%,#8df800 45.0%,#70ef00 50.0%,#56d708 51.7%,#29b32c 53.3%,#008b84 55.0%,#007bc7 56.7%,#056ef3 58.3%,#2770f9 60.0%,#577efa 61.7%,#708bf9 63.3%,#879ffa 68.3%,#98aefa 78.3%,#99affa)"></i><i style="left:89.27px;width:2.38px;background:linear-gradient(#90a7fa,#7790f8 16.7%,#6885fa 20.0%,#547dfa 21.7%,#176cf9 25.0%,#0370f1 26.7%,#007cc2 28.3%,#018d80 30.0%,#2db629 31.7%,#5adb07 33.3%,#73f000 35.0%,#8df800 40.0%,#8df800 45.0%,#70ef00 50.0%,#56d708 51.7%,#29b32c 53.3%,#008b84 55.0%,#007bc7 56.7%,#056ef3 58.3%,#2770f9 60.0%,#577efa 61.7%,#708bf9 63.3%,#879ffa 68.3%,#98aefa 78.3%,#99affa)"></i><i style="left:91.35px;width:2.38px;background:linear-gradient(#90a7fa,#7790f8 16.7%,#6885fa 20.0%,#547dfa 21.7%,#176cf9 25.0%,#0370f1 26.7%,#007cc2 28.3%,#018d80 30.0%,#2db629 31.7%,#5adb07 33.3%,#73f000 35.0%,#8df800 40.0%,#8df800 45.0%,#70ef00 50.0%,#56d708 51.7%,#29b32c 53.3%,#008b84 55.0%,#007bc7 56.7%,#056ef3 58.3%,#2770f9 60.0%,#577efa 61.7%,#708bf9 63.3%,#879ffa 68.3%,#98aefa 78.3%,#99affa)"></i><i style="left:93.42px;width:2.38px;background:linear-gradient(#90a7fa,#7790f8 16.7%,#6885fa 20.0%,#547dfa 21.7%,#176cf9 25.0%,#0370f1 26.7%,#007cc2 28.3%,#018d80 30.0%,#2db629 31.7%,#5adb07 33.3%,#73f000 35.0%,#8df800 40.0%,#8df800 45.0%,#70ef00 50.0%,#56d708 51.7%,#29b32c 53.3%,#008b84 55.0%,#007bc7 56.7%,#056ef3 58.3%,#2770f9 60.0%,#577efa 61.7%,#708bf9 63.3%,#879ffa 68.3%,#98aefa 78.3%,#99affa)"></i><i style="left:95.50px;width:2.38px;background:linear-gradient(#90a7fa,#7790f8 16.7%,#6885fa 20.0%,#547dfa 21.7%,#176cf9 25.0%,#0370f1 26.7%,#007cc2 28.3%,#018d80 30.0%,#2db629 31.7%,#5adb07 33.3%,#73f000 35.0%,#8df800 40.0%,#8df800 45.0%,#70ef00 50.0%,#56d708 51.7%,#29b32c 53.3%,#008b84 55.0%,#007bc7 56.7%,#056ef3 58.3%,#2770f9 60.0%,#577efa 61.7%,#708bf9 63.3%,#879ffa 68.3%,#98aefa 78.3%,#99affa)"></i><i style="left:97.58px;width:2.38px;background:linear-gradient(#90a7fa,#7790f8 16.7%,#6885fa 20.0%,#547dfa 21.7%,#176cf9 25.0%,#0370f1 26.7%,#007cc2 28.3%,#018d80 30.0%,#2db629 31.7%,#5adb07 33.3%,#73f000 35.0%,#8df800 40.0%,#8df800 45.0%,#70ef00 50.0%,#56d708 51.7%,#29b32c 53.3%,#008b84 55.0%,#007bc7 56.7%,#056ef3 58.3%,#2770f9 60.0%,#577efa 61.7%,#708bf9 63.3%,#879ffa 68.3%,#98aefa 78.3%,#99affa)"></i><i style="left:99.65px;width:2.38px;background:linear-gradient(#90a7fa,#7790f8 16.7%,#6885fa 20.0%,#547dfa 21.7%,#176cf9 25.0%,#0370f1 26.7%,#007cc2 28.3%,#018d80 30.0%,#2db629 31.7%,#5adb07 33.3%,#73f000 35.0%,#8df800 40.0%,#8df800 45.0%,#70ef00 50.0%,#56d708 51.7%,#29b32c 53.3%,#008b84 55.0%,#007bc7 56.7%,#056ef3 58.3%,#2770f9 60.0%,#577efa 61.7%,#708bf9 63.3%,#879ffa 68.3%,#98aefa 78.3%,#99affa)"></i></div></div>
<div class="p" style="left:177.20px;top:386.40px"><div class="q" style="left:-3.11px;width:101.73px"><i style="left:0.00px;width:2.38px;background:linear-gradient(#7b94f8,#5f80fa 11.7%,#4178fa 15.0%,#0d6af8 18.3%,#0075e5 20.0%,#008795 21.7%,#3ac01e 23.3%,#78f200 25.0%,#a6f900 26.7%,#e1f700 28.3%,#ffe600 30.0%,#ffcd00 31.7%,#ffb700 35.0%,#ffb900 40.0%,#ffc600 41.7%,#ffe100 43.3%,#dcf800 45.0%,#93f800 46.7%,#56d808 48.3%,#008798 50.0%,#066df4 51.7%,#6885fa 55.0%,#7b94f8 58.3%,#9ab0fa 78.3%,#9db3fa)"></i><i style="left:2.08px;width:2.38px;background:linear-gradient(#7b94f8,#5f80fa 11.7%,#4178fa 15.0%,#0d6af8 18.3%,#0075e5 20.0%,#008795 21.7%,#3ac01e 23.3%,#78f200 25.0%,#a6f900 26.7%,#e1f700 28.3%,#ffe600 30.0%,#ffcd00 31.7%,#ffb700 35.0%,#ffb900 40.0%,#ffc600 41.7%,#ffe100 43.3%,#dcf800 45.0%,#93f800 46.7%,#56d808 48.3%,#008798 50.0%,#066df4 51.7%,#6885fa 55.0%,#7b94f8 58.3%,#9ab0fa 78.3%,#9db3fa)"></i><i style="left:4.15px;width:2.38px;background:linear-gradient(#7b94f8,#5f81fa 11.7%,#4278fa 15.0%,#0e6af8 18.3%,#0074e7 20.0%,#008698 21.7%,#37be20 23.3%,#77f200 25.0%,#a5f900 26.7%,#e0f700 28.3%,#ffe600 30.0%,#ffcc00 31.7%,#ffb600 35.0%,#ffb800 40.0%,#ffc400 41.7%,#ffde00 43.3%,#e1f700 45.0%,#97f900 46.7%,#5bdc06 48.3%,#008891 50.0%,#056ef3 51.7%,#3775fa 53.3%,#6784fa 55.0%,#7b94f8 58.3%,#9ab0fa 78.3%,#9db3fa)"></i><i style="left:6.23px;width:2.38px;background:linear-gradient(#7b94f8,#5f81fa 11.7%,#4278fa 15.0%,#116bf8 18.3%,#0073ec 20.0%,#00859f 21.7%,#30b826 23.3%,#74f100 25.0%,#a1f900 26.7%,#ddf700 28.3%,#ffe700 30.0%,#ffcc00 31.7%,#ffb400 35.0%,#ffb400 40.0%,#ffbf00 41.7%,#ffd800 43.3%,#edf600 45.0%,#a1f900 46.7%,#67e702 48.3%,#028e7d 50.0%,#0271f0 51.7%,#2f72fa 53.3%,#6482fa 55.0%,#7a93f8 58.3%,#9ab0fa 78.3%,#9db3fa)"></i><i style="left:8.30px;width:2.38px;background:linear-gradient(#7b94f8,#5f81fa 11.7%,#4378fa 15.0%,#136bf8 18.3%,#0172ef 20.0%,#0083a6 21.7%,#29b32c 23.3%,#72f000 25.0%,#9ef900 26.7%,#daf800 28.3%,#ffe800 30.0%,#ffcc00 31.7%,#ffb200 35.0%,#ffb100 40.0%,#ffbb00 41.7%,#ffd100 43.3%,#f8f500 45.0%,#acf900 46.7%,#70ef00 48.3%,#0e9a63 50.0%,#0074e9 51.7%,#2871fa 53.3%,#5f80fa 55.0%,#718cf9 56.7%,#849cf9 63.3%,#9bb1fa 81.7%,#9db3fa)"></i><i style="left:10.38px;width:2.38px;background:linear-gradient(#7b94f8,#5f81fa 11.7%,#4378fa 15.0%,#146bf8 18.3%,#0172ef 20.0%,#0082a9 21.7%,#27b12f 23.3%,#71ef00 25.0%,#9cf900 26.7%,#d8f800 28.3%,#ffe800 30.0%,#ffcb00 31.7%,#ffb100 35.0%,#ffaf00 40.0%,#ffb900 41.7%,#ffcf00 43.3%,#fdf500 45.0%,#b0fa00 46.7%,#73f000 48.3%,#149f58 50.0%,#0075e3 51.7%,#2570f9 53.3%,#5c80fa 55.0%,#708bf9 56.7%,#8199f9 61.7%,#9ab0fa 80.0%,#9db3fa)"></i><i style="left:12.46px;width:2.38px;background:linear-gradient(#7b94f8,#5e80fa 11.7%,#4378fa 15.0%,#146cf9 18.3%,#0271f0 20.0%,#0081ac 21.7%,#24af35 23.3%,#70ef00 25.0%,#9bf900 26.7%,#d8f800 28.3%,#ffe700 30.0%,#ffc900 31.7%,#ffb700 33.3%,#ffa900 36.7%,#ffaa00 40.0%,#ffb300 41.7%,#ffc800 43.3%,#ffee00 45.0%,#bbfa00 46.7%,#7af300 48.3%,#20aa3e 50.0%,#0078d5 51.7%,#1e6ef9 53.3%,#567efa 55.0%,#6e8af9 56.7%,#7d96f9 60.0%,#9ab0fa 80.0%,#9db3fa)"></i><i style="left:14.53px;width:2.38px;background:linear-gradient(#7b94f8,#6583fa 10.0%,#4178fa 15.0%,#166cf9 18.3%,#0370f1 20.0%,#007fb4 21.7%,#1ea942 23.3%,#6cec01 25.0%,#98f900 26.7%,#d8f800 28.3%,#ffe400 30.0%,#ffc400 31.7%,#ffaf00 33.3%,#ff9e00 36.7%,#ff9e00 40.0%,#ffa500 41.7%,#ffb800 43.3%,#ffd900 45.0%,#dcf800 46.7%,#8bf800 48.3%,#45c914 50.0%,#0080b1 51.7%,#0b69f8 53.3%,#4679fa 55.0%,#6a86f9 56.7%,#7b94f8 60.0%,#9ab0fa 80.0%,#9db3fa)"></i><i style="left:16.61px;width:2.38px;background:linear-gradient(#7b93f8,#6482fa 10.0%,#4077fa 15.0%,#176cf9 18.3%,#046ff2 20.0%,#007ebc 21.7%,#17a250 23.3%,#66e703 25.0%,#94f900 26.7%,#d6f800 28.3%,#ffe300 30.0%,#ffc000 31.7%,#ffa800 33.3%,#ff9300 36.7%,#ff9100 40.0%,#ff9700 41.7%,#ffa800 43.3%,#ffc600 45.0%,#fdf500 46.7%,#a5f900 48.3%,#64e503 50.0%,#008a89 51.7%,#046ff2 53.3%,#3373fa 55.0%,#6583fa 56.7%,#7a93f8 60.0%,#9ab0fa 80.0%,#9db3fa)"></i><i style="left:18.68px;width:2.38px;background:linear-gradient(#7a93f8,#6482fa 10.0%,#3f77fa 15.0%,#176cf9 18.3%,#046ff2 20.0%,#007dbf 21.7%,#15a056 23.3%,#63e404 25.0%,#92f800 26.7%,#d5f800 28.3%,#ffe200 30.0%,#ffbe00 31.7%,#ffa600 33.3%,#ff9600 35.0%,#ff8c00 38.3%,#ff9100 41.7%,#ffa100 43.3%,#ffbe00 45.0%,#ffed00 46.7%,#b0fa00 48.3%,#6fee00 50.0%,#079372 51.7%,#0172ef 53.3%,#2d72fa 55.0%,#6181fa 56.7%,#7992f8 60.0%,#9ab0fa 80.0%,#9db3fa)"></i><i style="left:20.76px;width:2.38px;background:linear-gradient(#7a93f8,#6482fa 10.0%,#3f77fa 15.0%,#176cf9 18.3%,#046ff2 20.0%,#007dbf 21.7%,#15a056 23.3%,#63e404 25.0%,#92f800 26.7%,#d5f800 28.3%,#ffe200 30.0%,#ffbe00 31.7%,#ffa600 33.3%,#ff9600 35.0%,#ff8c00 38.3%,#ff9100 41.7%,#ffa100 43.3%,#ffbe00 45.0%,#ffed00 46.7%,#b0fa00 48.3%,#6fee00 50.0%,#079372 51.7%,#0172ef 53.3%,#2d72fa 55.0%,#6181fa 56.7%,#7992f8 60.0%,#9ab0fa 80.0%,#9db3fa)"></i><i style="left:22.84px;width:2.38px;background:linear-gradient(#7a93f8,#6482fa 10.0%,#3f77fa 15.0%,#176cf9 18.3%,#046ff2 20.0%,#007dbf 21.7%,#15a056 23.3%,#63e404 25.0%,#92f800 26.7%,#d5f800 28.3%,#ffe200 30.0%,#ffbe00 31.7%,#ffa600 33.3%,#ff9600 35.0%,#ff8c00 38.3%,#ff9100 41.7%,#ffa100 43.3%,#ffbe00 45.0%,#ffed00 46.7%,#b0fa00 48.3%,#6fee00 50.0%,#079372 51.7%,#0172ef 53.3%,#2d72fa 55.0%,#6181fa 56.7%,#7992f8 60.0%,#9ab0fa 80.0%,#9db3fa)"></i><i style="left:24.91px;width:2.38px;background:linear-gradient(#7a93f8,#6482fa 10.0%,#3f77fa 15.0%,#176cf9 18.3%,#046ff2 20.0%,#007dbf 21.7%,#15a056 23.3%,#63e404 25.0%,#92f800 26.7%,#d5f800 28.3%,#ffe200 30.0%,#ffbe00 31.7%,#ffa600 33.3%,#ff9600 35.0%,#ff8c00 38.3%,#ff9100 41.7%,#ffa100 43.3%,#ffbe00 45.0%,#ffed00 46.7%,#b0fa00 48.3%,#6fee00 50.0%,#079372 51.7%,#0172ef 53.3%,#2d72fa 55.0%,#6181fa 56.7%,#7992f8 60.0%,#9ab0fa 80.0%,#9db3fa)"></i><i style="left:26.99px;width:2.38px;background:linear-gradient(#7a93f8,#6482fa 10.0%,#3f77fa 15.0%,#176cf9 18.3%,#046ff2 20.0%,#007dbf 21.7%,#15a056 23.3%,#63e404 25.0%,#92f800 26.7%,#d5f800 28.3%,#ffe200 30.0%,#ffbe00 31.7%,#ffa600 33.3%,#ff9600 35.0%,#ff8c00 38.3%,#ff9100 41.7%,#ffa100 43.3%,#ffbe00 45.0%,#ffed00 46.7%,#b0fa00 48.3%,#6fee00 50.0%,#079372 51.7%,#0172ef 53.3%,#2d72fa 55.0%,#6181fa 56.7%,#7992f8 60.0%,#9ab0fa 80.0%,#9db3fa)"></i><i style="left:29.07px;width:2.38px;background:linear-gradient(#7a93f8,#6482fa 10.0%,#3f77fa 15.0%,#176cf9 18.3%,#046ff2 20.0%,#007dbf 21.7%,#15a056 23.3%,#63e404 25.0%,#92f800 26.7%,#d5f800 28.3%,#ffe200 30.0%,#ffbe00 31.7%,#ffa600 33.3%,#ff9600 35.0%,#ff8c00 38.3%,#ff9100 41.7%,#ffa100 43.3%,#ffbe00 45.0%,#ffed00 46.7%,#b0fa00 48.3%,#6fee00 50.0%,#079372 51.7%,#0172ef 53.3%,#2d72fa 55.0%,#6181fa 56.7%,#7992f8 60.0%,#9ab0fa 80.0%,#9db3fa)"></i><i style="left:31.14px;width:2.38px;background:linear-gradient(#7a93f8,#6482fa 10.0%,#3f77fa 15.0%,#176cf9 18.3%,#046ff2 20.0%,#007dbf 21.7%,#15a056 23.3%,#63e404 25.0%,#92f800 26.7%,#d5f800 28.3%,#ffe200 30.0%,#ffbe00 31.7%,#ffa600 33.3%,#ff9600 35.0%,#ff8c00 38.3%,#ff9100 41.7%,#ffa100 43.3%,#ffbe00 45.0%,#ffed00 46.7%,#b0fa00 48.3%,#6fee00 50.0%,#079372 51.7%,#0172ef 53.3%,#2d72fa 55.0%,#6181fa 56.7%,#7992f8 60.0%,#9ab0fa 80.0%,#9db3fa)"></i><i style="left:33.22px;width:2.38px;background:linear-gradient(#7a93f8,#6482fa 10.0%,#3f77fa 15.0%,#176cf9 18.3%,#046ff2 20.0%,#007dbf 21.7%,#15a056 23.3%,#63e404 25.0%,#92f800 26.7%,#d5f800 28.3%,#ffe200 30.0%,#ffbe00 31.7%,#ffa600 33.3%,#ff9600 35.0%,#ff8c00 38.3%,#ff9100 41.7%,#ffa100 43.3%,#ffbe00 45.0%,#ffed00 46.7%,#b0fa00 48.3%,#6fee00 50.0%,#079372 51.7%,#0172ef 53.3%,#2d72fa 55.0%,#6181fa 56.7%,#7992f8 60.0%,#9ab0fa 80.0%,#9db3fa)"></i><i style="left:35.29px;width:2.38px;background:linear-gradient(#7a93f8,#6482fa 10.0%,#3f77fa 15.0%,#176cf9 18.3%,#046ff2 20.0%,#007dbf 21.7%,#15a056 23.3%,#63e404 25.0%,#92f800 26.7%,#d5f800 28.3%,#ffe200 30.0%,#ffbe00 31.7%,#ffa600 33.3%,#ff9600 35.0%,#ff8c00 38.3%,#ff9100 41.7%,#ffa100 43.3%,#ffbe00 45.0%,#ffed00 46.7%,#b0fa00 48.3%,#6fee00 50.0%,#079372 51.7%,#0172ef 53.3%,#2d72fa 55.0%,#6181fa 56.7%,#7992f8 60.0%,#9ab0fa 80.0%,#9db3fa)"></i><i style="left:37.37px;width:2.38px;background:linear-gradient(#7a93f8,#6482fa 10.0%,#3f77fa 15.0%,#176cf9 18.3%,#046ff2 20.0%,#007dbf 21.7%,#15a056 23.3%,#63e404 25.0%,#92f800 26.7%,#d5f800 28.3%,#ffe200 30.0%,#ffbe00 31.7%,#ffa600 33.3%,#ff9600 35.0%,#ff8c00 38.3%,#ff9100 41.7%,#ffa100 43.3%,#ffbe00 45.0%,#ffed00 46.7%,#b0fa00 48.3%,#6fee00 50.0%,#079372 51.7%,#0172ef 53.3%,#2d72fa 55.0%,#6181fa 56.7%,#7992f8 60.0%,#9ab0fa 80.0%,#9db3fa)"></i><i style="left:39.45px;width:2.38px;background:linear-gradient(#7a93f8,#6482fa 10.0%,#3f77fa 15.0%,#176cf9 18.3%,#046ff2 20.0%,#007dbf 21.7%,#15a056 23.3%,#63e404 25.0%,#92f800 26.7%,#d5f800 28.3%,#ffe200 30.0%,#ffbe00 31.7%,#ffa600 33.3%,#ff9600 35.0%,#ff8c00 38.3%,#ff9100 41.7%,#ffa100 43.3%,#ffbe00 45.0%,#ffed00 46.7%,#b0fa00 48.3%,#6fee00 50.0%,#079372 51.7%,#0172ef 53.3%,#2d72fa 55.0%,#6181fa 56.7%,#7992f8 60.0%,#9ab0fa 80.0%,#9db3fa)"></i><i style="left:41.52px;width:2.38px;background:linear-gradient(#7a93f8,#6482fa 10.0%,#3f77fa 15.0%,#176cf9 18.3%,#046ff2 20.0%,#007dbf 21.7%,#15a056 23.3%,#63e404 25.0%,#92f800 26.7%,#d5f800 28.3%,#ffe200 30.0%,#ffbe00 31.7%,#ffa600 33.3%,#ff9600 35.0%,#ff8c00 38.3%,#ff9100 41.7%,#ffa100 43.3%,#ffbe00 45.0%,#ffed00 46.7%,#b0fa00 48.3%,#6fee00 50.0%,#079372 51.7%,#0172ef 53.3%,#2d72fa 55.0%,#6181fa 56.7%,#7992f8 60.0%,#9ab0fa 80.0%,#9db3fa)"></i><i style="left:43.60px;width:2.38px;background:linear-gradient(#7a93f8,#6482fa 10.0%,#3f77fa 15.0%,#176cf9 18.3%,#046ff2 20.0%,#007dbf 21.7%,#15a056 23.3%,#63e404 25.0%,#92f800 26.7%,#d5f800 28.3%,#ffe200 30.0%,#ffbe00 31.7%,#ffa600 33.3%,#ff9600 35.0%,#ff8c00 38.3%,#ff9100 41.7%,#ffa100 43.3%,#ffbe00 45.0%,#ffed00 46.7%,#b0fa00 48.3%,#6fee00 50.0%,#079372 51.7%,#0172ef 53.3%,#2d72fa 55.0%,#6181fa 56.7%,#7992f8 60.0%,#9ab0fa 80.0%,#9db3fa)"></i><i style="left:45.67px;width:2.38px;background:linear-gradient(#7c94f8,#6281fa 11.7%,#3674fa 16.7%,#076cf5 20.0%,#007acd 21.7%,#089471 23.3%,#56d808 25.0%,#85f700 26.7%,#befa00 28.3%,#fff500 30.0%,#ffd200 31.7%,#ffbb00 33.3%,#ffa700 36.7%,#ffa500 40.0%,#ffab00 41.7%,#ffba00 43.3%,#ffd700 45.0%,#e5f700 46.7%,#96f900 48.3%,#56d808 50.0%,#00869b 51.7%,#076cf5 53.3%,#3c76fa 55.0%,#6885fa 56.7%,#7b94f8 60.0%,#9ab0fa 80.0%,#9db3fa)"></i><i style="left:47.75px;width:2.38px;background:linear-gradient(#7e96f9,#6683fa 13.3%,#4b7afa 16.7%,#136bf8 20.0%,#0073ec 21.7%,#00859d 23.3%,#30b826 25.0%,#72f000 26.7%,#98f900 28.3%,#f3f600 31.7%,#ffe800 33.3%,#ffd700 36.7%,#ffd600 40.0%,#ffdc00 41.7%,#ffed00 43.3%,#def700 45.0%,#a3f900 46.7%,#71ef00 48.3%,#16a153 50.0%,#0077dc 51.7%,#216ff9 53.3%,#5b7ffa 55.0%,#718cf9 56.7%,#819af9 61.7%,#9ab0fa 80.0%,#9db3fa)"></i><i style="left:49.83px;width:2.38px;background:linear-gradient(#7f98f9,#6a86f9 13.3%,#6583fa 15.0%,#557efa 16.7%,#1d6ef9 20.0%,#0370f1 21.7%,#0080b2 23.3%,#1da844 25.0%,#63e404 26.7%,#85f700 28.3%,#d2f800 31.7%,#eef600 33.3%,#fef500 35.0%,#fff100 40.0%,#fcf500 41.7%,#e3f700 43.3%,#87f800 46.7%,#57d808 48.3%,#008a89 50.0%,#0370f1 51.7%,#3173fa 53.3%,#6684fa 55.0%,#758ff8 56.7%,#93aafa 71.7%,#9db3fa 95.0%,#9db3fa)"></i><i style="left:51.90px;width:2.38px;background:linear-gradient(#7f98f9,#6c88f9 13.3%,#6684fa 15.0%,#577efa 16.7%,#1b6df9 20.0%,#0271f0 21.7%,#0080b2 23.3%,#18a34f 25.0%,#58da07 26.7%,#7bf300 28.3%,#b1fa00 31.7%,#d2f800 35.0%,#d9f800 40.0%,#cbf900 43.3%,#a4f900 46.7%,#70ef00 50.0%,#3cc21c 51.7%,#008b85 53.3%,#0078d8 55.0%,#0d6af8 56.7%,#6382fa 60.0%,#7992f8 63.3%,#9aaffa 91.7%,#9cb2fa)"></i><i style="left:53.98px;width:2.38px;background:linear-gradient(#8098f9,#708bf9 13.3%,#5d80fa 16.7%,#1d6ef9 20.0%,#046ff2 21.7%,#007cc4 23.3%,#008c82 25.0%,#2cb52a 26.7%,#58da07 28.3%,#71ef00 30.0%,#88f800 35.0%,#89f800 43.3%,#76f100 50.0%,#6eee00 51.7%,#5bdc06 53.3%,#40c518 55.0%,#1fa940 56.7%,#018d80 58.3%,#0077dd 61.7%,#066df4 63.3%,#3473fa 66.7%,#6684fa 70.0%,#7a93f8 75.0%,#90a7fa)"></i><i style="left:56.05px;width:2.38px;background:linear-gradient(#8199f9,#738df9 13.3%,#6181fa 16.7%,#226ff9 20.0%,#066df4 21.7%,#0078d6 23.3%,#00859e 25.0%,#129d5b 26.7%,#35bd22 28.3%,#54d609 30.0%,#6fee00 33.3%,#73f000 43.3%,#6ced01 48.3%,#52d309 53.3%,#2bb42b 56.7%,#038f7c 60.0%,#0076e0 65.0%,#046ff2 66.7%,#0c6af8 68.3%,#6181fa 75.0%,#7a93f8 81.7%,#8aa2fa)"></i><i style="left:58.13px;width:2.38px;background:linear-gradient(#8199f9,#738df9 13.3%,#6181fa 16.7%,#226ff9 20.0%,#066df4 21.7%,#0078d6 23.3%,#00859e 25.0%,#129d5b 26.7%,#35bd22 28.3%,#54d609 30.0%,#6fee00 33.3%,#73f000 45.0%,#69e902 50.0%,#4dd00d 55.0%,#28b22d 58.3%,#069275 61.7%,#007acd 66.7%,#0074e7 68.3%,#0b69f8 71.7%,#6784fa 80.0%,#7c95f8 86.7%,#89a1fa)"></i><i style="left:60.21px;width:2.38px;background:linear-gradient(#8199f9,#738df9 13.3%,#6181fa 16.7%,#226ff9 20.0%,#066df4 21.7%,#0078d6 23.3%,#00859e 25.0%,#129d5b 26.7%,#35bd22 28.3%,#54d609 30.0%,#6fee00 33.3%,#73f000 45.0%,#66e703 51.7%,#4ccf0d 56.7%,#2cb529 60.0%,#008b85 65.0%,#0074eb 71.7%,#0e6af8 75.0%,#6081fa 81.7%,#7891f8 86.7%,#88a0fa)"></i><i style="left:62.28px;width:2.38px;background:linear-gradient(#8199f9,#738df9 13.3%,#6181fa 16.7%,#226ff9 20.0%,#066df4 21.7%,#0078d6 23.3%,#00859e 25.0%,#129d5b 26.7%,#35bd22 28.3%,#54d609 30.0%,#6fee00 33.3%,#73f000 45.0%,#66e703 51.7%,#4acd0f 56.7%,#28b22d 60.0%,#09946f 63.3%,#00898f 65.0%,#0076df 70.0%,#0370f1 71.7%,#096af7 73.3%,#6784fa 81.7%,#7c95f8 88.3%,#87a0fa)"></i><i style="left:64.36px;width:2.38px;background:linear-gradient(#8199f9,#738df9 13.3%,#6181fa 16.7%,#226ff9 20.0%,#066df4 21.7%,#0078d6 23.3%,#00859e 25.0%,#129d5b 26.7%,#35bd22 28.3%,#54d609 30.0%,#6fee00 33.3%,#73f000 45.0%,#6aea01 50.0%,#50d20a 55.0%,#2cb529 58.3%,#089471 61.7%,#008893 63.3%,#0073ed 68.3%,#126bf8 71.7%,#6482fa 78.3%,#7a93f8 85.0%,#87a0fa)"></i><i style="left:66.43px;width:2.38px;background:linear-gradient(#7f98f9,#738df8 11.7%,#6583fa 15.0%,#2b71fa 18.3%,#0b69f8 20.0%,#0074e8 21.7%,#079373 25.0%,#2bb42b 26.7%,#50d20a 28.3%,#64e503 30.0%,#71ef00 31.7%,#7af300 38.3%,#71ef00 48.3%,#62e304 51.7%,#56d708 53.3%,#2cb629 56.7%,#008c81 60.0%,#0074eb 65.0%,#076cf5 66.7%,#2e72fa 70.0%,#5d80fa 73.3%,#7790f8 78.3%,#89a1fa)"></i><i style="left:68.51px;width:2.38px;background:linear-gradient(#7c95f8,#6d89f9 10.0%,#6684fa 11.7%,#527dfa 13.3%,#176cf9 16.7%,#0370f1 18.3%,#007bc8 20.0%,#00898e 21.7%,#1fa941 23.3%,#48cc11 25.0%,#65e503 26.7%,#7df400 30.0%,#87f800 36.7%,#7ff500 45.0%,#72f000 48.3%,#64e503 50.0%,#4fd10b 51.7%,#2db629 53.3%,#0e9964 55.0%,#00859d 56.7%,#007acd 58.3%,#0370f1 60.0%,#116bf8 61.7%,#6683fa 66.7%,#7b93f8 71.7%,#93aafa)"></i><i style="left:70.59px;width:2.38px;background:linear-gradient(#7992f8,#6684fa 8.3%,#567efa 10.0%,#076cf5 15.0%,#0076dd 16.7%,#0083a6 18.3%,#109b61 20.0%,#3ac01e 21.7%,#5fe005 23.3%,#74f000 25.0%,#98f900 31.7%,#9bf900 38.3%,#85f700 43.3%,#6cec01 46.7%,#4acd0f 48.3%,#19a44c 50.0%,#00859f 51.7%,#0076e0 53.3%,#0b69f8 55.0%,#597ffa 58.3%,#6d88f9 60.0%,#7b94f8 63.3%,#9ab0fa 95.0%,#9bb1fa)"></i><i style="left:72.66px;width:2.38px;background:linear-gradient(#7690f8,#6785fa 6.7%,#5b7ffa 8.3%,#0c69f8 13.3%,#0073ee 15.0%,#007eba 16.7%,#028e7e 18.3%,#2ab42b 20.0%,#56d808 21.7%,#71ef00 23.3%,#95f900 28.3%,#a4f900 33.3%,#a2f900 38.3%,#90f800 41.7%,#70ef00 45.0%,#48cc11 46.7%,#0f9b61 48.3%,#007eba 50.0%,#046ff2 51.7%,#2770f9 53.3%,#547dfa 55.0%,#6d88f9 56.7%,#7c95f8 60.0%,#9ab0fa 88.3%,#9db2fa)"></i><i style="left:74.74px;width:2.38px;background:linear-gradient(#7690f8,#6785fa 6.7%,#5b7ffa 8.3%,#0c69f8 13.3%,#0073ee 15.0%,#007eba 16.7%,#028e7e 18.3%,#2ab42b 20.0%,#56d808 21.7%,#71ef00 23.3%,#95f900 28.3%,#a4f900 33.3%,#a2f900 38.3%,#90f800 41.7%,#70ef00 45.0%,#48cc11 46.7%,#0f9b61 48.3%,#007eba 50.0%,#046ff2 51.7%,#2770f9 53.3%,#547dfa 55.0%,#6d88f9 56.7%,#7c95f8 60.0%,#9ab0fa 88.3%,#9db2fa)"></i><i style="left:76.82px;width:2.38px;background:linear-gradient(#7690f8,#6785fa 6.7%,#5b7ffa 8.3%,#0c69f8 13.3%,#0073ee 15.0%,#007eba 16.7%,#028e7e 18.3%,#2ab42b 20.0%,#56d808 21.7%,#71ef00 23.3%,#95f900 28.3%,#a4f900 33.3%,#a2f900 38.3%,#90f800 41.7%,#70ef00 45.0%,#48cc11 46.7%,#0f9b61 48.3%,#007eba 50.0%,#046ff2 51.7%,#2770f9 53.3%,#547dfa 55.0%,#6d88f9 56.7%,#7c95f8 60.0%,#9ab0fa 88.3%,#9db2fa)"></i><i style="left:78.89px;width:2.38px;background:linear-gradient(#7690f8,#6785fa 6.7%,#5b7ffa 8.3%,#0c69f8 13.3%,#0073ee 15.0%,#007eba 16.7%,#028e7e 18.3%,#2ab42b 20.0%,#56d808 21.7%,#71ef00 23.3%,#95f900 28.3%,#a4f900 33.3%,#a2f900 38.3%,#90f800 41.7%,#70ef00 45.0%,#48cc11 46.7%,#0f9b61 48.3%,#007eba 50.0%,#046ff2 51.7%,#2770f9 53.3%,#547dfa 55.0%,#6d88f9 56.7%,#7c95f8 60.0%,#9ab0fa 88.3%,#9db2fa)"></i><i style="left:80.97px;width:2.38px;background:linear-gradient(#7690f8,#6785fa 6.7%,#5b7ffa 8.3%,#0c69f8 13.3%,#0073ee 15.0%,#007eba 16.7%,#028e7e 18.3%,#2ab42b 20.0%,#56d808 21.7%,#71ef00 23.3%,#95f900 28.3%,#a4f900 33.3%,#a2f900 38.3%,#90f800 41.7%,#70ef00 45.0%,#48cc11 46.7%,#0f9b61 48.3%,#007eba 50.0%,#046ff2 51.7%,#2770f9 53.3%,#547dfa 55.0%,#6d88f9 56.7%,#7c95f8 60.0%,#9ab0fa 88.3%,#9db2fa)"></i><i style="left:83.04px;width:2.38px;background:linear-gradient(#7690f8,#6785fa 6.7%,#5b7ffa 8.3%,#0c69f8 13.3%,#0073ee 15.0%,#007eba 16.7%,#028e7e 18.3%,#2ab42b 20.0%,#56d808 21.7%,#71ef00 23.3%,#95f900 28.3%,#a4f900 33.3%,#a2f900 38.3%,#90f800 41.7%,#70ef00 45.0%,#48cc11 46.7%,#0f9b61 48.3%,#007eba 50.0%,#046ff2 51.7%,#2770f9 53.3%,#547dfa 55.0%,#6d88f9 56.7%,#7c95f8 60.0%,#9ab0fa 88.3%,#9db2fa)"></i><i style="left:85.12px;width:2.38px;background:linear-gradient(#7690f8,#6785fa 6.7%,#5b7ffa 8.3%,#0c69f8 13.3%,#0073ee 15.0%,#007eba 16.7%,#028e7e 18.3%,#2ab42b 20.0%,#56d808 21.7%,#71ef00 23.3%,#95f900 28.3%,#a4f900 33.3%,#a2f900 38.3%,#90f800 41.7%,#70ef00 45.0%,#48cc11 46.7%,#0f9b61 48.3%,#007eba 50.0%,#046ff2 51.7%,#2770f9 53.3%,#547dfa 55.0%,#6d88f9 56.7%,#7c95f8 60.0%,#9ab0fa 88.3%,#9db2fa)"></i><i style="left:87.20px;width:2.38px;background:linear-gradient(#7690f8,#6785fa 6.7%,#5b7ffa 8.3%,#0c69f8 13.3%,#0073ee 15.0%,#007eba 16.7%,#028e7e 18.3%,#2ab42b 20.0%,#56d808 21.7%,#71ef00 23.3%,#95f900 28.3%,#a4f900 33.3%,#a2f900 38.3%,#90f800 41.7%,#70ef00 45.0%,#48cc11 46.7%,#0f9b61 48.3%,#007eba 50.0%,#046ff2 51.7%,#2770f9 53.3%,#547dfa 55.0%,#6d88f9 56.7%,#7c95f8 60.0%,#9ab0fa 88.3%,#9db2fa)"></i><i style="left:89.27px;width:2.38px;background:linear-gradient(#7690f8,#6785fa 6.7%,#5b7ffa 8.3%,#0c69f8 13.3%,#0073ee 15.0%,#007eba 16.7%,#028e7e 18.3%,#2ab42b 20.0%,#56d808 21.7%,#71ef00 23.3%,#95f900 28.3%,#a4f900 33.3%,#a2f900 38.3%,#90f800 41.7%,#70ef00 45.0%,#48cc11 46.7%,#0f9b61 48.3%,#007eba 50.0%,#046ff2 51.7%,#2770f9 53.3%,#547dfa 55.0%,#6d88f9 56.7%,#7c95f8 60.0%,#9ab0fa 88.3%,#9db2fa)"></i><i style="left:91.35px;width:2.38px;background:linear-gradient(#7690f8,#6785fa 6.7%,#5b7ffa 8.3%,#0c69f8 13.3%,#0073ee 15.0%,#007eba 16.7%,#028e7e 18.3%,#2ab42b 20.0%,#56d808 21.7%,#71ef00 23.3%,#95f900 28.3%,#a4f900 33.3%,#a2f900 38.3%,#90f800 41.7%,#70ef00 45.0%,#48cc11 46.7%,#0f9b61 48.3%,#007eba 50.0%,#046ff2 51.7%,#2770f9 53.3%,#547dfa 55.0%,#6d88f9 56.7%,#7c95f8 60.0%,#9ab0fa 88.3%,#9db2fa)"></i><i style="left:93.42px;width:2.38px;background:linear-gradient(#7690f8,#6785fa 6.7%,#5b7ffa 8.3%,#0c69f8 13.3%,#0073ee 15.0%,#007eba 16.7%,#028e7e 18.3%,#2ab42b 20.0%,#56d808 21.7%,#71ef00 23.3%,#95f900 28.3%,#a4f900 33.3%,#a2f900 38.3%,#90f800 41.7%,#70ef00 45.0%,#48cc11 46.7%,#0f9b61 48.3%,#007eba 50.0%,#046ff2 51.7%,#2770f9 53.3%,#547dfa 55.0%,#6d88f9 56.7%,#7c95f8 60.0%,#9ab0fa 88.3%,#9db2fa)"></i><i style="left:95.50px;width:2.38px;background:linear-gradient(#7690f8,#6785fa 6.7%,#5b7ffa 8.3%,#0c69f8 13.3%,#0073ee 15.0%,#007eba 16.7%,#028e7e 18.3%,#2ab42b 20.0%,#56d808 21.7%,#71ef00 23.3%,#95f900 28.3%,#a4f900 33.3%,#a2f900 38.3%,#90f800 41.7%,#70ef00 45.0%,#48cc11 46.7%,#0f9b61 48.3%,#007eba 50.0%,#046ff2 51.7%,#2770f9 53.3%,#547dfa 55.0%,#6d88f9 56.7%,#7c95f8 60.0%,#9ab0fa 88.3%,#9db2fa)"></i><i style="left:97.58px;width:2.38px;background:linear-gradient(#7690f8,#6785fa 6.7%,#5b7ffa 8.3%,#0c69f8 13.3%,#0073ee 15.0%,#007eba 16.7%,#028e7e 18.3%,#2ab42b 20.0%,#56d808 21.7%,#71ef00 23.3%,#95f900 28.3%,#a4f900 33.3%,#a2f900 38.3%,#90f800 41.7%,#70ef00 45.0%,#48cc11 46.7%,#0f9b61 48.3%,#007eba 50.0%,#046ff2 51.7%,#2770f9 53.3%,#547dfa 55.0%,#6d88f9 56.7%,#7c95f8 60.0%,#9ab0fa 88.3%,#9db2fa)"></i><i style="left:99.65px;width:2.38px;background:linear-gradient(#7690f8,#6785fa 6.7%,#5b7ffa 8.3%,#0c69f8 13.3%,#0073ee 15.0%,#007eba 16.7%,#028e7e 18.3%,#2ab42b 20.0%,#56d808 21.7%,#71ef00 23.3%,#95f900 28.3%,#a4f900 33.3%,#a2f900 38.3%,#90f800 41.7%,#70ef00 45.0%,#48cc11 46.7%,#0f9b61 48.3%,#007eba 50.0%,#046ff2 51.7%,#2770f9 53.3%,#547dfa 55.0%,#6d88f9 56.7%,#7c95f8 60.0%,#9ab0fa 88.3%,#9db2fa)"></i></div></div>
<div class="p" style="left:312.20px;top:386.40px"><div class="q" style="left:-3.11px;width:101.73px"><i style="left:0.00px;width:2.38px;background:linear-gradient(#829bf9,#6d89f9 13.3%,#6482fa 16.7%,#4077fa 20.0%,#056ef3 23.3%,#007eba 25.0%,#20aa3f 26.7%,#6fee00 28.3%,#99f900 30.0%,#d0f800 31.7%,#fff300 33.3%,#ffdd00 35.0%,#ffcd00 38.3%,#ffcf00 41.7%,#ffdb00 43.3%,#fff300 45.0%,#87f800 48.3%,#49cc11 50.0%,#0082a8 51.7%,#096af7 53.3%,#4579fa 55.0%,#6b87f9 56.7%,#7d95f9 60.0%,#9ab0fa 80.0%,#9db3fa)"></i><i style="left:2.08px;width:2.38px;background:linear-gradient(#829bf9,#6d89f9 13.3%,#6482fa 16.7%,#4077fa 20.0%,#056ef3 23.3%,#007eba 25.0%,#20aa3f 26.7%,#6fee00 28.3%,#99f900 30.0%,#d0f800 31.7%,#fff300 33.3%,#ffdd00 35.0%,#ffcd00 38.3%,#ffcf00 41.7%,#ffdb00 43.3%,#fff300 45.0%,#87f800 48.3%,#49cc11 50.0%,#0082a8 51.7%,#096af7 53.3%,#4579fa 55.0%,#6b87f9 56.7%,#7d95f9 60.0%,#9ab0fa 80.0%,#9db3fa)"></i><i style="left:4.15px;width:2.38px;background:linear-gradient(#829bf9,#6d89f9 13.3%,#6482fa 16.7%,#4077fa 20.0%,#056ef3 23.3%,#007eba 25.0%,#20aa3f 26.7%,#6fee00 28.3%,#99f900 30.0%,#d0f800 31.7%,#fff300 33.3%,#ffdd00 35.0%,#ffcd00 38.3%,#ffcf00 41.7%,#ffdb00 43.3%,#fff300 45.0%,#87f800 48.3%,#49cc11 50.0%,#0082a8 51.7%,#096af7 53.3%,#4579fa 55.0%,#6b87f9 56.7%,#7d95f9 60.0%,#9ab0fa 80.0%,#9db3fa)"></i><i style="left:6.23px;width:2.38px;background:linear-gradient(#829bf9,#6d89f9 13.3%,#6482fa 16.7%,#4077fa 20.0%,#056ef3 23.3%,#007eba 25.0%,#20aa3f 26.7%,#6fee00 28.3%,#99f900 30.0%,#d0f800 31.7%,#fff300 33.3%,#ffdd00 35.0%,#ffcd00 38.3%,#ffcf00 41.7%,#ffdb00 43.3%,#fff300 45.0%,#87f800 48.3%,#49cc11 50.0%,#0082a8 51.7%,#096af7 53.3%,#4579fa 55.0%,#6b87f9 56.7%,#7d95f9 60.0%,#9ab0fa 80.0%,#9db3fa)"></i><i style="left:8.30px;width:2.38px;background:linear-gradient(#829bf9,#6d89f9 13.3%,#6482fa 16.7%,#4077fa 20.0%,#056ef3 23.3%,#007eba 25.0%,#20aa3f 26.7%,#6fee00 28.3%,#99f900 30.0%,#d0f800 31.7%,#fff300 33.3%,#ffdd00 35.0%,#ffcd00 38.3%,#ffcf00 41.7%,#ffdb00 43.3%,#fff300 45.0%,#87f800 48.3%,#49cc11 50.0%,#0082a8 51.7%,#096af7 53.3%,#4579fa 55.0%,#6b87f9 56.7%,#7d95f9 60.0%,#9ab0fa 80.0%,#9db3fa)"></i><i style="left:10.38px;width:2.38px;background:linear-gradient(#829bf9,#6d89f9 13.3%,#6482fa 16.7%,#4077fa 20.0%,#056ef3 23.3%,#007eba 25.0%,#20aa3f 26.7%,#6fee00 28.3%,#99f900 30.0%,#d0f800 31.7%,#fff300 33.3%,#ffdd00 35.0%,#ffcd00 38.3%,#ffcf00 41.7%,#ffdb00 43.3%,#fff300 45.0%,#87f800 48.3%,#49cc11 50.0%,#0082a8 51.7%,#096af7 53.3%,#4579fa 55.0%,#6b87f9 56.7%,#7d95f9 60.0%,#9ab0fa 80.0%,#9db3fa)"></i><i style="left:12.46px;width:2.38px;background:linear-gradient(#829bf9,#6d89f9 13.3%,#6482fa 16.7%,#4077fa 20.0%,#056ef3 23.3%,#007eba 25.0%,#20aa3f 26.7%,#6fee00 28.3%,#99f900 30.0%,#d0f800 31.7%,#fff300 33.3%,#ffdd00 35.0%,#ffcd00 38.3%,#ffcf00 41.7%,#ffdb00 43.3%,#fff300 45.0%,#87f800 48.3%,#49cc11 50.0%,#0082a8 51.7%,#096af7 53.3%,#4579fa 55.0%,#6b87f9 56.7%,#7d95f9 60.0%,#9ab0fa 80.0%,#9db3fa)"></i><i style="left:14.53px;width:2.38px;background:linear-gradient(#829bf9,#6d89f9 13.3%,#6482fa 16.7%,#4077fa 20.0%,#056ef3 23.3%,#007eba 25.0%,#20aa3f 26.7%,#6fee00 28.3%,#99f900 30.0%,#d0f800 31.7%,#fff300 33.3%,#ffdd00 35.0%,#ffcd00 38.3%,#ffcf00 41.7%,#ffdb00 43.3%,#fff300 45.0%,#87f800 48.3%,#49cc11 50.0%,#0082a8 51.7%,#096af7 53.3%,#4579fa 55.0%,#6b87f9 56.7%,#7d95f9 60.0%,#9ab0fa 80.0%,#9db3fa)"></i><i style="left:16.61px;width:2.38px;background:linear-gradient(#829bf9,#6d89f9 13.3%,#6482fa 16.7%,#4077fa 20.0%,#056ef3 23.3%,#007eba 25.0%,#20aa3f 26.7%,#6fee00 28.3%,#99f900 30.0%,#d0f800 31.7%,#fff300 33.3%,#ffdd00 35.0%,#ffcd00 38.3%,#ffcf00 41.7%,#ffdb00 43.3%,#fff300 45.0%,#87f800 48.3%,#49cc11 50.0%,#0082a8 51.7%,#096af7 53.3%,#4579fa 55.0%,#6b87f9 56.7%,#7d95f9 60.0%,#9ab0fa 80.0%,#9db3fa)"></i><i style="left:18.68px;width:2.38px;background:linear-gradient(#829bf9,#6d89f9 13.3%,#6482fa 16.7%,#4077fa 20.0%,#056ef3 23.3%,#007eba 25.0%,#20aa3f 26.7%,#6fee00 28.3%,#99f900 30.0%,#d0f800 31.7%,#fff300 33.3%,#ffdd00 35.0%,#ffcd00 38.3%,#ffcf00 41.7%,#ffdb00 43.3%,#fff300 45.0%,#87f800 48.3%,#49cc11 50.0%,#0082a8 51.7%,#096af7 53.3%,#4579fa 55.0%,#6b87f9 56.7%,#7d95f9 60.0%,#9ab0fa 80.0%,#9db3fa)"></i><i style="left:20.76px;width:2.38px;background:linear-gradient(#829bf9,#6d89f9 13.3%,#6482fa 16.7%,#4077fa 20.0%,#056ef3 23.3%,#007eba 25.0%,#20aa3f 26.7%,#6fee00 28.3%,#99f900 30.0%,#d0f800 31.7%,#fff300 33.3%,#ffdd00 35.0%,#ffcd00 38.3%,#ffcf00 41.7%,#ffdb00 43.3%,#fff300 45.0%,#87f800 48.3%,#49cc11 50.0%,#0082a8 51.7%,#096af7 53.3%,#4579fa 55.0%,#6b87f9 56.7%,#7d95f9 60.0%,#9ab0fa 80.0%,#9db3fa)"></i><i style="left:22.84px;width:2.38px;background:linear-gradient(#829bf9,#6d89f9 13.3%,#6482fa 16.7%,#4077fa 20.0%,#056ef3 23.3%,#007eba 25.0%,#20aa3f 26.7%,#6fee00 28.3%,#99f900 30.0%,#d0f800 31.7%,#fff300 33.3%,#ffdd00 35.0%,#ffcd00 38.3%,#ffcf00 41.7%,#ffdb00 43.3%,#fff300 45.0%,#87f800 48.3%,#49cc11 50.0%,#0082a8 51.7%,#096af7 53.3%,#4579fa 55.0%,#6b87f9 56.7%,#7d95f9 60.0%,#9ab0fa 80.0%,#9db3fa)"></i><i style="left:24.91px;width:2.38px;background:linear-gradient(#829af9,#6d88f9 13.3%,#6382fa 16.7%,#3e77fa 20.0%,#056ef3 23.3%,#007fb5 25.0%,#24ae36 26.7%,#71ef00 28.3%,#9df900 30.0%,#d7f800 31.7%,#ffee00 33.3%,#ffd800 35.0%,#ffc900 38.3%,#ffcb00 41.7%,#ffd600 43.3%,#ffef00 45.0%,#cdf900 46.7%,#8af800 48.3%,#4ed10c 50.0%,#0084a3 51.7%,#086bf6 53.3%,#4378fa 55.0%,#6a87f9 56.7%,#7c95f8 60.0%,#9ab0fa 80.0%,#9db3fa)"></i><i style="left:26.99px;width:2.38px;background:linear-gradient(#829af9,#6b87f9 13.3%,#5e80fa 16.7%,#3875fa 20.0%,#1c6df9 21.7%,#0370f1 23.3%,#0082a9 25.0%,#2fb827 26.7%,#77f100 28.3%,#a8f900 30.0%,#e6f700 31.7%,#ffe300 33.3%,#ffcc00 35.0%,#ffbd00 38.3%,#ffc000 41.7%,#ffca00 43.3%,#ffe300 45.0%,#dcf800 46.7%,#94f900 48.3%,#58da07 50.0%,#008797 51.7%,#066df4 53.3%,#3d76fa 55.0%,#6986fa 56.7%,#7c95f8 60.0%,#9ab0fa 80.0%,#9db3fa)"></i><i style="left:29.07px;width:2.38px;background:linear-gradient(#819af9,#6986f9 13.3%,#597ffa 16.7%,#3273fa 20.0%,#166cf9 21.7%,#0172ef 23.3%,#00859d 25.0%,#3bc21c 26.7%,#7cf400 28.3%,#b3fa00 30.0%,#f5f600 31.7%,#ffd800 33.3%,#ffc200 35.0%,#ffb200 38.3%,#ffb500 41.7%,#ffbf00 43.3%,#ffd800 45.0%,#ebf600 46.7%,#9ef900 48.3%,#61e204 50.0%,#008a8a 51.7%,#046ff2 53.3%,#3775fa 55.0%,#6784fa 56.7%,#7b94f8 60.0%,#9ab0fa 80.0%,#9db3fa)"></i><i style="left:31.14px;width:2.38px;background:linear-gradient(#8199f9,#6d89f9 11.7%,#6482fa 15.0%,#4779fa 18.3%,#146bf8 21.7%,#0073ed 23.3%,#008798 25.0%,#40c618 26.7%,#7ff500 28.3%,#b7fa00 30.0%,#fcf500 31.7%,#ffd300 33.3%,#ffbd00 35.0%,#ffae00 38.3%,#ffb000 41.7%,#ffbb00 43.3%,#ffd300 45.0%,#f1f600 46.7%,#a3f900 48.3%,#65e603 50.0%,#008b85 51.7%,#046ff2 53.3%,#3574fa 55.0%,#6684fa 56.7%,#7b94f8 60.0%,#9ab0fa 80.0%,#9db3fa)"></i><i style="left:33.22px;width:2.38px;background:linear-gradient(#8199f9,#6d89f9 11.7%,#6482fa 15.0%,#4779fa 18.3%,#146bf8 21.7%,#0073ed 23.3%,#008798 25.0%,#40c618 26.7%,#7ff500 28.3%,#b7fa00 30.0%,#fcf500 31.7%,#ffd300 33.3%,#ffbd00 35.0%,#ffae00 38.3%,#ffb000 41.7%,#ffbb00 43.3%,#ffd300 45.0%,#f1f600 46.7%,#a3f900 48.3%,#65e603 50.0%,#008b85 51.7%,#046ff2 53.3%,#3574fa 55.0%,#6684fa 56.7%,#7b94f8 60.0%,#9ab0fa 80.0%,#9db3fa)"></i><i style="left:35.29px;width:2.38px;background:linear-gradient(#8199f9,#6d89f9 11.7%,#6482fa 15.0%,#4779fa 18.3%,#146bf8 21.7%,#0073ed 23.3%,#008798 25.0%,#40c618 26.7%,#7ff500 28.3%,#b7fa00 30.0%,#fcf500 31.7%,#ffd300 33.3%,#ffbd00 35.0%,#ffae00 38.3%,#ffb000 41.7%,#ffbb00 43.3%,#ffd300 45.0%,#f1f600 46.7%,#a3f900 48.3%,#65e603 50.0%,#008b85 51.7%,#046ff2 53.3%,#3574fa 55.0%,#6684fa 56.7%,#7b94f8 60.0%,#9ab0fa 80.0%,#9db3fa)"></i><i style="left:37.37px;width:2.38px;background:linear-gradient(#8199f9,#6d89f9 11.7%,#6482fa 15.0%,#4779fa 18.3%,#146bf8 21.7%,#0073ed 23.3%,#008798 25.0%,#40c618 26.7%,#7ff500 28.3%,#b7fa00 30.0%,#fcf500 31.7%,#ffd300 33.3%,#ffbd00 35.0%,#ffae00 38.3%,#ffb000 41.7%,#ffbb00 43.3%,#ffd300 45.0%,#f1f600 46.7%,#a3f900 48.3%,#65e603 50.0%,#008b85 51.7%,#046ff2 53.3%,#3574fa 55.0%,#6684fa 56.7%,#7b94f8 60.0%,#9ab0fa 80.0%,#9db3fa)"></i><i style="left:39.45px;width:2.38px;background:linear-gradient(#8199f9,#6d89f9 11.7%,#6482fa 15.0%,#4779fa 18.3%,#146bf8 21.7%,#0073ed 23.3%,#008798 25.0%,#40c618 26.7%,#7ff500 28.3%,#b7fa00 30.0%,#fcf500 31.7%,#ffd300 33.3%,#ffbd00 35.0%,#ffae00 38.3%,#ffb000 41.7%,#ffbb00 43.3%,#ffd300 45.0%,#f1f600 46.7%,#a3f900 48.3%,#65e603 50.0%,#008b85 51.7%,#046ff2 53.3%,#3574fa 55.0%,#6684fa 56.7%,#7b94f8 60.0%,#9ab0fa 80.0%,#9db3fa)"></i><i style="left:41.52px;width:2.38px;background:linear-gradient(#819af9,#6986f9 13.3%,#5a7ffa 16.7%,#3173fa 20.0%,#136bf8 21.7%,#0074e9 23.3%,#008892 25.0%,#46ca13 26.7%,#80f500 28.3%,#b6fa00 30.0%,#f7f600 31.7%,#ffda00 33.3%,#ffc600 35.0%,#ffb900 38.3%,#ffbd00 41.7%,#ffc900 43.3%,#ffe500 45.0%,#d4f800 46.7%,#8bf800 48.3%,#4acd0f 50.0%,#0082aa 51.7%,#0a69f8 53.3%,#4679fa 55.0%,#6b87f9 56.7%,#7c95f8 60.0%,#9ab0fa 80.0%,#9db3fa)"></i><i style="left:43.60px;width:2.38px;background:linear-gradient(#829af9,#6c88f9 13.3%,#6081fa 16.7%,#4e7bfa 18.3%,#116bf8 21.7%,#0076e1 23.3%,#008b85 25.0%,#4fd10b 26.7%,#81f600 28.3%,#e5f700 31.7%,#ffec00 33.3%,#ffdd00 35.0%,#ffd500 38.3%,#ffde00 41.7%,#fff000 43.3%,#d4f800 45.0%,#97f900 46.7%,#63e304 48.3%,#028e7e 50.0%,#0271f0 51.7%,#3173fa 53.3%,#6684fa 55.0%,#7b94f8 58.3%,#9ab0fa 78.3%,#9db3fa)"></i><i style="left:45.67px;width:2.38px;background:linear-gradient(#829af9,#6f8af9 13.3%,#6583fa 16.7%,#527dfa 18.3%,#0e6af8 21.7%,#0077d9 23.3%,#049079 25.0%,#52d409 26.7%,#7ff500 28.3%,#cef800 31.7%,#ebf600 33.3%,#faf500 35.0%,#fff400 38.3%,#fbf500 40.0%,#ebf600 41.7%,#c9f900 43.3%,#9bf900 45.0%,#70ef00 46.7%,#1aa54a 48.3%,#0078d5 50.0%,#1e6ef9 51.7%,#5a7ffa 53.3%,#728cf9 55.0%,#829bf9 60.0%,#9bb0fa 78.3%,#9db3fa)"></i><i style="left:47.75px;width:2.38px;background:linear-gradient(#829bf9,#708bf9 13.3%,#6683fa 16.7%,#537dfa 18.3%,#0d6af8 21.7%,#0078d6 23.3%,#069176 25.0%,#52d409 26.7%,#7df400 28.3%,#c3f900 31.7%,#dcf700 33.3%,#e9f700 35.0%,#edf600 38.3%,#e7f700 40.0%,#d4f800 41.7%,#b2fa00 43.3%,#86f800 45.0%,#5adb07 46.7%,#008c81 48.3%,#0172ef 50.0%,#2f72fa 51.7%,#6684fa 53.3%,#768ff8 55.0%,#96acfa 71.7%,#9db3fa)"></i><i style="left:49.83px;width:2.38px;background:linear-gradient(#8099f9,#6d89f9 13.3%,#5c80fa 16.7%,#1e6ef9 20.0%,#0370f1 21.7%,#0081ae 23.3%,#1faa3f 25.0%,#62e304 26.7%,#82f600 28.3%,#bcfa00 31.7%,#d0f800 33.3%,#ddf700 36.7%,#d9f800 40.0%,#cdf900 41.7%,#95f900 45.0%,#75f100 46.7%,#3ac11d 48.3%,#00869b 50.0%,#0370f1 51.7%,#2c72fa 53.3%,#6181fa 55.0%,#728df9 56.7%,#849cf9 63.3%,#9bb1fa 85.0%,#9db3fa)"></i><i style="left:51.90px;width:2.38px;background:linear-gradient(#7d95f9,#6b87f9 11.7%,#6583fa 13.3%,#517cfa 15.0%,#126bf8 18.3%,#0073ee 20.0%,#0081ad 21.7%,#15a056 23.3%,#4ed00c 25.0%,#72f000 26.7%,#99f900 30.0%,#b3fa00 33.3%,#b7fa00 40.0%,#a9f900 43.3%,#85f700 46.7%,#74f000 48.3%,#51d30a 50.0%,#17a250 51.7%,#0081ad 53.3%,#0172ef 55.0%,#1b6df9 56.7%,#4579fa 58.3%,#6784fa 60.0%,#7a93f8 63.3%,#9ab0fa 93.3%,#9cb1fa)"></i><i style="left:53.98px;width:2.38px;background:linear-gradient(#7a93f8,#6986f9 10.0%,#6081fa 11.7%,#0d6af8 16.7%,#0073ed 18.3%,#007fb7 20.0%,#069176 21.7%,#2fb827 23.3%,#5adb07 25.0%,#72f000 26.7%,#99f900 33.3%,#99f900 41.7%,#79f200 48.3%,#6aea01 50.0%,#4ed00c 51.7%,#22ac3a 53.3%,#008a89 55.0%,#007cc4 56.7%,#0370f1 58.3%,#166cf9 60.0%,#5a7ffa 63.3%,#6b88f9 65.0%,#7d96f9 70.0%,#98aefa)"></i><i style="left:56.05px;width:2.38px;background:linear-gradient(#7a93f8,#6c88f9 8.3%,#6683fa 10.0%,#547dfa 11.7%,#1e6ef9 15.0%,#076cf5 16.7%,#0077db 18.3%,#0083a5 20.0%,#0e9964 21.7%,#35bc22 23.3%,#59db07 25.0%,#70ef00 26.7%,#8ef800 33.3%,#8ef800 41.7%,#77f200 48.3%,#6bec01 50.0%,#54d609 51.7%,#31b926 53.3%,#0d9965 55.0%,#0084a3 56.7%,#0078d6 58.3%,#056ef3 60.0%,#1c6df9 61.7%,#5b7ffa 65.0%,#748ef8 68.3%,#859ef9 80.0%,#95acfa)"></i><i style="left:58.13px;width:2.38px;background:linear-gradient(#7a93f8,#6c88f9 8.3%,#6683fa 10.0%,#547dfa 11.7%,#1e6ef9 15.0%,#076cf5 16.7%,#0077db 18.3%,#0083a5 20.0%,#0e9964 21.7%,#35bc22 23.3%,#59db07 25.0%,#70ef00 26.7%,#8ef800 33.3%,#8ef800 41.7%,#77f200 48.3%,#6bec01 50.0%,#54d609 51.7%,#31b926 53.3%,#0e9965 55.0%,#0084a2 56.7%,#0078d6 58.3%,#056ef3 60.0%,#1c6df9 61.7%,#5b7ffa 65.0%,#748ef8 68.3%,#859ef9 80.0%,#95acfa)"></i><i style="left:60.21px;width:2.38px;background:linear-gradient(#7a93f8,#6c88f9 8.3%,#6683fa 10.0%,#547dfa 11.7%,#1e6ef9 15.0%,#076cf5 16.7%,#0077db 18.3%,#0083a5 20.0%,#0e9964 21.7%,#35bc22 23.3%,#59db07 25.0%,#70ef00 26.7%,#8ef800 33.3%,#8ef800 41.7%,#77f200 48.3%,#6cec01 50.0%,#56d708 51.7%,#33bb24 53.3%,#109b61 55.0%,#00859f 56.7%,#0079d2 58.3%,#046ff2 60.0%,#186df9 61.7%,#557efa 65.0%,#6986fa 66.7%,#7b94f8 71.7%,#95acfa)"></i><i style="left:62.28px;width:2.38px;background:linear-gradient(#7a93f8,#6c88f9 8.3%,#6683fa 10.0%,#547dfa 11.7%,#1e6ef9 15.0%,#076cf5 16.7%,#0077db 18.3%,#0083a5 20.0%,#0e9964 21.7%,#35bc22 23.3%,#59db07 25.0%,#70ef00 26.7%,#8ef800 33.3%,#91f800 41.7%,#7bf300 48.3%,#72f000 50.0%,#62e204 51.7%,#48cb11 53.3%,#23ae37 55.0%,#049079 56.7%,#0078d7 60.0%,#046ff2 61.7%,#106bf8 63.3%,#6081fa 70.0%,#7b94f8 80.0%,#93aafa)"></i><i style="left:64.36px;width:2.38px;background:linear-gradient(#7a93f8,#6c88f9 8.3%,#6683fa 10.0%,#547dfa 11.7%,#1e6ef9 15.0%,#076cf5 16.7%,#0077db 18.3%,#0083a5 20.0%,#0e9964 21.7%,#35bc22 23.3%,#5adb07 25.0%,#70ef00 26.7%,#8ef800 33.3%,#91f800 43.3%,#70ef00 51.7%,#5dde06 53.3%,#43c716 55.0%,#23ad38 56.7%,#089372 58.3%,#007cc1 61.7%,#0076df 63.3%,#0370f1 65.0%,#116bf8 68.3%,#507cfa 76.7%,#6985fa 80.0%,#8099f9 88.3%,#92a9fa)"></i><i style="left:66.43px;width:2.38px;background:linear-gradient(#7a93f8,#6c88f9 8.3%,#6683fa 10.0%,#547dfa 11.7%,#1e6ef9 15.0%,#076cf5 16.7%,#0077db 18.3%,#0083a5 20.0%,#0e9964 21.7%,#35bc22 23.3%,#59db07 25.0%,#70ef00 26.7%,#8ef800 33.3%,#91f800 41.7%,#7bf300 48.3%,#72f000 50.0%,#62e204 51.7%,#48cb11 53.3%,#23ae37 55.0%,#049079 56.7%,#0078d7 60.0%,#046ff2 61.7%,#106bf8 63.3%,#6081fa 70.0%,#7b94f8 80.0%,#93aafa)"></i><i style="left:68.51px;width:2.38px;background:linear-gradient(#7a93f8,#6c88f9 8.3%,#6683fa 10.0%,#547dfa 11.7%,#1e6ef9 15.0%,#076cf5 16.7%,#0077db 18.3%,#0083a5 20.0%,#0e9964 21.7%,#35bc22 23.3%,#59db07 25.0%,#70ef00 26.7%,#8ef800 33.3%,#8ef800 41.7%,#77f200 48.3%,#6cec01 50.0%,#56d708 51.7%,#33bb24 53.3%,#109b61 55.0%,#00859f 56.7%,#0079d2 58.3%,#046ff2 60.0%,#186df9 61.7%,#557efa 65.0%,#6986fa 66.7%,#7b94f8 71.7%,#95acfa)"></i><i style="left:70.59px;width:2.38px;background:linear-gradient(#7992f8,#6b87f9 8.3%,#6482fa 10.0%,#3473fa 13.3%,#186df9 15.0%,#046ff2 16.7%,#0079d0 18.3%,#008699 20.0%,#17a252 21.7%,#40c518 23.3%,#61e204 25.0%,#74f100 26.7%,#94f900 33.3%,#93f800 41.7%,#76f100 48.3%,#68e802 50.0%,#4dcf0d 51.7%,#23ae37 53.3%,#008c84 55.0%,#0172ef 58.3%,#0f6af8 60.0%,#517cfa 63.3%,#6885fa 65.0%,#7c95f8 70.0%,#97adfa)"></i><i style="left:72.66px;width:2.38px;background:linear-gradient(#7891f8,#6784fa 8.3%,#5a7ffa 10.0%,#0a69f8 15.0%,#0074eb 16.7%,#007fb6 18.3%,#059178 20.0%,#2db628 21.7%,#58da07 23.3%,#72ef00 25.0%,#9ef900 31.7%,#a5f900 38.3%,#97f900 43.3%,#71ef00 48.3%,#56d708 50.0%,#26b031 51.7%,#008a8a 53.3%,#007aca 55.0%,#056ef3 56.7%,#216ff9 58.3%,#6684fa 61.7%,#7c95f8 66.7%,#9ab0fa)"></i><i style="left:74.74px;width:2.38px;background:linear-gradient(#7690f8,#6281fa 8.3%,#3474fa 11.7%,#056ef3 15.0%,#0079d3 16.7%,#008699 18.3%,#1aa54b 20.0%,#49cc10 21.7%,#6cec01 23.3%,#9af900 28.3%,#b1fa00 33.3%,#b0fa00 40.0%,#9cf900 43.3%,#78f200 46.7%,#5cdd06 48.3%,#25af34 50.0%,#008698 51.7%,#0076e2 53.3%,#106bf8 55.0%,#6482fa 58.3%,#7992f8 61.7%,#9ab0fa 91.7%,#9cb2fa)"></i><i style="left:76.82px;width:2.38px;background:linear-gradient(#758ff8,#6885fa 6.7%,#5e80fa 8.3%,#2f72fa 11.7%,#146cf9 13.3%,#0370f1 15.0%,#007bc8 16.7%,#00898d 18.3%,#23ad38 20.0%,#53d509 21.7%,#71ef00 23.3%,#a1f900 28.3%,#b7fa00 33.3%,#b4fa00 40.0%,#9cf900 43.3%,#72f000 46.7%,#49cc10 48.3%,#0c9769 50.0%,#007cc3 51.7%,#076cf5 53.3%,#5b7ffa 56.7%,#6e8af9 58.3%,#7d95f9 61.7%,#9ab0fa 90.0%,#9db2fa)"></i><i style="left:78.89px;width:2.38px;background:linear-gradient(#758ff8,#6885fa 6.7%,#5e80fa 8.3%,#2f72fa 11.7%,#146cf9 13.3%,#0370f1 15.0%,#007bc8 16.7%,#00898d 18.3%,#23ad38 20.0%,#53d509 21.7%,#71ef00 23.3%,#a1f900 28.3%,#b7fa00 33.3%,#b4fa00 40.0%,#9cf900 43.3%,#72f000 46.7%,#49cc10 48.3%,#0c9769 50.0%,#007cc3 51.7%,#076cf5 53.3%,#5b7ffa 56.7%,#6e8af9 58.3%,#7d95f9 61.7%,#9ab0fa 90.0%,#9db2fa)"></i><i style="left:80.97px;width:2.38px;background:linear-gradient(#758ff8,#6885fa 6.7%,#5e80fa 8.3%,#2f72fa 11.7%,#146cf9 13.3%,#0370f1 15.0%,#007bc8 16.7%,#00898d 18.3%,#23ad38 20.0%,#53d509 21.7%,#71ef00 23.3%,#a1f900 28.3%,#b7fa00 33.3%,#b4fa00 40.0%,#9cf900 43.3%,#72f000 46.7%,#49cc10 48.3%,#0c9769 50.0%,#007cc3 51.7%,#076cf5 53.3%,#5b7ffa 56.7%,#6e8af9 58.3%,#7d95f9 61.7%,#9ab0fa 90.0%,#9db2fa)"></i><i style="left:83.04px;width:2.38px;background:linear-gradient(#758ff8,#6885fa 6.7%,#5e80fa 8.3%,#2f72fa 11.7%,#146cf9 13.3%,#0370f1 15.0%,#007bc8 16.7%,#00898d 18.3%,#23ad38 20.0%,#53d509 21.7%,#71ef00 23.3%,#a1f900 28.3%,#b7fa00 33.3%,#b4fa00 40.0%,#9cf900 43.3%,#72f000 46.7%,#49cc10 48.3%,#0c9769 50.0%,#007cc3 51.7%,#076cf5 53.3%,#5b7ffa 56.7%,#6e8af9 58.3%,#7d95f9 61.7%,#9ab0fa 90.0%,#9db2fa)"></i><i style="left:85.12px;width:2.38px;background:linear-gradient(#758ff8,#6885fa 6.7%,#5e80fa 8.3%,#2f72fa 11.7%,#146cf9 13.3%,#0370f1 15.0%,#007bc8 16.7%,#00898d 18.3%,#23ad38 20.0%,#53d509 21.7%,#71ef00 23.3%,#a1f900 28.3%,#b7fa00 33.3%,#b4fa00 40.0%,#9cf900 43.3%,#72f000 46.7%,#49cc10 48.3%,#0c9769 50.0%,#007cc3 51.7%,#076cf5 53.3%,#5b7ffa 56.7%,#6e8af9 58.3%,#7d95f9 61.7%,#9ab0fa 90.0%,#9db2fa)"></i><i style="left:87.20px;width:2.38px;background:linear-gradient(#758ff8,#6885fa 6.7%,#5e80fa 8.3%,#2f72fa 11.7%,#146cf9 13.3%,#0370f1 15.0%,#007bc8 16.7%,#00898d 18.3%,#23ad38 20.0%,#53d509 21.7%,#71ef00 23.3%,#a1f900 28.3%,#b7fa00 33.3%,#b4fa00 40.0%,#9cf900 43.3%,#72f000 46.7%,#49cc10 48.3%,#0c9769 50.0%,#007cc3 51.7%,#076cf5 53.3%,#5b7ffa 56.7%,#6e8af9 58.3%,#7d95f9 61.7%,#9ab0fa 90.0%,#9db2fa)"></i><i style="left:89.27px;width:2.38px;background:linear-gradient(#758ff8,#6885fa 6.7%,#5e80fa 8.3%,#2f72fa 11.7%,#146cf9 13.3%,#0370f1 15.0%,#007bc8 16.7%,#00898d 18.3%,#23ad38 20.0%,#53d509 21.7%,#71ef00 23.3%,#a1f900 28.3%,#b7fa00 33.3%,#b4fa00 40.0%,#9cf900 43.3%,#72f000 46.7%,#49cc10 48.3%,#0c9769 50.0%,#007cc3 51.7%,#076cf5 53.3%,#5b7ffa 56.7%,#6e8af9 58.3%,#7d95f9 61.7%,#9ab0fa 90.0%,#9db2fa)"></i><i style="left:91.35px;width:2.38px;background:linear-gradient(#758ff8,#6885fa 6.7%,#5e80fa 8.3%,#2f72fa 11.7%,#146cf9 13.3%,#0370f1 15.0%,#007bc8 16.7%,#00898d 18.3%,#23ad38 20.0%,#53d509 21.7%,#71ef00 23.3%,#a1f900 28.3%,#b7fa00 33.3%,#b4fa00 40.0%,#9cf900 43.3%,#72f000 46.7%,#49cc10 48.3%,#0c9769 50.0%,#007cc3 51.7%,#076cf5 53.3%,#5b7ffa 56.7%,#6e8af9 58.3%,#7d95f9 61.7%,#9ab0fa 90.0%,#9db2fa)"></i><i style="left:93.42px;width:2.38px;background:linear-gradient(#758ff8,#6885fa 6.7%,#5e80fa 8.3%,#2f72fa 11.7%,#146cf9 13.3%,#0370f1 15.0%,#007bc8 16.7%,#00898d 18.3%,#23ad38 20.0%,#53d509 21.7%,#71ef00 23.3%,#a1f900 28.3%,#b7fa00 33.3%,#b4fa00 40.0%,#9cf900 43.3%,#72f000 46.7%,#49cc10 48.3%,#0c9769 50.0%,#007cc3 51.7%,#076cf5 53.3%,#5b7ffa 56.7%,#6e8af9 58.3%,#7d95f9 61.7%,#9ab0fa 90.0%,#9db2fa)"></i><i style="left:95.50px;width:2.38px;background:linear-gradient(#758ff8,#6885fa 6.7%,#5e80fa 8.3%,#2f72fa 11.7%,#146cf9 13.3%,#0370f1 15.0%,#007bc8 16.7%,#00898d 18.3%,#23ad38 20.0%,#53d509 21.7%,#71ef00 23.3%,#a1f900 28.3%,#b7fa00 33.3%,#b4fa00 40.0%,#9cf900 43.3%,#72f000 46.7%,#49cc10 48.3%,#0c9769 50.0%,#007cc3 51.7%,#076cf5 53.3%,#5b7ffa 56.7%,#6e8af9 58.3%,#7d95f9 61.7%,#9ab0fa 90.0%,#9db2fa)"></i><i style="left:97.58px;width:2.38px;background:linear-gradient(#758ff8,#6885fa 6.7%,#5e80fa 8.3%,#2f72fa 11.7%,#146cf9 13.3%,#0370f1 15.0%,#007bc8 16.7%,#00898d 18.3%,#23ad38 20.0%,#53d509 21.7%,#71ef00 23.3%,#a1f900 28.3%,#b7fa00 33.3%,#b4fa00 40.0%,#9cf900 43.3%,#72f000 46.7%,#49cc10 48.3%,#0c9769 50.0%,#007cc3 51.7%,#076cf5 53.3%,#5b7ffa 56.7%,#6e8af9 58.3%,#7d95f9 61.7%,#9ab0fa 90.0%,#9db2fa)"></i><i style="left:99.65px;width:2.38px;background:linear-gradient(#758ff8,#6885fa 6.7%,#5e80fa 8.3%,#2f72fa 11.7%,#146cf9 13.3%,#0370f1 15.0%,#007bc8 16.7%,#00898d 18.3%,#23ad38 20.0%,#53d509 21.7%,#71ef00 23.3%,#a1f900 28.3%,#b7fa00 33.3%,#b4fa00 40.0%,#9cf900 43.3%,#72f000 46.7%,#49cc10 48.3%,#0c9769 50.0%,#007cc3 51.7%,#076cf5 53.3%,#5b7ffa 56.7%,#6e8af9 58.3%,#7d95f9 61.7%,#9ab0fa 90.0%,#9db2fa)"></i></div></div>
<div class="p" style="left:447.20px;top:386.40px"><div class="q" style="left:-3.11px;width:101.73px"><i style="left:0.00px;width:2.38px;background:linear-gradient(#6d89f9,#5f80fa 6.7%,#3875fa 15.0%,#2871fa 16.7%,#0f6af8 18.3%,#0073ec 20.0%,#0083a6 21.7%,#1da843 23.3%,#57d808 25.0%,#75f100 26.7%,#96f900 31.7%,#9bf900 38.3%,#90f800 41.7%,#6cec01 45.0%,#29b32c 46.7%,#007fb8 48.3%,#0d6af8 50.0%,#4779fa 51.7%,#6986fa 53.3%,#7c95f8 58.3%,#9ab0fa 80.0%,#9db3fa)"></i><i style="left:2.08px;width:2.38px;background:linear-gradient(#6d89f9,#5f80fa 6.7%,#3875fa 15.0%,#2871fa 16.7%,#0f6af8 18.3%,#0073ec 20.0%,#0083a6 21.7%,#1da843 23.3%,#57d808 25.0%,#75f100 26.7%,#96f900 31.7%,#9bf900 38.3%,#90f800 41.7%,#6cec01 45.0%,#29b32c 46.7%,#007fb8 48.3%,#0d6af8 50.0%,#4779fa 51.7%,#6986fa 53.3%,#7c95f8 58.3%,#9ab0fa 80.0%,#9db3fa)"></i><i style="left:4.15px;width:2.38px;background:linear-gradient(#6d89f9,#5f80fa 6.7%,#3875fa 15.0%,#2871fa 16.7%,#0f6af8 18.3%,#0073ec 20.0%,#0083a6 21.7%,#1da843 23.3%,#57d808 25.0%,#75f100 26.7%,#96f900 31.7%,#9bf900 38.3%,#90f800 41.7%,#6cec01 45.0%,#29b32c 46.7%,#007fb8 48.3%,#0d6af8 50.0%,#4779fa 51.7%,#6986fa 53.3%,#7c95f8 58.3%,#9ab0fa 80.0%,#9db3fa)"></i><i style="left:6.23px;width:2.38px;background:linear-gradient(#6d89f9,#5f80fa 6.7%,#3875fa 15.0%,#2871fa 16.7%,#0f6af8 18.3%,#0073ec 20.0%,#0083a6 21.7%,#1da843 23.3%,#57d808 25.0%,#75f100 26.7%,#96f900 31.7%,#9bf900 38.3%,#90f800 41.7%,#6cec01 45.0%,#29b32c 46.7%,#007fb8 48.3%,#0d6af8 50.0%,#4779fa 51.7%,#6986fa 53.3%,#7c95f8 58.3%,#9ab0fa 80.0%,#9db3fa)"></i><i style="left:8.30px;width:2.38px;background:linear-gradient(#6d89f9,#5f80fa 6.7%,#3875fa 15.0%,#2871fa 16.7%,#0f6af8 18.3%,#0073ec 20.0%,#0083a6 21.7%,#1da843 23.3%,#57d808 25.0%,#75f100 26.7%,#96f900 31.7%,#9bf900 38.3%,#90f800 41.7%,#6cec01 45.0%,#29b32c 46.7%,#007fb8 48.3%,#0d6af8 50.0%,#4779fa 51.7%,#6986fa 53.3%,#7c95f8 58.3%,#9ab0fa 80.0%,#9db3fa)"></i><i style="left:10.38px;width:2.38px;background:linear-gradient(#6d89f9,#5f80fa 6.7%,#3875fa 15.0%,#2871fa 16.7%,#0f6af8 18.3%,#0073ec 20.0%,#0083a6 21.7%,#1da843 23.3%,#57d808 25.0%,#75f100 26.7%,#96f900 31.7%,#9bf900 38.3%,#90f800 41.7%,#6cec01 45.0%,#29b32c 46.7%,#007fb8 48.3%,#0d6af8 50.0%,#4779fa 51.7%,#6986fa 53.3%,#7c95f8 58.3%,#9ab0fa 80.0%,#9db3fa)"></i><i style="left:12.46px;width:2.38px;background:linear-gradient(#6d89f9,#5f80fa 6.7%,#3875fa 15.0%,#2871fa 16.7%,#0f6af8 18.3%,#0073ec 20.0%,#0083a6 21.7%,#1da843 23.3%,#57d808 25.0%,#75f100 26.7%,#96f900 31.7%,#9bf900 38.3%,#90f800 41.7%,#6cec01 45.0%,#29b32c 46.7%,#007fb8 48.3%,#0d6af8 50.0%,#4779fa 51.7%,#6986fa 53.3%,#7c95f8 58.3%,#9ab0fa 80.0%,#9db3fa)"></i><i style="left:14.53px;width:2.38px;background:linear-gradient(#6d89f9,#5f80fa 6.7%,#3875fa 15.0%,#2871fa 16.7%,#0f6af8 18.3%,#0073ec 20.0%,#0083a6 21.7%,#1da843 23.3%,#57d808 25.0%,#75f100 26.7%,#96f900 31.7%,#9bf900 38.3%,#90f800 41.7%,#6ded00 45.0%,#2ab32b 46.7%,#007fb7 48.3%,#0c69f8 50.0%,#4679fa 51.7%,#6885fa 53.3%,#7b94f8 58.3%,#9bb1fa 81.7%,#9db3fa)"></i><i style="left:16.61px;width:2.38px;background:linear-gradient(#6d89f9,#5f80fa 6.7%,#3875fa 15.0%,#2871fa 16.7%,#0f6af8 18.3%,#0073ec 20.0%,#0083a6 21.7%,#1da843 23.3%,#57d808 25.0%,#75f100 26.7%,#96f900 31.7%,#98f900 40.0%,#82f600 43.3%,#6fee00 45.0%,#2fb827 46.7%,#0081ad 48.3%,#086bf6 50.0%,#3774fa 51.7%,#5b7ffa 53.3%,#6d89f9 56.7%,#9ab0fa 81.7%,#9db3fa)"></i><i style="left:18.68px;width:2.38px;background:linear-gradient(#6d89f9,#5f80fa 6.7%,#3875fa 15.0%,#2871fa 16.7%,#0f6af8 18.3%,#0073ec 20.0%,#0083a6 21.7%,#1da843 23.3%,#57d808 25.0%,#75f100 26.7%,#96f900 31.7%,#99f900 40.0%,#83f700 43.3%,#70ef00 45.0%,#37be20 46.7%,#0084a0 48.3%,#046ff2 50.0%,#4278fa 53.3%,#577efa 56.7%,#8199f9 70.0%,#9bb1fa 85.0%,#9db3fa)"></i><i style="left:20.76px;width:2.38px;background:linear-gradient(#6d89f9,#5f80fa 6.7%,#3875fa 15.0%,#2871fa 16.7%,#0f6af8 18.3%,#0073ec 20.0%,#0083a6 21.7%,#1da843 23.3%,#57d808 25.0%,#75f100 26.7%,#96f900 31.7%,#98f900 40.0%,#82f600 43.3%,#6fee00 45.0%,#2fb827 46.7%,#0081ad 48.3%,#086bf6 50.0%,#3774fa 51.7%,#5b7ffa 53.3%,#6d89f9 56.7%,#9ab0fa 81.7%,#9db3fa)"></i><i style="left:22.84px;width:2.38px;background:linear-gradient(#6d89f9,#5f80fa 6.7%,#3875fa 15.0%,#2871fa 16.7%,#0f6af8 18.3%,#0073ec 20.0%,#0083a6 21.7%,#1da843 23.3%,#57d808 25.0%,#75f100 26.7%,#96f900 31.7%,#9bf900 38.3%,#90f800 41.7%,#6ded00 45.0%,#2ab32b 46.7%,#007fb7 48.3%,#0c69f8 50.0%,#4679fa 51.7%,#6885fa 53.3%,#7b94f8 58.3%,#9bb1fa 81.7%,#9db3fa)"></i><i style="left:24.91px;width:2.38px;background:linear-gradient(#6d89f9,#5d80fa 6.7%,#3674fa 15.0%,#2770f9 16.7%,#0e6af8 18.3%,#0074eb 20.0%,#0083a5 21.7%,#1faa40 23.3%,#59da07 25.0%,#76f100 26.7%,#9af900 31.7%,#9ff900 38.3%,#94f900 41.7%,#71ef00 45.0%,#33ba24 46.7%,#0081ad 48.3%,#096af7 50.0%,#4278fa 51.7%,#6885fa 53.3%,#7b94f8 58.3%,#9ab0fa 80.0%,#9db3fa)"></i><i style="left:26.99px;width:2.38px;background:linear-gradient(#6b88f9,#597ffa 6.7%,#3273fa 15.0%,#246ff9 16.7%,#0c69f8 18.3%,#0074e8 20.0%,#0084a1 21.7%,#23ad38 23.3%,#5edf05 25.0%,#7af300 26.7%,#9bf900 30.0%,#aaf900 35.0%,#a7f900 40.0%,#a0f900 41.7%,#79f200 45.0%,#49cd10 46.7%,#008894 48.3%,#056ef3 50.0%,#6482fa 53.3%,#7a93f8 58.3%,#9ab0fa 80.0%,#9db3fa)"></i><i style="left:29.07px;width:2.38px;background:linear-gradient(#6a87f9,#5c80fa 5.0%,#2e72fa 15.0%,#216ff9 16.7%,#0a69f8 18.3%,#0075e6 20.0%,#00859e 21.7%,#26b031 23.3%,#63e304 25.0%,#7ef400 26.7%,#a4f900 30.0%,#b2fa00 33.3%,#b2fa00 40.0%,#abf900 41.7%,#9cf900 43.3%,#81f600 45.0%,#5bdd06 46.7%,#069176 48.3%,#0073ee 50.0%,#2b71fa 51.7%,#5c80fa 53.3%,#6c88f9 55.0%,#8098f9 61.7%,#9ab0fa 81.7%,#9db3fa)"></i><i style="left:31.14px;width:2.38px;background:linear-gradient(#6a86f9,#5b7ffa 5.0%,#2d72fa 15.0%,#1f6ef9 16.7%,#096af7 18.3%,#0075e5 20.0%,#00859d 21.7%,#27b12f 23.3%,#64e503 25.0%,#7ff500 26.7%,#a7f900 30.0%,#b6fa00 33.3%,#b7fa00 40.0%,#b0fa00 41.7%,#a1f900 43.3%,#85f700 45.0%,#62e304 46.7%,#0d9866 48.3%,#0075e7 50.0%,#2770f9 51.7%,#587efa 53.3%,#6b87f9 55.0%,#7f98f9 61.7%,#9ab0fa 81.7%,#9db3fa)"></i><i style="left:33.22px;width:2.38px;background:linear-gradient(#6a86f9,#5b7ffa 5.0%,#2d72fa 15.0%,#1f6ef9 16.7%,#096af7 18.3%,#0075e5 20.0%,#00859d 21.7%,#27b12f 23.3%,#64e503 25.0%,#7ff500 26.7%,#a7f900 30.0%,#b6fa00 33.3%,#b7fa00 40.0%,#b0fa00 41.7%,#a1f900 43.3%,#85f700 45.0%,#62e304 46.7%,#0d9866 48.3%,#0075e7 50.0%,#2770f9 51.7%,#587efa 53.3%,#6b87f9 55.0%,#7f98f9 61.7%,#9ab0fa 81.7%,#9db3fa)"></i><i style="left:35.29px;width:2.38px;background:linear-gradient(#6a86f9,#5b7ffa 5.0%,#2d72fa 15.0%,#1f6ef9 16.7%,#096af7 18.3%,#0075e5 20.0%,#00859d 21.7%,#27b12f 23.3%,#64e503 25.0%,#7ff500 26.7%,#a7f900 30.0%,#b6fa00 33.3%,#b7fa00 40.0%,#b0fa00 41.7%,#a1f900 43.3%,#85f700 45.0%,#62e304 46.7%,#0d9866 48.3%,#0075e7 50.0%,#2770f9 51.7%,#587efa 53.3%,#6b87f9 55.0%,#7f98f9 61.7%,#9ab0fa 81.7%,#9db3fa)"></i><i style="left:37.37px;width:2.38px;background:linear-gradient(#6a86f9,#5b7ffa 5.0%,#2d72fa 15.0%,#1f6ef9 16.7%,#096af7 18.3%,#0075e5 20.0%,#00859d 21.7%,#27b12f 23.3%,#64e503 25.0%,#7ff500 26.7%,#a7f900 30.0%,#b6fa00 33.3%,#b7fa00 40.0%,#b0fa00 41.7%,#a1f900 43.3%,#85f700 45.0%,#62e304 46.7%,#0d9866 48.3%,#0075e7 50.0%,#2770f9 51.7%,#587efa 53.3%,#6b87f9 55.0%,#7f98f9 61.7%,#9ab0fa 81.7%,#9db3fa)"></i><i style="left:39.45px;width:2.38px;background:linear-gradient(#6a86f9,#5b7ffa 5.0%,#2d72fa 15.0%,#1f6ef9 16.7%,#096af7 18.3%,#0075e5 20.0%,#00859d 21.7%,#27b12f 23.3%,#64e503 25.0%,#7ff500 26.7%,#a7f900 30.0%,#b6fa00 33.3%,#b7fa00 40.0%,#b0fa00 41.7%,#a1f900 43.3%,#85f700 45.0%,#62e304 46.7%,#0d9866 48.3%,#0075e7 50.0%,#2770f9 51.7%,#587efa 53.3%,#6b87f9 55.0%,#7f98f9 61.7%,#9ab0fa 81.7%,#9db3fa)"></i><i style="left:41.52px;width:2.38px;background:linear-gradient(#6a86f9,#5b7ffa 5.0%,#2d72fa 15.0%,#1f6ef9 16.7%,#096af7 18.3%,#0075e5 20.0%,#00859d 21.7%,#27b12f 23.3%,#64e503 25.0%,#7ff500 26.7%,#a7f900 30.0%,#b6fa00 33.3%,#b7fa00 40.0%,#b0fa00 41.7%,#a1f900 43.3%,#85f700 45.0%,#62e304 46.7%,#0d9866 48.3%,#0075e7 50.0%,#2770f9 51.7%,#587efa 53.3%,#6b87f9 55.0%,#7f98f9 61.7%,#9ab0fa 81.7%,#9db3fa)"></i><i style="left:43.60px;width:2.38px;background:linear-gradient(#6a86f9,#5b7ffa 5.0%,#2d72fa 15.0%,#1f6ef9 16.7%,#096af7 18.3%,#0075e5 20.0%,#00859d 21.7%,#27b12f 23.3%,#64e503 25.0%,#7ff500 26.7%,#a7f900 30.0%,#b6fa00 33.3%,#b7fa00 40.0%,#b0fa00 41.7%,#a1f900 43.3%,#85f700 45.0%,#62e304 46.7%,#0d9866 48.3%,#0075e7 50.0%,#2770f9 51.7%,#587efa 53.3%,#6b87f9 55.0%,#7f98f9 61.7%,#9ab0fa 81.7%,#9db3fa)"></i><i style="left:45.67px;width:2.38px;background:linear-gradient(#6a87f9,#5c80fa 5.0%,#2e72fa 15.0%,#216ff9 16.7%,#0a69f8 18.3%,#0075e6 20.0%,#00859e 21.7%,#26b031 23.3%,#63e304 25.0%,#7ef400 26.7%,#a4f900 30.0%,#b2fa00 33.3%,#b2fa00 40.0%,#abf900 41.7%,#9cf900 43.3%,#81f600 45.0%,#5bdd06 46.7%,#069176 48.3%,#0073ee 50.0%,#2b71fa 51.7%,#5c80fa 53.3%,#6c88f9 55.0%,#8098f9 61.7%,#9ab0fa 81.7%,#9db3fa)"></i><i style="left:47.75px;width:2.38px;background:linear-gradient(#6b88f9,#597ffa 6.7%,#3273fa 15.0%,#246ff9 16.7%,#0c69f8 18.3%,#0074e8 20.0%,#0084a1 21.7%,#23ad38 23.3%,#5edf05 25.0%,#7af300 26.7%,#9bf900 30.0%,#aaf900 35.0%,#a7f900 40.0%,#a0f900 41.7%,#79f200 45.0%,#49cd10 46.7%,#008894 48.3%,#056ef3 50.0%,#6482fa 53.3%,#7a93f8 58.3%,#9ab0fa 80.0%,#9db3fa)"></i><i style="left:49.83px;width:2.38px;background:linear-gradient(#6d89f9,#5d80fa 6.7%,#3674fa 15.0%,#2770f9 16.7%,#0e6af8 18.3%,#0074eb 20.0%,#0083a5 21.7%,#1faa40 23.3%,#59da07 25.0%,#76f100 26.7%,#9af900 31.7%,#9ff900 38.3%,#94f900 41.7%,#71ef00 45.0%,#33ba24 46.7%,#0081ad 48.3%,#096af7 50.0%,#4278fa 51.7%,#6885fa 53.3%,#7b94f8 58.3%,#9ab0fa 80.0%,#9db3fa)"></i><i style="left:51.90px;width:2.38px;background:linear-gradient(#6d89f9,#5f80fa 6.7%,#3875fa 15.0%,#2871fa 16.7%,#0f6af8 18.3%,#0073ec 20.0%,#0083a6 21.7%,#1da843 23.3%,#57d808 25.0%,#75f100 26.7%,#96f900 31.7%,#9bf900 38.3%,#90f800 41.7%,#6cec01 45.0%,#29b32c 46.7%,#007fb8 48.3%,#0d6af8 50.0%,#4779fa 51.7%,#6986fa 53.3%,#7c95f8 58.3%,#9ab0fa 80.0%,#9db3fa)"></i><i style="left:53.98px;width:2.38px;background:linear-gradient(#6e8af9,#5c80fa 8.3%,#3b76fa 15.0%,#2a71fa 16.7%,#0f6af8 18.3%,#0074ea 20.0%,#0083a5 21.7%,#1da745 23.3%,#54d609 25.0%,#72f000 26.7%,#8cf800 31.7%,#8ef800 40.0%,#7ef500 43.3%,#6fee00 45.0%,#3fc419 46.7%,#008a8b 48.3%,#0073ee 50.0%,#2670f9 51.7%,#587efa 53.3%,#6c88f9 55.0%,#7f97f9 61.7%,#9bb0fa 85.0%,#9db3fa)"></i><i style="left:56.05px;width:2.38px;background:linear-gradient(#718cf9,#5f80fa 10.0%,#507cfa 13.3%,#4278fa 15.0%,#0e6af8 18.3%,#0074e7 20.0%,#0084a4 21.7%,#19a34d 23.3%,#48cc11 25.0%,#65e603 26.7%,#79f200 30.0%,#7cf400 40.0%,#74f000 43.3%,#68e902 45.0%,#4fd10b 46.7%,#1faa40 48.3%,#00859d 50.0%,#0074e8 51.7%,#186cf9 53.3%,#4579fa 55.0%,#6684fa 56.7%,#7a93f8 61.7%,#9ab0fa 93.3%,#9cb2fa)"></i><i style="left:58.13px;width:2.38px;background:linear-gradient(#748ef8,#6281fa 11.7%,#487afa 15.0%,#0e6af8 18.3%,#0075e7 20.0%,#0083a8 21.7%,#109c5f 23.3%,#35bd21 25.0%,#53d509 26.7%,#69e902 30.0%,#6eee00 38.3%,#62e304 43.3%,#58d907 45.0%,#45c914 46.7%,#26b031 48.3%,#069275 50.0%,#0074ec 53.3%,#116bf8 55.0%,#5a7ffa 58.3%,#6a87f9 60.0%,#7b94f8 66.7%,#99affa)"></i><i style="left:60.21px;width:2.38px;background:linear-gradient(#758ff8,#6583fa 11.7%,#5c80fa 13.3%,#4b7afa 15.0%,#0e6af8 18.3%,#0074e7 20.0%,#0082ab 21.7%,#0c9769 23.3%,#2cb529 25.0%,#48cc11 26.7%,#5edf05 30.0%,#62e304 40.0%,#54d509 45.0%,#45c914 46.7%,#2eb728 48.3%,#15a056 50.0%,#00898f 51.7%,#0073ee 55.0%,#0a69f8 56.7%,#3d76fa 60.0%,#5d80fa 63.3%,#7c95f8 75.0%,#98aefa)"></i><i style="left:62.28px;width:2.38px;background:linear-gradient(#758ff8,#6583fa 11.7%,#5c80fa 13.3%,#4b7afa 15.0%,#0e6af8 18.3%,#0074e7 20.0%,#0082ab 21.7%,#0c9769 23.3%,#2cb529 25.0%,#48cc11 26.7%,#5edf05 30.0%,#62e304 41.7%,#51d30a 46.7%,#3ec41a 48.3%,#25af33 50.0%,#0c9868 51.7%,#00869a 53.3%,#0074ea 56.7%,#0f6af8 60.0%,#3e77fa 68.3%,#6785fa 73.3%,#819af9 81.7%,#97aefa)"></i><i style="left:64.36px;width:2.38px;background:linear-gradient(#758ff8,#6583fa 11.7%,#5c80fa 13.3%,#4b7afa 15.0%,#0e6af8 18.3%,#0074e7 20.0%,#0082ab 21.7%,#0c9769 23.3%,#2cb529 25.0%,#48cc11 26.7%,#5edf05 30.0%,#62e304 40.0%,#54d509 45.0%,#45c914 46.7%,#2eb728 48.3%,#15a056 50.0%,#00898f 51.7%,#0073ee 55.0%,#0a69f8 56.7%,#3d76fa 60.0%,#5d80fa 63.3%,#7c95f8 75.0%,#98aefa)"></i><i style="left:66.43px;width:2.38px;background:linear-gradient(#758ff8,#6583fa 11.7%,#5c80fa 13.3%,#4b7afa 15.0%,#0e6af8 18.3%,#0074e7 20.0%,#0082ab 21.7%,#0c9769 23.3%,#2cb529 25.0%,#48cc11 26.7%,#5edf05 30.0%,#60e105 40.0%,#4fd10b 45.0%,#3cc21c 46.7%,#23ad37 48.3%,#089470 50.0%,#0083a6 51.7%,#0077db 53.3%,#076cf5 55.0%,#6583fa 60.0%,#7891f8 65.0%,#98aefa)"></i><i style="left:68.51px;width:2.38px;background:linear-gradient(#758ff8,#6583fa 11.7%,#5c80fa 13.3%,#4b7afa 15.0%,#0e6af8 18.3%,#0074e7 20.0%,#0082ab 21.7%,#0c9769 23.3%,#2cb529 25.0%,#48cc11 26.7%,#5edf05 30.0%,#60e105 40.0%,#4ed00c 45.0%,#3bc11c 46.7%,#22ad39 48.3%,#079373 50.0%,#0076dd 53.3%,#086bf6 55.0%,#4c7bfa 58.3%,#6784fa 60.0%,#7a92f8 65.0%,#98aefa)"></i><i style="left:70.59px;width:2.38px;background:linear-gradient(#758ff8,#6583fa 11.7%,#5c80fa 13.3%,#4b7afa 15.0%,#0e6af8 18.3%,#0074e7 20.0%,#0082ab 21.7%,#0c9769 23.3%,#2cb529 25.0%,#48cc11 26.7%,#5edf05 30.0%,#60e105 40.0%,#4ed00c 45.0%,#3bc11c 46.7%,#22ad39 48.3%,#079373 50.0%,#0077dd 53.3%,#086bf6 55.0%,#4b7bfa 58.3%,#6684fa 60.0%,#7992f8 65.0%,#98aefa)"></i><i style="left:72.66px;width:2.38px;background:linear-gradient(#758ff8,#6583fa 11.7%,#5c80fa 13.3%,#4b7afa 15.0%,#0e6af8 18.3%,#0074e7 20.0%,#0082ab 21.7%,#0c9769 23.3%,#2cb529 25.0%,#48cc11 26.7%,#5edf05 30.0%,#60e105 40.0%,#4fd10b 45.0%,#3dc31a 46.7%,#25af34 48.3%,#0b966c 50.0%,#0084a2 51.7%,#0078d5 53.3%,#066df4 55.0%,#4077fa 58.3%,#5e80fa 60.0%,#718cf9 63.3%,#88a0fa 81.7%,#98aefa)"></i><i style="left:74.74px;width:2.38px;background:linear-gradient(#758ff8,#6583fa 11.7%,#5c80fa 13.3%,#4b7afa 15.0%,#0e6af8 18.3%,#0074e7 20.0%,#0082ab 21.7%,#0c9769 23.3%,#2cb529 25.0%,#48cc11 26.7%,#5edf05 30.0%,#61e204 40.0%,#53d509 45.0%,#45c914 46.7%,#2fb827 48.3%,#17a252 50.0%,#008a89 51.7%,#0075e5 55.0%,#076cf5 56.7%,#557efa 63.3%,#6382fa 65.0%,#7f98f9 75.0%,#98aefa)"></i><i style="left:76.82px;width:2.38px;background:linear-gradient(#758ff8,#6583fa 11.7%,#5c80fa 13.3%,#4b7afa 15.0%,#0e6af8 18.3%,#0074e7 20.0%,#0082ab 21.7%,#0c9769 23.3%,#2cb529 25.0%,#48cc11 26.7%,#5edf05 30.0%,#62e304 40.0%,#56d808 45.0%,#4bce0e 46.7%,#38bf1f 48.3%,#21ab3c 50.0%,#099470 51.7%,#00859e 53.3%,#0073ed 56.7%,#136bf8 60.0%,#6181fa 68.3%,#7d95f9 75.0%,#98aefa)"></i><i style="left:78.89px;width:2.38px;background:linear-gradient(#738ef8,#6281fa 11.7%,#4779fa 15.0%,#0b69f8 18.3%,#0075e3 20.0%,#0083a4 21.7%,#129d5c 23.3%,#36bd21 25.0%,#53d409 26.7%,#67e802 30.0%,#6beb01 40.0%,#5adb07 45.0%,#4bce0e 46.7%,#30b926 48.3%,#139e5a 50.0%,#008797 51.7%,#007acb 53.3%,#0370f1 55.0%,#126bf8 56.7%,#4f7cfa 61.7%,#6683fa 65.0%,#8199f9 75.0%,#99affa)"></i><i style="left:80.97px;width:2.38px;background:linear-gradient(#708bf9,#5f80fa 10.0%,#4f7cfa 13.3%,#3f77fa 15.0%,#096af7 18.3%,#0077d9 20.0%,#008796 21.7%,#1faa3f 23.3%,#4ccf0d 25.0%,#65e603 26.7%,#77f100 30.0%,#79f200 40.0%,#71ef00 43.3%,#63e404 45.0%,#49cc11 46.7%,#1ca747 48.3%,#00859e 50.0%,#0075e5 51.7%,#136bf8 53.3%,#5f80fa 56.7%,#718cf9 60.0%,#98aefa 90.0%,#9cb1fa)"></i><i style="left:83.04px;width:2.38px;background:linear-gradient(#6d89f9,#5b7ffa 8.3%,#4579fa 13.3%,#206ff9 16.7%,#076cf5 18.3%,#0079d1 20.0%,#008a89 21.7%,#2db629 23.3%,#5cdd06 25.0%,#73f000 26.7%,#86f800 31.7%,#85f700 40.0%,#78f200 43.3%,#65e503 45.0%,#32ba24 46.7%,#008794 48.3%,#0172ef 50.0%,#2570f9 51.7%,#567efa 53.3%,#6c88f9 55.0%,#7e97f9 61.7%,#9bb0fa 86.7%,#9db3fa)"></i><i style="left:85.12px;width:2.38px;background:linear-gradient(#6c88f9,#5e80fa 6.7%,#4178fa 13.3%,#1e6ef9 16.7%,#066df4 18.3%,#007ace 20.0%,#008b84 21.7%,#32ba24 23.3%,#61e204 25.0%,#77f100 26.7%,#8ef800 31.7%,#8df800 40.0%,#7af300 43.3%,#60e105 45.0%,#1fa940 46.7%,#007dbe 48.3%,#0c6af8 50.0%,#4579fa 51.7%,#6885fa 53.3%,#7b94f8 58.3%,#9ab0fa 81.7%,#9db3fa)"></i><i style="left:87.20px;width:2.38px;background:linear-gradient(#6c88f9,#5e80fa 6.7%,#4178fa 13.3%,#1e6ef9 16.7%,#066df4 18.3%,#007ace 20.0%,#008b84 21.7%,#32ba24 23.3%,#61e204 25.0%,#77f100 26.7%,#8ef800 31.7%,#8df800 40.0%,#7af300 43.3%,#60e105 45.0%,#1fa940 46.7%,#007dbe 48.3%,#0c6af8 50.0%,#4579fa 51.7%,#6885fa 53.3%,#7b94f8 58.3%,#9ab0fa 81.7%,#9db3fa)"></i><i style="left:89.27px;width:2.38px;background:linear-gradient(#6c88f9,#5e80fa 6.7%,#4178fa 13.3%,#1e6ef9 16.7%,#066df4 18.3%,#007ace 20.0%,#008b84 21.7%,#32ba24 23.3%,#61e204 25.0%,#77f100 26.7%,#8ef800 31.7%,#8df800 40.0%,#7af300 43.3%,#60e105 45.0%,#1fa940 46.7%,#007dbe 48.3%,#0c6af8 50.0%,#4579fa 51.7%,#6885fa 53.3%,#7b94f8 58.3%,#9ab0fa 81.7%,#9db3fa)"></i><i style="left:91.35px;width:2.38px;background:linear-gradient(#6c88f9,#5e80fa 6.7%,#4178fa 13.3%,#1e6ef9 16.7%,#066df4 18.3%,#007ace 20.0%,#008b84 21.7%,#32ba24 23.3%,#61e204 25.0%,#77f100 26.7%,#8ef800 31.7%,#8df800 40.0%,#7af300 43.3%,#60e105 45.0%,#1fa940 46.7%,#007dbe 48.3%,#0c6af8 50.0%,#4579fa 51.7%,#6885fa 53.3%,#7b94f8 58.3%,#9ab0fa 81.7%,#9db3fa)"></i><i style="left:93.42px;width:2.38px;background:linear-gradient(#6c88f9,#5e80fa 6.7%,#4178fa 13.3%,#1e6ef9 16.7%,#066df4 18.3%,#007ace 20.0%,#008b84 21.7%,#32ba24 23.3%,#61e204 25.0%,#77f100 26.7%,#8ef800 31.7%,#8df800 40.0%,#7af300 43.3%,#60e105 45.0%,#1fa940 46.7%,#007dbe 48.3%,#0c6af8 50.0%,#4579fa 51.7%,#6885fa 53.3%,#7b94f8 58.3%,#9ab0fa 81.7%,#9db3fa)"></i><i style="left:95.50px;width:2.38px;background:linear-gradient(#6c88f9,#5e80fa 6.7%,#4178fa 13.3%,#1e6ef9 16.7%,#066df4 18.3%,#007ace 20.0%,#008b84 21.7%,#32ba24 23.3%,#61e204 25.0%,#77f100 26.7%,#8ef800 31.7%,#8df800 40.0%,#7af300 43.3%,#60e105 45.0%,#1fa940 46.7%,#007dbe 48.3%,#0c6af8 50.0%,#4579fa 51.7%,#6885fa 53.3%,#7b94f8 58.3%,#9ab0fa 81.7%,#9db3fa)"></i><i style="left:97.58px;width:2.38px;background:linear-gradient(#6c88f9,#5e80fa 6.7%,#4178fa 13.3%,#1e6ef9 16.7%,#066df4 18.3%,#007ace 20.0%,#008b84 21.7%,#32ba24 23.3%,#61e204 25.0%,#77f100 26.7%,#8ef800 31.7%,#8df800 40.0%,#7af300 43.3%,#60e105 45.0%,#1fa940 46.7%,#007dbe 48.3%,#0c6af8 50.0%,#4579fa 51.7%,#6885fa 53.3%,#7b94f8 58.3%,#9ab0fa 81.7%,#9db3fa)"></i><i style="left:99.65px;width:2.38px;background:linear-gradient(#6c88f9,#5e80fa 6.7%,#4178fa 13.3%,#1e6ef9 16.7%,#066df4 18.3%,#007ace 20.0%,#008b84 21.7%,#32ba24 23.3%,#61e204 25.0%,#77f100 26.7%,#8ef800 31.7%,#8df800 40.0%,#7af300 43.3%,#60e105 45.0%,#1fa940 46.7%,#007dbe 48.3%,#0c6af8 50.0%,#4579fa 51.7%,#6885fa 53.3%,#7b94f8 58.3%,#9ab0fa 81.7%,#9db3fa)"></i></div></div><div style="position:absolute;left:196.00px;top:505.40px;width:174.40px;height:9.60px;background:linear-gradient(to right,#d7e1fc 0.00%,#b8c8fb 2.70%,#a0b6fa 5.41%,#92a8fa 8.11%,#869ffa 10.81%,#7f98f9 13.51%,#7891f8 16.22%,#6b87f9 18.92%,#537dfa 21.62%,#3273fa 24.32%,#176cf9 27.03%,#066df4 29.73%,#0075e3 32.43%,#007dbe 35.14%,#008796 37.84%,#0d9966 40.54%,#28b22d 43.24%,#49cd10 45.95%,#62e304 48.65%,#74f000 51.35%,#81f600 54.05%,#91f800 56.76%,#a5f900 59.46%,#b9fa00 62.16%,#d3f800 64.86%,#edf600 67.57%,#fff000 70.27%,#ffde00 72.97%,#ffcd00 75.68%,#ffbd00 78.38%,#ffad00 81.08%,#ff9d00 83.78%,#ff8c00 86.49%,#ff7b00 89.19%,#ff6b00 91.89%,#ff5a00 94.59%,#f84406 97.30%,#f02d0c 100.00%)"></div><svg width="550" height="545" viewBox="0 0 550 545"><line x1="42.20" y1="56.00" x2="137.70" y2="56.00" stroke="#000" stroke-width="1.35" stroke-dasharray="4.2 1.6"/><polyline points="42.20,51.58 46.35,51.58 50.50,51.58 54.66,51.58 58.81,51.58 62.96,51.58 67.11,51.58 71.27,51.58 75.42,51.58 79.57,69.27 83.72,51.58 87.87,69.27 92.03,78.11 96.18,78.11 100.33,51.58 104.48,78.11 108.63,51.58 112.79,51.58 116.94,51.58 121.09,51.58 125.24,51.58 129.40,51.58 133.55,51.58 137.70,51.58" fill="none" stroke="#000" stroke-width="1.25" stroke-linejoin="miter"/><rect x="42.20" y="16.20" width="95.50" height="79.60" fill="none" stroke="#4a4f60" stroke-width="0.9"/><path d="M42.20 91.38h-2.6M42.20 73.69h-2.6M42.20 56.00h-2.6M42.20 38.31h-2.6M42.20 20.62h-2.6M42.20 95.80v2.6M62.96 95.80v2.6M83.72 95.80v2.6M104.48 95.80v2.6M125.24 95.80v2.6" stroke="#222" stroke-width="0.8"/><text x="0" y="0" font-size="10.50" text-anchor="end" transform="translate(37.20 24.92) scale(1 1.120)">0.4</text><text x="0" y="0" font-size="10.50" text-anchor="end" transform="translate(37.20 42.61) scale(1 1.120)">0.2</text><text x="0" y="0" font-size="10.50" text-anchor="end" transform="translate(37.20 60.30) scale(1 1.120)">0</text><text x="0" y="0" font-size="10.50" text-anchor="end" transform="translate(37.20 77.99) scale(1 1.120)">−0.2</text><text x="0" y="0" font-size="10.50" text-anchor="end" transform="translate(37.20 95.68) scale(1 1.120)">−0.4</text><text x="0" y="0" font-size="10.50" text-anchor="middle" transform="translate(42.20 107.80) scale(1 1.120)">00</text><text x="0" y="0" font-size="10.50" text-anchor="middle" transform="translate(62.96 107.80) scale(1 1.120)">05</text><text x="0" y="0" font-size="10.50" text-anchor="middle" transform="translate(83.72 107.80) scale(1 1.120)">10</text><text x="0" y="0" font-size="10.50" text-anchor="middle" transform="translate(104.48 107.80) scale(1 1.120)">15</text><text x="0" y="0" font-size="10.50" text-anchor="middle" transform="translate(125.24 107.80) scale(1 1.120)">20</text><text x="0" y="0" font-size="11.00" text-anchor="middle" transform="translate(89.95 119.70) scale(1 1.140)">Local time</text><text x="0" y="0" font-size="11.00" text-anchor="middle" transform="translate(14.30 56.00) rotate(-90) scale(1 1.000)">VWS (m/s)</text><text x="0" y="0" font-size="11.00" text-anchor="middle" transform="translate(89.95 13.70) scale(1 1.080)">(a1) Spr. - NL</text><line x1="177.20" y1="56.00" x2="272.70" y2="56.00" stroke="#000" stroke-width="1.35" stroke-dasharray="4.2 1.6"/><polyline points="177.20,42.73 181.35,42.73 185.50,42.73 189.66,42.73 193.81,42.73 197.96,42.73 202.11,42.73 206.27,42.73 210.42,51.58 214.57,51.58 218.72,51.58 222.87,51.58 227.03,51.58 231.18,64.84 235.33,78.11 239.48,51.58 243.63,69.27 247.79,51.58 251.94,51.58 256.09,51.58 260.24,42.73 264.40,33.89 268.55,42.73 272.70,51.58" fill="none" stroke="#000" stroke-width="1.25" stroke-linejoin="miter"/><rect x="177.20" y="16.20" width="95.50" height="79.60" fill="none" stroke="#4a4f60" stroke-width="0.9"/><path d="M177.20 91.38h-2.6M177.20 73.69h-2.6M177.20 56.00h-2.6M177.20 38.31h-2.6M177.20 20.62h-2.6M177.20 95.80v2.6M197.96 95.80v2.6M218.72 95.80v2.6M239.48 95.80v2.6M260.24 95.80v2.6" stroke="#222" stroke-width="0.8"/><text x="0" y="0" font-size="10.50" text-anchor="end" transform="translate(172.20 24.92) scale(1 1.120)">0.4</text><text x="0" y="0" font-size="10.50" text-anchor="end" transform="translate(172.20 42.61) scale(1 1.120)">0.2</text><text x="0" y="0" font-size="10.50" text-anchor="end" transform="translate(172.20 60.30) scale(1 1.120)">0</text><text x="0" y="0" font-size="10.50" text-anchor="end" transform="translate(172.20 77.99) scale(1 1.120)">−0.2</text><text x="0" y="0" font-size="10.50" text-anchor="end" transform="translate(172.20 95.68) scale(1 1.120)">−0.4</text><text x="0" y="0" font-size="10.50" text-anchor="middle" transform="translate(177.20 107.80) scale(1 1.120)">00</text><text x="0" y="0" font-size="10.50" text-anchor="middle" transform="translate(197.96 107.80) scale(1 1.120)">05</text><text x="0" y="0" font-size="10.50" text-anchor="middle" transform="translate(218.72 107.80) scale(1 1.120)">10</text><text x="0" y="0" font-size="10.50" text-anchor="middle" transform="translate(239.48 107.80) scale(1 1.120)">15</text><text x="0" y="0" font-size="10.50" text-anchor="middle" transform="translate(260.24 107.80) scale(1 1.120)">20</text><text x="0" y="0" font-size="11.00" text-anchor="middle" transform="translate(224.95 119.70) scale(1 1.140)">Local time</text><text x="0" y="0" font-size="11.00" text-anchor="middle" transform="translate(149.30 56.00) rotate(-90) scale(1 1.000)">VWS (m/s)</text><text x="0" y="0" font-size="11.00" text-anchor="middle" transform="translate(224.95 13.70) scale(1 1.080)">(a2) Spr. - LL</text><line x1="312.20" y1="56.00" x2="407.70" y2="56.00" stroke="#000" stroke-width="1.35" stroke-dasharray="4.2 1.6"/><polyline points="312.20,42.73 316.35,42.73 320.50,42.73 324.66,42.73 328.81,42.73 332.96,42.73 337.11,42.73 341.27,42.73 345.42,51.58 349.57,51.58 353.72,42.73 357.87,51.58 362.03,51.58 366.18,51.58 370.33,51.58 374.48,51.58 378.63,51.58 382.79,51.58 386.94,51.58 391.09,42.73 395.24,51.58 399.40,42.73 403.55,42.73 407.70,42.73" fill="none" stroke="#000" stroke-width="1.25" stroke-linejoin="miter"/><rect x="312.20" y="16.20" width="95.50" height="79.60" fill="none" stroke="#4a4f60" stroke-width="0.9"/><path d="M312.20 91.38h-2.6M312.20 73.69h-2.6M312.20 56.00h-2.6M312.20 38.31h-2.6M312.20 20.62h-2.6M312.20 95.80v2.6M332.96 95.80v2.6M353.72 95.80v2.6M374.48 95.80v2.6M395.24 95.80v2.6" stroke="#222" stroke-width="0.8"/><text x="0" y="0" font-size="10.50" text-anchor="end" transform="translate(307.20 24.92) scale(1 1.120)">0.4</text><text x="0" y="0" font-size="10.50" text-anchor="end" transform="translate(307.20 42.61) scale(1 1.120)">0.2</text><text x="0" y="0" font-size="10.50" text-anchor="end" transform="translate(307.20 60.30) scale(1 1.120)">0</text><text x="0" y="0" font-size="10.50" text-anchor="end" transform="translate(307.20 77.99) scale(1 1.120)">−0.2</text><text x="0" y="0" font-size="10.50" text-anchor="end" transform="translate(307.20 95.68) scale(1 1.120)">−0.4</text><text x="0" y="0" font-size="10.50" text-anchor="middle" transform="translate(312.20 107.80) scale(1 1.120)">00</text><text x="0" y="0" font-size="10.50" text-anchor="middle" transform="translate(332.96 107.80) scale(1 1.120)">05</text><text x="0" y="0" font-size="10.50" text-anchor="middle" transform="translate(353.72 107.80) scale(1 1.120)">10</text><text x="0" y="0" font-size="10.50" text-anchor="middle" transform="translate(374.48 107.80) scale(1 1.120)">15</text><text x="0" y="0" font-size="10.50" text-anchor="middle" transform="translate(395.24 107.80) scale(1 1.120)">20</text><text x="0" y="0" font-size="11.00" text-anchor="middle" transform="translate(359.95 119.70) scale(1 1.140)">Local time</text><text x="0" y="0" font-size="11.00" text-anchor="middle" transform="translate(284.30 56.00) rotate(-90) scale(1 1.000)">VWS (m/s)</text><text x="0" y="0" font-size="11.00" text-anchor="middle" transform="translate(359.95 13.70) scale(1 1.080)">(a3) Spr. - ML</text><line x1="447.20" y1="56.00" x2="542.70" y2="56.00" stroke="#000" stroke-width="1.35" stroke-dasharray="4.2 1.6"/><polyline points="447.20,42.73 451.35,42.73 455.50,42.73 459.66,42.73 463.81,42.73 467.96,42.73 472.11,42.73 476.27,42.73 480.42,51.58 484.57,42.73 488.72,51.58 492.87,42.73 497.03,51.58 501.18,51.58 505.33,51.58 509.48,51.58 513.63,51.58 517.79,33.89 521.94,51.58 526.09,51.58 530.24,51.58 534.40,51.58 538.55,42.73 542.70,42.73" fill="none" stroke="#000" stroke-width="1.25" stroke-linejoin="miter"/><rect x="447.20" y="16.20" width="95.50" height="79.60" fill="none" stroke="#4a4f60" stroke-width="0.9"/><path d="M447.20 91.38h-2.6M447.20 73.69h-2.6M447.20 56.00h-2.6M447.20 38.31h-2.6M447.20 20.62h-2.6M447.20 95.80v2.6M467.96 95.80v2.6M488.72 95.80v2.6M509.48 95.80v2.6M530.24 95.80v2.6" stroke="#222" stroke-width="0.8"/><text x="0" y="0" font-size="10.50" text-anchor="end" transform="translate(442.20 24.92) scale(1 1.120)">0.4</text><text x="0" y="0" font-size="10.50" text-anchor="end" transform="translate(442.20 42.61) scale(1 1.120)">0.2</text><text x="0" y="0" font-size="10.50" text-anchor="end" transform="translate(442.20 60.30) scale(1 1.120)">0</text><text x="0" y="0" font-size="10.50" text-anchor="end" transform="translate(442.20 77.99) scale(1 1.120)">−0.2</text><text x="0" y="0" font-size="10.50" text-anchor="end" transform="translate(442.20 95.68) scale(1 1.120)">−0.4</text><text x="0" y="0" font-size="10.50" text-anchor="middle" transform="translate(447.20 107.80) scale(1 1.120)">00</text><text x="0" y="0" font-size="10.50" text-anchor="middle" transform="translate(467.96 107.80) scale(1 1.120)">05</text><text x="0" y="0" font-size="10.50" text-anchor="middle" transform="translate(488.72 107.80) scale(1 1.120)">10</text><text x="0" y="0" font-size="10.50" text-anchor="middle" transform="translate(509.48 107.80) scale(1 1.120)">15</text><text x="0" y="0" font-size="10.50" text-anchor="middle" transform="translate(530.24 107.80) scale(1 1.120)">20</text><text x="0" y="0" font-size="11.00" text-anchor="middle" transform="translate(494.95 119.70) scale(1 1.140)">Local time</text><text x="0" y="0" font-size="11.00" text-anchor="middle" transform="translate(419.30 56.00) rotate(-90) scale(1 1.000)">VWS (m/s)</text><text x="0" y="0" font-size="11.00" text-anchor="middle" transform="translate(494.95 13.70) scale(1 1.080)">(a4) Spr. - UL</text><line x1="42.20" y1="179.40" x2="137.70" y2="179.40" stroke="#000" stroke-width="1.35" stroke-dasharray="4.2 1.6"/><polyline points="42.20,174.98 46.35,174.98 50.50,174.98 54.66,174.98 58.81,174.98 62.96,174.98 67.11,174.98 71.27,174.98 75.42,174.98 79.57,192.67 83.72,201.51 87.87,188.24 92.03,174.98 96.18,174.98 100.33,174.98 104.48,174.98 108.63,192.67 112.79,174.98 116.94,174.98 121.09,174.98 125.24,174.98 129.40,174.98 133.55,166.13 137.70,174.98" fill="none" stroke="#000" stroke-width="1.25" stroke-linejoin="miter"/><rect x="42.20" y="139.60" width="95.50" height="79.60" fill="none" stroke="#4a4f60" stroke-width="0.9"/><path d="M42.20 214.78h-2.6M42.20 197.09h-2.6M42.20 179.40h-2.6M42.20 161.71h-2.6M42.20 144.02h-2.6M42.20 219.20v2.6M62.96 219.20v2.6M83.72 219.20v2.6M104.48 219.20v2.6M125.24 219.20v2.6" stroke="#222" stroke-width="0.8"/><text x="0" y="0" font-size="10.50" text-anchor="end" transform="translate(37.20 148.32) scale(1 1.120)">0.4</text><text x="0" y="0" font-size="10.50" text-anchor="end" transform="translate(37.20 166.01) scale(1 1.120)">0.2</text><text x="0" y="0" font-size="10.50" text-anchor="end" transform="translate(37.20 183.70) scale(1 1.120)">0</text><text x="0" y="0" font-size="10.50" text-anchor="end" transform="translate(37.20 201.39) scale(1 1.120)">−0.2</text><text x="0" y="0" font-size="10.50" text-anchor="end" transform="translate(37.20 219.08) scale(1 1.120)">−0.4</text><text x="0" y="0" font-size="10.50" text-anchor="middle" transform="translate(42.20 231.20) scale(1 1.120)">00</text><text x="0" y="0" font-size="10.50" text-anchor="middle" transform="translate(62.96 231.20) scale(1 1.120)">05</text><text x="0" y="0" font-size="10.50" text-anchor="middle" transform="translate(83.72 231.20) scale(1 1.120)">10</text><text x="0" y="0" font-size="10.50" text-anchor="middle" transform="translate(104.48 231.20) scale(1 1.120)">15</text><text x="0" y="0" font-size="10.50" text-anchor="middle" transform="translate(125.24 231.20) scale(1 1.120)">20</text><text x="0" y="0" font-size="11.00" text-anchor="middle" transform="translate(89.95 243.10) scale(1 1.140)">Local time</text><text x="0" y="0" font-size="11.00" text-anchor="middle" transform="translate(14.30 179.40) rotate(-90) scale(1 1.000)">VWS (m/s)</text><text x="0" y="0" font-size="11.00" text-anchor="middle" transform="translate(89.95 137.10) scale(1 1.080)">(b1) Sum. - NL</text><line x1="177.20" y1="179.40" x2="272.70" y2="179.40" stroke="#000" stroke-width="1.35" stroke-dasharray="4.2 1.6"/><polyline points="177.20,166.13 181.35,166.13 185.50,166.13 189.66,166.13 193.81,166.13 197.96,166.13 202.11,166.13 206.27,166.13 210.42,174.98 214.57,174.98 218.72,174.98 222.87,174.98 227.03,174.98 231.18,174.98 235.33,166.13 239.48,174.98 243.63,174.98 247.79,174.98 251.94,174.98 256.09,174.98 260.24,157.29 264.40,157.29 268.55,157.29 272.70,166.13" fill="none" stroke="#000" stroke-width="1.25" stroke-linejoin="miter"/><rect x="177.20" y="139.60" width="95.50" height="79.60" fill="none" stroke="#4a4f60" stroke-width="0.9"/><path d="M177.20 214.78h-2.6M177.20 197.09h-2.6M177.20 179.40h-2.6M177.20 161.71h-2.6M177.20 144.02h-2.6M177.20 219.20v2.6M197.96 219.20v2.6M218.72 219.20v2.6M239.48 219.20v2.6M260.24 219.20v2.6" stroke="#222" stroke-width="0.8"/><text x="0" y="0" font-size="10.50" text-anchor="end" transform="translate(172.20 148.32) scale(1 1.120)">0.4</text><text x="0" y="0" font-size="10.50" text-anchor="end" transform="translate(172.20 166.01) scale(1 1.120)">0.2</text><text x="0" y="0" font-size="10.50" text-anchor="end" transform="translate(172.20 183.70) scale(1 1.120)">0</text><text x="0" y="0" font-size="10.50" text-anchor="end" transform="translate(172.20 201.39) scale(1 1.120)">−0.2</text><text x="0" y="0" font-size="10.50" text-anchor="end" transform="translate(172.20 219.08) scale(1 1.120)">−0.4</text><text x="0" y="0" font-size="10.50" text-anchor="middle" transform="translate(177.20 231.20) scale(1 1.120)">00</text><text x="0" y="0" font-size="10.50" text-anchor="middle" transform="translate(197.96 231.20) scale(1 1.120)">05</text><text x="0" y="0" font-size="10.50" text-anchor="middle" transform="translate(218.72 231.20) scale(1 1.120)">10</text><text x="0" y="0" font-size="10.50" text-anchor="middle" transform="translate(239.48 231.20) scale(1 1.120)">15</text><text x="0" y="0" font-size="10.50" text-anchor="middle" transform="translate(260.24 231.20) scale(1 1.120)">20</text><text x="0" y="0" font-size="11.00" text-anchor="middle" transform="translate(224.95 243.10) scale(1 1.140)">Local time</text><text x="0" y="0" font-size="11.00" text-anchor="middle" transform="translate(149.30 179.40) rotate(-90) scale(1 1.000)">VWS (m/s)</text><text x="0" y="0" font-size="11.00" text-anchor="middle" transform="translate(224.95 137.10) scale(1 1.080)">(b2) Sum. - LL</text><line x1="312.20" y1="179.40" x2="407.70" y2="179.40" stroke="#000" stroke-width="1.35" stroke-dasharray="4.2 1.6"/><polyline points="312.20,166.13 316.35,166.13 320.50,166.13 324.66,166.13 328.81,166.13 332.96,166.13 337.11,166.13 341.27,166.13 345.42,166.13 349.57,166.13 353.72,166.13 357.87,174.98 362.03,174.98 366.18,174.98 370.33,174.98 374.48,174.98 378.63,174.98 382.79,174.98 386.94,174.98 391.09,166.13 395.24,166.13 399.40,174.98 403.55,157.29 407.70,166.13" fill="none" stroke="#000" stroke-width="1.25" stroke-linejoin="miter"/><rect x="312.20" y="139.60" width="95.50" height="79.60" fill="none" stroke="#4a4f60" stroke-width="0.9"/><path d="M312.20 214.78h-2.6M312.20 197.09h-2.6M312.20 179.40h-2.6M312.20 161.71h-2.6M312.20 144.02h-2.6M312.20 219.20v2.6M332.96 219.20v2.6M353.72 219.20v2.6M374.48 219.20v2.6M395.24 219.20v2.6" stroke="#222" stroke-width="0.8"/><text x="0" y="0" font-size="10.50" text-anchor="end" transform="translate(307.20 148.32) scale(1 1.120)">0.4</text><text x="0" y="0" font-size="10.50" text-anchor="end" transform="translate(307.20 166.01) scale(1 1.120)">0.2</text><text x="0" y="0" font-size="10.50" text-anchor="end" transform="translate(307.20 183.70) scale(1 1.120)">0</text><text x="0" y="0" font-size="10.50" text-anchor="end" transform="translate(307.20 201.39) scale(1 1.120)">−0.2</text><text x="0" y="0" font-size="10.50" text-anchor="end" transform="translate(307.20 219.08) scale(1 1.120)">−0.4</text><text x="0" y="0" font-size="10.50" text-anchor="middle" transform="translate(312.20 231.20) scale(1 1.120)">00</text><text x="0" y="0" font-size="10.50" text-anchor="middle" transform="translate(332.96 231.20) scale(1 1.120)">05</text><text x="0" y="0" font-size="10.50" text-anchor="middle" transform="translate(353.72 231.20) scale(1 1.120)">10</text><text x="0" y="0" font-size="10.50" text-anchor="middle" transform="translate(374.48 231.20) scale(1 1.120)">15</text><text x="0" y="0" font-size="10.50" text-anchor="middle" transform="translate(395.24 231.20) scale(1 1.120)">20</text><text x="0" y="0" font-size="11.00" text-anchor="middle" transform="translate(359.95 243.10) scale(1 1.140)">Local time</text><text x="0" y="0" font-size="11.00" text-anchor="middle" transform="translate(284.30 179.40) rotate(-90) scale(1 1.000)">VWS (m/s)</text><text x="0" y="0" font-size="11.00" text-anchor="middle" transform="translate(359.95 137.10) scale(1 1.080)">(b3) Sum. - ML</text><line x1="447.20" y1="179.40" x2="542.70" y2="179.40" stroke="#000" stroke-width="1.35" stroke-dasharray="4.2 1.6"/><polyline points="447.20,166.13 451.35,166.13 455.50,166.13 459.66,166.13 463.81,166.13 467.96,166.13 472.11,166.13 476.27,166.13 480.42,166.13 484.57,166.13 488.72,166.13 492.87,166.13 497.03,166.13 501.18,166.13 505.33,174.98 509.48,166.13 513.63,166.13 517.79,157.29 521.94,166.13 526.09,157.29 530.24,157.29 534.40,166.13 538.55,166.13 542.70,166.13" fill="none" stroke="#000" stroke-width="1.25" stroke-linejoin="miter"/><rect x="447.20" y="139.60" width="95.50" height="79.60" fill="none" stroke="#4a4f60" stroke-width="0.9"/><path d="M447.20 214.78h-2.6M447.20 197.09h-2.6M447.20 179.40h-2.6M447.20 161.71h-2.6M447.20 144.02h-2.6M447.20 219.20v2.6M467.96 219.20v2.6M488.72 219.20v2.6M509.48 219.20v2.6M530.24 219.20v2.6" stroke="#222" stroke-width="0.8"/><text x="0" y="0" font-size="10.50" text-anchor="end" transform="translate(442.20 148.32) scale(1 1.120)">0.4</text><text x="0" y="0" font-size="10.50" text-anchor="end" transform="translate(442.20 166.01) scale(1 1.120)">0.2</text><text x="0" y="0" font-size="10.50" text-anchor="end" transform="translate(442.20 183.70) scale(1 1.120)">0</text><text x="0" y="0" font-size="10.50" text-anchor="end" transform="translate(442.20 201.39) scale(1 1.120)">−0.2</text><text x="0" y="0" font-size="10.50" text-anchor="end" transform="translate(442.20 219.08) scale(1 1.120)">−0.4</text><text x="0" y="0" font-size="10.50" text-anchor="middle" transform="translate(447.20 231.20) scale(1 1.120)">00</text><text x="0" y="0" font-size="10.50" text-anchor="middle" transform="translate(467.96 231.20) scale(1 1.120)">05</text><text x="0" y="0" font-size="10.50" text-anchor="middle" transform="translate(488.72 231.20) scale(1 1.120)">10</text><text x="0" y="0" font-size="10.50" text-anchor="middle" transform="translate(509.48 231.20) scale(1 1.120)">15</text><text x="0" y="0" font-size="10.50" text-anchor="middle" transform="translate(530.24 231.20) scale(1 1.120)">20</text><text x="0" y="0" font-size="11.00" text-anchor="middle" transform="translate(494.95 243.10) scale(1 1.140)">Local time</text><text x="0" y="0" font-size="11.00" text-anchor="middle" transform="translate(419.30 179.40) rotate(-90) scale(1 1.000)">VWS (m/s)</text><text x="0" y="0" font-size="11.00" text-anchor="middle" transform="translate(494.95 137.10) scale(1 1.080)">(b4) Sum. - UL</text><line x1="42.20" y1="302.80" x2="137.70" y2="302.80" stroke="#000" stroke-width="1.35" stroke-dasharray="4.2 1.6"/><polyline points="42.20,298.38 46.35,298.38 50.50,298.38 54.66,298.38 58.81,298.38 62.96,298.38 67.11,298.38 71.27,298.38 75.42,298.38 79.57,298.38 83.72,324.91 87.87,316.07 92.03,324.91 96.18,324.91 100.33,298.38 104.48,298.38 108.63,298.38 112.79,298.38 116.94,298.38 121.09,298.38 125.24,298.38 129.40,298.38 133.55,298.38 137.70,298.38" fill="none" stroke="#000" stroke-width="1.25" stroke-linejoin="miter"/><rect x="42.20" y="263.00" width="95.50" height="79.60" fill="none" stroke="#4a4f60" stroke-width="0.9"/><path d="M42.20 338.18h-2.6M42.20 320.49h-2.6M42.20 302.80h-2.6M42.20 285.11h-2.6M42.20 267.42h-2.6M42.20 342.60v2.6M62.96 342.60v2.6M83.72 342.60v2.6M104.48 342.60v2.6M125.24 342.60v2.6" stroke="#222" stroke-width="0.8"/><text x="0" y="0" font-size="10.50" text-anchor="end" transform="translate(37.20 271.72) scale(1 1.120)">0.4</text><text x="0" y="0" font-size="10.50" text-anchor="end" transform="translate(37.20 289.41) scale(1 1.120)">0.2</text><text x="0" y="0" font-size="10.50" text-anchor="end" transform="translate(37.20 307.10) scale(1 1.120)">0</text><text x="0" y="0" font-size="10.50" text-anchor="end" transform="translate(37.20 324.79) scale(1 1.120)">−0.2</text><text x="0" y="0" font-size="10.50" text-anchor="end" transform="translate(37.20 342.48) scale(1 1.120)">−0.4</text><text x="0" y="0" font-size="10.50" text-anchor="middle" transform="translate(42.20 354.60) scale(1 1.120)">00</text><text x="0" y="0" font-size="10.50" text-anchor="middle" transform="translate(62.96 354.60) scale(1 1.120)">05</text><text x="0" y="0" font-size="10.50" text-anchor="middle" transform="translate(83.72 354.60) scale(1 1.120)">10</text><text x="0" y="0" font-size="10.50" text-anchor="middle" transform="translate(104.48 354.60) scale(1 1.120)">15</text><text x="0" y="0" font-size="10.50" text-anchor="middle" transform="translate(125.24 354.60) scale(1 1.120)">20</text><text x="0" y="0" font-size="11.00" text-anchor="middle" transform="translate(89.95 366.50) scale(1 1.140)">Local time</text><text x="0" y="0" font-size="11.00" text-anchor="middle" transform="translate(14.30 302.80) rotate(-90) scale(1 1.000)">VWS (m/s)</text><text x="0" y="0" font-size="11.00" text-anchor="middle" transform="translate(89.95 260.50) scale(1 1.080)">(c1) Aut. - NL</text><line x1="177.20" y1="302.80" x2="272.70" y2="302.80" stroke="#000" stroke-width="1.35" stroke-dasharray="4.2 1.6"/><polyline points="177.20,289.53 181.35,289.53 185.50,289.53 189.66,289.53 193.81,289.53 197.96,289.53 202.11,289.53 206.27,289.53 210.42,298.38 214.57,298.38 218.72,298.38 222.87,298.38 227.03,298.38 231.18,298.38 235.33,298.38 239.48,298.38 243.63,298.38 247.79,289.53 251.94,289.53 256.09,289.53 260.24,280.69 264.40,289.53 268.55,289.53 272.70,289.53" fill="none" stroke="#000" stroke-width="1.25" stroke-linejoin="miter"/><rect x="177.20" y="263.00" width="95.50" height="79.60" fill="none" stroke="#4a4f60" stroke-width="0.9"/><path d="M177.20 338.18h-2.6M177.20 320.49h-2.6M177.20 302.80h-2.6M177.20 285.11h-2.6M177.20 267.42h-2.6M177.20 342.60v2.6M197.96 342.60v2.6M218.72 342.60v2.6M239.48 342.60v2.6M260.24 342.60v2.6" stroke="#222" stroke-width="0.8"/><text x="0" y="0" font-size="10.50" text-anchor="end" transform="translate(172.20 271.72) scale(1 1.120)">0.4</text><text x="0" y="0" font-size="10.50" text-anchor="end" transform="translate(172.20 289.41) scale(1 1.120)">0.2</text><text x="0" y="0" font-size="10.50" text-anchor="end" transform="translate(172.20 307.10) scale(1 1.120)">0</text><text x="0" y="0" font-size="10.50" text-anchor="end" transform="translate(172.20 324.79) scale(1 1.120)">−0.2</text><text x="0" y="0" font-size="10.50" text-anchor="end" transform="translate(172.20 342.48) scale(1 1.120)">−0.4</text><text x="0" y="0" font-size="10.50" text-anchor="middle" transform="translate(177.20 354.60) scale(1 1.120)">00</text><text x="0" y="0" font-size="10.50" text-anchor="middle" transform="translate(197.96 354.60) scale(1 1.120)">05</text><text x="0" y="0" font-size="10.50" text-anchor="middle" transform="translate(218.72 354.60) scale(1 1.120)">10</text><text x="0" y="0" font-size="10.50" text-anchor="middle" transform="translate(239.48 354.60) scale(1 1.120)">15</text><text x="0" y="0" font-size="10.50" text-anchor="middle" transform="translate(260.24 354.60) scale(1 1.120)">20</text><text x="0" y="0" font-size="11.00" text-anchor="middle" transform="translate(224.95 366.50) scale(1 1.140)">Local time</text><text x="0" y="0" font-size="11.00" text-anchor="middle" transform="translate(149.30 302.80) rotate(-90) scale(1 1.000)">VWS (m/s)</text><text x="0" y="0" font-size="11.00" text-anchor="middle" transform="translate(224.95 260.50) scale(1 1.080)">(c2) Aut. - LL</text><line x1="312.20" y1="302.80" x2="407.70" y2="302.80" stroke="#000" stroke-width="1.35" stroke-dasharray="4.2 1.6"/><polyline points="312.20,289.53 316.35,289.53 320.50,298.38 324.66,289.53 328.81,289.53 332.96,289.53 337.11,289.53 341.27,289.53 345.42,289.53 349.57,289.53 353.72,289.53 357.87,298.38 362.03,298.38 366.18,298.38 370.33,298.38 374.48,298.38 378.63,298.38 382.79,298.38 386.94,289.53 391.09,289.53 395.24,289.53 399.40,298.38 403.55,289.53 407.70,289.53" fill="none" stroke="#000" stroke-width="1.25" stroke-linejoin="miter"/><rect x="312.20" y="263.00" width="95.50" height="79.60" fill="none" stroke="#4a4f60" stroke-width="0.9"/><path d="M312.20 338.18h-2.6M312.20 320.49h-2.6M312.20 302.80h-2.6M312.20 285.11h-2.6M312.20 267.42h-2.6M312.20 342.60v2.6M332.96 342.60v2.6M353.72 342.60v2.6M374.48 342.60v2.6M395.24 342.60v2.6" stroke="#222" stroke-width="0.8"/><text x="0" y="0" font-size="10.50" text-anchor="end" transform="translate(307.20 271.72) scale(1 1.120)">0.4</text><text x="0" y="0" font-size="10.50" text-anchor="end" transform="translate(307.20 289.41) scale(1 1.120)">0.2</text><text x="0" y="0" font-size="10.50" text-anchor="end" transform="translate(307.20 307.10) scale(1 1.120)">0</text><text x="0" y="0" font-size="10.50" text-anchor="end" transform="translate(307.20 324.79) scale(1 1.120)">−0.2</text><text x="0" y="0" font-size="10.50" text-anchor="end" transform="translate(307.20 342.48) scale(1 1.120)">−0.4</text><text x="0" y="0" font-size="10.50" text-anchor="middle" transform="translate(312.20 354.60) scale(1 1.120)">00</text><text x="0" y="0" font-size="10.50" text-anchor="middle" transform="translate(332.96 354.60) scale(1 1.120)">05</text><text x="0" y="0" font-size="10.50" text-anchor="middle" transform="translate(353.72 354.60) scale(1 1.120)">10</text><text x="0" y="0" font-size="10.50" text-anchor="middle" transform="translate(374.48 354.60) scale(1 1.120)">15</text><text x="0" y="0" font-size="10.50" text-anchor="middle" transform="translate(395.24 354.60) scale(1 1.120)">20</text><text x="0" y="0" font-size="11.00" text-anchor="middle" transform="translate(359.95 366.50) scale(1 1.140)">Local time</text><text x="0" y="0" font-size="11.00" text-anchor="middle" transform="translate(284.30 302.80) rotate(-90) scale(1 1.000)">VWS (m/s)</text><text x="0" y="0" font-size="11.00" text-anchor="middle" transform="translate(359.95 260.50) scale(1 1.080)">(c3) Aut. - ML</text><line x1="447.20" y1="302.80" x2="542.70" y2="302.80" stroke="#000" stroke-width="1.35" stroke-dasharray="4.2 1.6"/><polyline points="447.20,289.53 451.35,289.53 455.50,289.53 459.66,298.38 463.81,289.53 467.96,289.53 472.11,298.38 476.27,289.53 480.42,298.38 484.57,298.38 488.72,289.53 492.87,298.38 497.03,298.38 501.18,298.38 505.33,298.38 509.48,298.38 513.63,289.53 517.79,292.19 521.94,298.38 526.09,289.53 530.24,289.53 534.40,289.53 538.55,289.53 542.70,289.53" fill="none" stroke="#000" stroke-width="1.25" stroke-linejoin="miter"/><rect x="447.20" y="263.00" width="95.50" height="79.60" fill="none" stroke="#4a4f60" stroke-width="0.9"/><path d="M447.20 338.18h-2.6M447.20 320.49h-2.6M447.20 302.80h-2.6M447.20 285.11h-2.6M447.20 267.42h-2.6M447.20 342.60v2.6M467.96 342.60v2.6M488.72 342.60v2.6M509.48 342.60v2.6M530.24 342.60v2.6" stroke="#222" stroke-width="0.8"/><text x="0" y="0" font-size="10.50" text-anchor="end" transform="translate(442.20 271.72) scale(1 1.120)">0.4</text><text x="0" y="0" font-size="10.50" text-anchor="end" transform="translate(442.20 289.41) scale(1 1.120)">0.2</text><text x="0" y="0" font-size="10.50" text-anchor="end" transform="translate(442.20 307.10) scale(1 1.120)">0</text><text x="0" y="0" font-size="10.50" text-anchor="end" transform="translate(442.20 324.79) scale(1 1.120)">−0.2</text><text x="0" y="0" font-size="10.50" text-anchor="end" transform="translate(442.20 342.48) scale(1 1.120)">−0.4</text><text x="0" y="0" font-size="10.50" text-anchor="middle" transform="translate(447.20 354.60) scale(1 1.120)">00</text><text x="0" y="0" font-size="10.50" text-anchor="middle" transform="translate(467.96 354.60) scale(1 1.120)">05</text><text x="0" y="0" font-size="10.50" text-anchor="middle" transform="translate(488.72 354.60) scale(1 1.120)">10</text><text x="0" y="0" font-size="10.50" text-anchor="middle" transform="translate(509.48 354.60) scale(1 1.120)">15</text><text x="0" y="0" font-size="10.50" text-anchor="middle" transform="translate(530.24 354.60) scale(1 1.120)">20</text><text x="0" y="0" font-size="11.00" text-anchor="middle" transform="translate(494.95 366.50) scale(1 1.140)">Local time</text><text x="0" y="0" font-size="11.00" text-anchor="middle" transform="translate(419.30 302.80) rotate(-90) scale(1 1.000)">VWS (m/s)</text><text x="0" y="0" font-size="11.00" text-anchor="middle" transform="translate(494.95 260.50) scale(1 1.080)">(c4) Aut. - UL</text><line x1="42.20" y1="426.20" x2="137.70" y2="426.20" stroke="#000" stroke-width="1.35" stroke-dasharray="4.2 1.6"/><polyline points="42.20,421.78 46.35,421.78 50.50,421.78 54.66,421.78 58.81,421.78 62.96,421.78 67.11,421.78 71.27,421.78 75.42,421.78 79.57,421.78 83.72,439.47 87.87,448.31 92.03,448.31 96.18,439.47 100.33,448.31 104.48,448.31 108.63,421.78 112.79,421.78 116.94,421.78 121.09,421.78 125.24,421.78 129.40,421.78 133.55,421.78 137.70,421.78" fill="none" stroke="#000" stroke-width="1.25" stroke-linejoin="miter"/><rect x="42.20" y="386.40" width="95.50" height="79.60" fill="none" stroke="#4a4f60" stroke-width="0.9"/><path d="M42.20 461.58h-2.6M42.20 443.89h-2.6M42.20 426.20h-2.6M42.20 408.51h-2.6M42.20 390.82h-2.6M42.20 466.00v2.6M62.96 466.00v2.6M83.72 466.00v2.6M104.48 466.00v2.6M125.24 466.00v2.6" stroke="#222" stroke-width="0.8"/><text x="0" y="0" font-size="10.50" text-anchor="end" transform="translate(37.20 395.12) scale(1 1.120)">0.4</text><text x="0" y="0" font-size="10.50" text-anchor="end" transform="translate(37.20 412.81) scale(1 1.120)">0.2</text><text x="0" y="0" font-size="10.50" text-anchor="end" transform="translate(37.20 430.50) scale(1 1.120)">0</text><text x="0" y="0" font-size="10.50" text-anchor="end" transform="translate(37.20 448.19) scale(1 1.120)">−0.2</text><text x="0" y="0" font-size="10.50" text-anchor="end" transform="translate(37.20 465.88) scale(1 1.120)">−0.4</text><text x="0" y="0" font-size="10.50" text-anchor="middle" transform="translate(42.20 478.00) scale(1 1.120)">00</text><text x="0" y="0" font-size="10.50" text-anchor="middle" transform="translate(62.96 478.00) scale(1 1.120)">05</text><text x="0" y="0" font-size="10.50" text-anchor="middle" transform="translate(83.72 478.00) scale(1 1.120)">10</text><text x="0" y="0" font-size="10.50" text-anchor="middle" transform="translate(104.48 478.00) scale(1 1.120)">15</text><text x="0" y="0" font-size="10.50" text-anchor="middle" transform="translate(125.24 478.00) scale(1 1.120)">20</text><text x="0" y="0" font-size="11.00" text-anchor="middle" transform="translate(89.95 489.90) scale(1 1.140)">Local time</text><text x="0" y="0" font-size="11.00" text-anchor="middle" transform="translate(14.30 426.20) rotate(-90) scale(1 1.000)">VWS (m/s)</text><text x="0" y="0" font-size="11.00" text-anchor="middle" transform="translate(89.95 383.90) scale(1 1.080)">(d1) Win. - NL</text><line x1="177.20" y1="426.20" x2="272.70" y2="426.20" stroke="#000" stroke-width="1.35" stroke-dasharray="4.2 1.6"/><polyline points="177.20,412.93 181.35,412.93 185.50,412.93 189.66,412.93 193.81,421.78 197.96,421.78 202.11,421.78 206.27,421.78 210.42,421.78 214.57,421.78 218.72,421.78 222.87,421.78 227.03,421.78 231.18,421.78 235.33,421.78 239.48,421.78 243.63,421.78 247.79,412.93 251.94,412.93 256.09,412.93 260.24,412.93 264.40,412.93 268.55,412.93 272.70,412.93" fill="none" stroke="#000" stroke-width="1.25" stroke-linejoin="miter"/><rect x="177.20" y="386.40" width="95.50" height="79.60" fill="none" stroke="#4a4f60" stroke-width="0.9"/><path d="M177.20 461.58h-2.6M177.20 443.89h-2.6M177.20 426.20h-2.6M177.20 408.51h-2.6M177.20 390.82h-2.6M177.20 466.00v2.6M197.96 466.00v2.6M218.72 466.00v2.6M239.48 466.00v2.6M260.24 466.00v2.6" stroke="#222" stroke-width="0.8"/><text x="0" y="0" font-size="10.50" text-anchor="end" transform="translate(172.20 395.12) scale(1 1.120)">0.4</text><text x="0" y="0" font-size="10.50" text-anchor="end" transform="translate(172.20 412.81) scale(1 1.120)">0.2</text><text x="0" y="0" font-size="10.50" text-anchor="end" transform="translate(172.20 430.50) scale(1 1.120)">0</text><text x="0" y="0" font-size="10.50" text-anchor="end" transform="translate(172.20 448.19) scale(1 1.120)">−0.2</text><text x="0" y="0" font-size="10.50" text-anchor="end" transform="translate(172.20 465.88) scale(1 1.120)">−0.4</text><text x="0" y="0" font-size="10.50" text-anchor="middle" transform="translate(177.20 478.00) scale(1 1.120)">00</text><text x="0" y="0" font-size="10.50" text-anchor="middle" transform="translate(197.96 478.00) scale(1 1.120)">05</text><text x="0" y="0" font-size="10.50" text-anchor="middle" transform="translate(218.72 478.00) scale(1 1.120)">10</text><text x="0" y="0" font-size="10.50" text-anchor="middle" transform="translate(239.48 478.00) scale(1 1.120)">15</text><text x="0" y="0" font-size="10.50" text-anchor="middle" transform="translate(260.24 478.00) scale(1 1.120)">20</text><text x="0" y="0" font-size="11.00" text-anchor="middle" transform="translate(224.95 489.90) scale(1 1.140)">Local time</text><text x="0" y="0" font-size="11.00" text-anchor="middle" transform="translate(149.30 426.20) rotate(-90) scale(1 1.000)">VWS (m/s)</text><text x="0" y="0" font-size="11.00" text-anchor="middle" transform="translate(224.95 383.90) scale(1 1.080)">(d2) Win. - LL</text><line x1="312.20" y1="426.20" x2="407.70" y2="426.20" stroke="#000" stroke-width="1.35" stroke-dasharray="4.2 1.6"/><polyline points="312.20,412.93 316.35,412.93 320.50,421.78 324.66,421.78 328.81,412.93 332.96,421.78 337.11,412.93 341.27,421.78 345.42,421.78 349.57,421.78 353.72,412.93 357.87,421.78 362.03,421.78 366.18,421.78 370.33,421.78 374.48,421.78 378.63,421.78 382.79,421.78 386.94,412.93 391.09,421.78 395.24,412.93 399.40,421.78 403.55,412.93 407.70,412.93" fill="none" stroke="#000" stroke-width="1.25" stroke-linejoin="miter"/><rect x="312.20" y="386.40" width="95.50" height="79.60" fill="none" stroke="#4a4f60" stroke-width="0.9"/><path d="M312.20 461.58h-2.6M312.20 443.89h-2.6M312.20 426.20h-2.6M312.20 408.51h-2.6M312.20 390.82h-2.6M312.20 466.00v2.6M332.96 466.00v2.6M353.72 466.00v2.6M374.48 466.00v2.6M395.24 466.00v2.6" stroke="#222" stroke-width="0.8"/><text x="0" y="0" font-size="10.50" text-anchor="end" transform="translate(307.20 395.12) scale(1 1.120)">0.4</text><text x="0" y="0" font-size="10.50" text-anchor="end" transform="translate(307.20 412.81) scale(1 1.120)">0.2</text><text x="0" y="0" font-size="10.50" text-anchor="end" transform="translate(307.20 430.50) scale(1 1.120)">0</text><text x="0" y="0" font-size="10.50" text-anchor="end" transform="translate(307.20 448.19) scale(1 1.120)">−0.2</text><text x="0" y="0" font-size="10.50" text-anchor="end" transform="translate(307.20 465.88) scale(1 1.120)">−0.4</text><text x="0" y="0" font-size="10.50" text-anchor="middle" transform="translate(312.20 478.00) scale(1 1.120)">00</text><text x="0" y="0" font-size="10.50" text-anchor="middle" transform="translate(332.96 478.00) scale(1 1.120)">05</text><text x="0" y="0" font-size="10.50" text-anchor="middle" transform="translate(353.72 478.00) scale(1 1.120)">10</text><text x="0" y="0" font-size="10.50" text-anchor="middle" transform="translate(374.48 478.00) scale(1 1.120)">15</text><text x="0" y="0" font-size="10.50" text-anchor="middle" transform="translate(395.24 478.00) scale(1 1.120)">20</text><text x="0" y="0" font-size="11.00" text-anchor="middle" transform="translate(359.95 489.90) scale(1 1.140)">Local time</text><text x="0" y="0" font-size="11.00" text-anchor="middle" transform="translate(284.30 426.20) rotate(-90) scale(1 1.000)">VWS (m/s)</text><text x="0" y="0" font-size="11.00" text-anchor="middle" transform="translate(359.95 383.90) scale(1 1.080)">(d3) Win. - ML</text><line x1="447.20" y1="426.20" x2="542.70" y2="426.20" stroke="#000" stroke-width="1.35" stroke-dasharray="4.2 1.6"/><polyline points="447.20,412.93 451.35,404.09 455.50,421.78 459.66,412.93 463.81,421.78 467.96,421.78 472.11,421.78 476.27,412.93 480.42,421.78 484.57,412.93 488.72,421.78 492.87,421.78 497.03,421.78 501.18,412.93 505.33,421.78 509.48,421.78 513.63,421.78 517.79,412.93 521.94,421.78 526.09,412.93 530.24,421.78 534.40,412.93 538.55,421.78 542.70,412.93" fill="none" stroke="#000" stroke-width="1.25" stroke-linejoin="miter"/><rect x="447.20" y="386.40" width="95.50" height="79.60" fill="none" stroke="#4a4f60" stroke-width="0.9"/><path d="M447.20 461.58h-2.6M447.20 443.89h-2.6M447.20 426.20h-2.6M447.20 408.51h-2.6M447.20 390.82h-2.6M447.20 466.00v2.6M467.96 466.00v2.6M488.72 466.00v2.6M509.48 466.00v2.6M530.24 466.00v2.6" stroke="#222" stroke-width="0.8"/><text x="0" y="0" font-size="10.50" text-anchor="end" transform="translate(442.20 395.12) scale(1 1.120)">0.4</text><text x="0" y="0" font-size="10.50" text-anchor="end" transform="translate(442.20 412.81) scale(1 1.120)">0.2</text><text x="0" y="0" font-size="10.50" text-anchor="end" transform="translate(442.20 430.50) scale(1 1.120)">0</text><text x="0" y="0" font-size="10.50" text-anchor="end" transform="translate(442.20 448.19) scale(1 1.120)">−0.2</text><text x="0" y="0" font-size="10.50" text-anchor="end" transform="translate(442.20 465.88) scale(1 1.120)">−0.4</text><text x="0" y="0" font-size="10.50" text-anchor="middle" transform="translate(447.20 478.00) scale(1 1.120)">00</text><text x="0" y="0" font-size="10.50" text-anchor="middle" transform="translate(467.96 478.00) scale(1 1.120)">05</text><text x="0" y="0" font-size="10.50" text-anchor="middle" transform="translate(488.72 478.00) scale(1 1.120)">10</text><text x="0" y="0" font-size="10.50" text-anchor="middle" transform="translate(509.48 478.00) scale(1 1.120)">15</text><text x="0" y="0" font-size="10.50" text-anchor="middle" transform="translate(530.24 478.00) scale(1 1.120)">20</text><text x="0" y="0" font-size="11.00" text-anchor="middle" transform="translate(494.95 489.90) scale(1 1.140)">Local time</text><text x="0" y="0" font-size="11.00" text-anchor="middle" transform="translate(419.30 426.20) rotate(-90) scale(1 1.000)">VWS (m/s)</text><text x="0" y="0" font-size="11.00" text-anchor="middle" transform="translate(494.95 383.90) scale(1 1.080)">(d4) Win. - UL</text><text x="0" y="0" font-size="10.50" text-anchor="middle" transform="translate(196.00 526.50) scale(1 1.120)">0</text><text x="0" y="0" font-size="10.50" text-anchor="middle" transform="translate(228.99 526.50) scale(1 1.120)">7</text><text x="0" y="0" font-size="10.50" text-anchor="middle" transform="translate(261.99 526.50) scale(1 1.120)">14</text><text x="0" y="0" font-size="10.50" text-anchor="middle" transform="translate(294.98 526.50) scale(1 1.120)">21</text><text x="0" y="0" font-size="10.50" text-anchor="middle" transform="translate(327.98 526.50) scale(1 1.120)">28</text><text x="0" y="0" font-size="10.50" text-anchor="middle" transform="translate(360.97 526.50) scale(1 1.120)">35</text><path d="M196.00 515.00v2.4M228.99 515.00v2.4M261.99 515.00v2.4M294.98 515.00v2.4M327.98 515.00v2.4M360.97 515.00v2.4" stroke="#222" stroke-width="0.8"/><rect x="196.00" y="505.40" width="174.40" height="9.60" fill="none" stroke="#4a4f60" stroke-width="0.9"/><text x="0" y="0" font-size="11.00" text-anchor="middle" transform="translate(283.20 538.70) scale(1 1.140)">Probability (%)</text></svg></body></html>
